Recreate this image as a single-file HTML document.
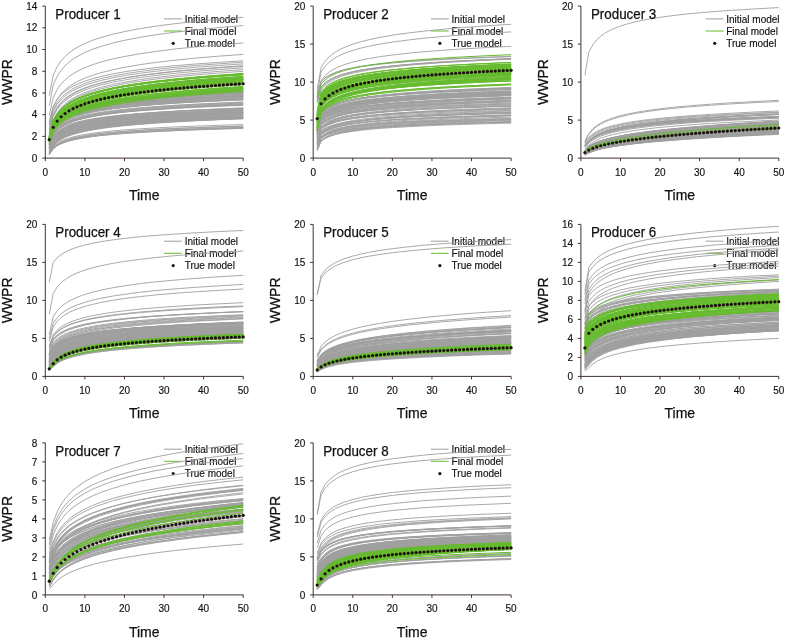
<!DOCTYPE html>
<html><head><meta charset="utf-8"><title>WWPR</title>
<style>html,body{margin:0;padding:0;background:#fff;overflow:hidden;}svg{display:block;}</style>
</head><body>
<svg width="785" height="641" viewBox="0 0 785 641">
<rect width="785" height="641" fill="#fff"/>
<g font-family="Liberation Sans, Arial, sans-serif" font-size="10" fill="#111" stroke="#111" stroke-width="0.15">
<text x="184.7" y="23.0">Initial model</text>
<text x="184.7" y="35.0">Final model</text>
<text x="184.7" y="47.0">True model</text>
</g>
<line x1="164.0" y1="18.9" x2="181.8" y2="18.9" stroke="#9f9f9f" stroke-width="1"/>
<line x1="164.0" y1="31.0" x2="181.8" y2="31.0" stroke="#66bb2e" stroke-width="1"/>
<circle cx="173.2" cy="43.3" r="1.6" fill="#1c1010"/>
<g fill="none" stroke="#9f9f9f" stroke-width="0.9">
<polyline points="49.3,154.2 53.2,148.3 57.2,145.3 61.1,143.3 65.1,141.7 69.0,140.5 73.0,139.5 77.0,138.6 84.9,137.2 92.8,136.0 100.7,135.1 112.6,133.9 124.5,133.0 140.3,131.9 156.1,131.0 175.9,130.1 195.7,129.3 219.5,128.6 243.2,127.9"/>
<polyline points="49.3,153.8 53.2,147.3 57.2,144.1 61.1,141.9 65.1,140.3 69.0,139.0 73.0,137.9 77.0,137.0 84.9,135.5 92.8,134.3 100.7,133.4 112.6,132.2 124.5,131.2 140.3,130.1 156.1,129.2 175.9,128.3 195.7,127.5 219.5,126.7 243.2,126.0"/>
<polyline points="49.3,154.7 53.2,148.7 57.2,145.7 61.1,143.6 65.1,142.1 69.0,140.8 73.0,139.8 77.0,138.9 84.9,137.5 92.8,136.3 100.7,135.4 112.6,134.2 124.5,133.2 140.3,132.2 156.1,131.3 175.9,130.3 195.7,129.6 219.5,128.8 243.2,128.1"/>
<polyline points="49.3,153.6 53.2,146.7 57.2,143.3 61.1,141.1 65.1,139.4 69.0,138.0 73.0,136.9 77.0,136.0 84.9,134.4 92.8,133.2 100.7,132.2 112.6,130.9 124.5,129.9 140.3,128.8 156.1,127.9 175.9,126.9 195.7,126.1 219.5,125.3 243.2,124.6"/>
<polyline points="49.3,154.0 53.2,147.8 57.2,144.9 61.1,142.8 65.1,141.3 69.0,140.1 73.0,139.0 77.0,138.2 84.9,136.7 92.8,135.6 100.7,134.6 112.6,133.5 124.5,132.5 140.3,131.4 156.1,130.6 175.9,129.6 195.7,128.9 219.5,128.1 243.2,127.4"/>
<polyline points="49.3,154.5 53.2,148.7 57.2,145.7 61.1,143.7 65.1,142.2 69.0,141.0 73.0,140.0 77.0,139.1 84.9,137.7 92.8,136.5 100.7,135.6 112.6,134.5 124.5,133.5 140.3,132.5 156.1,131.6 175.9,130.7 195.7,129.9 219.5,129.1 243.2,128.4"/>
<polyline points="49.3,154.3 53.2,148.7 57.2,145.6 61.1,143.4 65.1,141.8 69.0,140.6 73.0,139.5 77.0,138.6 84.9,137.1 92.8,135.9 100.7,134.9 112.6,133.7 124.5,132.7 140.3,131.6 156.1,130.7 175.9,129.8 195.7,129.0 219.5,128.1 243.2,127.4"/>
<polyline points="49.3,153.9 53.2,147.8 57.2,144.6 61.1,142.4 65.1,140.8 69.0,139.5 73.0,138.4 77.0,137.5 84.9,136.0 92.8,134.8 100.7,133.8 112.6,132.6 124.5,131.6 140.3,130.5 156.1,129.6 175.9,128.6 195.7,127.8 219.5,127.0 243.2,126.3"/>
<polyline points="49.3,148.1 53.2,140.4 57.2,136.5 61.1,133.8 65.1,131.8 69.0,130.1 73.0,128.8 77.0,127.6 84.9,125.7 92.8,124.2 100.7,122.9 112.6,121.3 124.5,120.0 140.3,118.6 156.1,117.4 175.9,116.1 195.7,115.0 219.5,113.9 243.2,113.0"/>
<polyline points="49.3,137.2 53.2,126.3 57.2,121.7 61.1,118.6 65.1,116.2 69.0,114.3 73.0,112.8 77.0,111.5 84.9,109.3 92.8,107.6 100.7,106.2 112.6,104.4 124.5,103.0 140.3,101.4 156.1,100.1 175.9,98.7 195.7,97.6 219.5,96.4 243.2,95.4"/>
<polyline points="49.3,132.9 53.2,122.4 57.2,117.6 61.1,114.4 65.1,112.0 69.0,110.1 73.0,108.5 77.0,107.1 84.9,105.0 92.8,103.2 100.7,101.8 112.6,100.0 124.5,98.6 140.3,97.0 156.1,95.7 175.9,94.3 195.7,93.2 219.5,92.0 243.2,91.0"/>
<polyline points="49.3,138.3 53.2,127.8 57.2,123.5 61.1,120.5 65.1,118.3 69.0,116.5 73.0,115.0 77.0,113.8 84.9,111.8 92.8,110.2 100.7,108.8 112.6,107.2 124.5,105.8 140.3,104.3 156.1,103.1 175.9,101.8 195.7,100.7 219.5,99.7 243.2,98.7"/>
<polyline points="49.3,136.7 53.2,126.5 57.2,121.8 61.1,118.6 65.1,116.2 69.0,114.4 73.0,112.8 77.0,111.5 84.9,109.3 92.8,107.6 100.7,106.2 112.6,104.5 124.5,103.0 140.3,101.5 156.1,100.2 175.9,98.9 195.7,97.7 219.5,96.6 243.2,95.6"/>
<polyline points="49.3,134.9 53.2,124.3 57.2,119.7 61.1,116.6 65.1,114.3 69.0,112.4 73.0,110.9 77.0,109.6 84.9,107.5 92.8,105.8 100.7,104.5 112.6,102.8 124.5,101.4 140.3,99.9 156.1,98.6 175.9,97.3 195.7,96.2 219.5,95.1 243.2,94.1"/>
<polyline points="49.3,152.4 53.2,144.6 57.2,140.8 61.1,138.2 65.1,136.3 69.0,134.7 73.0,133.4 77.0,132.3 84.9,130.4 92.8,129.0 100.7,127.7 112.6,126.2 124.5,125.0 140.3,123.6 156.1,122.4 175.9,121.2 195.7,120.2 219.5,119.2 243.2,118.2"/>
<polyline points="49.3,148.4 53.2,140.5 57.2,136.7 61.1,134.1 65.1,132.1 69.0,130.5 73.0,129.2 77.0,128.1 84.9,126.3 92.8,124.8 100.7,123.6 112.6,122.1 124.5,120.8 140.3,119.5 156.1,118.4 175.9,117.2 195.7,116.2 219.5,115.2 243.2,114.3"/>
<polyline points="49.3,145.6 53.2,136.9 57.2,132.7 61.1,129.8 65.1,127.7 69.0,126.0 73.0,124.5 77.0,123.3 84.9,121.4 92.8,119.8 100.7,118.5 112.6,116.9 124.5,115.5 140.3,114.1 156.1,112.9 175.9,111.6 195.7,110.6 219.5,109.5 243.2,108.6"/>
<polyline points="49.3,143.4 53.2,134.0 57.2,129.7 61.1,126.8 65.1,124.5 69.0,122.8 73.0,121.3 77.0,120.0 84.9,118.0 92.8,116.3 100.7,114.9 112.6,113.2 124.5,111.8 140.3,110.3 156.1,109.0 175.9,107.7 195.7,106.6 219.5,105.4 243.2,104.4"/>
<polyline points="49.3,149.7 53.2,142.3 57.2,138.8 61.1,136.4 65.1,134.5 69.0,133.1 73.0,131.9 77.0,130.8 84.9,129.1 92.8,127.8 100.7,126.7 112.6,125.3 124.5,124.1 140.3,122.9 156.1,121.8 175.9,120.7 195.7,119.8 219.5,118.8 243.2,118.0"/>
<polyline points="49.3,146.8 53.2,137.7 57.2,133.2 61.1,130.2 65.1,127.9 69.0,126.1 73.0,124.6 77.0,123.4 84.9,121.3 92.8,119.7 100.7,118.3 112.6,116.6 124.5,115.2 140.3,113.7 156.1,112.5 175.9,111.2 195.7,110.1 219.5,109.0 243.2,108.0"/>
<polyline points="49.3,138.4 53.2,127.6 57.2,123.0 61.1,120.0 65.1,117.7 69.0,115.8 73.0,114.3 77.0,113.0 84.9,110.9 92.8,109.2 100.7,107.9 112.6,106.1 124.5,104.7 140.3,103.2 156.1,101.9 175.9,100.6 195.7,99.4 219.5,98.3 243.2,97.3"/>
<polyline points="49.3,140.4 53.2,131.7 57.2,127.7 61.1,125.0 65.1,122.9 69.0,121.3 73.0,119.9 77.0,118.8 84.9,116.9 92.8,115.4 100.7,114.1 112.6,112.6 124.5,111.3 140.3,109.9 156.1,108.8 175.9,107.6 195.7,106.5 219.5,105.5 243.2,104.6"/>
<polyline points="49.3,146.8 53.2,138.2 57.2,134.4 61.1,131.8 65.1,129.8 69.0,128.2 73.0,126.9 77.0,125.7 84.9,123.9 92.8,122.4 100.7,121.2 112.6,119.6 124.5,118.4 140.3,117.0 156.1,115.8 175.9,114.6 195.7,113.5 219.5,112.5 243.2,111.6"/>
<polyline points="49.3,136.7 53.2,126.1 57.2,121.6 61.1,118.6 65.1,116.4 69.0,114.6 73.0,113.1 77.0,111.9 84.9,109.9 92.8,108.2 100.7,106.9 112.6,105.3 124.5,103.9 140.3,102.5 156.1,101.3 175.9,100.0 195.7,98.9 219.5,97.9 243.2,96.9"/>
<polyline points="49.3,137.9 53.2,127.2 57.2,122.5 61.1,119.4 65.1,117.0 69.0,115.1 73.0,113.6 77.0,112.2 84.9,110.1 92.8,108.3 100.7,106.9 112.6,105.2 124.5,103.7 140.3,102.2 156.1,100.9 175.9,99.5 195.7,98.4 219.5,97.2 243.2,96.2"/>
<polyline points="49.3,148.5 53.2,141.7 57.2,138.3 61.1,135.9 65.1,134.1 69.0,132.7 73.0,131.5 77.0,130.5 84.9,128.8 92.8,127.5 100.7,126.3 112.6,124.9 124.5,123.8 140.3,122.5 156.1,121.5 175.9,120.4 195.7,119.4 219.5,118.5 243.2,117.6"/>
<polyline points="49.3,143.2 53.2,134.2 57.2,129.8 61.1,126.9 65.1,124.7 69.0,122.9 73.0,121.5 77.0,120.2 84.9,118.2 92.8,116.5 100.7,115.2 112.6,113.5 124.5,112.1 140.3,110.6 156.1,109.4 175.9,108.1 195.7,107.0 219.5,105.8 243.2,104.9"/>
<polyline points="49.3,141.8 53.2,132.5 57.2,128.3 61.1,125.4 65.1,123.2 69.0,121.5 73.0,120.1 77.0,118.8 84.9,116.8 92.8,115.2 100.7,113.9 112.6,112.3 124.5,111.0 140.3,109.5 156.1,108.3 175.9,107.0 195.7,105.9 219.5,104.9 243.2,103.9"/>
<polyline points="49.3,152.6 53.2,145.5 57.2,141.6 61.1,138.9 65.1,136.9 69.0,135.3 73.0,133.9 77.0,132.8 84.9,130.9 92.8,129.4 100.7,128.1 112.6,126.6 124.5,125.3 140.3,123.9 156.1,122.7 175.9,121.5 195.7,120.4 219.5,119.4 243.2,118.4"/>
<polyline points="49.3,135.5 53.2,124.6 57.2,120.0 61.1,116.9 65.1,114.6 69.0,112.8 73.0,111.3 77.0,110.0 84.9,107.9 92.8,106.3 100.7,104.9 112.6,103.2 124.5,101.9 140.3,100.4 156.1,99.1 175.9,97.8 195.7,96.8 219.5,95.7 243.2,94.7"/>
<polyline points="49.3,145.4 53.2,137.5 57.2,133.9 61.1,131.4 65.1,129.5 69.0,127.9 73.0,126.7 77.0,125.6 84.9,123.8 92.8,122.4 100.7,121.2 112.6,119.7 124.5,118.5 140.3,117.1 156.1,116.0 175.9,114.8 195.7,113.9 219.5,112.8 243.2,112.0"/>
<polyline points="49.3,153.9 53.2,146.0 57.2,142.1 61.1,139.5 65.1,137.5 69.0,135.8 73.0,134.5 77.0,133.3 84.9,131.4 92.8,129.9 100.7,128.6 112.6,127.0 124.5,125.7 140.3,124.3 156.1,123.1 175.9,121.9 195.7,120.8 219.5,119.7 243.2,118.8"/>
<polyline points="49.3,149.0 53.2,141.9 57.2,138.2 61.1,135.7 65.1,133.8 69.0,132.3 73.0,131.0 77.0,129.9 84.9,128.1 92.8,126.7 100.7,125.4 112.6,124.0 124.5,122.7 140.3,121.4 156.1,120.2 175.9,119.0 195.7,118.0 219.5,117.0 243.2,116.1"/>
<polyline points="49.3,148.7 53.2,141.5 57.2,137.6 61.1,135.0 65.1,133.0 69.0,131.4 73.0,130.0 77.0,128.9 84.9,127.0 92.8,125.5 100.7,124.3 112.6,122.8 124.5,121.5 140.3,120.1 156.1,118.9 175.9,117.7 195.7,116.7 219.5,115.6 243.2,114.7"/>
<polyline points="49.3,139.9 53.2,129.9 57.2,125.3 61.1,122.1 65.1,119.8 69.0,117.9 73.0,116.3 77.0,115.0 84.9,112.8 92.8,111.1 100.7,109.7 112.6,108.0 124.5,106.5 140.3,104.9 156.1,103.7 175.9,102.3 195.7,101.2 219.5,100.0 243.2,99.0"/>
<polyline points="49.3,151.8 53.2,144.6 57.2,140.9 61.1,138.4 65.1,136.5 69.0,134.9 73.0,133.6 77.0,132.5 84.9,130.7 92.8,129.2 100.7,128.0 112.6,126.5 124.5,125.3 140.3,123.9 156.1,122.7 175.9,121.5 195.7,120.5 219.5,119.5 243.2,118.6"/>
<polyline points="49.3,147.5 53.2,140.5 57.2,137.0 61.1,134.7 65.1,132.8 69.0,131.4 73.0,130.2 77.0,129.1 84.9,127.4 92.8,126.1 100.7,124.9 112.6,123.5 124.5,122.4 140.3,121.1 156.1,120.0 175.9,118.9 195.7,117.9 219.5,117.0 243.2,116.1"/>
<polyline points="49.3,139.6 53.2,131.0 57.2,126.8 61.1,123.9 65.1,121.7 69.0,119.9 73.0,118.5 77.0,117.2 84.9,115.2 92.8,113.6 100.7,112.3 112.6,110.6 124.5,109.2 140.3,107.7 156.1,106.5 175.9,105.2 195.7,104.1 219.5,103.0 243.2,102.0"/>
<polyline points="49.3,147.9 53.2,140.9 57.2,137.1 61.1,134.5 65.1,132.6 69.0,131.0 73.0,129.8 77.0,128.6 84.9,126.8 92.8,125.4 100.7,124.2 112.6,122.7 124.5,121.5 140.3,120.2 156.1,119.1 175.9,117.9 195.7,116.9 219.5,115.9 243.2,115.1"/>
<polyline points="49.3,139.9 53.2,130.4 57.2,125.7 61.1,122.6 65.1,120.2 69.0,118.4 73.0,116.8 77.0,115.5 84.9,113.4 92.8,111.7 100.7,110.3 112.6,108.6 124.5,107.2 140.3,105.7 156.1,104.4 175.9,103.1 195.7,102.0 219.5,100.9 243.2,99.9"/>
<polyline points="49.3,138.1 53.2,127.9 57.2,123.1 61.1,119.9 65.1,117.5 69.0,115.6 73.0,114.0 77.0,112.7 84.9,110.5 92.8,108.7 100.7,107.3 112.6,105.5 124.5,104.1 140.3,102.5 156.1,101.2 175.9,99.8 195.7,98.7 219.5,97.5 243.2,96.5"/>
<polyline points="49.3,144.5 53.2,136.1 57.2,132.0 61.1,129.1 65.1,127.0 69.0,125.3 73.0,123.9 77.0,122.7 84.9,120.7 92.8,119.2 100.7,117.9 112.6,116.3 124.5,114.9 140.3,113.5 156.1,112.3 175.9,111.1 195.7,110.0 219.5,108.9 243.2,108.0"/>
<polyline points="49.3,151.7 53.2,143.7 57.2,139.9 61.1,137.2 65.1,135.3 69.0,133.7 73.0,132.4 77.0,131.3 84.9,129.5 92.8,128.0 100.7,126.8 112.6,125.3 124.5,124.1 140.3,122.7 156.1,121.6 175.9,120.4 195.7,119.4 219.5,118.4 243.2,117.6"/>
<polyline points="49.3,144.4 53.2,136.8 57.2,132.9 61.1,130.2 65.1,128.2 69.0,126.6 73.0,125.3 77.0,124.2 84.9,122.3 92.8,120.9 100.7,119.7 112.6,118.2 124.5,117.0 140.3,115.6 156.1,114.5 175.9,113.3 195.7,112.4 219.5,111.4 243.2,110.5"/>
<polyline points="49.3,139.6 53.2,129.5 57.2,124.8 61.1,121.7 65.1,119.3 69.0,117.4 73.0,115.8 77.0,114.5 84.9,112.3 92.8,110.6 100.7,109.1 112.6,107.3 124.5,105.8 140.3,104.2 156.1,102.9 175.9,101.5 195.7,100.3 219.5,99.1 243.2,98.1"/>
<polyline points="49.3,139.4 53.2,127.3 57.2,122.2 61.1,118.7 65.1,116.2 69.0,114.1 73.0,112.5 77.0,111.0 84.9,108.7 92.8,106.9 100.7,105.4 112.6,103.6 124.5,102.1 140.3,100.4 156.1,99.1 175.9,97.6 195.7,96.5 219.5,95.3 243.2,94.2"/>
<polyline points="49.3,143.8 53.2,133.4 57.2,128.8 61.1,125.7 65.1,123.3 69.0,121.5 73.0,119.9 77.0,118.6 84.9,116.5 92.8,114.8 100.7,113.4 112.6,111.7 124.5,110.3 140.3,108.8 156.1,107.5 175.9,106.2 195.7,105.1 219.5,104.0 243.2,103.0"/>
<polyline points="49.3,139.7 53.2,129.8 57.2,125.2 61.1,122.1 65.1,119.8 69.0,117.9 73.0,116.4 77.0,115.1 84.9,112.9 92.8,111.3 100.7,109.8 112.6,108.1 124.5,106.7 140.3,105.1 156.1,103.8 175.9,102.5 195.7,101.4 219.5,100.2 243.2,99.2"/>
<polyline points="49.3,147.1 53.2,139.6 57.2,135.8 61.1,133.2 65.1,131.3 69.0,129.7 73.0,128.4 77.0,127.3 84.9,125.5 92.8,124.0 100.7,122.8 112.6,121.3 124.5,120.0 140.3,118.7 156.1,117.5 175.9,116.3 195.7,115.3 219.5,114.3 243.2,113.4"/>
<polyline points="49.3,148.9 53.2,141.9 57.2,138.2 61.1,135.6 65.1,133.7 69.0,132.2 73.0,130.9 77.0,129.8 84.9,128.0 92.8,126.6 100.7,125.4 112.6,123.9 124.5,122.7 140.3,121.4 156.1,120.3 175.9,119.1 195.7,118.1 219.5,117.1 243.2,116.3"/>
<polyline points="49.3,144.0 53.2,135.7 57.2,132.0 61.1,129.5 65.1,127.5 69.0,126.0 73.0,124.7 77.0,123.6 84.9,121.8 92.8,120.4 100.7,119.2 112.6,117.7 124.5,116.5 140.3,115.2 156.1,114.0 175.9,112.9 195.7,111.9 219.5,110.9 243.2,110.0"/>
<polyline points="49.3,149.1 53.2,140.5 57.2,136.6 61.1,133.8 65.1,131.8 69.0,130.2 73.0,128.8 77.0,127.7 84.9,125.8 92.8,124.3 100.7,123.0 112.6,121.5 124.5,120.2 140.3,118.8 156.1,117.7 175.9,116.5 195.7,115.5 219.5,114.4 243.2,113.5"/>
<polyline points="49.3,147.5 53.2,138.4 57.2,134.2 61.1,131.2 65.1,129.0 69.0,127.3 73.0,125.8 77.0,124.6 84.9,122.6 92.8,121.0 100.7,119.7 112.6,118.0 124.5,116.7 140.3,115.2 156.1,114.0 175.9,112.7 195.7,111.6 219.5,110.5 243.2,109.6"/>
<polyline points="49.3,136.8 53.2,124.8 57.2,119.9 61.1,116.5 65.1,114.1 69.0,112.1 73.0,110.5 77.0,109.1 84.9,106.9 92.8,105.1 100.7,103.6 112.6,101.8 124.5,100.4 140.3,98.8 156.1,97.4 175.9,96.1 195.7,94.9 219.5,93.7 243.2,92.7"/>
<polyline points="49.3,140.7 53.2,132.6 57.2,128.5 61.1,125.8 65.1,123.7 69.0,122.1 73.0,120.7 77.0,119.5 84.9,117.6 92.8,116.1 100.7,114.9 112.6,113.3 124.5,112.1 140.3,110.7 156.1,109.6 175.9,108.4 195.7,107.4 219.5,106.3 243.2,105.4"/>
<polyline points="49.3,151.9 53.2,143.8 57.2,139.9 61.1,137.3 65.1,135.3 69.0,133.7 73.0,132.3 77.0,131.2 84.9,129.3 92.8,127.8 100.7,126.5 112.6,125.0 124.5,123.7 140.3,122.3 156.1,121.1 175.9,119.9 195.7,118.8 219.5,117.7 243.2,116.8"/>
<polyline points="49.3,138.3 53.2,127.6 57.2,123.1 61.1,120.1 65.1,117.8 69.0,115.9 73.0,114.4 77.0,113.2 84.9,111.1 92.8,109.4 100.7,108.0 112.6,106.3 124.5,104.9 140.3,103.4 156.1,102.2 175.9,100.8 195.7,99.7 219.5,98.6 243.2,97.6"/>
<polyline points="49.3,147.0 53.2,137.9 57.2,133.7 61.1,130.8 65.1,128.7 69.0,127.0 73.0,125.6 77.0,124.4 84.9,122.4 92.8,120.8 100.7,119.5 112.6,117.9 124.5,116.6 140.3,115.1 156.1,113.9 175.9,112.6 195.7,111.6 219.5,110.5 243.2,109.6"/>
<polyline points="49.3,133.4 53.2,123.1 57.2,118.4 61.1,115.2 65.1,112.8 69.0,110.9 73.0,109.3 77.0,108.0 84.9,105.8 92.8,104.1 100.7,102.7 112.6,100.9 124.5,99.5 140.3,98.0 156.1,96.7 175.9,95.3 195.7,94.2 219.5,93.1 243.2,92.1"/>
<polyline points="49.3,152.3 53.2,144.9 57.2,140.7 61.1,137.8 65.1,135.6 69.0,133.9 73.0,132.5 77.0,131.3 84.9,129.3 92.8,127.7 100.7,126.4 112.6,124.7 124.5,123.4 140.3,121.9 156.1,120.7 175.9,119.4 195.7,118.3 219.5,117.2 243.2,116.3"/>
<polyline points="49.3,136.5 53.2,126.7 57.2,122.1 61.1,119.1 65.1,116.8 69.0,115.0 73.0,113.5 77.0,112.2 84.9,110.1 92.8,108.4 100.7,107.1 112.6,105.4 124.5,104.0 140.3,102.5 156.1,101.3 175.9,100.0 195.7,98.9 219.5,97.8 243.2,96.8"/>
<polyline points="49.3,139.1 53.2,128.4 57.2,123.7 61.1,120.5 65.1,118.1 69.0,116.2 73.0,114.6 77.0,113.3 84.9,111.1 92.8,109.4 100.7,107.9 112.6,106.1 124.5,104.7 140.3,103.1 156.1,101.8 175.9,100.4 195.7,99.2 219.5,98.0 243.2,97.0"/>
<polyline points="49.3,151.5 53.2,143.4 57.2,139.6 61.1,137.0 65.1,135.0 69.0,133.4 73.0,132.1 77.0,130.9 84.9,129.1 92.8,127.6 100.7,126.4 112.6,124.8 124.5,123.6 140.3,122.2 156.1,121.1 175.9,119.9 195.7,118.8 219.5,117.8 243.2,116.9"/>
<polyline points="49.3,136.3 53.2,125.3 57.2,120.3 61.1,117.0 65.1,114.5 69.0,112.5 73.0,110.8 77.0,109.4 84.9,107.2 92.8,105.4 100.7,103.9 112.6,102.1 124.5,100.6 140.3,99.0 156.1,97.7 175.9,96.3 195.7,95.1 219.5,93.9 243.2,92.9"/>
<polyline points="49.3,140.4 53.2,128.7 57.2,123.8 61.1,120.5 65.1,118.0 69.0,116.0 73.0,114.3 77.0,112.9 84.9,110.6 92.8,108.7 100.7,107.2 112.6,105.3 124.5,103.8 140.3,102.1 156.1,100.7 175.9,99.3 195.7,98.0 219.5,96.8 243.2,95.7"/>
<polyline points="49.3,147.5 53.2,140.9 57.2,137.4 61.1,134.9 65.1,133.1 69.0,131.6 73.0,130.3 77.0,129.3 84.9,127.5 92.8,126.1 100.7,125.0 112.6,123.5 124.5,122.3 140.3,121.0 156.1,119.9 175.9,118.8 195.7,117.8 219.5,116.8 243.2,116.0"/>
<polyline points="49.3,135.5 53.2,124.3 57.2,119.3 61.1,115.9 65.1,113.4 69.0,111.4 73.0,109.7 77.0,108.3 84.9,106.0 92.8,104.1 100.7,102.6 112.6,100.7 124.5,99.2 140.3,97.5 156.1,96.1 175.9,94.7 195.7,93.4 219.5,92.2 243.2,91.1"/>
<polyline points="49.3,146.1 53.2,138.9 57.2,134.9 61.1,132.3 65.1,130.3 69.0,128.6 73.0,127.3 77.0,126.2 84.9,124.3 92.8,122.9 100.7,121.6 112.6,120.1 124.5,118.9 140.3,117.5 156.1,116.4 175.9,115.2 195.7,114.2 219.5,113.2 243.2,112.4"/>
<polyline points="49.3,142.6 53.2,134.2 57.2,130.4 61.1,127.8 65.1,125.9 69.0,124.4 73.0,123.1 77.0,122.0 84.9,120.2 92.8,118.8 100.7,117.6 112.6,116.1 124.5,114.9 140.3,113.6 156.1,112.5 175.9,111.3 195.7,110.3 219.5,109.3 243.2,108.5"/>
<polyline points="49.3,147.4 53.2,139.8 57.2,135.7 61.1,132.9 65.1,130.8 69.0,129.2 73.0,127.8 77.0,126.6 84.9,124.6 92.8,123.1 100.7,121.8 112.6,120.2 124.5,118.9 140.3,117.5 156.1,116.3 175.9,115.1 195.7,114.0 219.5,112.9 243.2,112.0"/>
<polyline points="49.3,153.6 53.2,145.3 57.2,141.4 61.1,138.8 65.1,136.7 69.0,135.1 73.0,133.8 77.0,132.6 84.9,130.7 92.8,129.2 100.7,127.9 112.6,126.3 124.5,125.1 140.3,123.6 156.1,122.4 175.9,121.2 195.7,120.1 219.5,119.0 243.2,118.1"/>
<polyline points="49.3,141.8 53.2,132.4 57.2,128.0 61.1,125.0 65.1,122.7 69.0,120.9 73.0,119.4 77.0,118.1 84.9,116.0 92.8,114.3 100.7,112.9 112.6,111.2 124.5,109.8 140.3,108.2 156.1,106.9 175.9,105.6 195.7,104.4 219.5,103.3 243.2,102.3"/>
<polyline points="49.3,133.7 53.2,122.5 57.2,118.2 61.1,115.2 65.1,113.0 69.0,111.2 73.0,109.7 77.0,108.4 84.9,106.4 92.8,104.8 100.7,103.4 112.6,101.8 124.5,100.4 140.3,98.9 156.1,97.7 175.9,96.4 195.7,95.3 219.5,94.2 243.2,93.2"/>
<polyline points="49.3,147.3 53.2,139.0 57.2,135.2 61.1,132.7 65.1,130.7 69.0,129.1 73.0,127.9 77.0,126.8 84.9,124.9 92.8,123.5 100.7,122.3 112.6,120.8 124.5,119.6 140.3,118.3 156.1,117.1 175.9,116.0 195.7,115.0 219.5,114.0 243.2,113.1"/>
<polyline points="49.3,139.1 53.2,129.6 57.2,125.1 61.1,122.1 65.1,119.8 69.0,117.9 73.0,116.4 77.0,115.2 84.9,113.1 92.8,111.4 100.7,110.0 112.6,108.3 124.5,106.9 140.3,105.4 156.1,104.2 175.9,102.9 195.7,101.7 219.5,100.6 243.2,99.7"/>
<polyline points="49.3,147.8 53.2,139.7 57.2,135.5 61.1,132.6 65.1,130.4 69.0,128.6 73.0,127.2 77.0,125.9 84.9,123.9 92.8,122.2 100.7,120.9 112.6,119.2 124.5,117.8 140.3,116.3 156.1,115.1 175.9,113.7 195.7,112.6 219.5,111.5 243.2,110.5"/>
<polyline points="49.3,135.4 53.2,123.6 57.2,118.6 61.1,115.3 65.1,112.8 69.0,110.8 73.0,109.1 77.0,107.8 84.9,105.5 92.8,103.7 100.7,102.2 112.6,100.4 124.5,98.9 140.3,97.3 156.1,96.0 175.9,94.6 195.7,93.5 219.5,92.3 243.2,91.3"/>
<polyline points="49.3,136.4 53.2,125.2 57.2,120.3 61.1,116.9 65.1,114.4 69.0,112.4 73.0,110.8 77.0,109.4 84.9,107.1 92.8,105.2 100.7,103.7 112.6,101.9 124.5,100.4 140.3,98.7 156.1,97.4 175.9,95.9 195.7,94.7 219.5,93.5 243.2,92.5"/>
<polyline points="49.3,144.3 53.2,136.0 57.2,132.2 61.1,129.7 65.1,127.8 69.0,126.2 73.0,124.9 77.0,123.8 84.9,122.0 92.8,120.6 100.7,119.4 112.6,117.9 124.5,116.7 140.3,115.4 156.1,114.2 175.9,113.1 195.7,112.1 219.5,111.1 243.2,110.2"/>
<polyline points="49.3,145.7 53.2,137.3 57.2,133.2 61.1,130.4 65.1,128.4 69.0,126.7 73.0,125.3 77.0,124.1 84.9,122.2 92.8,120.7 100.7,119.4 112.6,117.8 124.5,116.5 140.3,115.1 156.1,114.0 175.9,112.7 195.7,111.7 219.5,110.6 243.2,109.7"/>
<polyline points="49.3,150.1 53.2,141.8 57.2,137.6 61.1,134.7 65.1,132.5 69.0,130.7 73.0,129.2 77.0,128.0 84.9,125.9 92.8,124.3 100.7,122.9 112.6,121.2 124.5,119.8 140.3,118.2 156.1,116.9 175.9,115.6 195.7,114.4 219.5,113.3 243.2,112.3"/>
<polyline points="49.3,144.7 53.2,135.3 57.2,130.5 61.1,127.3 65.1,124.9 69.0,123.0 73.0,121.4 77.0,120.0 84.9,117.8 92.8,116.0 100.7,114.6 112.6,112.8 124.5,111.3 140.3,109.7 156.1,108.4 175.9,107.0 195.7,105.8 219.5,104.6 243.2,103.6"/>
<polyline points="49.3,145.0 53.2,137.2 57.2,133.3 61.1,130.7 65.1,128.7 69.0,127.1 73.0,125.8 77.0,124.6 84.9,122.8 92.8,121.3 100.7,120.1 112.6,118.6 124.5,117.4 140.3,116.1 156.1,115.0 175.9,113.8 195.7,112.8 219.5,111.8 243.2,111.0"/>
<polyline points="49.3,148.9 53.2,141.0 57.2,137.3 61.1,134.7 65.1,132.8 69.0,131.2 73.0,129.9 77.0,128.8 84.9,127.0 92.8,125.5 100.7,124.3 112.6,122.8 124.5,121.5 140.3,120.2 156.1,119.0 175.9,117.8 195.7,116.8 219.5,115.7 243.2,114.8"/>
<polyline points="49.3,137.5 53.2,125.3 57.2,120.1 61.1,116.7 65.1,114.1 69.0,112.1 73.0,110.4 77.0,109.0 84.9,106.7 92.8,104.8 100.7,103.3 112.6,101.5 124.5,100.0 140.3,98.4 156.1,97.0 175.9,95.6 195.7,94.4 219.5,93.2 243.2,92.2"/>
<polyline points="49.3,138.8 53.2,128.4 57.2,123.5 61.1,120.1 65.1,117.6 69.0,115.6 73.0,114.0 77.0,112.6 84.9,110.3 92.8,108.5 100.7,107.1 112.6,105.2 124.5,103.7 140.3,102.1 156.1,100.7 175.9,99.3 195.7,98.1 219.5,96.9 243.2,95.9"/>
<polyline points="49.3,137.3 53.2,125.3 57.2,120.4 61.1,117.2 65.1,114.7 69.0,112.7 73.0,111.1 77.0,109.8 84.9,107.5 92.8,105.7 100.7,104.2 112.6,102.4 124.5,100.9 140.3,99.3 156.1,97.9 175.9,96.5 195.7,95.3 219.5,94.1 243.2,93.1"/>
<polyline points="49.3,138.9 53.2,127.4 57.2,122.1 61.1,118.6 65.1,115.9 69.0,113.8 73.0,112.1 77.0,110.6 84.9,108.3 92.8,106.4 100.7,104.8 112.6,102.9 124.5,101.4 140.3,99.7 156.1,98.3 175.9,96.8 195.7,95.6 219.5,94.4 243.2,93.3"/>
<polyline points="49.3,135.8 53.2,125.4 57.2,120.9 61.1,117.9 65.1,115.7 69.0,113.9 73.0,112.5 77.0,111.2 84.9,109.2 92.8,107.6 100.7,106.3 112.6,104.6 124.5,103.3 140.3,101.9 156.1,100.7 175.9,99.4 195.7,98.4 219.5,97.3 243.2,96.4"/>
<polyline points="49.3,141.8 53.2,131.4 57.2,126.7 61.1,123.5 65.1,121.1 69.0,119.2 73.0,117.6 77.0,116.2 84.9,114.0 92.8,112.2 100.7,110.8 112.6,108.9 124.5,107.5 140.3,105.8 156.1,104.5 175.9,103.1 195.7,101.9 219.5,100.7 243.2,99.6"/>
<polyline points="49.3,125.6 53.2,111.3 57.2,104.3 61.1,99.5 65.1,95.9 69.0,93.0 73.0,90.6 77.0,88.6 84.9,85.3 92.8,82.7 100.7,80.5 112.6,77.8 124.5,75.6 140.3,73.2 156.1,71.2 175.9,69.1 195.7,67.3 219.5,65.5 243.2,63.9"/>
<polyline points="49.3,121.5 53.2,106.5 57.2,99.5 61.1,94.8 65.1,91.3 69.0,88.5 73.0,86.2 77.0,84.3 84.9,81.1 92.8,78.6 100.7,76.5 112.6,73.9 124.5,71.8 140.3,69.5 156.1,67.6 175.9,65.6 195.7,64.0 219.5,62.3 243.2,60.8"/>
<polyline points="49.3,124.7 53.2,109.7 57.2,102.5 61.1,97.7 65.1,94.1 69.0,91.2 73.0,88.8 77.0,86.8 84.9,83.4 92.8,80.8 100.7,78.6 112.6,76.0 124.5,73.8 140.3,71.4 156.1,69.4 175.9,67.3 195.7,65.5 219.5,63.8 243.2,62.2"/>
<polyline points="49.3,134.9 53.2,120.2 57.2,112.8 61.1,107.7 65.1,103.8 69.0,100.8 73.0,98.3 77.0,96.1 84.9,92.6 92.8,89.8 100.7,87.4 112.6,84.5 124.5,82.2 140.3,79.6 156.1,77.4 175.9,75.2 195.7,73.3 219.5,71.3 243.2,69.7"/>
<polyline points="49.3,130.4 53.2,115.6 57.2,108.2 61.1,103.2 65.1,99.4 69.0,96.4 73.0,93.9 77.0,91.7 84.9,88.3 92.8,85.5 100.7,83.2 112.6,80.4 124.5,78.0 140.3,75.5 156.1,73.4 175.9,71.2 195.7,69.3 219.5,67.4 243.2,65.7"/>
<polyline points="49.3,135.6 53.2,121.2 57.2,113.9 61.1,108.9 65.1,105.1 69.0,102.1 73.0,99.6 77.0,97.5 84.9,94.0 92.8,91.2 100.7,88.9 112.6,86.1 124.5,83.7 140.3,81.2 156.1,79.0 175.9,76.8 195.7,74.9 219.5,73.0 243.2,71.3"/>
<polyline points="49.3,130.2 53.2,116.5 57.2,109.3 61.1,104.5 65.1,100.8 69.0,97.9 73.0,95.4 77.0,93.4 84.9,90.0 92.8,87.3 100.7,85.0 112.6,82.2 124.5,80.0 140.3,77.5 156.1,75.4 175.9,73.2 195.7,71.4 219.5,69.5 243.2,67.9"/>
<polyline points="49.3,128.9 53.2,114.2 57.2,107.1 61.1,102.2 65.1,98.6 69.0,95.7 73.0,93.2 77.0,91.2 84.9,87.9 92.8,85.2 100.7,83.0 112.6,80.3 124.5,78.0 140.3,75.6 156.1,73.6 175.9,71.4 195.7,69.7 219.5,67.8 243.2,66.3"/>
<polyline points="49.3,95.6 53.2,75.2 57.2,66.6 61.1,60.8 65.1,56.4 69.0,52.9 73.0,50.0 77.0,47.5 84.9,43.5 92.8,40.2 100.7,37.6 112.6,34.3 124.5,31.6 140.3,28.6 156.1,26.1 175.9,23.6 195.7,21.4 219.5,19.2 243.2,17.3"/>
<polyline points="49.3,106.0 53.2,85.1 57.2,76.3 61.1,70.3 65.1,65.8 69.0,62.2 73.0,59.2 77.0,56.7 84.9,52.5 92.8,49.2 100.7,46.5 112.6,43.1 124.5,40.3 140.3,37.3 156.1,34.7 175.9,32.1 195.7,29.9 219.5,27.6 243.2,25.6"/>
<polyline points="49.3,115.8 53.2,97.6 57.2,89.5 61.1,84.0 65.1,79.8 69.0,76.5 73.0,73.8 77.0,71.5 84.9,67.7 92.8,64.6 100.7,62.1 112.6,59.0 124.5,56.5 140.3,53.7 156.1,51.4 175.9,48.9 195.7,46.9 219.5,44.8 243.2,43.0"/>
<polyline points="49.3,123.4 53.2,106.8 57.2,99.0 61.1,93.8 65.1,89.8 69.0,86.6 73.0,84.0 77.0,81.7 84.9,78.1 92.8,75.2 100.7,72.8 112.6,69.8 124.5,67.3 140.3,64.6 156.1,62.4 175.9,60.1 195.7,58.1 219.5,56.1 243.2,54.4"/>
</g>
<g fill="none" stroke="#66bb2e" stroke-width="1.0">
<polyline points="49.3,137.9 53.2,123.8 57.2,117.6 61.1,113.4 65.1,110.1 69.0,107.5 73.0,105.3 77.0,103.4 84.9,100.3 92.8,97.8 100.7,95.7 112.6,93.1 124.5,90.9 140.3,88.5 156.1,86.4 175.9,84.3 195.7,82.5 219.5,80.6 243.2,79.0"/>
<polyline points="49.3,140.4 53.2,126.7 57.2,120.7 61.1,116.6 65.1,113.4 69.0,110.9 73.0,108.7 77.0,106.9 84.9,103.8 92.8,101.4 100.7,99.3 112.6,96.7 124.5,94.6 140.3,92.2 156.1,90.2 175.9,88.1 195.7,86.3 219.5,84.4 243.2,82.8"/>
<polyline points="49.3,136.1 53.2,121.0 57.2,114.6 61.1,110.1 65.1,106.7 69.0,104.0 73.0,101.7 77.0,99.8 84.9,96.5 92.8,94.0 100.7,91.8 112.6,89.1 124.5,86.9 140.3,84.5 156.1,82.4 175.9,80.3 195.7,78.5 219.5,76.6 243.2,75.0"/>
<polyline points="49.3,143.5 53.2,131.4 57.2,126.0 61.1,122.2 65.1,119.3 69.0,116.9 73.0,114.9 77.0,113.2 84.9,110.4 92.8,108.1 100.7,106.2 112.6,103.8 124.5,101.8 140.3,99.5 156.1,97.6 175.9,95.6 195.7,93.9 219.5,92.2 243.2,90.7"/>
<polyline points="49.3,141.3 53.2,128.8 57.2,123.5 61.1,119.9 65.1,117.0 69.0,114.7 73.0,112.8 77.0,111.1 84.9,108.3 92.8,106.1 100.7,104.2 112.6,101.8 124.5,99.8 140.3,97.5 156.1,95.7 175.9,93.7 195.7,91.9 219.5,90.2 243.2,88.6"/>
<polyline points="49.3,137.6 53.2,123.4 57.2,117.2 61.1,113.0 65.1,109.7 69.0,107.1 73.0,104.9 77.0,103.0 84.9,99.9 92.8,97.4 100.7,95.3 112.6,92.7 124.5,90.6 140.3,88.2 156.1,86.2 175.9,84.1 195.7,82.3 219.5,80.5 243.2,78.9"/>
<polyline points="49.3,137.9 53.2,122.9 57.2,116.6 61.1,112.2 65.1,108.9 69.0,106.3 73.0,104.1 77.0,102.2 84.9,99.1 92.8,96.5 100.7,94.4 112.6,91.8 124.5,89.7 140.3,87.3 156.1,85.3 175.9,83.3 195.7,81.5 219.5,79.7 243.2,78.1"/>
<polyline points="49.3,136.5 53.2,121.1 57.2,114.6 61.1,110.1 65.1,106.7 69.0,103.9 73.0,101.6 77.0,99.6 84.9,96.3 92.8,93.7 100.7,91.4 112.6,88.7 124.5,86.4 140.3,83.9 156.1,81.8 175.9,79.6 195.7,77.7 219.5,75.7 243.2,74.0"/>
<polyline points="49.3,141.3 53.2,128.6 57.2,123.3 61.1,119.6 65.1,116.7 69.0,114.4 73.0,112.4 77.0,110.7 84.9,107.8 92.8,105.5 100.7,103.6 112.6,101.1 124.5,99.0 140.3,96.7 156.1,94.8 175.9,92.8 195.7,91.0 219.5,89.2 243.2,87.6"/>
<polyline points="49.3,138.0 53.2,123.7 57.2,117.6 61.1,113.4 65.1,110.1 69.0,107.5 73.0,105.3 77.0,103.4 84.9,100.3 92.8,97.8 100.7,95.7 112.6,93.1 124.5,90.9 140.3,88.5 156.1,86.5 175.9,84.4 195.7,82.6 219.5,80.7 243.2,79.1"/>
<polyline points="49.3,141.3 53.2,129.5 57.2,124.0 61.1,120.1 65.1,117.2 69.0,114.8 73.0,112.8 77.0,111.0 84.9,108.2 92.8,105.9 100.7,104.0 112.6,101.5 124.5,99.5 140.3,97.3 156.1,95.4 175.9,93.5 195.7,91.8 219.5,90.0 243.2,88.5"/>
<polyline points="49.3,137.4 53.2,122.6 57.2,116.1 61.1,111.7 65.1,108.3 69.0,105.5 73.0,103.3 77.0,101.3 84.9,98.1 92.8,95.6 100.7,93.4 112.6,90.8 124.5,88.6 140.3,86.2 156.1,84.2 175.9,82.0 195.7,80.2 219.5,78.4 243.2,76.8"/>
<polyline points="49.3,137.4 53.2,121.2 57.2,114.5 61.1,109.9 65.1,106.4 69.0,103.6 73.0,101.2 77.0,99.2 84.9,95.9 92.8,93.3 100.7,91.1 112.6,88.3 124.5,86.1 140.3,83.6 156.1,81.6 175.9,79.4 195.7,77.6 219.5,75.7 243.2,74.0"/>
<polyline points="49.3,138.2 53.2,123.9 57.2,117.7 61.1,113.4 65.1,110.1 69.0,107.5 73.0,105.3 77.0,103.4 84.9,100.3 92.8,97.9 100.7,95.8 112.6,93.2 124.5,91.1 140.3,88.7 156.1,86.7 175.9,84.6 195.7,82.9 219.5,81.1 243.2,79.5"/>
<polyline points="49.3,136.8 53.2,120.7 57.2,114.1 61.1,109.6 65.1,106.2 69.0,103.4 73.0,101.1 77.0,99.1 84.9,95.8 92.8,93.2 100.7,91.0 112.6,88.3 124.5,86.0 140.3,83.5 156.1,81.5 175.9,79.3 195.7,77.4 219.5,75.5 243.2,73.8"/>
<polyline points="49.3,142.2 53.2,130.1 57.2,124.5 61.1,120.6 65.1,117.6 69.0,115.2 73.0,113.2 77.0,111.4 84.9,108.5 92.8,106.2 100.7,104.2 112.6,101.8 124.5,99.7 140.3,97.5 156.1,95.6 175.9,93.6 195.7,91.8 219.5,90.1 243.2,88.5"/>
<polyline points="49.3,137.5 53.2,121.5 57.2,114.8 61.1,110.3 65.1,106.8 69.0,104.0 73.0,101.7 77.0,99.6 84.9,96.3 92.8,93.7 100.7,91.5 112.6,88.7 124.5,86.4 140.3,83.9 156.1,81.8 175.9,79.6 195.7,77.7 219.5,75.7 243.2,74.0"/>
<polyline points="49.3,142.6 53.2,130.5 57.2,125.1 61.1,121.2 65.1,118.3 69.0,115.9 73.0,113.9 77.0,112.2 84.9,109.3 92.8,107.0 100.7,105.1 112.6,102.6 124.5,100.6 140.3,98.3 156.1,96.4 175.9,94.4 195.7,92.7 219.5,90.9 243.2,89.4"/>
<polyline points="49.3,143.5 53.2,131.7 57.2,126.6 61.1,123.0 65.1,120.2 69.0,118.0 73.0,116.0 77.0,114.4 84.9,111.6 92.8,109.3 100.7,107.4 112.6,104.9 124.5,102.9 140.3,100.6 156.1,98.7 175.9,96.7 195.7,94.9 219.5,93.1 243.2,91.5"/>
<polyline points="49.3,138.6 53.2,124.1 57.2,118.2 61.1,114.0 65.1,110.9 69.0,108.3 73.0,106.2 77.0,104.3 84.9,101.3 92.8,98.8 100.7,96.7 112.6,94.1 124.5,92.0 140.3,89.6 156.1,87.5 175.9,85.4 195.7,83.6 219.5,81.7 243.2,80.1"/>
<polyline points="49.3,141.0 53.2,128.3 57.2,122.7 61.1,118.8 65.1,115.8 69.0,113.4 73.0,111.3 77.0,109.6 84.9,106.7 92.8,104.3 100.7,102.3 112.6,99.8 124.5,97.7 140.3,95.4 156.1,93.5 175.9,91.5 195.7,89.7 219.5,87.9 243.2,86.4"/>
<polyline points="49.3,140.9 53.2,128.0 57.2,122.5 61.1,118.6 65.1,115.7 69.0,113.3 73.0,111.3 77.0,109.6 84.9,106.7 92.8,104.4 100.7,102.5 112.6,100.0 124.5,98.0 140.3,95.8 156.1,93.9 175.9,91.9 195.7,90.2 219.5,88.5 243.2,87.0"/>
<polyline points="49.3,136.5 53.2,120.7 57.2,114.0 61.1,109.4 65.1,105.9 69.0,103.1 73.0,100.8 77.0,98.8 84.9,95.5 92.8,92.9 100.7,90.7 112.6,88.0 124.5,85.8 140.3,83.3 156.1,81.2 175.9,79.1 195.7,77.3 219.5,75.4 243.2,73.8"/>
<polyline points="49.3,137.7 53.2,123.0 57.2,116.8 61.1,112.5 65.1,109.2 69.0,106.5 73.0,104.3 77.0,102.4 84.9,99.2 92.8,96.7 100.7,94.5 112.6,91.8 124.5,89.6 140.3,87.2 156.1,85.1 175.9,82.9 195.7,81.1 219.5,79.2 243.2,77.5"/>
<polyline points="49.3,141.5 53.2,129.9 57.2,124.5 61.1,120.8 65.1,117.9 69.0,115.6 73.0,113.6 77.0,111.9 84.9,109.1 92.8,106.9 100.7,104.9 112.6,102.6 124.5,100.6 140.3,98.3 156.1,96.5 175.9,94.5 195.7,92.8 219.5,91.1 243.2,89.6"/>
<polyline points="49.3,138.3 53.2,124.4 57.2,118.5 61.1,114.3 65.1,111.2 69.0,108.7 73.0,106.6 77.0,104.8 84.9,101.8 92.8,99.4 100.7,97.4 112.6,94.9 124.5,92.8 140.3,90.5 156.1,88.6 175.9,86.6 195.7,84.9 219.5,83.1 243.2,81.6"/>
<polyline points="49.3,142.0 53.2,129.7 57.2,124.4 61.1,120.7 65.1,117.9 69.0,115.5 73.0,113.6 77.0,111.9 84.9,109.0 92.8,106.7 100.7,104.8 112.6,102.4 124.5,100.4 140.3,98.1 156.1,96.2 175.9,94.2 195.7,92.4 219.5,90.6 243.2,89.1"/>
<polyline points="49.3,139.9 53.2,126.1 57.2,120.3 61.1,116.3 65.1,113.2 69.0,110.7 73.0,108.6 77.0,106.7 84.9,103.7 92.8,101.2 100.7,99.2 112.6,96.6 124.5,94.4 140.3,92.0 156.1,89.9 175.9,87.8 195.7,85.9 219.5,84.0 243.2,82.4"/>
<polyline points="49.3,140.1 53.2,126.8 57.2,121.0 61.1,117.0 65.1,113.8 69.0,111.3 73.0,109.2 77.0,107.4 84.9,104.4 92.8,102.0 100.7,99.9 112.6,97.3 124.5,95.2 140.3,92.8 156.1,90.8 175.9,88.7 195.7,86.9 219.5,85.1 243.2,83.5"/>
<polyline points="49.3,137.4 53.2,122.6 57.2,116.3 61.1,111.9 65.1,108.6 69.0,105.9 73.0,103.7 77.0,101.7 84.9,98.6 92.8,96.0 100.7,93.9 112.6,91.3 124.5,89.1 140.3,86.7 156.1,84.7 175.9,82.5 195.7,80.7 219.5,78.9 243.2,77.3"/>
<polyline points="49.3,141.1 53.2,128.2 57.2,122.4 61.1,118.4 65.1,115.3 69.0,112.8 73.0,110.7 77.0,108.8 84.9,105.8 92.8,103.4 100.7,101.3 112.6,98.7 124.5,96.6 140.3,94.2 156.1,92.1 175.9,90.0 195.7,88.2 219.5,86.3 243.2,84.7"/>
<polyline points="49.3,138.2 53.2,123.9 57.2,118.0 61.1,113.9 65.1,110.8 69.0,108.3 73.0,106.1 77.0,104.3 84.9,101.3 92.8,98.9 100.7,96.8 112.6,94.3 124.5,92.2 140.3,89.8 156.1,87.9 175.9,85.8 195.7,84.0 219.5,82.2 243.2,80.6"/>
<polyline points="49.3,136.6 53.2,120.4 57.2,113.8 61.1,109.3 65.1,105.9 69.0,103.1 73.0,100.8 77.0,98.8 84.9,95.5 92.8,92.9 100.7,90.7 112.6,88.0 124.5,85.7 140.3,83.2 156.1,81.2 175.9,79.0 195.7,77.1 219.5,75.2 243.2,73.5"/>
<polyline points="49.3,137.0 53.2,122.7 57.2,116.6 61.1,112.4 65.1,109.2 69.0,106.6 73.0,104.4 77.0,102.5 84.9,99.4 92.8,96.9 100.7,94.8 112.6,92.1 124.5,89.9 140.3,87.5 156.1,85.5 175.9,83.3 195.7,81.5 219.5,79.6 243.2,78.0"/>
<polyline points="49.3,138.8 53.2,124.7 57.2,118.8 61.1,114.7 65.1,111.5 69.0,108.9 73.0,106.8 77.0,104.9 84.9,101.8 92.8,99.3 100.7,97.2 112.6,94.5 124.5,92.4 140.3,89.9 156.1,87.9 175.9,85.7 195.7,83.8 219.5,81.9 243.2,80.2"/>
<polyline points="49.3,140.5 53.2,127.3 57.2,121.5 61.1,117.4 65.1,114.3 69.0,111.8 73.0,109.7 77.0,107.9 84.9,104.9 92.8,102.5 100.7,100.4 112.6,97.9 124.5,95.8 140.3,93.5 156.1,91.6 175.9,89.5 195.7,87.8 219.5,86.0 243.2,84.4"/>
<polyline points="49.3,138.6 53.2,124.3 57.2,118.3 61.1,114.1 65.1,111.0 69.0,108.4 73.0,106.3 77.0,104.5 84.9,101.4 92.8,99.0 100.7,97.0 112.6,94.4 124.5,92.3 140.3,90.0 156.1,88.0 175.9,86.0 195.7,84.2 219.5,82.4 243.2,80.9"/>
<polyline points="49.3,139.2 53.2,125.5 57.2,119.6 61.1,115.6 65.1,112.5 69.0,109.9 73.0,107.8 77.0,106.0 84.9,103.0 92.8,100.6 100.7,98.6 112.6,96.1 124.5,94.0 140.3,91.7 156.1,89.7 175.9,87.7 195.7,85.9 219.5,84.1 243.2,82.6"/>
<polyline points="49.3,139.0 53.2,124.5 57.2,118.4 61.1,114.2 65.1,111.0 69.0,108.3 73.0,106.2 77.0,104.3 84.9,101.2 92.8,98.7 100.7,96.6 112.6,94.0 124.5,91.8 140.3,89.4 156.1,87.4 175.9,85.3 195.7,83.5 219.5,81.7 243.2,80.1"/>
<polyline points="49.3,136.2 53.2,120.4 57.2,113.9 61.1,109.4 65.1,106.0 69.0,103.2 73.0,101.0 77.0,99.0 84.9,95.8 92.8,93.2 100.7,91.1 112.6,88.4 124.5,86.2 140.3,83.8 156.1,81.8 175.9,79.7 195.7,77.9 219.5,76.0 243.2,74.5"/>
<polyline points="49.3,137.4 53.2,122.5 57.2,116.2 61.1,111.9 65.1,108.5 69.0,105.9 73.0,103.6 77.0,101.7 84.9,98.5 92.8,95.9 100.7,93.7 112.6,91.1 124.5,88.8 140.3,86.4 156.1,84.3 175.9,82.1 195.7,80.2 219.5,78.3 243.2,76.7"/>
<polyline points="49.3,137.5 53.2,123.0 57.2,117.0 61.1,112.9 65.1,109.7 69.0,107.1 73.0,104.9 77.0,103.0 84.9,100.0 92.8,97.5 100.7,95.4 112.6,92.7 124.5,90.6 140.3,88.2 156.1,86.1 175.9,84.0 195.7,82.2 219.5,80.3 243.2,78.6"/>
<polyline points="49.3,137.5 53.2,122.4 57.2,116.1 61.1,111.8 65.1,108.5 69.0,105.8 73.0,103.5 77.0,101.6 84.9,98.4 92.8,95.8 100.7,93.6 112.6,90.9 124.5,88.7 140.3,86.2 156.1,84.1 175.9,81.9 195.7,80.0 219.5,78.0 243.2,76.4"/>
<polyline points="49.3,139.0 53.2,125.5 57.2,119.7 61.1,115.6 65.1,112.5 69.0,110.0 73.0,107.9 77.0,106.1 84.9,103.1 92.8,100.6 100.7,98.6 112.6,96.0 124.5,93.9 140.3,91.6 156.1,89.6 175.9,87.5 195.7,85.7 219.5,83.8 243.2,82.2"/>
<polyline points="49.3,139.7 53.2,125.0 57.2,118.6 61.1,114.2 65.1,110.9 69.0,108.2 73.0,106.0 77.0,104.0 84.9,100.9 92.8,98.3 100.7,96.2 112.6,93.6 124.5,91.4 140.3,89.0 156.1,86.9 175.9,84.8 195.7,83.0 219.5,81.2 243.2,79.6"/>
<polyline points="49.3,138.6 53.2,123.8 57.2,117.7 61.1,113.4 65.1,110.1 69.0,107.4 73.0,105.2 77.0,103.3 84.9,100.2 92.8,97.7 100.7,95.6 112.6,93.0 124.5,90.8 140.3,88.4 156.1,86.4 175.9,84.2 195.7,82.4 219.5,80.6 243.2,79.0"/>
<polyline points="49.3,142.2 53.2,129.2 57.2,123.8 61.1,120.0 65.1,117.0 69.0,114.7 73.0,112.7 77.0,110.9 84.9,108.1 92.8,105.7 100.7,103.7 112.6,101.3 124.5,99.2 140.3,96.9 156.1,95.0 175.9,92.9 195.7,91.1 219.5,89.3 243.2,87.7"/>
<polyline points="49.3,141.7 53.2,129.8 57.2,124.7 61.1,121.1 65.1,118.3 69.0,116.0 73.0,114.1 77.0,112.5 84.9,109.7 92.8,107.5 100.7,105.6 112.6,103.2 124.5,101.2 140.3,99.0 156.1,97.1 175.9,95.2 195.7,93.5 219.5,91.7 243.2,90.2"/>
<polyline points="49.3,139.1 53.2,125.7 57.2,119.8 61.1,115.7 65.1,112.5 69.0,110.0 73.0,107.8 77.0,106.0 84.9,103.0 92.8,100.5 100.7,98.5 112.6,95.9 124.5,93.8 140.3,91.4 156.1,89.5 175.9,87.4 195.7,85.6 219.5,83.8 243.2,82.2"/>
<polyline points="49.3,137.6 53.2,123.3 57.2,117.1 61.1,112.8 65.1,109.6 69.0,106.9 73.0,104.7 77.0,102.8 84.9,99.7 92.8,97.2 100.7,95.1 112.6,92.5 124.5,90.3 140.3,87.9 156.1,85.9 175.9,83.8 195.7,82.0 219.5,80.1 243.2,78.5"/>
</g>
<g fill="#1c1010">
<circle cx="49.26" cy="139.53" r="1.6"/>
<circle cx="53.22" cy="127.37" r="1.6"/>
<circle cx="57.17" cy="121.07" r="1.6"/>
<circle cx="61.13" cy="116.75" r="1.6"/>
<circle cx="65.09" cy="113.49" r="1.6"/>
<circle cx="69.05" cy="110.87" r="1.6"/>
<circle cx="73.01" cy="108.70" r="1.6"/>
<circle cx="76.96" cy="106.84" r="1.6"/>
<circle cx="80.92" cy="105.23" r="1.6"/>
<circle cx="84.88" cy="103.80" r="1.6"/>
<circle cx="88.84" cy="102.52" r="1.6"/>
<circle cx="92.80" cy="101.36" r="1.6"/>
<circle cx="96.75" cy="100.30" r="1.6"/>
<circle cx="100.71" cy="99.33" r="1.6"/>
<circle cx="104.67" cy="98.43" r="1.6"/>
<circle cx="108.63" cy="97.60" r="1.6"/>
<circle cx="112.59" cy="96.82" r="1.6"/>
<circle cx="116.54" cy="96.09" r="1.6"/>
<circle cx="120.50" cy="95.40" r="1.6"/>
<circle cx="124.46" cy="94.76" r="1.6"/>
<circle cx="128.42" cy="94.14" r="1.6"/>
<circle cx="132.38" cy="93.56" r="1.6"/>
<circle cx="136.33" cy="93.01" r="1.6"/>
<circle cx="140.29" cy="92.48" r="1.6"/>
<circle cx="144.25" cy="91.98" r="1.6"/>
<circle cx="148.21" cy="91.49" r="1.6"/>
<circle cx="152.17" cy="91.03" r="1.6"/>
<circle cx="156.12" cy="90.59" r="1.6"/>
<circle cx="160.08" cy="90.16" r="1.6"/>
<circle cx="164.04" cy="89.75" r="1.6"/>
<circle cx="168.00" cy="89.36" r="1.6"/>
<circle cx="171.96" cy="88.97" r="1.6"/>
<circle cx="175.91" cy="88.60" r="1.6"/>
<circle cx="179.87" cy="88.25" r="1.6"/>
<circle cx="183.83" cy="87.90" r="1.6"/>
<circle cx="187.79" cy="87.57" r="1.6"/>
<circle cx="191.75" cy="87.24" r="1.6"/>
<circle cx="195.70" cy="86.93" r="1.6"/>
<circle cx="199.66" cy="86.62" r="1.6"/>
<circle cx="203.62" cy="86.32" r="1.6"/>
<circle cx="207.58" cy="86.03" r="1.6"/>
<circle cx="211.54" cy="85.75" r="1.6"/>
<circle cx="215.49" cy="85.48" r="1.6"/>
<circle cx="219.45" cy="85.21" r="1.6"/>
<circle cx="223.41" cy="84.95" r="1.6"/>
<circle cx="227.37" cy="84.69" r="1.6"/>
<circle cx="231.33" cy="84.44" r="1.6"/>
<circle cx="235.28" cy="84.20" r="1.6"/>
<circle cx="239.24" cy="83.96" r="1.6"/>
<circle cx="243.20" cy="83.73" r="1.6"/>
</g>
<g stroke="#403232" stroke-width="1" fill="none">
<line x1="45.3" y1="6.10" x2="45.3" y2="161.10"/>
<line x1="42.30" y1="158.1" x2="243.20" y2="158.1"/>
<line x1="42.30" y1="136.39" x2="45.3" y2="136.39"/>
<line x1="42.30" y1="114.67" x2="45.3" y2="114.67"/>
<line x1="42.30" y1="92.96" x2="45.3" y2="92.96"/>
<line x1="42.30" y1="71.24" x2="45.3" y2="71.24"/>
<line x1="42.30" y1="49.53" x2="45.3" y2="49.53"/>
<line x1="42.30" y1="27.81" x2="45.3" y2="27.81"/>
<line x1="42.30" y1="6.10" x2="45.3" y2="6.10"/>
<line x1="84.88" y1="158.1" x2="84.88" y2="161.10"/>
<line x1="124.46" y1="158.1" x2="124.46" y2="161.10"/>
<line x1="164.04" y1="158.1" x2="164.04" y2="161.10"/>
<line x1="203.62" y1="158.1" x2="203.62" y2="161.10"/>
<line x1="243.20" y1="158.1" x2="243.20" y2="161.10"/>
</g>
<g font-family="Liberation Sans, Arial, sans-serif" font-size="10" fill="#111" stroke="#111" stroke-width="0.15">
<text x="37.40" y="161.70" text-anchor="end">0</text>
<text x="37.40" y="139.99" text-anchor="end">2</text>
<text x="37.40" y="118.27" text-anchor="end">4</text>
<text x="37.40" y="96.56" text-anchor="end">6</text>
<text x="37.40" y="74.84" text-anchor="end">8</text>
<text x="37.40" y="53.13" text-anchor="end">10</text>
<text x="37.40" y="31.41" text-anchor="end">12</text>
<text x="37.40" y="9.70" text-anchor="end">14</text>
<text x="45.30" y="175.90" text-anchor="middle">0</text>
<text x="84.88" y="175.90" text-anchor="middle">10</text>
<text x="124.46" y="175.90" text-anchor="middle">20</text>
<text x="164.04" y="175.90" text-anchor="middle">30</text>
<text x="203.62" y="175.90" text-anchor="middle">40</text>
<text x="243.20" y="175.90" text-anchor="middle">50</text>
</g>
<g font-family="Liberation Sans, Arial, sans-serif" font-size="14" fill="#111" stroke="#111" stroke-width="0.25">
<text x="55.30" y="19.00" textLength="65.4" lengthAdjust="spacingAndGlyphs">Producer 1</text>
<text x="144.25" y="199.50" text-anchor="middle">Time</text>
<text transform="translate(12.00,82.10) rotate(-90)" text-anchor="middle">WWPR</text>
</g>
<g font-family="Liberation Sans, Arial, sans-serif" font-size="10" fill="#111" stroke="#111" stroke-width="0.15">
<text x="451.6" y="23.0">Initial model</text>
<text x="451.6" y="35.0">Final model</text>
<text x="451.6" y="47.0">True model</text>
</g>
<line x1="431.0" y1="18.9" x2="448.7" y2="18.9" stroke="#9f9f9f" stroke-width="1"/>
<line x1="431.0" y1="31.0" x2="448.7" y2="31.0" stroke="#66bb2e" stroke-width="1"/>
<circle cx="439.9" cy="43.3" r="1.6" fill="#1c1010"/>
<g fill="none" stroke="#9f9f9f" stroke-width="0.9">
<polyline points="317.2,143.3 321.1,134.4 325.1,131.7 329.0,129.8 333.0,128.4 336.9,127.3 340.9,126.3 344.9,125.5 352.8,124.2 360.7,123.1 368.6,122.2 380.5,121.1 392.4,120.2 408.2,119.3 424.0,118.4 443.8,117.6 463.6,116.8 487.4,116.1 511.1,115.4"/>
<polyline points="317.2,131.0 321.1,117.5 325.1,113.8 329.0,111.2 333.0,109.3 336.9,107.8 340.9,106.5 344.9,105.5 352.8,103.7 360.7,102.3 368.6,101.1 380.5,99.7 392.4,98.5 408.2,97.2 424.0,96.2 443.8,95.0 463.6,94.1 487.4,93.1 511.1,92.3"/>
<polyline points="317.2,130.7 321.1,119.8 325.1,116.6 329.0,114.5 333.0,112.8 336.9,111.5 340.9,110.4 344.9,109.5 352.8,108.0 360.7,106.8 368.6,105.8 380.5,104.5 392.4,103.5 408.2,102.4 424.0,101.5 443.8,100.5 463.6,99.7 487.4,98.8 511.1,98.1"/>
<polyline points="317.2,136.5 321.1,124.3 325.1,121.0 329.0,118.7 333.0,116.9 336.9,115.5 340.9,114.4 344.9,113.4 352.8,111.8 360.7,110.5 368.6,109.4 380.5,108.1 392.4,107.0 408.2,105.8 424.0,104.8 443.8,103.8 463.6,102.9 487.4,102.0 511.1,101.2"/>
<polyline points="317.2,133.8 321.1,120.0 325.1,116.4 329.0,114.0 333.0,112.1 336.9,110.6 340.9,109.4 344.9,108.3 352.8,106.6 360.7,105.2 368.6,104.1 380.5,102.7 392.4,101.5 408.2,100.2 424.0,99.1 443.8,98.0 463.6,97.1 487.4,96.1 511.1,95.2"/>
<polyline points="317.2,127.8 321.1,113.0 325.1,109.4 329.0,106.9 333.0,105.0 336.9,103.6 340.9,102.3 344.9,101.3 352.8,99.6 360.7,98.2 368.6,97.1 380.5,95.7 392.4,94.5 408.2,93.2 424.0,92.2 443.8,91.1 463.6,90.2 487.4,89.2 511.1,88.4"/>
<polyline points="317.2,137.2 321.1,125.0 325.1,121.6 329.0,119.3 333.0,117.6 336.9,116.2 340.9,115.1 344.9,114.1 352.8,112.5 360.7,111.2 368.6,110.1 380.5,108.8 392.4,107.7 408.2,106.5 424.0,105.4 443.8,104.4 463.6,103.5 487.4,102.6 511.1,101.8"/>
<polyline points="317.2,144.2 321.1,136.1 325.1,133.7 329.0,132.0 333.0,130.7 336.9,129.6 340.9,128.8 344.9,128.0 352.8,126.8 360.7,125.9 368.6,125.1 380.5,124.1 392.4,123.3 408.2,122.3 424.0,121.6 443.8,120.8 463.6,120.1 487.4,119.5 511.1,118.9"/>
<polyline points="317.2,141.9 321.1,133.0 325.1,130.4 329.0,128.7 333.0,127.3 336.9,126.3 340.9,125.4 344.9,124.6 352.8,123.4 360.7,122.4 368.6,121.6 380.5,120.5 392.4,119.7 408.2,118.7 424.0,118.0 443.8,117.1 463.6,116.5 487.4,115.7 511.1,115.1"/>
<polyline points="317.2,147.2 321.1,138.5 325.1,135.9 329.0,134.1 333.0,132.7 336.9,131.6 340.9,130.7 344.9,129.9 352.8,128.6 360.7,127.6 368.6,126.7 380.5,125.7 392.4,124.8 408.2,123.8 424.0,123.0 443.8,122.1 463.6,121.4 487.4,120.7 511.1,120.0"/>
<polyline points="317.2,148.0 321.1,137.8 325.1,134.8 329.0,132.8 333.0,131.2 336.9,130.0 340.9,129.0 344.9,128.1 352.8,126.6 360.7,125.5 368.6,124.5 380.5,123.3 392.4,122.3 408.2,121.3 424.0,120.4 443.8,119.4 463.6,118.6 487.4,117.8 511.1,117.1"/>
<polyline points="317.2,147.5 321.1,137.0 325.1,134.0 329.0,131.9 333.0,130.3 336.9,129.1 340.9,128.0 344.9,127.1 352.8,125.7 360.7,124.5 368.6,123.5 380.5,122.3 392.4,121.3 408.2,120.2 424.0,119.3 443.8,118.4 463.6,117.5 487.4,116.7 511.1,116.0"/>
<polyline points="317.2,126.8 321.1,113.2 325.1,109.6 329.0,107.1 333.0,105.3 336.9,103.8 340.9,102.6 344.9,101.5 352.8,99.8 360.7,98.4 368.6,97.3 380.5,95.9 392.4,94.8 408.2,93.5 424.0,92.5 443.8,91.4 463.6,90.5 487.4,89.5 511.1,88.7"/>
<polyline points="317.2,144.8 321.1,137.0 325.1,134.5 329.0,132.8 333.0,131.5 336.9,130.5 340.9,129.6 344.9,128.9 352.8,127.7 360.7,126.7 368.6,125.9 380.5,124.9 392.4,124.1 408.2,123.1 424.0,122.4 443.8,121.6 463.6,120.9 487.4,120.2 511.1,119.6"/>
<polyline points="317.2,138.8 321.1,128.0 325.1,124.8 329.0,122.6 333.0,121.0 336.9,119.6 340.9,118.5 344.9,117.6 352.8,116.1 360.7,114.8 368.6,113.8 380.5,112.5 392.4,111.5 408.2,110.3 424.0,109.3 443.8,108.3 463.6,107.5 487.4,106.6 511.1,105.8"/>
<polyline points="317.2,131.0 321.1,117.8 325.1,114.3 329.0,112.0 333.0,110.2 336.9,108.8 340.9,107.6 344.9,106.6 352.8,104.9 360.7,103.6 368.6,102.5 380.5,101.1 392.4,100.0 408.2,98.7 424.0,97.7 443.8,96.6 463.6,95.7 487.4,94.8 511.1,94.0"/>
<polyline points="317.2,134.3 321.1,121.4 325.1,118.0 329.0,115.6 333.0,113.8 336.9,112.4 340.9,111.2 344.9,110.2 352.8,108.6 360.7,107.2 368.6,106.2 380.5,104.8 392.4,103.7 408.2,102.5 424.0,101.5 443.8,100.4 463.6,99.5 487.4,98.6 511.1,97.8"/>
<polyline points="317.2,130.3 321.1,114.3 325.1,110.4 329.0,107.7 333.0,105.7 336.9,104.1 340.9,102.7 344.9,101.6 352.8,99.7 360.7,98.2 368.6,97.0 380.5,95.5 392.4,94.2 408.2,92.9 424.0,91.7 443.8,90.5 463.6,89.5 487.4,88.5 511.1,87.6"/>
<polyline points="317.2,142.6 321.1,132.5 325.1,129.6 329.0,127.5 333.0,126.0 336.9,124.8 340.9,123.8 344.9,122.9 352.8,121.5 360.7,120.4 368.6,119.5 380.5,118.3 392.4,117.3 408.2,116.3 424.0,115.4 443.8,114.5 463.6,113.7 487.4,112.9 511.1,112.2"/>
<polyline points="317.2,137.2 321.1,127.6 325.1,125.0 329.0,123.2 333.0,121.9 336.9,120.8 340.9,119.9 344.9,119.1 352.8,117.8 360.7,116.8 368.6,115.9 380.5,114.9 392.4,114.0 408.2,113.0 424.0,112.2 443.8,111.4 463.6,110.7 487.4,109.9 511.1,109.3"/>
<polyline points="317.2,132.3 321.1,117.7 325.1,113.7 329.0,111.0 333.0,109.0 336.9,107.3 340.9,106.0 344.9,104.8 352.8,102.9 360.7,101.4 368.6,100.2 380.5,98.6 392.4,97.3 408.2,95.9 424.0,94.8 443.8,93.5 463.6,92.5 487.4,91.5 511.1,90.6"/>
<polyline points="317.2,148.4 321.1,140.3 325.1,137.6 329.0,135.8 333.0,134.5 336.9,133.4 340.9,132.5 344.9,131.7 352.8,130.4 360.7,129.4 368.6,128.5 380.5,127.4 392.4,126.5 408.2,125.6 424.0,124.8 443.8,123.9 463.6,123.2 487.4,122.5 511.1,121.8"/>
<polyline points="317.2,127.3 321.1,115.7 325.1,112.5 329.0,110.2 333.0,108.6 336.9,107.2 340.9,106.1 344.9,105.1 352.8,103.6 360.7,102.3 368.6,101.3 380.5,100.0 392.4,98.9 408.2,97.8 424.0,96.8 443.8,95.8 463.6,94.9 487.4,94.0 511.1,93.3"/>
<polyline points="317.2,133.7 321.1,119.6 325.1,115.7 329.0,113.1 333.0,111.2 336.9,109.6 340.9,108.3 344.9,107.2 352.8,105.3 360.7,103.8 368.6,102.6 380.5,101.1 392.4,99.9 408.2,98.5 424.0,97.4 443.8,96.2 463.6,95.2 487.4,94.1 511.1,93.2"/>
<polyline points="317.2,150.3 321.1,140.6 325.1,137.8 329.0,135.8 333.0,134.3 336.9,133.1 340.9,132.1 344.9,131.2 352.8,129.8 360.7,128.7 368.6,127.8 380.5,126.6 392.4,125.7 408.2,124.6 424.0,123.8 443.8,122.8 463.6,122.1 487.4,121.3 511.1,120.6"/>
<polyline points="317.2,131.2 321.1,119.7 325.1,116.7 329.0,114.6 333.0,113.1 336.9,111.8 340.9,110.8 344.9,109.9 352.8,108.4 360.7,107.3 368.6,106.3 380.5,105.1 392.4,104.1 408.2,103.0 424.0,102.1 443.8,101.2 463.6,100.4 487.4,99.6 511.1,98.8"/>
<polyline points="317.2,131.5 321.1,120.7 325.1,117.9 329.0,115.9 333.0,114.4 336.9,113.2 340.9,112.3 344.9,111.4 352.8,110.0 360.7,108.9 368.6,108.0 380.5,106.8 392.4,105.9 408.2,104.9 424.0,104.0 443.8,103.1 463.6,102.3 487.4,101.6 511.1,100.9"/>
<polyline points="317.2,144.3 321.1,137.0 325.1,134.9 329.0,133.4 333.0,132.2 336.9,131.3 340.9,130.5 344.9,129.9 352.8,128.8 360.7,128.0 368.6,127.3 380.5,126.4 392.4,125.6 408.2,124.8 424.0,124.2 443.8,123.4 463.6,122.8 487.4,122.2 511.1,121.7"/>
<polyline points="317.2,135.0 321.1,123.6 325.1,120.4 329.0,118.3 333.0,116.7 336.9,115.4 340.9,114.3 344.9,113.4 352.8,111.9 360.7,110.6 368.6,109.6 380.5,108.4 392.4,107.3 408.2,106.2 424.0,105.3 443.8,104.3 463.6,103.4 487.4,102.6 511.1,101.8"/>
<polyline points="317.2,141.7 321.1,131.8 325.1,128.8 329.0,126.7 333.0,125.1 336.9,123.9 340.9,122.9 344.9,122.0 352.8,120.5 360.7,119.4 368.6,118.4 380.5,117.2 392.4,116.2 408.2,115.2 424.0,114.3 443.8,113.3 463.6,112.5 487.4,111.7 511.1,111.0"/>
<polyline points="317.2,138.3 321.1,128.0 325.1,125.2 329.0,123.3 333.0,121.8 336.9,120.6 340.9,119.6 344.9,118.8 352.8,117.4 360.7,116.3 368.6,115.4 380.5,114.3 392.4,113.4 408.2,112.4 424.0,111.5 443.8,110.6 463.6,109.9 487.4,109.1 511.1,108.4"/>
<polyline points="317.2,131.1 321.1,119.6 325.1,116.4 329.0,114.2 333.0,112.5 336.9,111.2 340.9,110.1 344.9,109.1 352.8,107.6 360.7,106.4 368.6,105.4 380.5,104.1 392.4,103.1 408.2,101.9 424.0,101.0 443.8,100.0 463.6,99.2 487.4,98.3 511.1,97.6"/>
<polyline points="317.2,142.4 321.1,134.4 325.1,132.1 329.0,130.5 333.0,129.3 336.9,128.4 340.9,127.6 344.9,126.9 352.8,125.8 360.7,124.9 368.6,124.1 380.5,123.2 392.4,122.4 408.2,121.6 424.0,120.9 443.8,120.2 463.6,119.6 487.4,118.9 511.1,118.4"/>
<polyline points="317.2,150.6 321.1,141.2 325.1,138.5 329.0,136.6 333.0,135.2 336.9,134.0 340.9,133.1 344.9,132.3 352.8,130.9 360.7,129.8 368.6,128.9 380.5,127.8 392.4,126.9 408.2,125.9 424.0,125.0 443.8,124.2 463.6,123.4 487.4,122.6 511.1,122.0"/>
<polyline points="317.2,137.1 321.1,128.6 325.1,126.0 329.0,124.2 333.0,122.8 336.9,121.7 340.9,120.8 344.9,120.0 352.8,118.8 360.7,117.8 368.6,116.9 380.5,115.9 392.4,115.0 408.2,114.1 424.0,113.3 443.8,112.4 463.6,111.7 487.4,111.0 511.1,110.4"/>
<polyline points="317.2,141.8 321.1,130.4 325.1,127.1 329.0,124.9 333.0,123.2 336.9,121.8 340.9,120.7 344.9,119.7 352.8,118.1 360.7,116.9 368.6,115.8 380.5,114.5 392.4,113.4 408.2,112.3 424.0,111.3 443.8,110.3 463.6,109.4 487.4,108.5 511.1,107.7"/>
<polyline points="317.2,132.9 321.1,118.1 325.1,114.3 329.0,111.7 333.0,109.7 336.9,108.1 340.9,106.8 344.9,105.7 352.8,103.8 360.7,102.3 368.6,101.1 380.5,99.6 392.4,98.4 408.2,97.0 424.0,95.8 443.8,94.6 463.6,93.6 487.4,92.6 511.1,91.7"/>
<polyline points="317.2,134.2 321.1,120.8 325.1,117.0 329.0,114.4 333.0,112.5 336.9,110.9 340.9,109.6 344.9,108.5 352.8,106.7 360.7,105.2 368.6,104.0 380.5,102.5 392.4,101.3 408.2,99.9 424.0,98.8 443.8,97.6 463.6,96.6 487.4,95.6 511.1,94.7"/>
<polyline points="317.2,134.1 321.1,121.5 325.1,118.0 329.0,115.5 333.0,113.7 336.9,112.2 340.9,111.0 344.9,110.0 352.8,108.3 360.7,106.9 368.6,105.8 380.5,104.4 392.4,103.3 408.2,102.0 424.0,101.0 443.8,99.9 463.6,98.9 487.4,98.0 511.1,97.2"/>
<polyline points="317.2,128.4 321.1,116.6 325.1,113.4 329.0,111.2 333.0,109.5 336.9,108.2 340.9,107.1 344.9,106.1 352.8,104.6 360.7,103.4 368.6,102.3 380.5,101.1 392.4,100.0 408.2,98.9 424.0,97.9 443.8,96.9 463.6,96.1 487.4,95.2 511.1,94.5"/>
<polyline points="317.2,143.0 321.1,134.0 325.1,131.2 329.0,129.4 333.0,128.0 336.9,126.8 340.9,125.9 344.9,125.1 352.8,123.8 360.7,122.7 368.6,121.8 380.5,120.7 392.4,119.8 408.2,118.8 424.0,118.0 443.8,117.1 463.6,116.4 487.4,115.6 511.1,114.9"/>
<polyline points="317.2,128.2 321.1,116.5 325.1,113.4 329.0,111.3 333.0,109.8 336.9,108.5 340.9,107.4 344.9,106.5 352.8,105.1 360.7,103.9 368.6,102.9 380.5,101.7 392.4,100.7 408.2,99.6 424.0,98.6 443.8,97.7 463.6,96.9 487.4,96.0 511.1,95.3"/>
<polyline points="317.2,134.8 321.1,122.2 325.1,119.0 329.0,116.8 333.0,115.1 336.9,113.8 340.9,112.7 344.9,111.8 352.8,110.2 360.7,109.0 368.6,107.9 380.5,106.7 392.4,105.6 408.2,104.5 424.0,103.5 443.8,102.5 463.6,101.7 487.4,100.8 511.1,100.1"/>
<polyline points="317.2,129.0 321.1,116.3 325.1,112.9 329.0,110.6 333.0,108.9 336.9,107.5 340.9,106.4 344.9,105.4 352.8,103.8 360.7,102.5 368.6,101.5 380.5,100.2 392.4,99.1 408.2,97.9 424.0,97.0 443.8,95.9 463.6,95.1 487.4,94.2 511.1,93.4"/>
<polyline points="317.2,132.0 321.1,118.8 325.1,115.1 329.0,112.6 333.0,110.7 336.9,109.2 340.9,107.9 344.9,106.9 352.8,105.1 360.7,103.7 368.6,102.5 380.5,101.1 392.4,99.9 408.2,98.6 424.0,97.5 443.8,96.4 463.6,95.4 487.4,94.4 511.1,93.6"/>
<polyline points="317.2,140.3 321.1,128.4 325.1,125.0 329.0,122.7 333.0,120.9 336.9,119.5 340.9,118.3 344.9,117.3 352.8,115.7 360.7,114.4 368.6,113.3 380.5,111.9 392.4,110.8 408.2,109.6 424.0,108.6 443.8,107.5 463.6,106.6 487.4,105.7 511.1,104.9"/>
<polyline points="317.2,145.5 321.1,138.0 325.1,135.8 329.0,134.3 333.0,133.1 336.9,132.2 340.9,131.4 344.9,130.7 352.8,129.6 360.7,128.7 368.6,128.0 380.5,127.1 392.4,126.4 408.2,125.5 424.0,124.8 443.8,124.1 463.6,123.5 487.4,122.9 511.1,122.3"/>
<polyline points="317.2,143.3 321.1,133.5 325.1,130.5 329.0,128.5 333.0,127.0 336.9,125.8 340.9,124.7 344.9,123.9 352.8,122.4 360.7,121.3 368.6,120.3 380.5,119.2 392.4,118.2 408.2,117.1 424.0,116.2 443.8,115.3 463.6,114.5 487.4,113.7 511.1,113.0"/>
<polyline points="317.2,137.6 321.1,127.1 325.1,124.0 329.0,121.8 333.0,120.2 336.9,118.9 340.9,117.8 344.9,116.9 352.8,115.4 360.7,114.2 368.6,113.2 380.5,112.0 392.4,111.0 408.2,109.9 424.0,109.0 443.8,108.0 463.6,107.2 487.4,106.3 511.1,105.6"/>
<polyline points="317.2,142.9 321.1,133.1 325.1,130.0 329.0,127.9 333.0,126.4 336.9,125.1 340.9,124.1 344.9,123.2 352.8,121.7 360.7,120.5 368.6,119.5 380.5,118.3 392.4,117.3 408.2,116.2 424.0,115.3 443.8,114.4 463.6,113.6 487.4,112.7 511.1,112.0"/>
<polyline points="317.2,135.2 321.1,125.1 325.1,122.3 329.0,120.5 333.0,119.1 336.9,118.0 340.9,117.0 344.9,116.2 352.8,114.9 360.7,113.9 368.6,113.0 380.5,112.0 392.4,111.1 408.2,110.1 424.0,109.3 443.8,108.5 463.6,107.8 487.4,107.0 511.1,106.4"/>
<polyline points="317.2,127.7 321.1,115.4 325.1,112.2 329.0,110.1 333.0,108.5 336.9,107.2 340.9,106.2 344.9,105.3 352.8,103.8 360.7,102.6 368.6,101.6 380.5,100.4 392.4,99.4 408.2,98.3 424.0,97.4 443.8,96.5 463.6,95.7 487.4,94.9 511.1,94.1"/>
<polyline points="317.2,145.7 321.1,137.0 325.1,134.4 329.0,132.6 333.0,131.3 336.9,130.2 340.9,129.3 344.9,128.5 352.8,127.3 360.7,126.3 368.6,125.4 380.5,124.4 392.4,123.5 408.2,122.6 424.0,121.8 443.8,121.0 463.6,120.3 487.4,119.6 511.1,119.0"/>
<polyline points="317.2,130.1 321.1,117.5 325.1,114.3 329.0,112.1 333.0,110.4 336.9,109.1 340.9,108.0 344.9,107.0 352.8,105.5 360.7,104.2 368.6,103.2 380.5,101.9 392.4,100.9 408.2,99.7 424.0,98.8 443.8,97.8 463.6,96.9 487.4,96.0 511.1,95.3"/>
<polyline points="317.2,127.0 321.1,113.6 325.1,110.1 329.0,107.7 333.0,105.9 336.9,104.4 340.9,103.2 344.9,102.2 352.8,100.5 360.7,99.2 368.6,98.0 380.5,96.7 392.4,95.5 408.2,94.3 424.0,93.3 443.8,92.2 463.6,91.3 487.4,90.3 511.1,89.5"/>
<polyline points="317.2,127.0 321.1,113.3 325.1,109.7 329.0,107.2 333.0,105.3 336.9,103.8 340.9,102.5 344.9,101.4 352.8,99.7 360.7,98.3 368.6,97.1 380.5,95.7 392.4,94.5 408.2,93.2 424.0,92.1 443.8,90.9 463.6,90.0 487.4,89.0 511.1,88.2"/>
<polyline points="317.2,133.2 321.1,120.8 325.1,117.6 329.0,115.4 333.0,113.8 336.9,112.5 340.9,111.4 344.9,110.5 352.8,108.9 360.7,107.7 368.6,106.7 380.5,105.4 392.4,104.4 408.2,103.2 424.0,102.3 443.8,101.3 463.6,100.4 487.4,99.6 511.1,98.8"/>
<polyline points="317.2,138.1 321.1,128.7 325.1,125.9 329.0,123.9 333.0,122.5 336.9,121.3 340.9,120.3 344.9,119.5 352.8,118.1 360.7,117.0 368.6,116.0 380.5,114.9 392.4,114.0 408.2,112.9 424.0,112.1 443.8,111.1 463.6,110.4 487.4,109.6 511.1,108.9"/>
<polyline points="317.2,138.5 321.1,127.1 325.1,123.8 329.0,121.5 333.0,119.8 336.9,118.4 340.9,117.3 344.9,116.3 352.8,114.7 360.7,113.4 368.6,112.3 380.5,111.0 392.4,109.9 408.2,108.7 424.0,107.6 443.8,106.6 463.6,105.7 487.4,104.8 511.1,104.0"/>
<polyline points="317.2,134.7 321.1,123.4 325.1,120.2 329.0,118.0 333.0,116.3 336.9,114.9 340.9,113.8 344.9,112.8 352.8,111.3 360.7,110.0 368.6,108.9 380.5,107.6 392.4,106.6 408.2,105.4 424.0,104.4 443.8,103.4 463.6,102.5 487.4,101.6 511.1,100.8"/>
<polyline points="317.2,129.0 321.1,116.5 325.1,113.0 329.0,110.7 333.0,108.9 336.9,107.4 340.9,106.3 344.9,105.3 352.8,103.6 360.7,102.3 368.6,101.2 380.5,99.8 392.4,98.7 408.2,97.5 424.0,96.5 443.8,95.5 463.6,94.6 487.4,93.7 511.1,92.9"/>
<polyline points="317.2,149.3 321.1,140.7 325.1,138.2 329.0,136.5 333.0,135.2 336.9,134.1 340.9,133.2 344.9,132.5 352.8,131.3 360.7,130.3 368.6,129.4 380.5,128.4 392.4,127.6 408.2,126.7 424.0,125.9 443.8,125.1 463.6,124.4 487.4,123.7 511.1,123.1"/>
<polyline points="317.2,139.7 321.1,131.0 325.1,128.5 329.0,126.7 333.0,125.4 336.9,124.4 340.9,123.5 344.9,122.8 352.8,121.6 360.7,120.6 368.6,119.8 380.5,118.8 392.4,118.0 408.2,117.0 424.0,116.3 443.8,115.5 463.6,114.8 487.4,114.1 511.1,113.5"/>
<polyline points="317.2,129.7 321.1,115.7 325.1,112.2 329.0,109.7 333.0,107.9 336.9,106.4 340.9,105.2 344.9,104.2 352.8,102.4 360.7,101.1 368.6,100.0 380.5,98.6 392.4,97.4 408.2,96.2 424.0,95.1 443.8,94.0 463.6,93.1 487.4,92.1 511.1,91.3"/>
<polyline points="317.2,125.8 321.1,112.4 325.1,109.0 329.0,106.7 333.0,105.0 336.9,103.6 340.9,102.4 344.9,101.5 352.8,99.9 360.7,98.6 368.6,97.5 380.5,96.2 392.4,95.1 408.2,94.0 424.0,93.0 443.8,91.9 463.6,91.1 487.4,90.2 511.1,89.4"/>
<polyline points="317.2,128.6 321.1,114.1 325.1,110.1 329.0,107.5 333.0,105.5 336.9,103.9 340.9,102.5 344.9,101.4 352.8,99.5 360.7,98.1 368.6,96.8 380.5,95.3 392.4,94.1 408.2,92.7 424.0,91.6 443.8,90.4 463.6,89.4 487.4,88.4 511.1,87.5"/>
<polyline points="317.2,131.8 321.1,119.1 325.1,115.7 329.0,113.4 333.0,111.6 336.9,110.2 340.9,109.1 344.9,108.1 352.8,106.5 360.7,105.2 368.6,104.1 380.5,102.7 392.4,101.6 408.2,100.4 424.0,99.4 443.8,98.4 463.6,97.5 487.4,96.6 511.1,95.8"/>
<polyline points="317.2,127.2 321.1,114.4 325.1,111.1 329.0,108.9 333.0,107.2 336.9,105.8 340.9,104.7 344.9,103.7 352.8,102.1 360.7,100.8 368.6,99.8 380.5,98.5 392.4,97.4 408.2,96.2 424.0,95.3 443.8,94.2 463.6,93.4 487.4,92.5 511.1,91.7"/>
<polyline points="317.2,130.4 321.1,117.4 325.1,113.8 329.0,111.4 333.0,109.5 336.9,108.0 340.9,106.8 344.9,105.8 352.8,104.1 360.7,102.7 368.6,101.6 380.5,100.2 392.4,99.0 408.2,97.7 424.0,96.7 443.8,95.6 463.6,94.6 487.4,93.7 511.1,92.9"/>
<polyline points="317.2,137.2 321.1,124.2 325.1,120.5 329.0,118.0 333.0,116.1 336.9,114.6 340.9,113.3 344.9,112.2 352.8,110.4 360.7,109.0 368.6,107.8 380.5,106.3 392.4,105.1 408.2,103.8 424.0,102.7 443.8,101.5 463.6,100.5 487.4,99.5 511.1,98.7"/>
<polyline points="317.2,127.5 321.1,114.0 325.1,110.8 329.0,108.5 333.0,106.8 336.9,105.5 340.9,104.3 344.9,103.4 352.8,101.8 360.7,100.5 368.6,99.5 380.5,98.2 392.4,97.2 408.2,96.0 424.0,95.0 443.8,94.0 463.6,93.2 487.4,92.3 511.1,91.5"/>
<polyline points="317.2,135.8 321.1,124.6 325.1,121.4 329.0,119.3 333.0,117.7 336.9,116.4 340.9,115.3 344.9,114.4 352.8,112.9 360.7,111.7 368.6,110.7 380.5,109.5 392.4,108.5 408.2,107.3 424.0,106.4 443.8,105.4 463.6,104.6 487.4,103.8 511.1,103.0"/>
<polyline points="317.2,127.5 321.1,115.7 325.1,112.5 329.0,110.4 333.0,108.7 336.9,107.4 340.9,106.3 344.9,105.4 352.8,103.9 360.7,102.7 368.6,101.7 380.5,100.5 392.4,99.4 408.2,98.3 424.0,97.4 443.8,96.4 463.6,95.6 487.4,94.8 511.1,94.0"/>
<polyline points="317.2,143.5 321.1,133.3 325.1,130.3 329.0,128.3 333.0,126.8 336.9,125.5 340.9,124.5 344.9,123.6 352.8,122.2 360.7,121.0 368.6,120.1 380.5,118.9 392.4,117.9 408.2,116.8 424.0,115.9 443.8,115.0 463.6,114.2 487.4,113.4 511.1,112.7"/>
<polyline points="317.2,133.2 321.1,123.5 325.1,120.6 329.0,118.7 333.0,117.2 336.9,116.0 340.9,115.0 344.9,114.2 352.8,112.8 360.7,111.7 368.6,110.8 380.5,109.7 392.4,108.8 408.2,107.8 424.0,106.9 443.8,106.0 463.6,105.3 487.4,104.5 511.1,103.8"/>
<polyline points="317.2,94.6 321.1,81.5 325.1,77.8 329.0,75.3 333.0,73.4 336.9,71.9 340.9,70.6 344.9,69.5 352.8,67.8 360.7,66.4 368.6,65.2 380.5,63.8 392.4,62.6 408.2,61.3 424.0,60.2 443.8,59.1 463.6,58.1 487.4,57.1 511.1,56.3"/>
<polyline points="317.2,100.6 321.1,86.8 325.1,82.8 329.0,80.1 333.0,78.0 336.9,76.3 340.9,74.9 344.9,73.7 352.8,71.8 360.7,70.2 368.6,68.9 380.5,67.3 392.4,66.0 408.2,64.6 424.0,63.4 443.8,62.1 463.6,61.0 487.4,59.9 511.1,59.0"/>
<polyline points="317.2,94.9 321.1,81.8 325.1,78.1 329.0,75.6 333.0,73.8 336.9,72.2 340.9,71.0 344.9,69.9 352.8,68.2 360.7,66.8 368.6,65.6 380.5,64.2 392.4,63.0 408.2,61.7 424.0,60.6 443.8,59.5 463.6,58.5 487.4,57.6 511.1,56.7"/>
<polyline points="317.2,100.4 321.1,87.0 325.1,82.9 329.0,80.1 333.0,78.0 336.9,76.3 340.9,74.9 344.9,73.6 352.8,71.7 360.7,70.1 368.6,68.8 380.5,67.2 392.4,65.8 408.2,64.4 424.0,63.1 443.8,61.8 463.6,60.8 487.4,59.7 511.1,58.7"/>
<polyline points="317.2,101.9 321.1,87.9 325.1,83.7 329.0,80.8 333.0,78.7 336.9,76.9 340.9,75.5 344.9,74.2 352.8,72.2 360.7,70.5 368.6,69.2 380.5,67.5 392.4,66.1 408.2,64.6 424.0,63.3 443.8,61.9 463.6,60.8 487.4,59.6 511.1,58.6"/>
<polyline points="317.2,103.1 321.1,89.4 325.1,85.1 329.0,82.2 333.0,79.9 336.9,78.1 340.9,76.6 344.9,75.3 352.8,73.2 360.7,71.5 368.6,70.1 380.5,68.4 392.4,66.9 408.2,65.3 424.0,64.0 443.8,62.6 463.6,61.4 487.4,60.2 511.1,59.2"/>
<polyline points="317.2,89.7 321.1,67.5 325.1,61.2 329.0,57.0 333.0,53.8 336.9,51.2 340.9,49.0 344.9,47.2 352.8,44.2 360.7,41.8 368.6,39.8 380.5,37.3 392.4,35.2 408.2,33.0 424.0,31.1 443.8,29.2 463.6,27.5 487.4,25.8 511.1,24.3"/>
<polyline points="317.2,92.7 321.1,72.1 325.1,66.3 329.0,62.3 333.0,59.3 336.9,56.9 340.9,54.9 344.9,53.2 352.8,50.4 360.7,48.2 368.6,46.3 380.5,44.0 392.4,42.1 408.2,40.0 424.0,38.2 443.8,36.4 463.6,34.9 487.4,33.3 511.1,31.9"/>
<polyline points="317.2,97.3 321.1,80.5 325.1,75.6 329.0,72.2 333.0,69.6 336.9,67.6 340.9,65.9 344.9,64.4 352.8,62.1 360.7,60.2 368.6,58.6 380.5,56.6 392.4,55.0 408.2,53.2 424.0,51.7 443.8,50.2 463.6,48.9 487.4,47.5 511.1,46.4"/>
</g>
<g fill="none" stroke="#66bb2e" stroke-width="1.0">
<polyline points="317.2,121.3 321.1,104.8 325.1,100.6 329.0,97.7 333.0,95.5 336.9,93.8 340.9,92.3 344.9,91.0 352.8,89.0 360.7,87.3 368.6,85.9 380.5,84.2 392.4,82.8 408.2,81.3 424.0,80.0 443.8,78.6 463.6,77.5 487.4,76.3 511.1,75.3"/>
<polyline points="317.2,112.7 321.1,93.3 325.1,88.7 329.0,85.6 333.0,83.3 336.9,81.4 340.9,79.9 344.9,78.5 352.8,76.4 360.7,74.7 368.6,73.2 380.5,71.5 392.4,70.0 408.2,68.4 424.0,67.1 443.8,65.7 463.6,64.6 487.4,63.4 511.1,62.4"/>
<polyline points="317.2,116.6 321.1,98.0 325.1,93.6 329.0,90.6 333.0,88.3 336.9,86.5 340.9,85.0 344.9,83.7 352.8,81.6 360.7,79.9 368.6,78.5 380.5,76.8 392.4,75.3 408.2,73.8 424.0,72.5 443.8,71.1 463.6,69.9 487.4,68.8 511.1,67.7"/>
<polyline points="317.2,115.9 321.1,97.1 325.1,92.8 329.0,89.8 333.0,87.5 336.9,85.8 340.9,84.3 344.9,83.0 352.8,80.9 360.7,79.3 368.6,77.9 380.5,76.2 392.4,74.8 408.2,73.2 424.0,71.9 443.8,70.6 463.6,69.5 487.4,68.3 511.1,67.3"/>
<polyline points="317.2,127.8 321.1,109.9 325.1,105.4 329.0,102.3 333.0,100.0 336.9,98.1 340.9,96.5 344.9,95.2 352.8,93.0 360.7,91.2 368.6,89.7 380.5,87.9 392.4,86.4 408.2,84.7 424.0,83.3 443.8,81.8 463.6,80.6 487.4,79.3 511.1,78.2"/>
<polyline points="317.2,128.2 321.1,111.4 325.1,106.8 329.0,103.6 333.0,101.2 336.9,99.3 340.9,97.7 344.9,96.4 352.8,94.1 360.7,92.4 368.6,90.9 380.5,89.0 392.4,87.5 408.2,85.8 424.0,84.4 443.8,83.0 463.6,81.7 487.4,80.5 511.1,79.4"/>
<polyline points="317.2,119.8 321.1,102.4 325.1,98.2 329.0,95.3 333.0,93.1 336.9,91.3 340.9,89.9 344.9,88.6 352.8,86.5 360.7,84.9 368.6,83.5 380.5,81.8 392.4,80.4 408.2,78.8 424.0,77.5 443.8,76.2 463.6,75.0 487.4,73.9 511.1,72.8"/>
<polyline points="317.2,114.9 321.1,97.9 325.1,93.7 329.0,90.9 333.0,88.7 336.9,87.0 340.9,85.6 344.9,84.3 352.8,82.3 360.7,80.7 368.6,79.4 380.5,77.7 392.4,76.4 408.2,74.9 424.0,73.6 443.8,72.3 463.6,71.2 487.4,70.1 511.1,69.1"/>
<polyline points="317.2,119.4 321.1,102.4 325.1,98.4 329.0,95.5 333.0,93.4 336.9,91.7 340.9,90.3 344.9,89.1 352.8,87.1 360.7,85.5 368.6,84.1 380.5,82.5 392.4,81.1 408.2,79.6 424.0,78.3 443.8,77.0 463.6,75.9 487.4,74.7 511.1,73.8"/>
<polyline points="317.2,118.9 321.1,100.8 325.1,96.4 329.0,93.4 333.0,91.1 336.9,89.3 340.9,87.7 344.9,86.4 352.8,84.3 360.7,82.6 368.6,81.2 380.5,79.4 392.4,77.9 408.2,76.3 424.0,75.0 443.8,73.6 463.6,72.4 487.4,71.2 511.1,70.2"/>
<polyline points="317.2,124.3 321.1,106.9 325.1,102.3 329.0,99.2 333.0,96.8 336.9,94.9 340.9,93.3 344.9,92.0 352.8,89.8 360.7,88.0 368.6,86.5 380.5,84.7 392.4,83.2 408.2,81.5 424.0,80.2 443.8,78.7 463.6,77.5 487.4,76.3 511.1,75.2"/>
<polyline points="317.2,112.1 321.1,93.9 325.1,89.7 329.0,86.8 333.0,84.6 336.9,82.9 340.9,81.4 344.9,80.2 352.8,78.2 360.7,76.5 368.6,75.2 380.5,73.5 392.4,72.2 408.2,70.6 424.0,69.4 443.8,68.1 463.6,66.9 487.4,65.8 511.1,64.8"/>
<polyline points="317.2,120.2 321.1,103.5 325.1,99.1 329.0,96.1 333.0,93.8 336.9,92.0 340.9,90.5 344.9,89.2 352.8,87.0 360.7,85.3 368.6,83.9 380.5,82.2 392.4,80.7 408.2,79.1 424.0,77.8 443.8,76.4 463.6,75.2 487.4,74.0 511.1,73.0"/>
<polyline points="317.2,114.9 321.1,95.0 325.1,90.5 329.0,87.4 333.0,85.1 336.9,83.2 340.9,81.7 344.9,80.4 352.8,78.2 360.7,76.5 368.6,75.0 380.5,73.3 392.4,71.8 408.2,70.2 424.0,68.8 443.8,67.4 463.6,66.3 487.4,65.0 511.1,64.0"/>
<polyline points="317.2,119.0 321.1,102.8 325.1,98.6 329.0,95.6 333.0,93.4 336.9,91.6 340.9,90.1 344.9,88.9 352.8,86.8 360.7,85.1 368.6,83.7 380.5,82.0 392.4,80.6 408.2,79.1 424.0,77.8 443.8,76.4 463.6,75.3 487.4,74.1 511.1,73.1"/>
<polyline points="317.2,118.6 321.1,101.3 325.1,97.2 329.0,94.4 333.0,92.2 336.9,90.5 340.9,89.1 344.9,87.8 352.8,85.8 360.7,84.2 368.6,82.9 380.5,81.2 392.4,79.9 408.2,78.4 424.0,77.1 443.8,75.8 463.6,74.7 487.4,73.5 511.1,72.5"/>
<polyline points="317.2,117.4 321.1,100.5 325.1,96.3 329.0,93.4 333.0,91.2 336.9,89.5 340.9,88.0 344.9,86.8 352.8,84.7 360.7,83.1 368.6,81.7 380.5,80.0 392.4,78.6 408.2,77.1 424.0,75.8 443.8,74.5 463.6,73.4 487.4,72.2 511.1,71.2"/>
<polyline points="317.2,116.1 321.1,97.5 325.1,93.0 329.0,90.0 333.0,87.6 336.9,85.8 340.9,84.3 344.9,82.9 352.8,80.8 360.7,79.1 368.6,77.6 380.5,75.8 392.4,74.4 408.2,72.8 424.0,71.4 443.8,70.0 463.6,68.8 487.4,67.6 511.1,66.5"/>
<polyline points="317.2,110.7 321.1,91.6 325.1,87.3 329.0,84.3 333.0,82.1 336.9,80.4 340.9,78.9 344.9,77.7 352.8,75.7 360.7,74.0 368.6,72.7 380.5,71.0 392.4,69.7 408.2,68.2 424.0,67.0 443.8,65.7 463.6,64.6 487.4,63.5 511.1,62.5"/>
<polyline points="317.2,122.8 321.1,106.0 325.1,101.5 329.0,98.5 333.0,96.2 336.9,94.3 340.9,92.8 344.9,91.5 352.8,89.3 360.7,87.6 368.6,86.2 380.5,84.4 392.4,82.9 408.2,81.3 424.0,80.0 443.8,78.6 463.6,77.4 487.4,76.2 511.1,75.1"/>
<polyline points="317.2,115.3 321.1,96.6 325.1,92.0 329.0,88.8 333.0,86.4 336.9,84.5 340.9,83.0 344.9,81.6 352.8,79.4 360.7,77.7 368.6,76.2 380.5,74.4 392.4,72.9 408.2,71.3 424.0,70.0 443.8,68.6 463.6,67.4 487.4,66.1 511.1,65.1"/>
<polyline points="317.2,122.7 321.1,105.0 325.1,100.4 329.0,97.2 333.0,94.7 336.9,92.8 340.9,91.2 344.9,89.8 352.8,87.5 360.7,85.7 368.6,84.2 380.5,82.4 392.4,80.8 408.2,79.1 424.0,77.7 443.8,76.3 463.6,75.0 487.4,73.7 511.1,72.6"/>
<polyline points="317.2,115.3 321.1,98.3 325.1,94.1 329.0,91.2 333.0,89.1 336.9,87.3 340.9,85.9 344.9,84.6 352.8,82.6 360.7,81.0 368.6,79.7 380.5,78.0 392.4,76.6 408.2,75.1 424.0,73.9 443.8,72.6 463.6,71.5 487.4,70.3 511.1,69.4"/>
<polyline points="317.2,125.4 321.1,108.8 325.1,104.3 329.0,101.2 333.0,98.8 336.9,96.9 340.9,95.4 344.9,94.0 352.8,91.8 360.7,90.1 368.6,88.6 380.5,86.8 392.4,85.3 408.2,83.6 424.0,82.2 443.8,80.8 463.6,79.6 487.4,78.3 511.1,77.2"/>
<polyline points="317.2,124.6 321.1,107.2 325.1,102.6 329.0,99.5 333.0,97.1 336.9,95.2 340.9,93.6 344.9,92.2 352.8,90.0 360.7,88.2 368.6,86.7 380.5,84.8 392.4,83.3 408.2,81.6 424.0,80.2 443.8,78.8 463.6,77.5 487.4,76.2 511.1,75.2"/>
<polyline points="317.2,121.4 321.1,104.8 325.1,100.3 329.0,97.2 333.0,94.9 336.9,93.1 340.9,91.5 344.9,90.2 352.8,88.1 360.7,86.4 368.6,84.9 380.5,83.1 392.4,81.7 408.2,80.1 424.0,78.7 443.8,77.3 463.6,76.2 487.4,74.9 511.1,73.9"/>
<polyline points="317.2,116.1 321.1,98.6 325.1,94.1 329.0,91.1 333.0,88.7 336.9,86.9 340.9,85.4 344.9,84.0 352.8,81.9 360.7,80.2 368.6,78.7 380.5,76.9 392.4,75.5 408.2,73.9 424.0,72.5 443.8,71.1 463.6,69.9 487.4,68.7 511.1,67.7"/>
<polyline points="317.2,115.5 321.1,97.3 325.1,93.0 329.0,90.0 333.0,87.8 336.9,86.0 340.9,84.5 344.9,83.3 352.8,81.2 360.7,79.6 368.6,78.2 380.5,76.5 392.4,75.1 408.2,73.6 424.0,72.3 443.8,71.0 463.6,69.9 487.4,68.7 511.1,67.8"/>
<polyline points="317.2,122.3 321.1,105.4 325.1,101.0 329.0,97.9 333.0,95.6 336.9,93.8 340.9,92.2 344.9,90.9 352.8,88.7 360.7,87.0 368.6,85.5 380.5,83.7 392.4,82.3 408.2,80.6 424.0,79.3 443.8,77.8 463.6,76.6 487.4,75.4 511.1,74.3"/>
<polyline points="317.2,126.4 321.1,109.8 325.1,105.2 329.0,102.0 333.0,99.6 336.9,97.6 340.9,96.0 344.9,94.6 352.8,92.4 360.7,90.6 368.6,89.1 380.5,87.2 392.4,85.6 408.2,83.9 424.0,82.5 443.8,81.0 463.6,79.8 487.4,78.5 511.1,77.4"/>
<polyline points="317.2,115.8 321.1,97.5 325.1,93.2 329.0,90.2 333.0,88.0 336.9,86.2 340.9,84.7 344.9,83.4 352.8,81.3 360.7,79.6 368.6,78.2 380.5,76.5 392.4,75.1 408.2,73.5 424.0,72.2 443.8,70.9 463.6,69.7 487.4,68.5 511.1,67.5"/>
<polyline points="317.2,123.8 321.1,106.5 325.1,102.2 329.0,99.3 333.0,97.0 336.9,95.2 340.9,93.7 344.9,92.4 352.8,90.3 360.7,88.6 368.6,87.2 380.5,85.5 392.4,84.0 408.2,82.5 424.0,81.1 443.8,79.8 463.6,78.6 487.4,77.4 511.1,76.3"/>
<polyline points="317.2,129.8 321.1,112.8 325.1,108.1 329.0,104.9 333.0,102.4 336.9,100.5 340.9,98.8 344.9,97.4 352.8,95.1 360.7,93.2 368.6,91.7 380.5,89.8 392.4,88.2 408.2,86.5 424.0,85.0 443.8,83.5 463.6,82.2 487.4,80.9 511.1,79.7"/>
<polyline points="317.2,127.4 321.1,110.1 325.1,105.5 329.0,102.4 333.0,100.0 336.9,98.1 340.9,96.6 344.9,95.2 352.8,93.0 360.7,91.2 368.6,89.7 380.5,87.9 392.4,86.4 408.2,84.7 424.0,83.4 443.8,81.9 463.6,80.7 487.4,79.4 511.1,78.3"/>
<polyline points="317.2,121.3 321.1,104.3 325.1,100.0 329.0,97.0 333.0,94.7 336.9,92.9 340.9,91.4 344.9,90.1 352.8,88.0 360.7,86.3 368.6,84.9 380.5,83.1 392.4,81.7 408.2,80.1 424.0,78.7 443.8,77.3 463.6,76.1 487.4,74.9 511.1,73.9"/>
<polyline points="317.2,124.0 321.1,106.5 325.1,101.8 329.0,98.6 333.0,96.1 336.9,94.2 340.9,92.6 344.9,91.2 352.8,89.0 360.7,87.1 368.6,85.6 380.5,83.8 392.4,82.2 408.2,80.6 424.0,79.1 443.8,77.7 463.6,76.4 487.4,75.2 511.1,74.1"/>
<polyline points="317.2,118.9 321.1,100.5 325.1,95.7 329.0,92.5 333.0,90.0 336.9,88.1 340.9,86.5 344.9,85.1 352.8,82.8 360.7,81.0 368.6,79.5 380.5,77.6 392.4,76.1 408.2,74.4 424.0,73.0 443.8,71.5 463.6,70.3 487.4,69.0 511.1,67.9"/>
<polyline points="317.2,126.6 321.1,110.0 325.1,105.5 329.0,102.4 333.0,100.0 336.9,98.1 340.9,96.5 344.9,95.2 352.8,92.9 360.7,91.2 368.6,89.7 380.5,87.8 392.4,86.3 408.2,84.6 424.0,83.2 443.8,81.7 463.6,80.4 487.4,79.1 511.1,78.0"/>
<polyline points="317.2,128.7 321.1,111.8 325.1,107.1 329.0,103.9 333.0,101.5 336.9,99.6 340.9,97.9 344.9,96.6 352.8,94.3 360.7,92.5 368.6,91.0 380.5,89.1 392.4,87.5 408.2,85.8 424.0,84.4 443.8,82.9 463.6,81.7 487.4,80.4 511.1,79.3"/>
<polyline points="317.2,118.5 321.1,99.8 325.1,95.3 329.0,92.2 333.0,89.9 336.9,88.0 340.9,86.5 344.9,85.1 352.8,83.0 360.7,81.2 368.6,79.8 380.5,78.0 392.4,76.5 408.2,74.9 424.0,73.6 443.8,72.1 463.6,70.9 487.4,69.7 511.1,68.7"/>
<polyline points="317.2,120.0 321.1,101.4 325.1,97.0 329.0,94.0 333.0,91.7 336.9,89.9 340.9,88.4 344.9,87.1 352.8,84.9 360.7,83.2 368.6,81.8 380.5,80.0 392.4,78.6 408.2,77.0 424.0,75.6 443.8,74.2 463.6,73.1 487.4,71.9 511.1,70.8"/>
<polyline points="317.2,113.7 321.1,95.2 325.1,90.9 329.0,87.9 333.0,85.7 336.9,84.0 340.9,82.5 344.9,81.2 352.8,79.2 360.7,77.5 368.6,76.2 380.5,74.5 392.4,73.1 408.2,71.6 424.0,70.3 443.8,69.0 463.6,67.9 487.4,66.8 511.1,65.8"/>
<polyline points="317.2,113.9 321.1,94.9 325.1,90.5 329.0,87.4 333.0,85.2 336.9,83.3 340.9,81.8 344.9,80.5 352.8,78.4 360.7,76.7 368.6,75.3 380.5,73.6 392.4,72.2 408.2,70.6 424.0,69.3 443.8,67.9 463.6,66.8 487.4,65.6 511.1,64.6"/>
<polyline points="317.2,118.6 321.1,100.9 325.1,96.6 329.0,93.6 333.0,91.3 336.9,89.5 340.9,88.0 344.9,86.7 352.8,84.6 360.7,82.9 368.6,81.5 380.5,79.7 392.4,78.3 408.2,76.7 424.0,75.4 443.8,74.0 463.6,72.8 487.4,71.6 511.1,70.6"/>
<polyline points="317.2,112.3 321.1,93.8 325.1,89.5 329.0,86.6 333.0,84.4 336.9,82.6 340.9,81.1 344.9,79.8 352.8,77.8 360.7,76.1 368.6,74.7 380.5,73.0 392.4,71.6 408.2,70.1 424.0,68.8 443.8,67.4 463.6,66.3 487.4,65.1 511.1,64.1"/>
<polyline points="317.2,120.9 321.1,103.1 325.1,98.4 329.0,95.3 333.0,92.8 336.9,90.9 340.9,89.3 344.9,88.0 352.8,85.7 360.7,83.9 368.6,82.4 380.5,80.6 392.4,79.1 408.2,77.4 424.0,76.0 443.8,74.5 463.6,73.3 487.4,72.0 511.1,70.9"/>
<polyline points="317.2,119.9 321.1,102.0 325.1,97.4 329.0,94.3 333.0,91.9 336.9,90.0 340.9,88.4 344.9,87.1 352.8,84.9 360.7,83.1 368.6,81.6 380.5,79.8 392.4,78.3 408.2,76.6 424.0,75.3 443.8,73.8 463.6,72.6 487.4,71.3 511.1,70.3"/>
<polyline points="317.2,120.3 321.1,103.1 325.1,98.6 329.0,95.4 333.0,93.1 336.9,91.2 340.9,89.6 344.9,88.3 352.8,86.1 360.7,84.3 368.6,82.9 380.5,81.0 392.4,79.5 408.2,77.9 424.0,76.5 443.8,75.1 463.6,73.9 487.4,72.6 511.1,71.5"/>
<polyline points="317.2,116.6 321.1,98.7 325.1,94.2 329.0,91.2 333.0,88.9 336.9,87.1 340.9,85.6 344.9,84.3 352.8,82.2 360.7,80.5 368.6,79.1 380.5,77.4 392.4,75.9 408.2,74.4 424.0,73.1 443.8,71.7 463.6,70.6 487.4,69.4 511.1,68.4"/>
<polyline points="317.2,114.8 321.1,97.6 325.1,93.2 329.0,90.2 333.0,87.9 336.9,86.1 340.9,84.6 344.9,83.3 352.8,81.1 360.7,79.4 368.6,78.0 380.5,76.3 392.4,74.8 408.2,73.3 424.0,71.9 443.8,70.6 463.6,69.4 487.4,68.2 511.1,67.2"/>
<polyline points="317.2,118.3 321.1,98.9 325.1,94.4 329.0,91.4 333.0,89.1 336.9,87.2 340.9,85.7 344.9,84.3 352.8,82.2 360.7,80.4 368.6,79.0 380.5,77.2 392.4,75.7 408.2,74.1 424.0,72.8 443.8,71.4 463.6,70.2 487.4,68.9 511.1,67.9"/>
<polyline points="317.2,114.8 321.1,95.1 325.1,90.6 329.0,87.5 333.0,85.2 336.9,83.4 340.9,81.8 344.9,80.5 352.8,78.4 360.7,76.7 368.6,75.3 380.5,73.5 392.4,72.1 408.2,70.5 424.0,69.2 443.8,67.8 463.6,66.7 487.4,65.5 511.1,64.5"/>
<polyline points="317.2,119.9 321.1,103.9 325.1,99.6 329.0,96.6 333.0,94.3 336.9,92.6 340.9,91.1 344.9,89.8 352.8,87.7 360.7,86.0 368.6,84.6 380.5,82.9 392.4,81.5 408.2,79.9 424.0,78.7 443.8,77.3 463.6,76.1 487.4,75.0 511.1,74.0"/>
<polyline points="317.2,121.5 321.1,104.6 325.1,100.1 329.0,97.0 333.0,94.6 336.9,92.7 340.9,91.2 344.9,89.8 352.8,87.6 360.7,85.9 368.6,84.4 380.5,82.6 392.4,81.1 408.2,79.5 424.0,78.1 443.8,76.7 463.6,75.5 487.4,74.2 511.1,73.1"/>
<polyline points="317.2,122.1 321.1,105.0 325.1,100.7 329.0,97.8 333.0,95.5 336.9,93.8 340.9,92.3 344.9,91.0 352.8,88.9 360.7,87.2 368.6,85.8 380.5,84.1 392.4,82.7 408.2,81.1 424.0,79.8 443.8,78.5 463.6,77.3 487.4,76.1 511.1,75.1"/>
<polyline points="317.2,124.8 321.1,108.7 325.1,104.6 329.0,101.7 333.0,99.6 336.9,97.8 340.9,96.4 344.9,95.2 352.8,93.1 360.7,91.5 368.6,90.2 380.5,88.5 392.4,87.1 408.2,85.6 424.0,84.3 443.8,83.0 463.6,81.8 487.4,80.7 511.1,79.7"/>
<polyline points="317.2,120.9 321.1,103.2 325.1,98.9 329.0,96.0 333.0,93.7 336.9,91.9 340.9,90.4 344.9,89.1 352.8,87.0 360.7,85.4 368.6,84.0 380.5,82.2 392.4,80.8 408.2,79.2 424.0,77.9 443.8,76.6 463.6,75.4 487.4,74.2 511.1,73.2"/>
<polyline points="317.2,114.4 321.1,96.3 325.1,91.9 329.0,88.9 333.0,86.6 336.9,84.8 340.9,83.3 344.9,82.0 352.8,79.9 360.7,78.2 368.6,76.8 380.5,75.1 392.4,73.7 408.2,72.1 424.0,70.8 443.8,69.5 463.6,68.4 487.4,67.2 511.1,66.2"/>
<polyline points="317.2,120.2 321.1,103.7 325.1,99.2 329.0,96.1 333.0,93.8 336.9,92.0 340.9,90.4 344.9,89.1 352.8,87.0 360.7,85.2 368.6,83.8 380.5,82.0 392.4,80.5 408.2,78.9 424.0,77.6 443.8,76.2 463.6,75.0 487.4,73.7 511.1,72.7"/>
<polyline points="317.2,125.6 321.1,110.2 325.1,105.9 329.0,102.8 333.0,100.5 336.9,98.7 340.9,97.2 344.9,95.8 352.8,93.7 360.7,91.9 368.6,90.5 380.5,88.7 392.4,87.2 408.2,85.5 424.0,84.2 443.8,82.7 463.6,81.5 487.4,80.3 511.1,79.2"/>
<polyline points="317.2,131.1 321.1,113.0 325.1,109.0 329.0,106.3 333.0,104.2 336.9,102.5 340.9,101.1 344.9,99.9 352.8,97.9 360.7,96.4 368.6,95.1 380.5,93.4 392.4,92.1 408.2,90.6 424.0,89.4 443.8,88.1 463.6,87.0 487.4,85.9 511.1,84.9"/>
<polyline points="317.2,129.8 321.1,111.4 325.1,107.5 329.0,104.8 333.0,102.7 336.9,101.1 340.9,99.7 344.9,98.5 352.8,96.6 360.7,95.1 368.6,93.8 380.5,92.2 392.4,90.9 408.2,89.5 424.0,88.3 443.8,87.1 463.6,86.0 487.4,84.9 511.1,84.0"/>
<polyline points="317.2,128.4 321.1,109.3 325.1,105.1 329.0,102.3 333.0,100.2 336.9,98.4 340.9,97.0 344.9,95.8 352.8,93.8 360.7,92.3 368.6,91.0 380.5,89.3 392.4,88.0 408.2,86.5 424.0,85.3 443.8,84.1 463.6,83.0 487.4,81.9 511.1,80.9"/>
<polyline points="317.2,130.3 321.1,112.2 325.1,108.2 329.0,105.5 333.0,103.4 336.9,101.7 340.9,100.3 344.9,99.2 352.8,97.2 360.7,95.6 368.6,94.3 380.5,92.7 392.4,91.3 408.2,89.9 424.0,88.6 443.8,87.3 463.6,86.2 487.4,85.1 511.1,84.2"/>
<polyline points="317.2,128.4 321.1,109.3 325.1,105.2 329.0,102.3 333.0,100.2 336.9,98.5 340.9,97.1 344.9,95.9 352.8,93.9 360.7,92.4 368.6,91.0 380.5,89.4 392.4,88.1 408.2,86.7 424.0,85.4 443.8,84.2 463.6,83.1 487.4,82.0 511.1,81.1"/>
<polyline points="317.2,98.1 321.1,84.2 325.1,79.9 329.0,77.0 333.0,74.8 336.9,73.1 340.9,71.6 344.9,70.3 352.8,68.3 360.7,66.6 368.6,65.3 380.5,63.6 392.4,62.2 408.2,60.6 424.0,59.4 443.8,58.0 463.6,56.9 487.4,55.7 511.1,54.7"/>
</g>
<g fill="#1c1010">
<circle cx="317.16" cy="118.58" r="1.6"/>
<circle cx="321.12" cy="103.76" r="1.6"/>
<circle cx="325.07" cy="98.94" r="1.6"/>
<circle cx="329.03" cy="95.63" r="1.6"/>
<circle cx="332.99" cy="93.12" r="1.6"/>
<circle cx="336.95" cy="91.12" r="1.6"/>
<circle cx="340.91" cy="89.46" r="1.6"/>
<circle cx="344.86" cy="88.03" r="1.6"/>
<circle cx="348.82" cy="86.80" r="1.6"/>
<circle cx="352.78" cy="85.70" r="1.6"/>
<circle cx="356.74" cy="84.72" r="1.6"/>
<circle cx="360.70" cy="83.83" r="1.6"/>
<circle cx="364.65" cy="83.02" r="1.6"/>
<circle cx="368.61" cy="82.28" r="1.6"/>
<circle cx="372.57" cy="81.59" r="1.6"/>
<circle cx="376.53" cy="80.95" r="1.6"/>
<circle cx="380.49" cy="80.35" r="1.6"/>
<circle cx="384.44" cy="79.79" r="1.6"/>
<circle cx="388.40" cy="79.27" r="1.6"/>
<circle cx="392.36" cy="78.77" r="1.6"/>
<circle cx="396.32" cy="78.30" r="1.6"/>
<circle cx="400.28" cy="77.86" r="1.6"/>
<circle cx="404.23" cy="77.43" r="1.6"/>
<circle cx="408.19" cy="77.03" r="1.6"/>
<circle cx="412.15" cy="76.64" r="1.6"/>
<circle cx="416.11" cy="76.27" r="1.6"/>
<circle cx="420.07" cy="75.92" r="1.6"/>
<circle cx="424.02" cy="75.58" r="1.6"/>
<circle cx="427.98" cy="75.25" r="1.6"/>
<circle cx="431.94" cy="74.94" r="1.6"/>
<circle cx="435.90" cy="74.63" r="1.6"/>
<circle cx="439.86" cy="74.34" r="1.6"/>
<circle cx="443.81" cy="74.06" r="1.6"/>
<circle cx="447.77" cy="73.78" r="1.6"/>
<circle cx="451.73" cy="73.52" r="1.6"/>
<circle cx="455.69" cy="73.26" r="1.6"/>
<circle cx="459.65" cy="73.01" r="1.6"/>
<circle cx="463.60" cy="72.77" r="1.6"/>
<circle cx="467.56" cy="72.54" r="1.6"/>
<circle cx="471.52" cy="72.31" r="1.6"/>
<circle cx="475.48" cy="72.09" r="1.6"/>
<circle cx="479.44" cy="71.87" r="1.6"/>
<circle cx="483.39" cy="71.66" r="1.6"/>
<circle cx="487.35" cy="71.45" r="1.6"/>
<circle cx="491.31" cy="71.25" r="1.6"/>
<circle cx="495.27" cy="71.06" r="1.6"/>
<circle cx="499.23" cy="70.87" r="1.6"/>
<circle cx="503.18" cy="70.68" r="1.6"/>
<circle cx="507.14" cy="70.50" r="1.6"/>
<circle cx="511.10" cy="70.32" r="1.6"/>
</g>
<g stroke="#403232" stroke-width="1" fill="none">
<line x1="313.2" y1="6.10" x2="313.2" y2="161.10"/>
<line x1="310.20" y1="158.1" x2="511.10" y2="158.1"/>
<line x1="310.20" y1="120.10" x2="313.2" y2="120.10"/>
<line x1="310.20" y1="82.10" x2="313.2" y2="82.10"/>
<line x1="310.20" y1="44.10" x2="313.2" y2="44.10"/>
<line x1="310.20" y1="6.10" x2="313.2" y2="6.10"/>
<line x1="352.78" y1="158.1" x2="352.78" y2="161.10"/>
<line x1="392.36" y1="158.1" x2="392.36" y2="161.10"/>
<line x1="431.94" y1="158.1" x2="431.94" y2="161.10"/>
<line x1="471.52" y1="158.1" x2="471.52" y2="161.10"/>
<line x1="511.10" y1="158.1" x2="511.10" y2="161.10"/>
</g>
<g font-family="Liberation Sans, Arial, sans-serif" font-size="10" fill="#111" stroke="#111" stroke-width="0.15">
<text x="305.30" y="161.70" text-anchor="end">0</text>
<text x="305.30" y="123.70" text-anchor="end">5</text>
<text x="305.30" y="85.70" text-anchor="end">10</text>
<text x="305.30" y="47.70" text-anchor="end">15</text>
<text x="305.30" y="9.70" text-anchor="end">20</text>
<text x="313.20" y="175.90" text-anchor="middle">0</text>
<text x="352.78" y="175.90" text-anchor="middle">10</text>
<text x="392.36" y="175.90" text-anchor="middle">20</text>
<text x="431.94" y="175.90" text-anchor="middle">30</text>
<text x="471.52" y="175.90" text-anchor="middle">40</text>
<text x="511.10" y="175.90" text-anchor="middle">50</text>
</g>
<g font-family="Liberation Sans, Arial, sans-serif" font-size="14" fill="#111" stroke="#111" stroke-width="0.25">
<text x="323.20" y="19.00" textLength="65.4" lengthAdjust="spacingAndGlyphs">Producer 2</text>
<text x="412.15" y="199.50" text-anchor="middle">Time</text>
<text transform="translate(279.90,82.10) rotate(-90)" text-anchor="middle">WWPR</text>
</g>
<g font-family="Liberation Sans, Arial, sans-serif" font-size="10" fill="#111" stroke="#111" stroke-width="0.15">
<text x="726.2" y="23.0">Initial model</text>
<text x="726.2" y="35.0">Final model</text>
<text x="726.2" y="47.0">True model</text>
</g>
<line x1="705.6" y1="18.9" x2="723.4" y2="18.9" stroke="#9f9f9f" stroke-width="1"/>
<line x1="705.6" y1="31.0" x2="723.4" y2="31.0" stroke="#66bb2e" stroke-width="1"/>
<circle cx="714.7" cy="43.3" r="1.6" fill="#1c1010"/>
<g fill="none" stroke="#9f9f9f" stroke-width="0.9">
<polyline points="584.9,152.9 588.8,150.2 592.8,148.4 596.7,147.1 600.7,145.9 604.6,145.0 608.6,144.1 612.6,143.3 620.5,142.0 628.4,140.8 636.3,139.8 648.2,138.4 660.1,137.3 675.9,135.9 691.7,134.7 711.5,133.3 731.3,132.1 755.1,130.8 778.8,129.7"/>
<polyline points="584.9,154.8 588.8,152.9 592.8,151.3 596.7,150.1 600.7,149.1 604.6,148.2 608.6,147.4 612.6,146.7 620.5,145.5 628.4,144.4 636.3,143.4 648.2,142.2 660.1,141.1 675.9,139.8 691.7,138.6 711.5,137.3 731.3,136.2 755.1,134.9 778.8,133.8"/>
<polyline points="584.9,150.9 588.8,147.4 592.8,145.2 596.7,143.5 600.7,142.1 604.6,141.0 608.6,139.9 612.6,139.0 620.5,137.4 628.4,136.0 636.3,134.8 648.2,133.2 660.1,131.9 675.9,130.2 691.7,128.8 711.5,127.3 731.3,125.9 755.1,124.4 778.8,123.1"/>
<polyline points="584.9,153.1 588.8,150.1 592.8,148.1 596.7,146.5 600.7,145.2 604.6,144.1 608.6,143.2 612.6,142.3 620.5,140.8 628.4,139.5 636.3,138.4 648.2,136.9 660.1,135.6 675.9,134.1 691.7,132.7 711.5,131.2 731.3,129.9 755.1,128.5 778.8,127.2"/>
<polyline points="584.9,153.8 588.8,151.7 592.8,150.1 596.7,148.8 600.7,147.8 604.6,146.9 608.6,146.1 612.6,145.3 620.5,144.1 628.4,143.0 636.3,142.0 648.2,140.7 660.1,139.6 675.9,138.2 691.7,137.0 711.5,135.7 731.3,134.5 755.1,133.3 778.8,132.1"/>
<polyline points="584.9,150.5 588.8,147.8 592.8,145.7 596.7,144.1 600.7,142.7 604.6,141.6 608.6,140.6 612.6,139.7 620.5,138.2 628.4,136.9 636.3,135.7 648.2,134.2 660.1,132.9 675.9,131.4 691.7,130.0 711.5,128.6 731.3,127.2 755.1,125.8 778.8,124.6"/>
<polyline points="584.9,152.4 588.8,150.1 592.8,148.3 596.7,146.9 600.7,145.8 604.6,144.8 608.6,143.9 612.6,143.1 620.5,141.7 628.4,140.5 636.3,139.5 648.2,138.1 660.1,136.9 675.9,135.5 691.7,134.3 711.5,132.9 731.3,131.7 755.1,130.3 778.8,129.2"/>
<polyline points="584.9,154.7 588.8,152.4 592.8,150.8 596.7,149.6 600.7,148.5 604.6,147.6 608.6,146.8 612.6,146.1 620.5,144.8 628.4,143.7 636.3,142.8 648.2,141.5 660.1,140.4 675.9,139.1 691.7,137.9 711.5,136.7 731.3,135.5 755.1,134.3 778.8,133.1"/>
<polyline points="584.9,151.0 588.8,147.7 592.8,145.6 596.7,143.9 600.7,142.6 604.6,141.4 608.6,140.4 612.6,139.5 620.5,137.9 628.4,136.5 636.3,135.3 648.2,133.7 660.1,132.3 675.9,130.7 691.7,129.3 711.5,127.7 731.3,126.4 755.1,124.9 778.8,123.5"/>
<polyline points="584.9,150.6 588.8,147.6 592.8,145.5 596.7,143.8 600.7,142.5 604.6,141.4 608.6,140.4 612.6,139.4 620.5,137.9 628.4,136.5 636.3,135.3 648.2,133.8 660.1,132.4 675.9,130.8 691.7,129.4 711.5,127.9 731.3,126.5 755.1,125.0 778.8,123.7"/>
<polyline points="584.9,152.1 588.8,149.0 592.8,147.0 596.7,145.5 600.7,144.3 604.6,143.2 608.6,142.3 612.6,141.5 620.5,140.0 628.4,138.8 636.3,137.7 648.2,136.2 660.1,135.0 675.9,133.5 691.7,132.2 711.5,130.8 731.3,129.5 755.1,128.1 778.8,126.9"/>
<polyline points="584.9,154.4 588.8,152.5 592.8,150.9 596.7,149.6 600.7,148.5 604.6,147.6 608.6,146.8 612.6,146.0 620.5,144.7 628.4,143.6 636.3,142.6 648.2,141.3 660.1,140.1 675.9,138.8 691.7,137.5 711.5,136.2 731.3,135.0 755.1,133.6 778.8,132.4"/>
<polyline points="584.9,155.1 588.8,152.9 592.8,151.3 596.7,150.0 600.7,149.0 604.6,148.1 608.6,147.3 612.6,146.6 620.5,145.3 628.4,144.2 636.3,143.2 648.2,141.9 660.1,140.8 675.9,139.5 691.7,138.3 711.5,137.0 731.3,135.9 755.1,134.6 778.8,133.5"/>
<polyline points="584.9,151.2 588.8,148.1 592.8,145.8 596.7,144.1 600.7,142.7 604.6,141.5 608.6,140.4 612.6,139.5 620.5,137.8 628.4,136.4 636.3,135.2 648.2,133.6 660.1,132.2 675.9,130.5 691.7,129.1 711.5,127.6 731.3,126.2 755.1,124.7 778.8,123.3"/>
<polyline points="584.9,150.0 588.8,147.0 592.8,144.9 596.7,143.2 600.7,141.9 604.6,140.7 608.6,139.7 612.6,138.8 620.5,137.2 628.4,135.8 636.3,134.6 648.2,133.1 660.1,131.7 675.9,130.1 691.7,128.7 711.5,127.1 731.3,125.8 755.1,124.3 778.8,122.9"/>
<polyline points="584.9,151.3 588.8,148.1 592.8,146.1 596.7,144.6 600.7,143.4 604.6,142.3 608.6,141.3 612.6,140.5 620.5,139.0 628.4,137.7 636.3,136.6 648.2,135.2 660.1,133.9 675.9,132.4 691.7,131.1 711.5,129.6 731.3,128.3 755.1,126.9 778.8,125.6"/>
<polyline points="584.9,153.8 588.8,151.0 592.8,149.1 596.7,147.6 600.7,146.3 604.6,145.3 608.6,144.4 612.6,143.5 620.5,142.1 628.4,140.9 636.3,139.8 648.2,138.3 660.1,137.1 675.9,135.6 691.7,134.3 711.5,132.9 731.3,131.6 755.1,130.3 778.8,129.0"/>
<polyline points="584.9,150.0 588.8,146.6 592.8,144.4 596.7,142.7 600.7,141.3 604.6,140.2 608.6,139.1 612.6,138.2 620.5,136.5 628.4,135.1 636.3,133.9 648.2,132.3 660.1,130.9 675.9,129.2 691.7,127.8 711.5,126.1 731.3,124.7 755.1,123.2 778.8,121.8"/>
<polyline points="584.9,150.2 588.8,146.8 592.8,144.8 596.7,143.2 600.7,141.9 604.6,140.8 608.6,139.9 612.6,139.0 620.5,137.5 628.4,136.2 636.3,135.0 648.2,133.5 660.1,132.2 675.9,130.6 691.7,129.3 711.5,127.8 731.3,126.4 755.1,125.0 778.8,123.6"/>
<polyline points="584.9,151.9 588.8,149.1 592.8,147.1 596.7,145.5 600.7,144.2 604.6,143.1 608.6,142.2 612.6,141.3 620.5,139.8 628.4,138.5 636.3,137.4 648.2,135.9 660.1,134.6 675.9,133.1 691.7,131.8 711.5,130.3 731.3,129.0 755.1,127.6 778.8,126.3"/>
<polyline points="584.9,149.8 588.8,146.1 592.8,143.8 596.7,142.1 600.7,140.7 604.6,139.5 608.6,138.4 612.6,137.5 620.5,135.9 628.4,134.5 636.3,133.2 648.2,131.6 660.1,130.2 675.9,128.6 691.7,127.2 711.5,125.6 731.3,124.2 755.1,122.7 778.8,121.4"/>
<polyline points="584.9,151.5 588.8,148.7 592.8,146.6 596.7,145.0 600.7,143.7 604.6,142.6 608.6,141.6 612.6,140.7 620.5,139.1 628.4,137.8 636.3,136.7 648.2,135.1 660.1,133.8 675.9,132.3 691.7,130.9 711.5,129.4 731.3,128.1 755.1,126.6 778.8,125.4"/>
<polyline points="584.9,154.1 588.8,152.1 592.8,150.5 596.7,149.3 600.7,148.2 604.6,147.3 608.6,146.5 612.6,145.8 620.5,144.6 628.4,143.5 636.3,142.5 648.2,141.2 660.1,140.1 675.9,138.8 691.7,137.7 711.5,136.4 731.3,135.2 755.1,134.0 778.8,132.9"/>
<polyline points="584.9,151.7 588.8,148.4 592.8,146.4 596.7,144.9 600.7,143.6 604.6,142.6 608.6,141.6 612.6,140.7 620.5,139.2 628.4,138.0 636.3,136.8 648.2,135.3 660.1,134.0 675.9,132.5 691.7,131.1 711.5,129.6 731.3,128.3 755.1,126.8 778.8,125.5"/>
<polyline points="584.9,154.1 588.8,152.4 592.8,150.9 596.7,149.8 600.7,148.8 604.6,148.0 608.6,147.3 612.6,146.6 620.5,145.4 628.4,144.4 636.3,143.5 648.2,142.3 660.1,141.3 675.9,140.1 691.7,139.0 711.5,137.7 731.3,136.6 755.1,135.4 778.8,134.4"/>
<polyline points="584.9,152.7 588.8,149.8 592.8,148.0 596.7,146.6 600.7,145.4 604.6,144.4 608.6,143.5 612.6,142.7 620.5,141.3 628.4,140.1 636.3,139.1 648.2,137.7 660.1,136.5 675.9,135.1 691.7,133.8 711.5,132.5 731.3,131.2 755.1,129.9 778.8,128.7"/>
<polyline points="584.9,153.3 588.8,150.9 592.8,149.1 596.7,147.8 600.7,146.6 604.6,145.6 608.6,144.8 612.6,144.0 620.5,142.6 628.4,141.5 636.3,140.4 648.2,139.1 660.1,137.9 675.9,136.5 691.7,135.2 711.5,133.8 731.3,132.6 755.1,131.3 778.8,130.1"/>
<polyline points="584.9,153.4 588.8,150.8 592.8,148.9 596.7,147.5 600.7,146.3 604.6,145.2 608.6,144.3 612.6,143.5 620.5,142.0 628.4,140.8 636.3,139.7 648.2,138.2 660.1,136.9 675.9,135.4 691.7,134.1 711.5,132.7 731.3,131.4 755.1,129.9 778.8,128.7"/>
<polyline points="584.9,153.4 588.8,151.3 592.8,149.7 596.7,148.5 600.7,147.4 604.6,146.5 608.6,145.7 612.6,145.0 620.5,143.7 628.4,142.6 636.3,141.6 648.2,140.3 660.1,139.2 675.9,137.9 691.7,136.7 711.5,135.3 731.3,134.2 755.1,132.9 778.8,131.7"/>
<polyline points="584.9,151.5 588.8,148.5 592.8,146.6 596.7,145.1 600.7,143.9 604.6,142.8 608.6,141.9 612.6,141.1 620.5,139.6 628.4,138.4 636.3,137.3 648.2,135.9 660.1,134.6 675.9,133.2 691.7,131.9 711.5,130.4 731.3,129.2 755.1,127.8 778.8,126.6"/>
<polyline points="584.9,151.5 588.8,148.5 592.8,146.4 596.7,144.8 600.7,143.4 604.6,142.3 608.6,141.3 612.6,140.3 620.5,138.8 628.4,137.4 636.3,136.2 648.2,134.6 660.1,133.2 675.9,131.6 691.7,130.2 711.5,128.6 731.3,127.2 755.1,125.6 778.8,124.3"/>
<polyline points="584.9,153.6 588.8,151.1 592.8,149.3 596.7,147.9 600.7,146.7 604.6,145.7 608.6,144.9 612.6,144.1 620.5,142.7 628.4,141.5 636.3,140.4 648.2,139.0 660.1,137.7 675.9,136.3 691.7,135.0 711.5,133.6 731.3,132.3 755.1,130.9 778.8,129.6"/>
<polyline points="584.9,154.7 588.8,152.8 592.8,151.0 596.7,149.7 600.7,148.6 604.6,147.7 608.6,146.9 612.6,146.1 620.5,144.8 628.4,143.7 636.3,142.7 648.2,141.4 660.1,140.2 675.9,138.9 691.7,137.7 711.5,136.3 731.3,135.1 755.1,133.9 778.8,132.7"/>
<polyline points="584.9,152.7 588.8,149.9 592.8,147.9 596.7,146.3 600.7,145.0 604.6,143.9 608.6,142.9 612.6,142.1 620.5,140.6 628.4,139.3 636.3,138.1 648.2,136.6 660.1,135.3 675.9,133.8 691.7,132.5 711.5,131.0 731.3,129.7 755.1,128.3 778.8,127.0"/>
<polyline points="584.9,151.9 588.8,149.1 592.8,147.2 596.7,145.7 600.7,144.4 604.6,143.4 608.6,142.4 612.6,141.6 620.5,140.1 628.4,138.8 636.3,137.7 648.2,136.2 660.1,134.9 675.9,133.4 691.7,132.0 711.5,130.5 731.3,129.2 755.1,127.7 778.8,126.4"/>
<polyline points="584.9,152.5 588.8,149.2 592.8,147.2 596.7,145.7 600.7,144.4 604.6,143.3 608.6,142.3 612.6,141.5 620.5,139.9 628.4,138.6 636.3,137.4 648.2,135.9 660.1,134.5 675.9,132.9 691.7,131.5 711.5,130.0 731.3,128.6 755.1,127.1 778.8,125.7"/>
<polyline points="584.9,151.3 588.8,148.0 592.8,145.8 596.7,144.2 600.7,142.9 604.6,141.7 608.6,140.7 612.6,139.8 620.5,138.2 628.4,136.9 636.3,135.7 648.2,134.1 660.1,132.8 675.9,131.2 691.7,129.8 711.5,128.2 731.3,126.9 755.1,125.4 778.8,124.0"/>
<polyline points="584.9,154.2 588.8,152.4 592.8,150.8 596.7,149.5 600.7,148.5 604.6,147.6 608.6,146.7 612.6,146.0 620.5,144.7 628.4,143.6 636.3,142.7 648.2,141.4 660.1,140.2 675.9,138.9 691.7,137.7 711.5,136.4 731.3,135.2 755.1,133.9 778.8,132.7"/>
<polyline points="584.9,153.4 588.8,150.7 592.8,148.8 596.7,147.4 600.7,146.2 604.6,145.1 608.6,144.2 612.6,143.4 620.5,142.0 628.4,140.8 636.3,139.7 648.2,138.3 660.1,137.1 675.9,135.6 691.7,134.4 711.5,133.0 731.3,131.7 755.1,130.4 778.8,129.2"/>
<polyline points="584.9,152.6 588.8,150.3 592.8,148.5 596.7,147.1 600.7,146.0 604.6,145.0 608.6,144.1 612.6,143.3 620.5,142.0 628.4,140.8 636.3,139.8 648.2,138.4 660.1,137.2 675.9,135.8 691.7,134.6 711.5,133.2 731.3,132.0 755.1,130.7 778.8,129.5"/>
<polyline points="584.9,153.1 588.8,150.9 592.8,149.1 596.7,147.6 600.7,146.5 604.6,145.4 608.6,144.5 612.6,143.7 620.5,142.4 628.4,141.2 636.3,140.1 648.2,138.7 660.1,137.5 675.9,136.1 691.7,134.8 711.5,133.4 731.3,132.2 755.1,130.9 778.8,129.7"/>
<polyline points="584.9,154.0 588.8,151.8 592.8,150.1 596.7,148.8 600.7,147.7 604.6,146.7 608.6,145.9 612.6,145.1 620.5,143.8 628.4,142.6 636.3,141.6 648.2,140.3 660.1,139.1 675.9,137.8 691.7,136.6 711.5,135.2 731.3,134.0 755.1,132.8 778.8,131.6"/>
<polyline points="584.9,151.7 588.8,148.7 592.8,146.8 596.7,145.3 600.7,144.0 604.6,143.0 608.6,142.0 612.6,141.2 620.5,139.7 628.4,138.4 636.3,137.3 648.2,135.9 660.1,134.6 675.9,133.1 691.7,131.7 711.5,130.2 731.3,128.9 755.1,127.5 778.8,126.2"/>
<polyline points="584.9,154.1 588.8,152.3 592.8,150.7 596.7,149.5 600.7,148.5 604.6,147.6 608.6,146.8 612.6,146.2 620.5,144.9 628.4,143.9 636.3,143.0 648.2,141.8 660.1,140.7 675.9,139.4 691.7,138.3 711.5,137.1 731.3,136.0 755.1,134.8 778.8,133.7"/>
<polyline points="584.9,149.8 588.8,146.5 592.8,144.1 596.7,142.3 600.7,140.9 604.6,139.6 608.6,138.6 612.6,137.6 620.5,135.9 628.4,134.5 636.3,133.2 648.2,131.5 660.1,130.1 675.9,128.5 691.7,127.0 711.5,125.4 731.3,124.0 755.1,122.5 778.8,121.1"/>
<polyline points="584.9,152.2 588.8,149.3 592.8,147.2 596.7,145.6 600.7,144.3 604.6,143.2 608.6,142.2 612.6,141.3 620.5,139.7 628.4,138.4 636.3,137.2 648.2,135.7 660.1,134.3 675.9,132.7 691.7,131.4 711.5,129.8 731.3,128.4 755.1,127.0 778.8,125.6"/>
<polyline points="584.9,153.6 588.8,151.5 592.8,149.9 596.7,148.7 600.7,147.7 604.6,146.8 608.6,146.0 612.6,145.3 620.5,144.1 628.4,143.1 636.3,142.1 648.2,140.9 660.1,139.8 675.9,138.6 691.7,137.4 711.5,136.2 731.3,135.1 755.1,133.9 778.8,132.8"/>
<polyline points="584.9,152.3 588.8,150.0 592.8,148.2 596.7,146.8 600.7,145.7 604.6,144.7 608.6,143.8 612.6,143.0 620.5,141.6 628.4,140.5 636.3,139.4 648.2,138.1 660.1,136.9 675.9,135.5 691.7,134.2 711.5,132.9 731.3,131.6 755.1,130.3 778.8,129.1"/>
<polyline points="584.9,154.5 588.8,152.3 592.8,150.6 596.7,149.2 600.7,148.0 604.6,147.1 608.6,146.2 612.6,145.4 620.5,144.0 628.4,142.8 636.3,141.7 648.2,140.3 660.1,139.1 675.9,137.6 691.7,136.3 711.5,134.9 731.3,133.6 755.1,132.2 778.8,131.0"/>
<polyline points="584.9,151.3 588.8,148.0 592.8,145.8 596.7,144.2 600.7,142.8 604.6,141.6 608.6,140.6 612.6,139.7 620.5,138.1 628.4,136.7 636.3,135.5 648.2,134.0 660.1,132.6 675.9,131.0 691.7,129.6 711.5,128.0 731.3,126.6 755.1,125.1 778.8,123.8"/>
<polyline points="584.9,153.4 588.8,151.0 592.8,149.2 596.7,147.9 600.7,146.7 604.6,145.8 608.6,144.9 612.6,144.2 620.5,142.9 628.4,141.7 636.3,140.7 648.2,139.4 660.1,138.2 675.9,136.9 691.7,135.7 711.5,134.4 731.3,133.2 755.1,131.9 778.8,130.8"/>
<polyline points="584.9,151.8 588.8,148.8 592.8,147.0 596.7,145.5 600.7,144.3 604.6,143.3 608.6,142.4 612.6,141.6 620.5,140.2 628.4,139.0 636.3,137.9 648.2,136.5 660.1,135.3 675.9,133.9 691.7,132.6 711.5,131.2 731.3,130.0 755.1,128.7 778.8,127.5"/>
<polyline points="584.9,153.2 588.8,150.8 592.8,148.9 596.7,147.4 600.7,146.1 604.6,145.1 608.6,144.1 612.6,143.3 620.5,141.8 628.4,140.6 636.3,139.5 648.2,138.0 660.1,136.8 675.9,135.3 691.7,134.0 711.5,132.5 731.3,131.3 755.1,129.9 778.8,128.6"/>
<polyline points="584.9,154.2 588.8,152.1 592.8,150.6 596.7,149.3 600.7,148.3 604.6,147.4 608.6,146.6 612.6,145.9 620.5,144.7 628.4,143.6 636.3,142.6 648.2,141.3 660.1,140.2 675.9,138.9 691.7,137.7 711.5,136.4 731.3,135.2 755.1,133.9 778.8,132.7"/>
<polyline points="584.9,153.3 588.8,151.1 592.8,149.4 596.7,148.1 600.7,147.0 604.6,146.1 608.6,145.3 612.6,144.6 620.5,143.3 628.4,142.2 636.3,141.2 648.2,139.9 660.1,138.8 675.9,137.5 691.7,136.3 711.5,135.0 731.3,133.9 755.1,132.6 778.8,131.5"/>
<polyline points="584.9,151.0 588.8,147.2 592.8,145.0 596.7,143.3 600.7,141.9 604.6,140.7 608.6,139.6 612.6,138.6 620.5,137.0 628.4,135.5 636.3,134.3 648.2,132.6 660.1,131.1 675.9,129.4 691.7,127.9 711.5,126.3 731.3,124.8 755.1,123.2 778.8,121.8"/>
<polyline points="584.9,152.9 588.8,150.0 592.8,148.2 596.7,146.7 600.7,145.6 604.6,144.6 608.6,143.7 612.6,142.9 620.5,141.4 628.4,140.2 636.3,139.2 648.2,137.8 660.1,136.5 675.9,135.1 691.7,133.8 711.5,132.4 731.3,131.2 755.1,129.8 778.8,128.6"/>
<polyline points="584.9,154.0 588.8,151.8 592.8,150.1 596.7,148.9 600.7,147.8 604.6,146.9 608.6,146.1 612.6,145.3 620.5,144.0 628.4,142.9 636.3,141.9 648.2,140.6 660.1,139.5 675.9,138.1 691.7,136.9 711.5,135.6 731.3,134.3 755.1,133.0 778.8,131.9"/>
<polyline points="584.9,152.5 588.8,149.8 592.8,148.0 596.7,146.7 600.7,145.5 604.6,144.6 608.6,143.7 612.6,143.0 620.5,141.6 628.4,140.5 636.3,139.5 648.2,138.1 660.1,137.0 675.9,135.6 691.7,134.4 711.5,133.1 731.3,131.9 755.1,130.6 778.8,129.5"/>
<polyline points="584.9,153.9 588.8,152.0 592.8,150.5 596.7,149.3 600.7,148.3 604.6,147.4 608.6,146.6 612.6,146.0 620.5,144.8 628.4,143.7 636.3,142.8 648.2,141.6 660.1,140.5 675.9,139.3 691.7,138.2 711.5,137.0 731.3,135.9 755.1,134.7 778.8,133.6"/>
<polyline points="584.9,154.7 588.8,152.2 592.8,150.6 596.7,149.3 600.7,148.2 604.6,147.2 608.6,146.4 612.6,145.7 620.5,144.4 628.4,143.2 636.3,142.2 648.2,140.9 660.1,139.7 675.9,138.3 691.7,137.1 711.5,135.8 731.3,134.6 755.1,133.2 778.8,132.1"/>
<polyline points="584.9,154.7 588.8,152.6 592.8,151.0 596.7,149.8 600.7,148.7 604.6,147.9 608.6,147.1 612.6,146.4 620.5,145.2 628.4,144.1 636.3,143.2 648.2,142.0 660.1,140.9 675.9,139.7 691.7,138.5 711.5,137.3 731.3,136.2 755.1,135.0 778.8,133.9"/>
<polyline points="584.9,152.1 588.8,149.5 592.8,147.7 596.7,146.3 600.7,145.2 604.6,144.2 608.6,143.3 612.6,142.5 620.5,141.2 628.4,140.0 636.3,139.0 648.2,137.7 660.1,136.5 675.9,135.1 691.7,133.9 711.5,132.6 731.3,131.4 755.1,130.1 778.8,129.0"/>
<polyline points="584.9,151.8 588.8,148.5 592.8,146.5 596.7,145.0 600.7,143.7 604.6,142.6 608.6,141.6 612.6,140.7 620.5,139.2 628.4,137.9 636.3,136.8 648.2,135.3 660.1,133.9 675.9,132.4 691.7,131.0 711.5,129.5 731.3,128.2 755.1,126.8 778.8,125.5"/>
<polyline points="584.9,150.1 588.8,146.2 592.8,144.0 596.7,142.3 600.7,140.9 604.6,139.7 608.6,138.6 612.6,137.7 620.5,136.0 628.4,134.6 636.3,133.4 648.2,131.8 660.1,130.4 675.9,128.7 691.7,127.3 711.5,125.7 731.3,124.3 755.1,122.8 778.8,121.4"/>
<polyline points="584.9,147.3 588.8,143.2 592.8,140.1 596.7,137.9 600.7,136.2 604.6,134.8 608.6,133.6 612.6,132.5 620.5,130.8 628.4,129.4 636.3,128.2 648.2,126.6 660.1,125.4 675.9,123.9 691.7,122.7 711.5,121.4 731.3,120.3 755.1,119.2 778.8,118.2"/>
<polyline points="584.9,146.0 588.8,141.9 592.8,138.7 596.7,136.4 600.7,134.6 604.6,133.2 608.6,132.0 612.6,131.0 620.5,129.3 628.4,127.9 636.3,126.7 648.2,125.3 660.1,124.1 675.9,122.7 691.7,121.6 711.5,120.4 731.3,119.4 755.1,118.3 778.8,117.4"/>
<polyline points="584.9,145.1 588.8,140.8 592.8,137.4 596.7,135.1 600.7,133.4 604.6,131.9 608.6,130.7 612.6,129.7 620.5,128.0 628.4,126.7 636.3,125.5 648.2,124.1 660.1,122.9 675.9,121.6 691.7,120.5 711.5,119.4 731.3,118.4 755.1,117.4 778.8,116.5"/>
<polyline points="584.9,145.5 588.8,141.2 592.8,137.9 596.7,135.6 600.7,133.8 604.6,132.4 608.6,131.2 612.6,130.2 620.5,128.4 628.4,127.1 636.3,125.9 648.2,124.4 660.1,123.2 675.9,121.8 691.7,120.7 711.5,119.5 731.3,118.5 755.1,117.4 778.8,116.5"/>
<polyline points="584.9,148.9 588.8,145.2 592.8,142.2 596.7,140.0 600.7,138.3 604.6,136.9 608.6,135.7 612.6,134.7 620.5,132.9 628.4,131.5 636.3,130.3 648.2,128.7 660.1,127.4 675.9,126.0 691.7,124.7 711.5,123.4 731.3,122.3 755.1,121.1 778.8,120.0"/>
<polyline points="584.9,146.6 588.8,142.3 592.8,139.1 596.7,136.8 600.7,135.1 604.6,133.7 608.6,132.5 612.6,131.5 620.5,129.8 628.4,128.4 636.3,127.2 648.2,125.7 660.1,124.5 675.9,123.1 691.7,121.9 711.5,120.7 731.3,119.6 755.1,118.5 778.8,117.6"/>
<polyline points="584.9,145.8 588.8,141.6 592.8,138.4 596.7,136.2 600.7,134.4 604.6,133.0 608.6,131.8 612.6,130.8 620.5,129.1 628.4,127.8 636.3,126.6 648.2,125.1 660.1,123.9 675.9,122.6 691.7,121.4 711.5,120.2 731.3,119.2 755.1,118.1 778.8,117.2"/>
<polyline points="584.9,146.3 588.8,141.9 592.8,138.6 596.7,136.2 600.7,134.4 604.6,132.9 608.6,131.7 612.6,130.6 620.5,128.9 628.4,127.4 636.3,126.2 648.2,124.7 660.1,123.4 675.9,122.0 691.7,120.8 711.5,119.6 731.3,118.5 755.1,117.4 778.8,116.4"/>
<polyline points="584.9,145.8 588.8,141.1 592.8,137.9 596.7,135.6 600.7,133.8 604.6,132.3 608.6,131.0 612.6,129.9 620.5,128.1 628.4,126.6 636.3,125.3 648.2,123.6 660.1,122.3 675.9,120.7 691.7,119.4 711.5,118.0 731.3,116.8 755.1,115.5 778.8,114.4"/>
<polyline points="584.9,145.9 588.8,140.8 592.8,137.3 596.7,134.8 600.7,132.9 604.6,131.3 608.6,130.0 612.6,128.9 620.5,127.0 628.4,125.5 636.3,124.2 648.2,122.6 660.1,121.3 675.9,119.8 691.7,118.5 711.5,117.2 731.3,116.1 755.1,114.9 778.8,113.9"/>
<polyline points="584.9,142.4 588.8,137.3 592.8,133.9 596.7,131.5 600.7,129.7 604.6,128.1 608.6,126.9 612.6,125.8 620.5,124.0 628.4,122.5 636.3,121.2 648.2,119.6 660.1,118.3 675.9,116.9 691.7,115.6 711.5,114.3 731.3,113.2 755.1,112.0 778.8,111.0"/>
<polyline points="584.9,143.3 588.8,138.4 592.8,134.8 596.7,132.4 600.7,130.5 604.6,128.9 608.6,127.7 612.6,126.6 620.5,124.7 628.4,123.3 636.3,122.0 648.2,120.5 660.1,119.2 675.9,117.8 691.7,116.6 711.5,115.3 731.3,114.3 755.1,113.1 778.8,112.2"/>
<polyline points="584.9,144.3 588.8,139.2 592.8,135.8 596.7,133.5 600.7,131.6 604.6,130.1 608.6,128.9 612.6,127.8 620.5,125.9 628.4,124.4 636.3,123.1 648.2,121.5 660.1,120.2 675.9,118.7 691.7,117.4 711.5,116.1 731.3,114.9 755.1,113.7 778.8,112.6"/>
<polyline points="584.9,146.0 588.8,141.3 592.8,138.1 596.7,135.8 600.7,134.0 604.6,132.5 608.6,131.3 612.6,130.2 620.5,128.3 628.4,126.8 636.3,125.5 648.2,123.9 660.1,122.5 675.9,121.0 691.7,119.6 711.5,118.2 731.3,117.0 755.1,115.7 778.8,114.6"/>
<polyline points="584.9,145.7 588.8,140.9 592.8,137.6 596.7,135.2 600.7,133.4 604.6,131.9 608.6,130.6 612.6,129.5 620.5,127.7 628.4,126.1 636.3,124.8 648.2,123.2 660.1,121.8 675.9,120.3 691.7,119.0 711.5,117.6 731.3,116.4 755.1,115.1 778.8,114.0"/>
<polyline points="584.9,146.2 588.8,141.1 592.8,137.8 596.7,135.4 600.7,133.5 604.6,132.0 608.6,130.7 612.6,129.6 620.5,127.7 628.4,126.2 636.3,124.9 648.2,123.3 660.1,121.9 675.9,120.3 691.7,119.0 711.5,117.6 731.3,116.4 755.1,115.2 778.8,114.1"/>
<polyline points="584.9,75.3 588.8,52.3 592.8,44.8 596.7,39.8 600.7,36.2 604.6,33.4 608.6,31.1 612.6,29.1 620.5,26.0 628.4,23.6 636.3,21.6 648.2,19.2 660.1,17.3 675.9,15.2 691.7,13.5 711.5,11.8 731.3,10.3 755.1,8.9 778.8,7.6"/>
<polyline points="584.9,140.6 588.8,133.8 592.8,128.9 596.7,125.6 600.7,123.1 604.6,121.1 608.6,119.5 612.6,118.0 620.5,115.7 628.4,113.8 636.3,112.3 648.2,110.4 660.1,108.8 675.9,107.0 691.7,105.6 711.5,104.1 731.3,102.8 755.1,101.5 778.8,100.3"/>
<polyline points="584.9,141.4 588.8,134.6 592.8,129.8 596.7,126.5 600.7,124.1 604.6,122.1 608.6,120.4 612.6,119.0 620.5,116.7 628.4,114.9 636.3,113.3 648.2,111.4 660.1,109.8 675.9,108.1 691.7,106.7 711.5,105.2 731.3,103.9 755.1,102.6 778.8,101.5"/>
</g>
<g fill="none" stroke="#66bb2e" stroke-width="1.0">
<polyline points="584.9,151.5 588.8,148.4 592.8,146.4 596.7,144.8 600.7,143.6 604.6,142.5 608.6,141.5 612.6,140.6 620.5,139.1 628.4,137.7 636.3,136.6 648.2,135.0 660.1,133.6 675.9,132.0 691.7,130.6 711.5,129.0 731.3,127.6 755.1,126.1 778.8,124.7"/>
<polyline points="584.9,152.5 588.8,149.8 592.8,148.0 596.7,146.6 600.7,145.5 604.6,144.5 608.6,143.6 612.6,142.8 620.5,141.4 628.4,140.2 636.3,139.1 648.2,137.7 660.1,136.4 675.9,134.9 691.7,133.6 711.5,132.1 731.3,130.8 755.1,129.4 778.8,128.1"/>
<polyline points="584.9,152.6 588.8,149.8 592.8,147.9 596.7,146.5 600.7,145.3 604.6,144.3 608.6,143.4 612.6,142.5 620.5,141.1 628.4,139.8 636.3,138.7 648.2,137.2 660.1,135.9 675.9,134.4 691.7,133.0 711.5,131.5 731.3,130.1 755.1,128.6 778.8,127.3"/>
<polyline points="584.9,152.6 588.8,149.9 592.8,148.1 596.7,146.7 600.7,145.6 604.6,144.6 608.6,143.7 612.6,142.9 620.5,141.5 628.4,140.2 636.3,139.1 648.2,137.7 660.1,136.4 675.9,134.9 691.7,133.6 711.5,132.1 731.3,130.8 755.1,129.4 778.8,128.1"/>
</g>
<g fill="#1c1010">
<circle cx="584.86" cy="152.48" r="1.6"/>
<circle cx="588.82" cy="150.03" r="1.6"/>
<circle cx="592.77" cy="148.28" r="1.6"/>
<circle cx="596.73" cy="146.90" r="1.6"/>
<circle cx="600.69" cy="145.74" r="1.6"/>
<circle cx="604.65" cy="144.74" r="1.6"/>
<circle cx="608.61" cy="143.85" r="1.6"/>
<circle cx="612.56" cy="143.05" r="1.6"/>
<circle cx="616.52" cy="142.31" r="1.6"/>
<circle cx="620.48" cy="141.62" r="1.6"/>
<circle cx="624.44" cy="140.99" r="1.6"/>
<circle cx="628.40" cy="140.39" r="1.6"/>
<circle cx="632.35" cy="139.83" r="1.6"/>
<circle cx="636.31" cy="139.29" r="1.6"/>
<circle cx="640.27" cy="138.79" r="1.6"/>
<circle cx="644.23" cy="138.30" r="1.6"/>
<circle cx="648.19" cy="137.84" r="1.6"/>
<circle cx="652.14" cy="137.39" r="1.6"/>
<circle cx="656.10" cy="136.96" r="1.6"/>
<circle cx="660.06" cy="136.55" r="1.6"/>
<circle cx="664.02" cy="136.15" r="1.6"/>
<circle cx="667.98" cy="135.77" r="1.6"/>
<circle cx="671.93" cy="135.40" r="1.6"/>
<circle cx="675.89" cy="135.03" r="1.6"/>
<circle cx="679.85" cy="134.68" r="1.6"/>
<circle cx="683.81" cy="134.34" r="1.6"/>
<circle cx="687.77" cy="134.01" r="1.6"/>
<circle cx="691.72" cy="133.68" r="1.6"/>
<circle cx="695.68" cy="133.37" r="1.6"/>
<circle cx="699.64" cy="133.06" r="1.6"/>
<circle cx="703.60" cy="132.76" r="1.6"/>
<circle cx="707.56" cy="132.46" r="1.6"/>
<circle cx="711.51" cy="132.17" r="1.6"/>
<circle cx="715.47" cy="131.89" r="1.6"/>
<circle cx="719.43" cy="131.61" r="1.6"/>
<circle cx="723.39" cy="131.34" r="1.6"/>
<circle cx="727.35" cy="131.08" r="1.6"/>
<circle cx="731.30" cy="130.81" r="1.6"/>
<circle cx="735.26" cy="130.56" r="1.6"/>
<circle cx="739.22" cy="130.31" r="1.6"/>
<circle cx="743.18" cy="130.06" r="1.6"/>
<circle cx="747.14" cy="129.82" r="1.6"/>
<circle cx="751.09" cy="129.58" r="1.6"/>
<circle cx="755.05" cy="129.34" r="1.6"/>
<circle cx="759.01" cy="129.11" r="1.6"/>
<circle cx="762.97" cy="128.88" r="1.6"/>
<circle cx="766.93" cy="128.66" r="1.6"/>
<circle cx="770.88" cy="128.44" r="1.6"/>
<circle cx="774.84" cy="128.22" r="1.6"/>
<circle cx="778.80" cy="128.00" r="1.6"/>
</g>
<g stroke="#403232" stroke-width="1" fill="none">
<line x1="580.9" y1="6.10" x2="580.9" y2="161.10"/>
<line x1="577.90" y1="158.1" x2="778.80" y2="158.1"/>
<line x1="577.90" y1="120.10" x2="580.9" y2="120.10"/>
<line x1="577.90" y1="82.10" x2="580.9" y2="82.10"/>
<line x1="577.90" y1="44.10" x2="580.9" y2="44.10"/>
<line x1="577.90" y1="6.10" x2="580.9" y2="6.10"/>
<line x1="620.48" y1="158.1" x2="620.48" y2="161.10"/>
<line x1="660.06" y1="158.1" x2="660.06" y2="161.10"/>
<line x1="699.64" y1="158.1" x2="699.64" y2="161.10"/>
<line x1="739.22" y1="158.1" x2="739.22" y2="161.10"/>
<line x1="778.80" y1="158.1" x2="778.80" y2="161.10"/>
</g>
<g font-family="Liberation Sans, Arial, sans-serif" font-size="10" fill="#111" stroke="#111" stroke-width="0.15">
<text x="573.00" y="161.70" text-anchor="end">0</text>
<text x="573.00" y="123.70" text-anchor="end">5</text>
<text x="573.00" y="85.70" text-anchor="end">10</text>
<text x="573.00" y="47.70" text-anchor="end">15</text>
<text x="573.00" y="9.70" text-anchor="end">20</text>
<text x="580.90" y="175.90" text-anchor="middle">0</text>
<text x="620.48" y="175.90" text-anchor="middle">10</text>
<text x="660.06" y="175.90" text-anchor="middle">20</text>
<text x="699.64" y="175.90" text-anchor="middle">30</text>
<text x="739.22" y="175.90" text-anchor="middle">40</text>
<text x="778.80" y="175.90" text-anchor="middle">50</text>
</g>
<g font-family="Liberation Sans, Arial, sans-serif" font-size="14" fill="#111" stroke="#111" stroke-width="0.25">
<text x="590.90" y="19.00" textLength="65.4" lengthAdjust="spacingAndGlyphs">Producer 3</text>
<text x="679.85" y="199.50" text-anchor="middle">Time</text>
<text transform="translate(547.60,82.10) rotate(-90)" text-anchor="middle">WWPR</text>
</g>
<g font-family="Liberation Sans, Arial, sans-serif" font-size="10" fill="#111" stroke="#111" stroke-width="0.15">
<text x="184.7" y="245.3">Initial model</text>
<text x="184.7" y="257.3">Final model</text>
<text x="184.7" y="269.3">True model</text>
</g>
<line x1="164.0" y1="241.2" x2="181.8" y2="241.2" stroke="#9f9f9f" stroke-width="1"/>
<line x1="164.0" y1="253.3" x2="181.8" y2="253.3" stroke="#66bb2e" stroke-width="1"/>
<circle cx="173.2" cy="265.6" r="1.6" fill="#1c1010"/>
<g fill="none" stroke="#9f9f9f" stroke-width="0.9">
<polyline points="49.3,358.6 53.2,353.1 57.2,349.6 61.1,347.2 65.1,345.4 69.0,343.9 73.0,342.7 77.0,341.7 84.9,340.0 92.8,338.6 100.7,337.4 112.6,336.0 124.5,334.9 140.3,333.6 156.1,332.5 175.9,331.4 195.7,330.4 219.5,329.4 243.2,328.6"/>
<polyline points="49.3,355.4 53.2,349.4 57.2,345.5 61.1,342.8 65.1,340.8 69.0,339.1 73.0,337.8 77.0,336.6 84.9,334.7 92.8,333.2 100.7,331.9 112.6,330.4 124.5,329.1 140.3,327.6 156.1,326.4 175.9,325.2 195.7,324.1 219.5,323.1 243.2,322.1"/>
<polyline points="49.3,361.2 53.2,355.5 57.2,351.8 61.1,349.1 65.1,347.1 69.0,345.6 73.0,344.2 77.0,343.1 84.9,341.2 92.8,339.7 100.7,338.4 112.6,336.9 124.5,335.6 140.3,334.1 156.1,332.9 175.9,331.7 195.7,330.6 219.5,329.5 243.2,328.6"/>
<polyline points="49.3,364.7 53.2,360.4 57.2,357.2 61.1,354.9 65.1,353.3 69.0,351.9 73.0,350.8 77.0,349.8 84.9,348.2 92.8,346.9 100.7,345.8 112.6,344.5 124.5,343.4 140.3,342.2 156.1,341.2 175.9,340.1 195.7,339.2 219.5,338.3 243.2,337.5"/>
<polyline points="49.3,358.8 53.2,352.6 57.2,348.9 61.1,346.4 65.1,344.4 69.0,342.9 73.0,341.6 77.0,340.5 84.9,338.6 92.8,337.1 100.7,335.9 112.6,334.4 124.5,333.1 140.3,331.7 156.1,330.6 175.9,329.3 195.7,328.3 219.5,327.2 243.2,326.3"/>
<polyline points="49.3,356.1 53.2,349.8 57.2,345.7 61.1,343.0 65.1,340.9 69.0,339.2 73.0,337.8 77.0,336.6 84.9,334.7 92.8,333.1 100.7,331.9 112.6,330.3 124.5,329.0 140.3,327.5 156.1,326.3 175.9,325.1 195.7,324.0 219.5,322.9 243.2,322.0"/>
<polyline points="49.3,366.3 53.2,362.0 57.2,358.7 61.1,356.4 65.1,354.7 69.0,353.3 73.0,352.1 77.0,351.1 84.9,349.4 92.8,348.1 100.7,347.0 112.6,345.6 124.5,344.4 140.3,343.2 156.1,342.1 175.9,341.0 195.7,340.1 219.5,339.1 243.2,338.2"/>
<polyline points="49.3,367.0 53.2,362.5 57.2,359.1 61.1,356.7 65.1,355.0 69.0,353.5 73.0,352.3 77.0,351.3 84.9,349.5 92.8,348.2 100.7,347.0 112.6,345.6 124.5,344.4 140.3,343.0 156.1,341.9 175.9,340.7 195.7,339.7 219.5,338.7 243.2,337.8"/>
<polyline points="49.3,361.4 53.2,356.0 57.2,352.3 61.1,349.8 65.1,347.9 69.0,346.3 73.0,345.1 77.0,344.0 84.9,342.2 92.8,340.7 100.7,339.5 112.6,338.0 124.5,336.8 140.3,335.4 156.1,334.3 175.9,333.1 195.7,332.1 219.5,331.1 243.2,330.2"/>
<polyline points="49.3,366.4 53.2,361.1 57.2,357.5 61.1,355.0 65.1,353.1 69.0,351.6 73.0,350.3 77.0,349.2 84.9,347.4 92.8,346.0 100.7,344.7 112.6,343.2 124.5,342.0 140.3,340.6 156.1,339.4 175.9,338.2 195.7,337.1 219.5,336.1 243.2,335.1"/>
<polyline points="49.3,354.9 53.2,348.9 57.2,345.2 61.1,342.6 65.1,340.7 69.0,339.1 73.0,337.8 77.0,336.7 84.9,334.9 92.8,333.4 100.7,332.2 112.6,330.7 124.5,329.5 140.3,328.1 156.1,327.0 175.9,325.8 195.7,324.7 219.5,323.7 243.2,322.8"/>
<polyline points="49.3,369.2 53.2,364.1 57.2,360.5 61.1,358.0 65.1,356.1 69.0,354.5 73.0,353.3 77.0,352.2 84.9,350.3 92.8,348.9 100.7,347.7 112.6,346.1 124.5,344.9 140.3,343.5 156.1,342.3 175.9,341.1 195.7,340.1 219.5,339.0 243.2,338.1"/>
<polyline points="49.3,354.6 53.2,348.4 57.2,344.7 61.1,342.1 65.1,340.2 69.0,338.6 73.0,337.3 77.0,336.2 84.9,334.4 92.8,333.0 100.7,331.8 112.6,330.3 124.5,329.0 140.3,327.7 156.1,326.6 175.9,325.4 195.7,324.4 219.5,323.4 243.2,322.5"/>
<polyline points="49.3,366.9 53.2,362.0 57.2,358.5 61.1,356.1 65.1,354.3 69.0,352.8 73.0,351.6 77.0,350.6 84.9,348.8 92.8,347.4 100.7,346.3 112.6,344.8 124.5,343.6 140.3,342.3 156.1,341.2 175.9,340.0 195.7,339.1 219.5,338.0 243.2,337.2"/>
<polyline points="49.3,352.8 53.2,347.0 57.2,343.5 61.1,341.0 65.1,339.2 69.0,337.7 73.0,336.5 77.0,335.4 84.9,333.7 92.8,332.3 100.7,331.2 112.6,329.8 124.5,328.6 140.3,327.4 156.1,326.3 175.9,325.2 195.7,324.3 219.5,323.3 243.2,322.5"/>
<polyline points="49.3,360.7 53.2,355.2 57.2,351.7 61.1,349.2 65.1,347.3 69.0,345.8 73.0,344.6 77.0,343.5 84.9,341.7 92.8,340.3 100.7,339.2 112.6,337.7 124.5,336.5 140.3,335.2 156.1,334.1 175.9,332.9 195.7,331.9 219.5,330.9 243.2,330.0"/>
<polyline points="49.3,355.9 53.2,350.0 57.2,346.2 61.1,343.6 65.1,341.7 69.0,340.1 73.0,338.8 77.0,337.7 84.9,335.9 92.8,334.4 100.7,333.2 112.6,331.8 124.5,330.5 140.3,329.2 156.1,328.1 175.9,326.9 195.7,325.9 219.5,324.9 243.2,324.1"/>
<polyline points="49.3,358.1 53.2,352.4 57.2,348.8 61.1,346.3 65.1,344.4 69.0,342.9 73.0,341.6 77.0,340.5 84.9,338.7 92.8,337.3 100.7,336.2 112.6,334.7 124.5,333.5 140.3,332.2 156.1,331.1 175.9,329.9 195.7,329.0 219.5,328.0 243.2,327.1"/>
<polyline points="49.3,360.3 53.2,354.7 57.2,350.9 61.1,348.3 65.1,346.3 69.0,344.8 73.0,343.4 77.0,342.3 84.9,340.5 92.8,339.0 100.7,337.8 112.6,336.2 124.5,335.0 140.3,333.6 156.1,332.4 175.9,331.2 195.7,330.2 219.5,329.2 243.2,328.2"/>
<polyline points="49.3,367.2 53.2,362.2 57.2,358.8 61.1,356.5 65.1,354.7 69.0,353.3 73.0,352.1 77.0,351.0 84.9,349.3 92.8,347.9 100.7,346.8 112.6,345.3 124.5,344.2 140.3,342.8 156.1,341.7 175.9,340.5 195.7,339.6 219.5,338.5 243.2,337.6"/>
<polyline points="49.3,360.5 53.2,355.1 57.2,351.7 61.1,349.3 65.1,347.5 69.0,346.1 73.0,344.9 77.0,343.9 84.9,342.2 92.8,340.8 100.7,339.7 112.6,338.3 124.5,337.2 140.3,335.9 156.1,334.8 175.9,333.7 195.7,332.8 219.5,331.8 243.2,331.0"/>
<polyline points="49.3,359.4 53.2,353.8 57.2,350.1 61.1,347.6 65.1,345.6 69.0,344.1 73.0,342.8 77.0,341.7 84.9,339.9 92.8,338.5 100.7,337.2 112.6,335.8 124.5,334.5 140.3,333.2 156.1,332.0 175.9,330.9 195.7,329.9 219.5,328.8 243.2,327.9"/>
<polyline points="49.3,361.3 53.2,356.7 57.2,353.2 61.1,350.9 65.1,349.1 69.0,347.6 73.0,346.4 77.0,345.4 84.9,343.7 92.8,342.4 100.7,341.2 112.6,339.8 124.5,338.7 140.3,337.4 156.1,336.3 175.9,335.2 195.7,334.3 219.5,333.3 243.2,332.4"/>
<polyline points="49.3,358.2 53.2,352.6 57.2,348.8 61.1,346.2 65.1,344.2 69.0,342.6 73.0,341.3 77.0,340.2 84.9,338.3 92.8,336.8 100.7,335.6 112.6,334.1 124.5,332.8 140.3,331.4 156.1,330.2 175.9,329.0 195.7,328.0 219.5,326.9 243.2,326.0"/>
<polyline points="49.3,358.0 53.2,352.6 57.2,349.2 61.1,346.9 65.1,345.1 69.0,343.7 73.0,342.5 77.0,341.5 84.9,339.8 92.8,338.4 100.7,337.3 112.6,335.9 124.5,334.8 140.3,333.5 156.1,332.4 175.9,331.3 195.7,330.4 219.5,329.4 243.2,328.5"/>
<polyline points="49.3,368.2 53.2,362.9 57.2,359.3 61.1,356.8 65.1,354.9 69.0,353.4 73.0,352.1 77.0,351.0 84.9,349.2 92.8,347.8 100.7,346.5 112.6,345.0 124.5,343.8 140.3,342.4 156.1,341.3 175.9,340.0 195.7,339.0 219.5,337.9 243.2,337.0"/>
<polyline points="49.3,364.9 53.2,360.0 57.2,356.7 61.1,354.4 65.1,352.6 69.0,351.2 73.0,350.1 77.0,349.1 84.9,347.4 92.8,346.1 100.7,345.0 112.6,343.6 124.5,342.5 140.3,341.2 156.1,340.1 175.9,339.0 195.7,338.1 219.5,337.1 243.2,336.3"/>
<polyline points="49.3,362.2 53.2,357.5 57.2,354.3 61.1,352.1 65.1,350.4 69.0,349.1 73.0,348.0 77.0,347.0 84.9,345.4 92.8,344.1 100.7,343.0 112.6,341.7 124.5,340.6 140.3,339.3 156.1,338.3 175.9,337.2 195.7,336.3 219.5,335.3 243.2,334.5"/>
<polyline points="49.3,356.9 53.2,351.1 57.2,347.5 61.1,345.0 65.1,343.1 69.0,341.5 73.0,340.3 77.0,339.2 84.9,337.4 92.8,336.0 100.7,334.8 112.6,333.3 124.5,332.1 140.3,330.8 156.1,329.6 175.9,328.5 195.7,327.5 219.5,326.5 243.2,325.6"/>
<polyline points="49.3,363.9 53.2,358.7 57.2,355.2 61.1,352.8 65.1,350.9 69.0,349.4 73.0,348.2 77.0,347.1 84.9,345.3 92.8,343.9 100.7,342.7 112.6,341.3 124.5,340.1 140.3,338.7 156.1,337.6 175.9,336.4 195.7,335.4 219.5,334.4 243.2,333.5"/>
<polyline points="49.3,357.5 53.2,351.5 57.2,347.4 61.1,344.7 65.1,342.6 69.0,340.9 73.0,339.5 77.0,338.4 84.9,336.4 92.8,334.9 100.7,333.6 112.6,332.1 124.5,330.8 140.3,329.3 156.1,328.2 175.9,326.9 195.7,325.9 219.5,324.8 243.2,323.9"/>
<polyline points="49.3,358.6 53.2,353.1 57.2,349.6 61.1,347.2 65.1,345.3 69.0,343.9 73.0,342.6 77.0,341.6 84.9,339.8 92.8,338.4 100.7,337.3 112.6,335.8 124.5,334.7 140.3,333.3 156.1,332.2 175.9,331.1 195.7,330.1 219.5,329.1 243.2,328.2"/>
<polyline points="49.3,363.5 53.2,358.2 57.2,354.4 61.1,351.8 65.1,349.9 69.0,348.3 73.0,347.0 77.0,345.9 84.9,344.0 92.8,342.5 100.7,341.3 112.6,339.8 124.5,338.5 140.3,337.1 156.1,336.0 175.9,334.8 195.7,333.8 219.5,332.7 243.2,331.8"/>
<polyline points="49.3,355.5 53.2,350.4 57.2,346.8 61.1,344.4 65.1,342.6 69.0,341.1 73.0,339.9 77.0,338.9 84.9,337.2 92.8,335.8 100.7,334.7 112.6,333.3 124.5,332.1 140.3,330.9 156.1,329.8 175.9,328.7 195.7,327.7 219.5,326.8 243.2,326.0"/>
<polyline points="49.3,363.3 53.2,358.1 57.2,354.7 61.1,352.3 65.1,350.5 69.0,349.1 73.0,347.8 77.0,346.8 84.9,345.1 92.8,343.7 100.7,342.5 112.6,341.0 124.5,339.8 140.3,338.5 156.1,337.4 175.9,336.2 195.7,335.2 219.5,334.2 243.2,333.3"/>
<polyline points="49.3,362.2 53.2,356.8 57.2,353.4 61.1,351.0 65.1,349.2 69.0,347.7 73.0,346.5 77.0,345.4 84.9,343.7 92.8,342.3 100.7,341.2 112.6,339.8 124.5,338.6 140.3,337.3 156.1,336.2 175.9,335.0 195.7,334.1 219.5,333.1 243.2,332.2"/>
<polyline points="49.3,362.7 53.2,357.6 57.2,354.2 61.1,351.9 65.1,350.1 69.0,348.6 73.0,347.4 77.0,346.4 84.9,344.7 92.8,343.3 100.7,342.1 112.6,340.7 124.5,339.5 140.3,338.2 156.1,337.1 175.9,335.9 195.7,335.0 219.5,334.0 243.2,333.1"/>
<polyline points="49.3,361.0 53.2,355.7 57.2,352.0 61.1,349.4 65.1,347.5 69.0,345.9 73.0,344.6 77.0,343.4 84.9,341.6 92.8,340.1 100.7,338.9 112.6,337.3 124.5,336.1 140.3,334.7 156.1,333.5 175.9,332.3 195.7,331.2 219.5,330.2 243.2,329.2"/>
<polyline points="49.3,366.4 53.2,361.6 57.2,358.2 61.1,355.8 65.1,354.0 69.0,352.5 73.0,351.3 77.0,350.2 84.9,348.5 92.8,347.1 100.7,346.0 112.6,344.6 124.5,343.4 140.3,342.1 156.1,341.0 175.9,339.8 195.7,338.8 219.5,337.8 243.2,337.0"/>
<polyline points="49.3,356.0 53.2,350.2 57.2,346.8 61.1,344.4 65.1,342.6 69.0,341.1 73.0,339.9 77.0,338.9 84.9,337.2 92.8,335.8 100.7,334.7 112.6,333.3 124.5,332.1 140.3,330.8 156.1,329.8 175.9,328.7 195.7,327.7 219.5,326.7 243.2,325.9"/>
<polyline points="49.3,363.7 53.2,358.5 57.2,354.8 61.1,352.3 65.1,350.3 69.0,348.8 73.0,347.5 77.0,346.3 84.9,344.5 92.8,343.0 100.7,341.8 112.6,340.3 124.5,339.0 140.3,337.6 156.1,336.4 175.9,335.2 195.7,334.2 219.5,333.1 243.2,332.2"/>
<polyline points="49.3,362.2 53.2,356.3 57.2,352.4 61.1,349.8 65.1,347.9 69.0,346.3 73.0,345.0 77.0,343.8 84.9,342.0 92.8,340.5 100.7,339.3 112.6,337.8 124.5,336.5 140.3,335.2 156.1,334.0 175.9,332.8 195.7,331.8 219.5,330.7 243.2,329.9"/>
<polyline points="49.3,369.0 53.2,364.1 57.2,360.4 61.1,357.8 65.1,355.8 69.0,354.2 73.0,352.9 77.0,351.8 84.9,349.9 92.8,348.4 100.7,347.1 112.6,345.6 124.5,344.3 140.3,342.8 156.1,341.6 175.9,340.4 195.7,339.3 219.5,338.2 243.2,337.3"/>
<polyline points="49.3,357.7 53.2,351.8 57.2,347.8 61.1,345.1 65.1,343.0 69.0,341.4 73.0,340.0 77.0,338.8 84.9,336.9 92.8,335.3 100.7,334.0 112.6,332.4 124.5,331.1 140.3,329.7 156.1,328.5 175.9,327.2 195.7,326.2 219.5,325.1 243.2,324.1"/>
<polyline points="49.3,365.2 53.2,360.0 57.2,356.3 61.1,353.6 65.1,351.7 69.0,350.0 73.0,348.7 77.0,347.6 84.9,345.7 92.8,344.1 100.7,342.9 112.6,341.3 124.5,340.0 140.3,338.5 156.1,337.3 175.9,336.0 195.7,334.9 219.5,333.8 243.2,332.8"/>
<polyline points="49.3,365.8 53.2,360.6 57.2,357.1 61.1,354.7 65.1,352.8 69.0,351.3 73.0,350.0 77.0,349.0 84.9,347.2 92.8,345.7 100.7,344.5 112.6,343.0 124.5,341.8 140.3,340.4 156.1,339.3 175.9,338.1 195.7,337.0 219.5,336.0 243.2,335.1"/>
<polyline points="49.3,365.7 53.2,360.2 57.2,356.7 61.1,354.2 65.1,352.3 69.0,350.8 73.0,349.6 77.0,348.5 84.9,346.7 92.8,345.2 100.7,344.0 112.6,342.5 124.5,341.3 140.3,339.9 156.1,338.7 175.9,337.5 195.7,336.5 219.5,335.4 243.2,334.5"/>
<polyline points="49.3,360.1 53.2,354.7 57.2,351.1 61.1,348.6 65.1,346.7 69.0,345.2 73.0,343.9 77.0,342.8 84.9,341.0 92.8,339.6 100.7,338.4 112.6,336.9 124.5,335.7 140.3,334.4 156.1,333.2 175.9,332.0 195.7,331.0 219.5,330.0 243.2,329.1"/>
<polyline points="49.3,368.9 53.2,363.8 57.2,360.3 61.1,357.8 65.1,355.9 69.0,354.4 73.0,353.1 77.0,352.0 84.9,350.2 92.8,348.8 100.7,347.6 112.6,346.1 124.5,344.9 140.3,343.5 156.1,342.3 175.9,341.1 195.7,340.1 219.5,339.0 243.2,338.1"/>
<polyline points="49.3,366.1 53.2,360.6 57.2,357.1 61.1,354.6 65.1,352.7 69.0,351.2 73.0,349.9 77.0,348.8 84.9,347.0 92.8,345.6 100.7,344.4 112.6,342.8 124.5,341.6 140.3,340.2 156.1,339.0 175.9,337.8 195.7,336.8 219.5,335.7 243.2,334.7"/>
<polyline points="49.3,354.8 53.2,349.5 57.2,346.0 61.1,343.5 65.1,341.7 69.0,340.2 73.0,339.0 77.0,338.0 84.9,336.3 92.8,334.9 100.7,333.8 112.6,332.4 124.5,331.2 140.3,330.0 156.1,328.9 175.9,327.8 195.7,326.9 219.5,325.9 243.2,325.1"/>
<polyline points="49.3,367.6 53.2,362.6 57.2,358.9 61.1,356.3 65.1,354.4 69.0,352.8 73.0,351.5 77.0,350.4 84.9,348.5 92.8,347.0 100.7,345.8 112.6,344.2 124.5,342.9 140.3,341.5 156.1,340.3 175.9,339.0 195.7,338.0 219.5,336.8 243.2,335.9"/>
<polyline points="49.3,359.6 53.2,353.9 57.2,350.3 61.1,347.8 65.1,345.9 69.0,344.4 73.0,343.1 77.0,342.1 84.9,340.3 92.8,338.9 100.7,337.7 112.6,336.2 124.5,335.0 140.3,333.7 156.1,332.6 175.9,331.4 195.7,330.4 219.5,329.4 243.2,328.5"/>
<polyline points="49.3,367.3 53.2,362.1 57.2,358.6 61.1,356.2 65.1,354.3 69.0,352.8 73.0,351.5 77.0,350.5 84.9,348.7 92.8,347.2 100.7,346.0 112.6,344.5 124.5,343.2 140.3,341.9 156.1,340.7 175.9,339.5 195.7,338.4 219.5,337.3 243.2,336.4"/>
<polyline points="49.3,352.9 53.2,347.3 57.2,343.7 61.1,341.3 65.1,339.4 69.0,337.9 73.0,336.7 77.0,335.6 84.9,333.9 92.8,332.5 100.7,331.4 112.6,329.9 124.5,328.8 140.3,327.5 156.1,326.4 175.9,325.3 195.7,324.3 219.5,323.3 243.2,322.5"/>
<polyline points="49.3,364.5 53.2,359.5 57.2,356.1 61.1,353.6 65.1,351.8 69.0,350.3 73.0,349.1 77.0,348.0 84.9,346.2 92.8,344.8 100.7,343.6 112.6,342.1 124.5,340.9 140.3,339.5 156.1,338.4 175.9,337.2 195.7,336.2 219.5,335.1 243.2,334.2"/>
<polyline points="49.3,365.5 53.2,360.4 57.2,356.7 61.1,354.2 65.1,352.3 69.0,350.7 73.0,349.4 77.0,348.3 84.9,346.5 92.8,345.0 100.7,343.8 112.6,342.3 124.5,341.0 140.3,339.6 156.1,338.5 175.9,337.2 195.7,336.2 219.5,335.1 243.2,334.2"/>
<polyline points="49.3,354.7 53.2,348.8 57.2,345.2 61.1,342.7 65.1,340.8 69.0,339.3 73.0,338.0 77.0,336.9 84.9,335.2 92.8,333.8 100.7,332.6 112.6,331.2 124.5,330.0 140.3,328.7 156.1,327.7 175.9,326.5 195.7,325.6 219.5,324.6 243.2,323.8"/>
<polyline points="49.3,362.6 53.2,357.5 57.2,353.8 61.1,351.3 65.1,349.4 69.0,347.9 73.0,346.6 77.0,345.6 84.9,343.8 92.8,342.4 100.7,341.2 112.6,339.7 124.5,338.5 140.3,337.1 156.1,336.0 175.9,334.8 195.7,333.8 219.5,332.8 243.2,331.9"/>
<polyline points="49.3,353.4 53.2,347.8 57.2,344.4 61.1,342.0 65.1,340.3 69.0,338.8 73.0,337.6 77.0,336.6 84.9,334.9 92.8,333.6 100.7,332.4 112.6,331.0 124.5,329.9 140.3,328.6 156.1,327.6 175.9,326.5 195.7,325.5 219.5,324.6 243.2,323.7"/>
<polyline points="49.3,365.2 53.2,360.5 57.2,357.2 61.1,355.0 65.1,353.3 69.0,351.9 73.0,350.8 77.0,349.8 84.9,348.2 92.8,346.9 100.7,345.8 112.6,344.4 124.5,343.3 140.3,342.1 156.1,341.0 175.9,339.9 195.7,339.0 219.5,338.0 243.2,337.2"/>
<polyline points="49.3,352.7 53.2,347.0 57.2,343.6 61.1,341.2 65.1,339.4 69.0,337.9 73.0,336.8 77.0,335.7 84.9,334.1 92.8,332.7 100.7,331.6 112.6,330.2 124.5,329.1 140.3,327.8 156.1,326.8 175.9,325.7 195.7,324.8 219.5,323.8 243.2,323.0"/>
<polyline points="49.3,361.9 53.2,356.6 57.2,352.9 61.1,350.4 65.1,348.5 69.0,347.0 73.0,345.7 77.0,344.6 84.9,342.8 92.8,341.4 100.7,340.2 112.6,338.7 124.5,337.4 140.3,336.1 156.1,334.9 175.9,333.7 195.7,332.7 219.5,331.7 243.2,330.8"/>
<polyline points="49.3,369.1 53.2,364.3 57.2,360.7 61.1,358.2 65.1,356.3 69.0,354.7 73.0,353.5 77.0,352.4 84.9,350.5 92.8,349.1 100.7,347.8 112.6,346.3 124.5,345.0 140.3,343.6 156.1,342.4 175.9,341.2 195.7,340.1 219.5,339.1 243.2,338.1"/>
<polyline points="49.3,354.5 53.2,349.0 57.2,345.3 61.1,342.9 65.1,341.0 69.0,339.5 73.0,338.2 77.0,337.1 84.9,335.4 92.8,334.0 100.7,332.8 112.6,331.4 124.5,330.2 140.3,328.9 156.1,327.8 175.9,326.6 195.7,325.7 219.5,324.7 243.2,323.8"/>
<polyline points="49.3,360.6 53.2,355.0 57.2,351.1 61.1,348.5 65.1,346.4 69.0,344.8 73.0,343.5 77.0,342.3 84.9,340.4 92.8,338.9 100.7,337.7 112.6,336.1 124.5,334.8 140.3,333.4 156.1,332.2 175.9,331.0 195.7,329.9 219.5,328.8 243.2,327.9"/>
<polyline points="49.3,363.6 53.2,359.0 57.2,355.5 61.1,353.1 65.1,351.3 69.0,349.8 73.0,348.6 77.0,347.6 84.9,345.9 92.8,344.5 100.7,343.4 112.6,342.0 124.5,340.8 140.3,339.5 156.1,338.4 175.9,337.3 195.7,336.3 219.5,335.3 243.2,334.5"/>
<polyline points="49.3,363.6 53.2,358.4 57.2,354.9 61.1,352.4 65.1,350.5 69.0,349.0 73.0,347.8 77.0,346.7 84.9,344.9 92.8,343.5 100.7,342.4 112.6,340.9 124.5,339.7 140.3,338.4 156.1,337.3 175.9,336.1 195.7,335.1 219.5,334.1 243.2,333.2"/>
<polyline points="49.3,353.2 53.2,347.4 57.2,344.0 61.1,341.6 65.1,339.8 69.0,338.3 73.0,337.1 77.0,336.1 84.9,334.4 92.8,333.0 100.7,331.9 112.6,330.5 124.5,329.3 140.3,328.0 156.1,327.0 175.9,325.8 195.7,324.9 219.5,323.9 243.2,323.1"/>
<polyline points="49.3,364.8 53.2,359.7 57.2,356.2 61.1,353.9 65.1,352.1 69.0,350.6 73.0,349.4 77.0,348.4 84.9,346.7 92.8,345.3 100.7,344.2 112.6,342.8 124.5,341.6 140.3,340.3 156.1,339.2 175.9,338.1 195.7,337.1 219.5,336.1 243.2,335.3"/>
<polyline points="49.3,365.6 53.2,360.3 57.2,356.8 61.1,354.4 65.1,352.5 69.0,351.1 73.0,349.8 77.0,348.8 84.9,347.0 92.8,345.6 100.7,344.4 112.6,343.0 124.5,341.8 140.3,340.4 156.1,339.3 175.9,338.1 195.7,337.1 219.5,336.1 243.2,335.2"/>
<polyline points="49.3,353.8 53.2,348.1 57.2,344.5 61.1,342.1 65.1,340.3 69.0,338.9 73.0,337.7 77.0,336.6 84.9,334.9 92.8,333.6 100.7,332.5 112.6,331.1 124.5,329.9 140.3,328.7 156.1,327.6 175.9,326.5 195.7,325.6 219.5,324.7 243.2,323.8"/>
<polyline points="49.3,359.0 53.2,353.6 57.2,349.8 61.1,347.1 65.1,345.2 69.0,343.6 73.0,342.3 77.0,341.2 84.9,339.3 92.8,337.8 100.7,336.6 112.6,335.1 124.5,333.9 140.3,332.5 156.1,331.4 175.9,330.2 195.7,329.2 219.5,328.2 243.2,327.3"/>
<polyline points="49.3,368.2 53.2,363.3 57.2,359.7 61.1,357.2 65.1,355.4 69.0,353.9 73.0,352.6 77.0,351.5 84.9,349.8 92.8,348.3 100.7,347.1 112.6,345.7 124.5,344.4 140.3,343.1 156.1,342.0 175.9,340.8 195.7,339.8 219.5,338.7 243.2,337.9"/>
<polyline points="49.3,365.9 53.2,360.5 57.2,356.9 61.1,354.5 65.1,352.6 69.0,351.1 73.0,349.9 77.0,348.8 84.9,347.0 92.8,345.5 100.7,344.3 112.6,342.9 124.5,341.6 140.3,340.2 156.1,339.1 175.9,337.9 195.7,336.9 219.5,335.8 243.2,334.9"/>
<polyline points="49.3,362.6 53.2,357.6 57.2,353.9 61.1,351.3 65.1,349.4 69.0,347.9 73.0,346.6 77.0,345.5 84.9,343.7 92.8,342.2 100.7,341.0 112.6,339.5 124.5,338.3 140.3,336.9 156.1,335.8 175.9,334.6 195.7,333.6 219.5,332.6 243.2,331.7"/>
<polyline points="49.3,360.2 53.2,354.4 57.2,350.5 61.1,347.8 65.1,345.7 69.0,344.1 73.0,342.7 77.0,341.6 84.9,339.6 92.8,338.1 100.7,336.8 112.6,335.2 124.5,333.9 140.3,332.4 156.1,331.2 175.9,329.9 195.7,328.8 219.5,327.7 243.2,326.7"/>
<polyline points="49.3,360.6 53.2,356.0 57.2,352.7 61.1,350.4 65.1,348.7 69.0,347.3 73.0,346.1 77.0,345.1 84.9,343.4 92.8,342.1 100.7,341.0 112.6,339.6 124.5,338.4 140.3,337.2 156.1,336.1 175.9,335.0 195.7,334.1 219.5,333.1 243.2,332.2"/>
<polyline points="49.3,363.2 53.2,357.9 57.2,354.4 61.1,352.0 65.1,350.2 69.0,348.8 73.0,347.5 77.0,346.5 84.9,344.8 92.8,343.4 100.7,342.2 112.6,340.8 124.5,339.6 140.3,338.3 156.1,337.2 175.9,336.0 195.7,335.1 219.5,334.1 243.2,333.2"/>
<polyline points="49.3,354.8 53.2,348.9 57.2,345.2 61.1,342.6 65.1,340.7 69.0,339.1 73.0,337.8 77.0,336.8 84.9,335.0 92.8,333.5 100.7,332.3 112.6,330.9 124.5,329.7 140.3,328.4 156.1,327.3 175.9,326.1 195.7,325.1 219.5,324.1 243.2,323.3"/>
<polyline points="49.3,359.6 53.2,354.1 57.2,350.5 61.1,348.0 65.1,346.2 69.0,344.7 73.0,343.4 77.0,342.3 84.9,340.5 92.8,339.1 100.7,337.9 112.6,336.5 124.5,335.2 140.3,333.9 156.1,332.8 175.9,331.6 195.7,330.6 219.5,329.6 243.2,328.7"/>
<polyline points="49.3,363.5 53.2,358.1 57.2,354.3 61.1,351.7 65.1,349.6 69.0,348.0 73.0,346.7 77.0,345.6 84.9,343.7 92.8,342.2 100.7,340.9 112.6,339.3 124.5,338.1 140.3,336.6 156.1,335.5 175.9,334.2 195.7,333.2 219.5,332.1 243.2,331.2"/>
<polyline points="49.3,367.1 53.2,362.2 57.2,358.6 61.1,356.1 65.1,354.2 69.0,352.7 73.0,351.4 77.0,350.3 84.9,348.5 92.8,347.0 100.7,345.8 112.6,344.3 124.5,343.0 140.3,341.6 156.1,340.5 175.9,339.2 195.7,338.2 219.5,337.1 243.2,336.2"/>
<polyline points="49.3,367.6 53.2,362.7 57.2,359.2 61.1,356.8 65.1,354.9 69.0,353.4 73.0,352.2 77.0,351.2 84.9,349.4 92.8,348.0 100.7,346.8 112.6,345.4 124.5,344.1 140.3,342.8 156.1,341.7 175.9,340.5 195.7,339.5 219.5,338.5 243.2,337.6"/>
<polyline points="49.3,357.4 53.2,351.1 57.2,347.2 61.1,344.5 65.1,342.5 69.0,340.9 73.0,339.5 77.0,338.4 84.9,336.5 92.8,335.0 100.7,333.7 112.6,332.1 124.5,330.8 140.3,329.4 156.1,328.2 175.9,327.0 195.7,325.9 219.5,324.8 243.2,323.9"/>
<polyline points="49.3,351.3 53.2,342.8 57.2,338.8 61.1,336.1 65.1,334.0 69.0,332.4 73.0,331.0 77.0,329.8 84.9,327.8 92.8,326.2 100.7,324.9 112.6,323.3 124.5,322.0 140.3,320.5 156.1,319.2 175.9,317.9 195.7,316.8 219.5,315.7 243.2,314.7"/>
<polyline points="49.3,346.1 53.2,336.3 57.2,331.9 61.1,328.9 65.1,326.6 69.0,324.8 73.0,323.3 77.0,322.0 84.9,319.8 92.8,318.1 100.7,316.7 112.6,315.0 124.5,313.6 140.3,312.0 156.1,310.7 175.9,309.3 195.7,308.1 219.5,306.9 243.2,305.9"/>
<polyline points="49.3,356.8 53.2,348.8 57.2,344.7 61.1,341.8 65.1,339.6 69.0,337.9 73.0,336.4 77.0,335.1 84.9,333.1 92.8,331.4 100.7,330.0 112.6,328.2 124.5,326.8 140.3,325.2 156.1,323.8 175.9,322.4 195.7,321.2 219.5,320.0 243.2,318.9"/>
<polyline points="49.3,355.6 53.2,347.5 57.2,343.3 61.1,340.4 65.1,338.2 69.0,336.4 73.0,335.0 77.0,333.7 84.9,331.6 92.8,329.9 100.7,328.5 112.6,326.8 124.5,325.3 140.3,323.7 156.1,322.4 175.9,321.0 195.7,319.8 219.5,318.6 243.2,317.5"/>
<polyline points="49.3,347.1 53.2,338.8 57.2,334.9 61.1,332.2 65.1,330.2 69.0,328.5 73.0,327.2 77.0,326.0 84.9,324.1 92.8,322.6 100.7,321.4 112.6,319.8 124.5,318.5 140.3,317.1 156.1,315.9 175.9,314.7 195.7,313.6 219.5,312.6 243.2,311.6"/>
<polyline points="49.3,349.0 53.2,340.4 57.2,336.4 61.1,333.6 65.1,331.5 69.0,329.8 73.0,328.3 77.0,327.1 84.9,325.1 92.8,323.5 100.7,322.1 112.6,320.5 124.5,319.1 140.3,317.5 156.1,316.2 175.9,314.9 195.7,313.8 219.5,312.6 243.2,311.6"/>
<polyline points="49.3,354.2 53.2,346.2 57.2,342.5 61.1,339.9 65.1,337.9 69.0,336.2 73.0,334.9 77.0,333.7 84.9,331.8 92.8,330.2 100.7,328.9 112.6,327.3 124.5,325.9 140.3,324.4 156.1,323.2 175.9,321.9 195.7,320.7 219.5,319.6 243.2,318.5"/>
<polyline points="49.3,354.1 53.2,346.1 57.2,342.0 61.1,339.2 65.1,337.0 69.0,335.3 73.0,333.9 77.0,332.6 84.9,330.6 92.8,329.0 100.7,327.6 112.6,325.9 124.5,324.5 140.3,322.9 156.1,321.7 175.9,320.3 195.7,319.1 219.5,318.0 243.2,316.9"/>
<polyline points="49.3,353.4 53.2,345.1 57.2,341.0 61.1,338.1 65.1,336.0 69.0,334.2 73.0,332.8 77.0,331.5 84.9,329.5 92.8,327.9 100.7,326.5 112.6,324.8 124.5,323.4 140.3,321.9 156.1,320.6 175.9,319.3 195.7,318.1 219.5,317.0 243.2,315.9"/>
<polyline points="49.3,351.6 53.2,344.0 57.2,340.0 61.1,337.2 65.1,335.1 69.0,333.4 73.0,332.0 77.0,330.8 84.9,328.8 92.8,327.2 100.7,325.9 112.6,324.2 124.5,322.8 140.3,321.3 156.1,320.0 175.9,318.7 195.7,317.5 219.5,316.4 243.2,315.4"/>
<polyline points="49.3,346.0 53.2,336.5 57.2,332.2 61.1,329.2 65.1,326.9 69.0,325.2 73.0,323.7 77.0,322.4 84.9,320.3 92.8,318.7 100.7,317.3 112.6,315.6 124.5,314.2 140.3,312.6 156.1,311.4 175.9,310.0 195.7,308.9 219.5,307.7 243.2,306.7"/>
<polyline points="49.3,348.8 53.2,340.0 57.2,336.0 61.1,333.2 65.1,331.1 69.0,329.4 73.0,328.0 77.0,326.8 84.9,324.8 92.8,323.2 100.7,321.9 112.6,320.2 124.5,318.9 140.3,317.4 156.1,316.2 175.9,314.9 195.7,313.8 219.5,312.6 243.2,311.7"/>
<polyline points="49.3,370.6 53.2,366.5 57.2,363.2 61.1,360.9 65.1,359.2 69.0,357.8 73.0,356.6 77.0,355.6 84.9,353.9 92.8,352.6 100.7,351.5 112.6,350.1 124.5,349.0 140.3,347.7 156.1,346.6 175.9,345.5 195.7,344.6 219.5,343.6 243.2,342.7"/>
<polyline points="49.3,370.1 53.2,365.9 57.2,362.5 61.1,360.2 65.1,358.5 69.0,357.1 73.0,355.9 77.0,354.9 84.9,353.2 92.8,351.9 100.7,350.8 112.6,349.4 124.5,348.2 140.3,346.9 156.1,345.9 175.9,344.8 195.7,343.8 219.5,342.8 243.2,342.0"/>
<polyline points="49.3,369.8 53.2,365.4 57.2,362.0 61.1,359.6 65.1,357.8 69.0,356.4 73.0,355.2 77.0,354.1 84.9,352.4 92.8,351.1 100.7,349.9 112.6,348.5 124.5,347.4 140.3,346.1 156.1,345.1 175.9,343.9 195.7,343.0 219.5,342.0 243.2,341.2"/>
<polyline points="49.3,370.5 53.2,366.6 57.2,363.3 61.1,361.0 65.1,359.3 69.0,357.9 73.0,356.8 77.0,355.8 84.9,354.1 92.8,352.8 100.7,351.7 112.6,350.3 124.5,349.2 140.3,347.9 156.1,346.8 175.9,345.7 195.7,344.8 219.5,343.8 243.2,343.0"/>
<polyline points="49.3,370.2 53.2,365.8 57.2,362.5 61.1,360.1 65.1,358.4 69.0,357.0 73.0,355.8 77.0,354.8 84.9,353.1 92.8,351.8 100.7,350.7 112.6,349.3 124.5,348.1 140.3,346.9 156.1,345.8 175.9,344.7 195.7,343.8 219.5,342.8 243.2,342.0"/>
<polyline points="49.3,370.2 53.2,366.1 57.2,362.7 61.1,360.4 65.1,358.6 69.0,357.2 73.0,356.0 77.0,355.0 84.9,353.3 92.8,351.9 100.7,350.8 112.6,349.4 124.5,348.3 140.3,347.0 156.1,345.9 175.9,344.8 195.7,343.8 219.5,342.9 243.2,342.0"/>
<polyline points="49.3,282.2 53.2,262.5 57.2,257.8 61.1,254.5 65.1,252.1 69.0,250.2 73.0,248.6 77.0,247.2 84.9,245.0 92.8,243.2 100.7,241.7 112.6,239.9 124.5,238.4 140.3,236.7 156.1,235.4 175.9,234.0 195.7,232.8 219.5,231.5 243.2,230.5"/>
<polyline points="49.3,314.1 53.2,293.3 57.2,287.0 61.1,282.7 65.1,279.5 69.0,277.0 73.0,274.9 77.0,273.0 84.9,270.1 92.8,267.7 100.7,265.8 112.6,263.4 124.5,261.4 140.3,259.3 156.1,257.5 175.9,255.6 195.7,254.0 219.5,252.4 243.2,251.0"/>
<polyline points="49.3,334.6 53.2,316.8 57.2,310.8 61.1,306.7 65.1,303.6 69.0,301.1 73.0,299.1 77.0,297.3 84.9,294.4 92.8,292.1 100.7,290.2 112.6,287.8 124.5,285.8 140.3,283.6 156.1,281.8 175.9,280.0 195.7,278.4 219.5,276.7 243.2,275.3"/>
<polyline points="49.3,338.4 53.2,323.3 57.2,317.7 61.1,313.8 65.1,310.9 69.0,308.6 73.0,306.7 77.0,305.0 84.9,302.3 92.8,300.1 100.7,298.3 112.6,296.1 124.5,294.3 140.3,292.2 156.1,290.5 175.9,288.8 195.7,287.3 219.5,285.8 243.2,284.4"/>
<polyline points="49.3,341.4 53.2,326.8 57.2,321.3 61.1,317.6 65.1,314.7 69.0,312.5 73.0,310.6 77.0,309.0 84.9,306.4 92.8,304.3 100.7,302.5 112.6,300.3 124.5,298.5 140.3,296.6 156.1,294.9 175.9,293.2 195.7,291.8 219.5,290.3 243.2,289.0"/>
<polyline points="49.3,346.0 53.2,334.7 57.2,330.1 61.1,326.9 65.1,324.5 69.0,322.6 73.0,321.0 77.0,319.7 84.9,317.4 92.8,315.6 100.7,314.1 112.6,312.3 124.5,310.8 140.3,309.1 156.1,307.7 175.9,306.3 195.7,305.0 219.5,303.8 243.2,302.7"/>
</g>
<g fill="none" stroke="#66bb2e" stroke-width="1.0">
<polyline points="49.3,368.5 53.2,363.6 57.2,359.9 61.1,357.3 65.1,355.4 69.0,353.9 73.0,352.6 77.0,351.5 84.9,349.6 92.8,348.2 100.7,346.9 112.6,345.4 124.5,344.2 140.3,342.8 156.1,341.6 175.9,340.4 195.7,339.4 219.5,338.3 243.2,337.4"/>
<polyline points="49.3,369.7 53.2,365.2 57.2,361.9 61.1,359.6 65.1,357.8 69.0,356.4 73.0,355.2 77.0,354.2 84.9,352.5 92.8,351.2 100.7,350.0 112.6,348.6 124.5,347.5 140.3,346.2 156.1,345.1 175.9,343.9 195.7,342.9 219.5,341.9 243.2,341.1"/>
<polyline points="49.3,368.2 53.2,363.1 57.2,359.4 61.1,356.9 65.1,354.9 69.0,353.3 73.0,352.0 77.0,350.9 84.9,349.0 92.8,347.5 100.7,346.3 112.6,344.7 124.5,343.4 140.3,342.0 156.1,340.8 175.9,339.6 195.7,338.5 219.5,337.4 243.2,336.5"/>
<polyline points="49.3,368.3 53.2,363.1 57.2,359.3 61.1,356.7 65.1,354.7 69.0,353.0 73.0,351.7 77.0,350.6 84.9,348.7 92.8,347.1 100.7,345.9 112.6,344.3 124.5,343.0 140.3,341.5 156.1,340.3 175.9,339.1 195.7,338.0 219.5,336.9 243.2,336.0"/>
<polyline points="49.3,367.7 53.2,362.4 57.2,358.5 61.1,355.9 65.1,353.9 69.0,352.3 73.0,350.9 77.0,349.8 84.9,347.9 92.8,346.4 100.7,345.1 112.6,343.6 124.5,342.3 140.3,340.9 156.1,339.7 175.9,338.5 195.7,337.4 219.5,336.3 243.2,335.4"/>
<polyline points="49.3,369.6 53.2,365.1 57.2,361.7 61.1,359.3 65.1,357.5 69.0,356.0 73.0,354.8 77.0,353.8 84.9,352.0 92.8,350.6 100.7,349.5 112.6,348.0 124.5,346.8 140.3,345.4 156.1,344.3 175.9,343.1 195.7,342.1 219.5,341.1 243.2,340.2"/>
<polyline points="49.3,368.3 53.2,362.8 57.2,358.9 61.1,356.2 65.1,354.1 69.0,352.5 73.0,351.1 77.0,349.9 84.9,348.0 92.8,346.4 100.7,345.1 112.6,343.5 124.5,342.2 140.3,340.8 156.1,339.5 175.9,338.3 195.7,337.2 219.5,336.1 243.2,335.1"/>
<polyline points="49.3,367.3 53.2,361.9 57.2,358.0 61.1,355.3 65.1,353.3 69.0,351.6 73.0,350.3 77.0,349.1 84.9,347.2 92.8,345.6 100.7,344.3 112.6,342.7 124.5,341.4 140.3,340.0 156.1,338.7 175.9,337.5 195.7,336.4 219.5,335.3 243.2,334.3"/>
<polyline points="49.3,367.8 53.2,362.3 57.2,358.3 61.1,355.5 65.1,353.4 69.0,351.7 73.0,350.4 77.0,349.2 84.9,347.2 92.8,345.6 100.7,344.3 112.6,342.7 124.5,341.4 140.3,339.9 156.1,338.7 175.9,337.4 195.7,336.3 219.5,335.2 243.2,334.3"/>
<polyline points="49.3,368.7 53.2,363.5 57.2,359.8 61.1,357.3 65.1,355.3 69.0,353.7 73.0,352.4 77.0,351.3 84.9,349.4 92.8,348.0 100.7,346.7 112.6,345.2 124.5,343.9 140.3,342.5 156.1,341.3 175.9,340.1 195.7,339.0 219.5,337.9 243.2,337.0"/>
<polyline points="49.3,368.9 53.2,364.0 57.2,360.4 61.1,357.9 65.1,356.0 69.0,354.5 73.0,353.2 77.0,352.1 84.9,350.3 92.8,348.8 100.7,347.6 112.6,346.1 124.5,344.9 140.3,343.5 156.1,342.3 175.9,341.1 195.7,340.1 219.5,339.0 243.2,338.1"/>
<polyline points="49.3,367.7 53.2,362.1 57.2,358.2 61.1,355.5 65.1,353.5 69.0,351.9 73.0,350.5 77.0,349.3 84.9,347.4 92.8,345.9 100.7,344.6 112.6,343.0 124.5,341.7 140.3,340.2 156.1,339.0 175.9,337.7 195.7,336.6 219.5,335.5 243.2,334.5"/>
</g>
<g fill="#1c1010">
<circle cx="49.26" cy="368.80" r="1.6"/>
<circle cx="53.22" cy="363.69" r="1.6"/>
<circle cx="57.17" cy="359.82" r="1.6"/>
<circle cx="61.13" cy="357.17" r="1.6"/>
<circle cx="65.09" cy="355.16" r="1.6"/>
<circle cx="69.05" cy="353.56" r="1.6"/>
<circle cx="73.01" cy="352.22" r="1.6"/>
<circle cx="76.96" cy="351.08" r="1.6"/>
<circle cx="80.92" cy="350.09" r="1.6"/>
<circle cx="84.88" cy="349.21" r="1.6"/>
<circle cx="88.84" cy="348.42" r="1.6"/>
<circle cx="92.80" cy="347.71" r="1.6"/>
<circle cx="96.75" cy="347.06" r="1.6"/>
<circle cx="100.71" cy="346.47" r="1.6"/>
<circle cx="104.67" cy="345.91" r="1.6"/>
<circle cx="108.63" cy="345.40" r="1.6"/>
<circle cx="112.59" cy="344.92" r="1.6"/>
<circle cx="116.54" cy="344.48" r="1.6"/>
<circle cx="120.50" cy="344.05" r="1.6"/>
<circle cx="124.46" cy="343.66" r="1.6"/>
<circle cx="128.42" cy="343.28" r="1.6"/>
<circle cx="132.38" cy="342.92" r="1.6"/>
<circle cx="136.33" cy="342.58" r="1.6"/>
<circle cx="140.29" cy="342.26" r="1.6"/>
<circle cx="144.25" cy="341.95" r="1.6"/>
<circle cx="148.21" cy="341.65" r="1.6"/>
<circle cx="152.17" cy="341.37" r="1.6"/>
<circle cx="156.12" cy="341.10" r="1.6"/>
<circle cx="160.08" cy="340.83" r="1.6"/>
<circle cx="164.04" cy="340.58" r="1.6"/>
<circle cx="168.00" cy="340.34" r="1.6"/>
<circle cx="171.96" cy="340.10" r="1.6"/>
<circle cx="175.91" cy="339.88" r="1.6"/>
<circle cx="179.87" cy="339.66" r="1.6"/>
<circle cx="183.83" cy="339.44" r="1.6"/>
<circle cx="187.79" cy="339.24" r="1.6"/>
<circle cx="191.75" cy="339.04" r="1.6"/>
<circle cx="195.70" cy="338.84" r="1.6"/>
<circle cx="199.66" cy="338.66" r="1.6"/>
<circle cx="203.62" cy="338.47" r="1.6"/>
<circle cx="207.58" cy="338.30" r="1.6"/>
<circle cx="211.54" cy="338.12" r="1.6"/>
<circle cx="215.49" cy="337.95" r="1.6"/>
<circle cx="219.45" cy="337.79" r="1.6"/>
<circle cx="223.41" cy="337.63" r="1.6"/>
<circle cx="227.37" cy="337.47" r="1.6"/>
<circle cx="231.33" cy="337.32" r="1.6"/>
<circle cx="235.28" cy="337.17" r="1.6"/>
<circle cx="239.24" cy="337.02" r="1.6"/>
<circle cx="243.20" cy="336.88" r="1.6"/>
</g>
<g stroke="#403232" stroke-width="1" fill="none">
<line x1="45.3" y1="224.40" x2="45.3" y2="379.40"/>
<line x1="42.30" y1="376.4" x2="243.20" y2="376.4"/>
<line x1="42.30" y1="338.40" x2="45.3" y2="338.40"/>
<line x1="42.30" y1="300.40" x2="45.3" y2="300.40"/>
<line x1="42.30" y1="262.40" x2="45.3" y2="262.40"/>
<line x1="42.30" y1="224.40" x2="45.3" y2="224.40"/>
<line x1="84.88" y1="376.4" x2="84.88" y2="379.40"/>
<line x1="124.46" y1="376.4" x2="124.46" y2="379.40"/>
<line x1="164.04" y1="376.4" x2="164.04" y2="379.40"/>
<line x1="203.62" y1="376.4" x2="203.62" y2="379.40"/>
<line x1="243.20" y1="376.4" x2="243.20" y2="379.40"/>
</g>
<g font-family="Liberation Sans, Arial, sans-serif" font-size="10" fill="#111" stroke="#111" stroke-width="0.15">
<text x="37.40" y="380.00" text-anchor="end">0</text>
<text x="37.40" y="342.00" text-anchor="end">5</text>
<text x="37.40" y="304.00" text-anchor="end">10</text>
<text x="37.40" y="266.00" text-anchor="end">15</text>
<text x="37.40" y="228.00" text-anchor="end">20</text>
<text x="45.30" y="393.80" text-anchor="middle">0</text>
<text x="84.88" y="393.80" text-anchor="middle">10</text>
<text x="124.46" y="393.80" text-anchor="middle">20</text>
<text x="164.04" y="393.80" text-anchor="middle">30</text>
<text x="203.62" y="393.80" text-anchor="middle">40</text>
<text x="243.20" y="393.80" text-anchor="middle">50</text>
</g>
<g font-family="Liberation Sans, Arial, sans-serif" font-size="14" fill="#111" stroke="#111" stroke-width="0.25">
<text x="55.30" y="237.30" textLength="65.4" lengthAdjust="spacingAndGlyphs">Producer 4</text>
<text x="144.25" y="417.80" text-anchor="middle">Time</text>
<text transform="translate(12.00,300.40) rotate(-90)" text-anchor="middle">WWPR</text>
</g>
<g font-family="Liberation Sans, Arial, sans-serif" font-size="10" fill="#111" stroke="#111" stroke-width="0.15">
<text x="451.6" y="245.3">Initial model</text>
<text x="451.6" y="257.3">Final model</text>
<text x="451.6" y="269.3">True model</text>
</g>
<line x1="431.0" y1="241.2" x2="448.7" y2="241.2" stroke="#9f9f9f" stroke-width="1"/>
<line x1="431.0" y1="253.3" x2="448.7" y2="253.3" stroke="#66bb2e" stroke-width="1"/>
<circle cx="439.9" cy="265.6" r="1.6" fill="#1c1010"/>
<g fill="none" stroke="#9f9f9f" stroke-width="0.9">
<polyline points="317.2,371.6 321.1,368.4 325.1,366.5 329.0,365.0 333.0,363.9 336.9,363.0 340.9,362.1 344.9,361.4 352.8,360.2 360.7,359.2 368.6,358.3 380.5,357.1 392.4,356.2 408.2,355.1 424.0,354.1 443.8,353.1 463.6,352.2 487.4,351.2 511.1,350.4"/>
<polyline points="317.2,366.5 321.1,363.0 325.1,360.9 329.0,359.3 333.0,358.0 336.9,357.0 340.9,356.0 344.9,355.3 352.8,353.9 360.7,352.8 368.6,351.8 380.5,350.6 392.4,349.6 408.2,348.4 424.0,347.4 443.8,346.3 463.6,345.3 487.4,344.3 511.1,343.4"/>
<polyline points="317.2,365.3 321.1,361.8 325.1,359.5 329.0,357.9 333.0,356.5 336.9,355.5 340.9,354.5 344.9,353.7 352.8,352.3 360.7,351.2 368.6,350.2 380.5,348.9 392.4,347.9 408.2,346.7 424.0,345.6 443.8,344.5 463.6,343.5 487.4,342.5 511.1,341.6"/>
<polyline points="317.2,370.0 321.1,367.9 325.1,366.4 329.0,365.2 333.0,364.3 336.9,363.5 340.9,362.9 344.9,362.3 352.8,361.3 360.7,360.5 368.6,359.8 380.5,358.9 392.4,358.1 408.2,357.2 424.0,356.4 443.8,355.6 463.6,354.9 487.4,354.1 511.1,353.5"/>
<polyline points="317.2,367.6 321.1,363.8 325.1,361.3 329.0,359.4 333.0,358.0 336.9,356.8 340.9,355.8 344.9,354.8 352.8,353.3 360.7,352.1 368.6,351.0 380.5,349.6 392.4,348.4 408.2,347.1 424.0,345.9 443.8,344.7 463.6,343.6 487.4,342.5 511.1,341.5"/>
<polyline points="317.2,372.2 321.1,369.6 325.1,367.9 329.0,366.7 333.0,365.7 336.9,364.8 340.9,364.1 344.9,363.5 352.8,362.4 360.7,361.6 368.6,360.8 380.5,359.8 392.4,359.0 408.2,358.0 424.0,357.2 443.8,356.3 463.6,355.5 487.4,354.7 511.1,354.0"/>
<polyline points="317.2,365.4 321.1,362.0 325.1,360.0 329.0,358.5 333.0,357.3 336.9,356.2 340.9,355.4 344.9,354.6 352.8,353.3 360.7,352.3 368.6,351.3 380.5,350.1 392.4,349.1 408.2,348.0 424.0,347.0 443.8,345.9 463.6,345.0 487.4,344.0 511.1,343.1"/>
<polyline points="317.2,365.9 321.1,361.2 325.1,358.4 329.0,356.4 333.0,354.8 336.9,353.5 340.9,352.4 344.9,351.4 352.8,349.7 360.7,348.3 368.6,347.1 380.5,345.6 392.4,344.3 408.2,342.9 424.0,341.6 443.8,340.2 463.6,339.1 487.4,337.8 511.1,336.7"/>
<polyline points="317.2,364.0 321.1,358.3 325.1,355.2 329.0,352.9 333.0,351.1 336.9,349.6 340.9,348.3 344.9,347.2 352.8,345.3 360.7,343.7 368.6,342.4 380.5,340.6 392.4,339.2 408.2,337.5 424.0,336.1 443.8,334.5 463.6,333.2 487.4,331.8 511.1,330.5"/>
<polyline points="317.2,362.0 321.1,356.3 325.1,353.3 329.0,351.0 333.0,349.2 336.9,347.8 340.9,346.5 344.9,345.4 352.8,343.5 360.7,342.0 368.6,340.6 380.5,338.9 392.4,337.5 408.2,335.8 424.0,334.4 443.8,332.9 463.6,331.6 487.4,330.2 511.1,329.0"/>
<polyline points="317.2,371.0 321.1,368.4 325.1,366.8 329.0,365.6 333.0,364.7 336.9,363.9 340.9,363.2 344.9,362.6 352.8,361.6 360.7,360.7 368.6,360.0 380.5,359.1 392.4,358.3 408.2,357.3 424.0,356.5 443.8,355.7 463.6,354.9 487.4,354.2 511.1,353.5"/>
<polyline points="317.2,367.0 321.1,362.8 325.1,360.2 329.0,358.3 333.0,356.8 336.9,355.6 340.9,354.5 344.9,353.6 352.8,352.0 360.7,350.6 368.6,349.5 380.5,348.0 392.4,346.8 408.2,345.4 424.0,344.2 443.8,342.9 463.6,341.7 487.4,340.6 511.1,339.5"/>
<polyline points="317.2,360.4 321.1,355.1 325.1,352.0 329.0,349.8 333.0,348.0 336.9,346.5 340.9,345.3 344.9,344.2 352.8,342.3 360.7,340.7 368.6,339.4 380.5,337.7 392.4,336.3 408.2,334.6 424.0,333.2 443.8,331.7 463.6,330.4 487.4,329.0 511.1,327.8"/>
<polyline points="317.2,368.0 321.1,365.6 325.1,364.0 329.0,362.8 333.0,361.8 336.9,361.0 340.9,360.4 344.9,359.8 352.8,358.7 360.7,357.9 368.6,357.2 380.5,356.2 392.4,355.4 408.2,354.5 424.0,353.7 443.8,352.9 463.6,352.1 487.4,351.3 511.1,350.6"/>
<polyline points="317.2,363.3 321.1,358.0 325.1,354.8 329.0,352.5 333.0,350.6 336.9,349.1 340.9,347.8 344.9,346.7 352.8,344.8 360.7,343.2 368.6,341.8 380.5,340.1 392.4,338.6 408.2,337.0 424.0,335.6 443.8,334.1 463.6,332.8 487.4,331.4 511.1,330.2"/>
<polyline points="317.2,371.8 321.1,369.3 325.1,367.4 329.0,366.1 333.0,365.0 336.9,364.1 340.9,363.3 344.9,362.6 352.8,361.4 360.7,360.4 368.6,359.6 380.5,358.5 392.4,357.5 408.2,356.5 424.0,355.5 443.8,354.5 463.6,353.7 487.4,352.8 511.1,351.9"/>
<polyline points="317.2,367.9 321.1,364.5 325.1,362.2 329.0,360.5 333.0,359.2 336.9,358.1 340.9,357.2 344.9,356.3 352.8,354.9 360.7,353.7 368.6,352.7 380.5,351.4 392.4,350.3 408.2,349.0 424.0,347.9 443.8,346.7 463.6,345.7 487.4,344.6 511.1,343.6"/>
<polyline points="317.2,366.1 321.1,362.1 325.1,359.7 329.0,357.9 333.0,356.5 336.9,355.3 340.9,354.3 344.9,353.4 352.8,351.9 360.7,350.7 368.6,349.6 380.5,348.2 392.4,347.0 408.2,345.7 424.0,344.6 443.8,343.3 463.6,342.3 487.4,341.1 511.1,340.1"/>
<polyline points="317.2,365.5 321.1,361.0 325.1,358.4 329.0,356.5 333.0,355.0 336.9,353.7 340.9,352.6 344.9,351.6 352.8,350.0 360.7,348.6 368.6,347.5 380.5,346.0 392.4,344.7 408.2,343.3 424.0,342.0 443.8,340.7 463.6,339.5 487.4,338.3 511.1,337.2"/>
<polyline points="317.2,366.1 321.1,362.2 325.1,359.7 329.0,357.9 333.0,356.5 336.9,355.3 340.9,354.3 344.9,353.4 352.8,351.9 360.7,350.6 368.6,349.5 380.5,348.2 392.4,347.0 408.2,345.7 424.0,344.5 443.8,343.3 463.6,342.2 487.4,341.1 511.1,340.1"/>
<polyline points="317.2,366.0 321.1,361.7 325.1,359.1 329.0,357.2 333.0,355.6 336.9,354.4 340.9,353.3 344.9,352.4 352.8,350.8 360.7,349.5 368.6,348.4 380.5,346.9 392.4,345.7 408.2,344.3 424.0,343.2 443.8,341.9 463.6,340.8 487.4,339.6 511.1,338.6"/>
<polyline points="317.2,364.6 321.1,360.4 325.1,357.9 329.0,356.1 333.0,354.6 336.9,353.4 340.9,352.4 344.9,351.5 352.8,349.9 360.7,348.7 368.6,347.6 380.5,346.2 392.4,345.0 408.2,343.6 424.0,342.4 443.8,341.2 463.6,340.1 487.4,338.9 511.1,337.9"/>
<polyline points="317.2,364.9 321.1,360.6 325.1,357.9 329.0,356.0 333.0,354.5 336.9,353.2 340.9,352.1 344.9,351.2 352.8,349.5 360.7,348.2 368.6,347.0 380.5,345.6 392.4,344.3 408.2,342.9 424.0,341.6 443.8,340.3 463.6,339.2 487.4,338.0 511.1,336.9"/>
<polyline points="317.2,366.4 321.1,362.4 325.1,359.8 329.0,357.8 333.0,356.3 336.9,355.0 340.9,354.0 344.9,353.0 352.8,351.4 360.7,350.0 368.6,348.9 380.5,347.4 392.4,346.1 408.2,344.7 424.0,343.4 443.8,342.1 463.6,340.9 487.4,339.7 511.1,338.6"/>
<polyline points="317.2,365.7 321.1,361.0 325.1,358.3 329.0,356.3 333.0,354.7 336.9,353.4 340.9,352.3 344.9,351.3 352.8,349.6 360.7,348.2 368.6,347.1 380.5,345.5 392.4,344.3 408.2,342.8 424.0,341.6 443.8,340.3 463.6,339.1 487.4,337.9 511.1,336.8"/>
<polyline points="317.2,363.5 321.1,358.1 325.1,355.1 329.0,352.9 333.0,351.2 336.9,349.8 340.9,348.6 344.9,347.5 352.8,345.7 360.7,344.2 368.6,342.9 380.5,341.3 392.4,339.9 408.2,338.3 424.0,337.0 443.8,335.5 463.6,334.2 487.4,332.9 511.1,331.7"/>
<polyline points="317.2,367.0 321.1,363.6 325.1,361.4 329.0,359.8 333.0,358.6 336.9,357.5 340.9,356.6 344.9,355.8 352.8,354.5 360.7,353.4 368.6,352.4 380.5,351.2 392.4,350.2 408.2,349.0 424.0,348.0 443.8,346.9 463.6,345.9 487.4,344.9 511.1,344.0"/>
<polyline points="317.2,361.1 321.1,356.5 325.1,353.6 329.0,351.5 333.0,349.8 336.9,348.5 340.9,347.3 344.9,346.3 352.8,344.5 360.7,343.1 368.6,341.8 380.5,340.2 392.4,338.9 408.2,337.3 424.0,336.0 443.8,334.6 463.6,333.4 487.4,332.1 511.1,330.9"/>
<polyline points="317.2,366.2 321.1,362.7 325.1,360.5 329.0,358.9 333.0,357.7 336.9,356.6 340.9,355.7 344.9,354.9 352.8,353.6 360.7,352.4 368.6,351.5 380.5,350.2 392.4,349.2 408.2,348.0 424.0,346.9 443.8,345.8 463.6,344.8 487.4,343.8 511.1,342.9"/>
<polyline points="317.2,365.5 321.1,362.0 325.1,359.9 329.0,358.4 333.0,357.2 336.9,356.1 340.9,355.3 344.9,354.5 352.8,353.2 360.7,352.2 368.6,351.2 380.5,350.1 392.4,349.1 408.2,347.9 424.0,346.9 443.8,345.9 463.6,345.0 487.4,344.0 511.1,343.2"/>
<polyline points="317.2,361.3 321.1,356.6 325.1,353.8 329.0,351.7 333.0,350.1 336.9,348.7 340.9,347.5 344.9,346.5 352.8,344.8 360.7,343.3 368.6,342.1 380.5,340.5 392.4,339.1 408.2,337.6 424.0,336.2 443.8,334.8 463.6,333.6 487.4,332.3 511.1,331.1"/>
<polyline points="317.2,364.9 321.1,360.4 325.1,357.7 329.0,355.7 333.0,354.2 336.9,352.9 340.9,351.8 344.9,350.8 352.8,349.2 360.7,347.8 368.6,346.6 380.5,345.1 392.4,343.8 408.2,342.4 424.0,341.1 443.8,339.8 463.6,338.6 487.4,337.4 511.1,336.3"/>
<polyline points="317.2,365.3 321.1,362.1 325.1,359.8 329.0,358.2 333.0,356.9 336.9,355.8 340.9,354.9 344.9,354.1 352.8,352.7 360.7,351.5 368.6,350.5 380.5,349.2 392.4,348.2 408.2,346.9 424.0,345.9 443.8,344.7 463.6,343.7 487.4,342.7 511.1,341.8"/>
<polyline points="317.2,369.6 321.1,366.8 325.1,365.0 329.0,363.7 333.0,362.6 336.9,361.7 340.9,361.0 344.9,360.3 352.8,359.2 360.7,358.3 368.6,357.5 380.5,356.4 392.4,355.6 408.2,354.6 424.0,353.7 443.8,352.8 463.6,352.0 487.4,351.1 511.1,350.4"/>
<polyline points="317.2,364.2 321.1,359.1 325.1,356.0 329.0,353.8 333.0,352.0 336.9,350.6 340.9,349.3 344.9,348.2 352.8,346.3 360.7,344.8 368.6,343.5 380.5,341.8 392.4,340.3 408.2,338.7 424.0,337.3 443.8,335.8 463.6,334.5 487.4,333.1 511.1,331.9"/>
<polyline points="317.2,363.4 321.1,358.8 325.1,356.1 329.0,354.2 333.0,352.7 336.9,351.4 340.9,350.3 344.9,349.4 352.8,347.8 360.7,346.4 368.6,345.3 380.5,343.9 392.4,342.6 408.2,341.2 424.0,340.1 443.8,338.8 463.6,337.7 487.4,336.5 511.1,335.5"/>
<polyline points="317.2,370.4 321.1,367.1 325.1,365.1 329.0,363.7 333.0,362.5 336.9,361.5 340.9,360.7 344.9,359.9 352.8,358.7 360.7,357.6 368.6,356.7 380.5,355.6 392.4,354.6 408.2,353.5 424.0,352.5 443.8,351.4 463.6,350.5 487.4,349.6 511.1,348.7"/>
<polyline points="317.2,361.9 321.1,355.7 325.1,352.3 329.0,349.8 333.0,347.8 336.9,346.1 340.9,344.7 344.9,343.5 352.8,341.4 360.7,339.7 368.6,338.2 380.5,336.3 392.4,334.7 408.2,332.9 424.0,331.3 443.8,329.7 463.6,328.2 487.4,326.7 511.1,325.3"/>
<polyline points="317.2,370.6 321.1,367.8 325.1,365.9 329.0,364.6 333.0,363.5 336.9,362.6 340.9,361.8 344.9,361.2 352.8,360.0 360.7,359.1 368.6,358.2 380.5,357.2 392.4,356.3 408.2,355.3 424.0,354.4 443.8,353.5 463.6,352.6 487.4,351.8 511.1,351.0"/>
<polyline points="317.2,369.2 321.1,365.9 325.1,363.6 329.0,362.0 333.0,360.7 336.9,359.6 340.9,358.7 344.9,357.9 352.8,356.5 360.7,355.3 368.6,354.3 380.5,353.0 392.4,351.9 408.2,350.6 424.0,349.6 443.8,348.4 463.6,347.4 487.4,346.3 511.1,345.4"/>
<polyline points="317.2,368.8 321.1,365.9 325.1,363.9 329.0,362.4 333.0,361.2 336.9,360.3 340.9,359.4 344.9,358.7 352.8,357.5 360.7,356.5 368.6,355.6 380.5,354.5 392.4,353.5 408.2,352.4 424.0,351.5 443.8,350.5 463.6,349.6 487.4,348.7 511.1,347.9"/>
<polyline points="317.2,370.3 321.1,367.9 325.1,366.2 329.0,365.0 333.0,364.0 336.9,363.2 340.9,362.5 344.9,361.9 352.8,360.8 360.7,359.9 368.6,359.2 380.5,358.2 392.4,357.4 408.2,356.4 424.0,355.6 443.8,354.7 463.6,353.9 487.4,353.1 511.1,352.4"/>
<polyline points="317.2,368.7 321.1,364.9 325.1,362.6 329.0,360.9 333.0,359.6 336.9,358.5 340.9,357.5 344.9,356.7 352.8,355.3 360.7,354.1 368.6,353.1 380.5,351.7 392.4,350.6 408.2,349.4 424.0,348.3 443.8,347.1 463.6,346.1 487.4,345.0 511.1,344.0"/>
<polyline points="317.2,370.8 321.1,368.4 325.1,366.7 329.0,365.5 333.0,364.5 336.9,363.7 340.9,363.0 344.9,362.4 352.8,361.3 360.7,360.5 368.6,359.7 380.5,358.8 392.4,358.0 408.2,357.0 424.0,356.2 443.8,355.4 463.6,354.6 487.4,353.8 511.1,353.1"/>
<polyline points="317.2,364.4 321.1,359.1 325.1,356.2 329.0,354.1 333.0,352.4 336.9,351.0 340.9,349.8 344.9,348.8 352.8,347.0 360.7,345.5 368.6,344.2 380.5,342.6 392.4,341.2 408.2,339.6 424.0,338.3 443.8,336.8 463.6,335.5 487.4,334.2 511.1,333.0"/>
<polyline points="317.2,365.3 321.1,360.0 325.1,357.1 329.0,355.0 333.0,353.3 336.9,351.8 340.9,350.6 344.9,349.6 352.8,347.8 360.7,346.3 368.6,345.0 380.5,343.3 392.4,341.9 408.2,340.3 424.0,339.0 443.8,337.5 463.6,336.2 487.4,334.9 511.1,333.7"/>
<polyline points="317.2,361.2 321.1,356.1 325.1,353.2 329.0,351.1 333.0,349.5 336.9,348.1 340.9,346.9 344.9,345.9 352.8,344.2 360.7,342.7 368.6,341.5 380.5,339.9 392.4,338.5 408.2,337.0 424.0,335.7 443.8,334.3 463.6,333.0 487.4,331.7 511.1,330.6"/>
<polyline points="317.2,368.4 321.1,364.5 325.1,362.1 329.0,360.3 333.0,358.9 336.9,357.7 340.9,356.7 344.9,355.8 352.8,354.3 360.7,353.1 368.6,352.0 380.5,350.7 392.4,349.5 408.2,348.2 424.0,347.1 443.8,345.9 463.6,344.9 487.4,343.8 511.1,342.8"/>
<polyline points="317.2,364.9 321.1,360.9 325.1,358.5 329.0,356.7 333.0,355.3 336.9,354.2 340.9,353.2 344.9,352.3 352.8,350.8 360.7,349.6 368.6,348.5 380.5,347.1 392.4,345.9 408.2,344.6 424.0,343.5 443.8,342.2 463.6,341.2 487.4,340.0 511.1,339.0"/>
<polyline points="317.2,367.8 321.1,364.1 325.1,361.9 329.0,360.2 333.0,358.9 336.9,357.8 340.9,356.9 344.9,356.1 352.8,354.7 360.7,353.5 368.6,352.5 380.5,351.2 392.4,350.1 408.2,348.9 424.0,347.8 443.8,346.7 463.6,345.7 487.4,344.6 511.1,343.7"/>
<polyline points="317.2,367.1 321.1,363.9 325.1,361.7 329.0,360.1 333.0,358.8 336.9,357.7 340.9,356.8 344.9,356.0 352.8,354.7 360.7,353.5 368.6,352.5 380.5,351.3 392.4,350.2 408.2,349.0 424.0,347.9 443.8,346.8 463.6,345.8 487.4,344.7 511.1,343.8"/>
<polyline points="317.2,370.6 321.1,367.3 325.1,365.1 329.0,363.6 333.0,362.3 336.9,361.3 340.9,360.4 344.9,359.6 352.8,358.3 360.7,357.2 368.6,356.2 380.5,355.0 392.4,354.0 408.2,352.8 424.0,351.8 443.8,350.7 463.6,349.7 487.4,348.7 511.1,347.8"/>
<polyline points="317.2,364.2 321.1,360.1 325.1,357.4 329.0,355.4 333.0,353.9 336.9,352.6 340.9,351.5 344.9,350.5 352.8,348.8 360.7,347.5 368.6,346.3 380.5,344.8 392.4,343.5 408.2,342.1 424.0,340.9 443.8,339.6 463.6,338.4 487.4,337.2 511.1,336.1"/>
<polyline points="317.2,364.0 321.1,358.5 325.1,355.3 329.0,352.9 333.0,351.0 336.9,349.4 340.9,348.1 344.9,346.9 352.8,345.0 360.7,343.3 368.6,341.9 380.5,340.2 392.4,338.7 408.2,337.0 424.0,335.5 443.8,333.9 463.6,332.6 487.4,331.2 511.1,329.9"/>
<polyline points="317.2,365.4 321.1,361.9 325.1,359.7 329.0,358.1 333.0,356.8 336.9,355.8 340.9,354.9 344.9,354.1 352.8,352.8 360.7,351.6 368.6,350.7 380.5,349.5 392.4,348.4 408.2,347.3 424.0,346.3 443.8,345.2 463.6,344.2 487.4,343.2 511.1,342.3"/>
<polyline points="317.2,360.1 321.1,354.6 325.1,351.5 329.0,349.3 333.0,347.5 336.9,346.1 340.9,344.8 344.9,343.7 352.8,341.8 360.7,340.3 368.6,338.9 380.5,337.2 392.4,335.8 408.2,334.1 424.0,332.7 443.8,331.2 463.6,329.9 487.4,328.5 511.1,327.2"/>
<polyline points="317.2,365.6 321.1,361.9 325.1,359.6 329.0,357.9 333.0,356.6 336.9,355.5 340.9,354.5 344.9,353.7 352.8,352.2 360.7,351.1 368.6,350.0 380.5,348.7 392.4,347.6 408.2,346.4 424.0,345.3 443.8,344.1 463.6,343.1 487.4,342.1 511.1,341.1"/>
<polyline points="317.2,366.2 321.1,363.2 325.1,361.1 329.0,359.5 333.0,358.3 336.9,357.3 340.9,356.5 344.9,355.7 352.8,354.4 360.7,353.4 368.6,352.4 380.5,351.3 392.4,350.3 408.2,349.1 424.0,348.2 443.8,347.1 463.6,346.2 487.4,345.2 511.1,344.4"/>
<polyline points="317.2,367.8 321.1,364.3 325.1,361.8 329.0,360.0 333.0,358.5 336.9,357.3 340.9,356.3 344.9,355.4 352.8,353.9 360.7,352.6 368.6,351.5 380.5,350.1 392.4,348.8 408.2,347.5 424.0,346.3 443.8,345.0 463.6,343.9 487.4,342.7 511.1,341.7"/>
<polyline points="317.2,368.3 321.1,365.4 325.1,363.3 329.0,361.8 333.0,360.6 336.9,359.6 340.9,358.7 344.9,357.9 352.8,356.6 360.7,355.5 368.6,354.6 380.5,353.4 392.4,352.4 408.2,351.2 424.0,350.2 443.8,349.1 463.6,348.1 487.4,347.1 511.1,346.2"/>
<polyline points="317.2,360.6 321.1,355.8 325.1,352.9 329.0,350.9 333.0,349.2 336.9,347.9 340.9,346.7 344.9,345.7 352.8,343.9 360.7,342.5 368.6,341.3 380.5,339.7 392.4,338.4 408.2,336.9 424.0,335.6 443.8,334.2 463.6,333.0 487.4,331.7 511.1,330.6"/>
<polyline points="317.2,366.1 321.1,361.6 325.1,358.7 329.0,356.7 333.0,355.0 336.9,353.7 340.9,352.5 344.9,351.5 352.8,349.8 360.7,348.4 368.6,347.2 380.5,345.6 392.4,344.3 408.2,342.8 424.0,341.5 443.8,340.1 463.6,338.9 487.4,337.7 511.1,336.6"/>
<polyline points="317.2,360.2 321.1,354.5 325.1,351.2 329.0,348.9 333.0,347.0 336.9,345.5 340.9,344.1 344.9,343.0 352.8,341.0 360.7,339.4 368.6,338.0 380.5,336.3 392.4,334.8 408.2,333.1 424.0,331.6 443.8,330.1 463.6,328.7 487.4,327.3 511.1,326.1"/>
<polyline points="317.2,361.0 321.1,355.4 325.1,352.1 329.0,349.8 333.0,347.9 336.9,346.3 340.9,345.0 344.9,343.9 352.8,341.9 360.7,340.3 368.6,338.9 380.5,337.2 392.4,335.7 408.2,334.0 424.0,332.6 443.8,331.0 463.6,329.7 487.4,328.3 511.1,327.1"/>
<polyline points="317.2,368.1 321.1,364.1 325.1,361.6 329.0,359.8 333.0,358.3 336.9,357.1 340.9,356.0 344.9,355.1 352.8,353.6 360.7,352.3 368.6,351.2 380.5,349.8 392.4,348.6 408.2,347.3 424.0,346.1 443.8,344.9 463.6,343.8 487.4,342.6 511.1,341.6"/>
<polyline points="317.2,368.8 321.1,365.4 325.1,363.0 329.0,361.2 333.0,359.8 336.9,358.6 340.9,357.6 344.9,356.7 352.8,355.3 360.7,354.0 368.6,353.0 380.5,351.6 392.4,350.5 408.2,349.2 424.0,348.1 443.8,346.9 463.6,345.8 487.4,344.7 511.1,343.8"/>
<polyline points="317.2,369.6 321.1,367.3 325.1,365.6 329.0,364.4 333.0,363.4 336.9,362.6 340.9,361.9 344.9,361.2 352.8,360.2 360.7,359.3 368.6,358.5 380.5,357.5 392.4,356.7 408.2,355.7 424.0,354.9 443.8,354.0 463.6,353.2 487.4,352.4 511.1,351.7"/>
<polyline points="317.2,362.1 321.1,356.5 325.1,353.1 329.0,350.6 333.0,348.7 336.9,347.1 340.9,345.8 344.9,344.6 352.8,342.5 360.7,340.9 368.6,339.4 380.5,337.6 392.4,336.1 408.2,334.3 424.0,332.8 443.8,331.2 463.6,329.8 487.4,328.4 511.1,327.1"/>
<polyline points="317.2,364.7 321.1,360.6 325.1,358.1 329.0,356.2 333.0,354.7 336.9,353.5 340.9,352.4 344.9,351.5 352.8,349.9 360.7,348.6 368.6,347.5 380.5,346.0 392.4,344.8 408.2,343.4 424.0,342.2 443.8,340.9 463.6,339.7 487.4,338.5 511.1,337.5"/>
<polyline points="317.2,365.5 321.1,361.0 325.1,358.3 329.0,356.3 333.0,354.8 336.9,353.5 340.9,352.4 344.9,351.4 352.8,349.7 360.7,348.3 368.6,347.2 380.5,345.6 392.4,344.4 408.2,342.9 424.0,341.7 443.8,340.3 463.6,339.1 487.4,337.9 511.1,336.8"/>
<polyline points="317.2,366.5 321.1,363.8 325.1,361.9 329.0,360.5 333.0,359.4 336.9,358.5 340.9,357.7 344.9,357.0 352.8,355.9 360.7,354.9 368.6,354.1 380.5,353.0 392.4,352.1 408.2,351.1 424.0,350.2 443.8,349.3 463.6,348.5 487.4,347.6 511.1,346.9"/>
<polyline points="317.2,365.9 321.1,362.2 325.1,359.8 329.0,358.1 333.0,356.7 336.9,355.5 340.9,354.5 344.9,353.6 352.8,352.2 360.7,350.9 368.6,349.8 380.5,348.5 392.4,347.3 408.2,346.0 424.0,344.9 443.8,343.6 463.6,342.5 487.4,341.4 511.1,340.4"/>
<polyline points="317.2,363.6 321.1,358.8 325.1,355.9 329.0,353.9 333.0,352.2 336.9,350.9 340.9,349.7 344.9,348.7 352.8,346.9 360.7,345.5 368.6,344.3 380.5,342.7 392.4,341.3 408.2,339.8 424.0,338.5 443.8,337.1 463.6,335.8 487.4,334.5 511.1,333.4"/>
<polyline points="317.2,365.0 321.1,361.0 325.1,358.6 329.0,356.8 333.0,355.4 336.9,354.3 340.9,353.3 344.9,352.4 352.8,350.9 360.7,349.7 368.6,348.6 380.5,347.3 392.4,346.2 408.2,344.9 424.0,343.7 443.8,342.5 463.6,341.5 487.4,340.4 511.1,339.4"/>
<polyline points="317.2,366.0 321.1,362.5 325.1,360.3 329.0,358.6 333.0,357.4 336.9,356.3 340.9,355.4 344.9,354.5 352.8,353.2 360.7,352.0 368.6,351.0 380.5,349.8 392.4,348.7 408.2,347.5 424.0,346.4 443.8,345.3 463.6,344.3 487.4,343.3 511.1,342.4"/>
<polyline points="317.2,294.7 321.1,275.4 325.1,270.2 329.0,266.7 333.0,264.0 336.9,261.9 340.9,260.1 344.9,258.6 352.8,256.1 360.7,254.1 368.6,252.4 380.5,250.3 392.4,248.7 408.2,246.8 424.0,245.2 443.8,243.6 463.6,242.2 487.4,240.8 511.1,239.6"/>
<polyline points="317.2,294.7 321.1,278.0 325.1,273.1 329.0,269.8 333.0,267.2 336.9,265.2 340.9,263.5 344.9,262.1 352.8,259.7 360.7,257.8 368.6,256.3 380.5,254.3 392.4,252.7 408.2,251.0 424.0,249.5 443.8,247.9 463.6,246.6 487.4,245.3 511.1,244.2"/>
<polyline points="317.2,355.1 321.1,346.2 325.1,342.1 329.0,339.0 333.0,336.7 336.9,334.7 340.9,333.1 344.9,331.6 352.8,329.2 360.7,327.1 368.6,325.4 380.5,323.2 392.4,321.4 408.2,319.3 424.0,317.5 443.8,315.6 463.6,313.9 487.4,312.2 511.1,310.7"/>
<polyline points="317.2,356.6 321.1,349.3 325.1,345.3 329.0,342.5 333.0,340.2 336.9,338.4 340.9,336.8 344.9,335.4 352.8,333.1 360.7,331.2 368.6,329.6 380.5,327.5 392.4,325.7 408.2,323.8 424.0,322.1 443.8,320.3 463.6,318.7 487.4,317.0 511.1,315.6"/>
<polyline points="317.2,357.4 321.1,350.1 325.1,346.3 329.0,343.5 333.0,341.3 336.9,339.5 340.9,337.9 344.9,336.6 352.8,334.3 360.7,332.4 368.6,330.8 380.5,328.8 392.4,327.1 408.2,325.1 424.0,323.5 443.8,321.7 463.6,320.1 487.4,318.5 511.1,317.1"/>
</g>
<g fill="none" stroke="#66bb2e" stroke-width="1.0">
<polyline points="317.2,369.8 321.1,366.6 325.1,364.4 329.0,362.8 333.0,361.5 336.9,360.4 340.9,359.5 344.9,358.7 352.8,357.3 360.7,356.1 368.6,355.1 380.5,353.9 392.4,352.8 408.2,351.5 424.0,350.5 443.8,349.3 463.6,348.3 487.4,347.2 511.1,346.3"/>
<polyline points="317.2,368.9 321.1,365.2 325.1,362.9 329.0,361.2 333.0,359.9 336.9,358.8 340.9,357.8 344.9,356.9 352.8,355.5 360.7,354.3 368.6,353.3 380.5,352.0 392.4,350.8 408.2,349.6 424.0,348.5 443.8,347.3 463.6,346.2 487.4,345.2 511.1,344.2"/>
<polyline points="317.2,369.2 321.1,365.7 325.1,363.4 329.0,361.8 333.0,360.4 336.9,359.3 340.9,358.4 344.9,357.6 352.8,356.1 360.7,355.0 368.6,354.0 380.5,352.7 392.4,351.6 408.2,350.3 424.0,349.2 443.8,348.1 463.6,347.0 487.4,346.0 511.1,345.0"/>
<polyline points="317.2,370.3 321.1,367.4 325.1,365.5 329.0,364.1 333.0,362.9 336.9,362.0 340.9,361.2 344.9,360.4 352.8,359.2 360.7,358.2 368.6,357.3 380.5,356.2 392.4,355.2 408.2,354.1 424.0,353.2 443.8,352.2 463.6,351.3 487.4,350.4 511.1,349.5"/>
<polyline points="317.2,369.9 321.1,366.7 325.1,364.6 329.0,363.1 333.0,361.8 336.9,360.8 340.9,359.9 344.9,359.2 352.8,357.8 360.7,356.7 368.6,355.8 380.5,354.6 392.4,353.6 408.2,352.4 424.0,351.4 443.8,350.3 463.6,349.3 487.4,348.3 511.1,347.4"/>
<polyline points="317.2,370.3 321.1,367.5 325.1,365.5 329.0,364.1 333.0,362.9 336.9,362.0 340.9,361.2 344.9,360.4 352.8,359.2 360.7,358.2 368.6,357.3 380.5,356.2 392.4,355.2 408.2,354.1 424.0,353.1 443.8,352.1 463.6,351.2 487.4,350.2 511.1,349.4"/>
<polyline points="317.2,370.0 321.1,366.6 325.1,364.4 329.0,362.8 333.0,361.5 336.9,360.5 340.9,359.5 344.9,358.7 352.8,357.3 360.7,356.2 368.6,355.2 380.5,353.9 392.4,352.8 408.2,351.6 424.0,350.5 443.8,349.4 463.6,348.4 487.4,347.3 511.1,346.3"/>
<polyline points="317.2,370.1 321.1,367.1 325.1,365.1 329.0,363.6 333.0,362.4 336.9,361.4 340.9,360.6 344.9,359.9 352.8,358.6 360.7,357.5 368.6,356.6 380.5,355.5 392.4,354.5 408.2,353.3 424.0,352.4 443.8,351.3 463.6,350.4 487.4,349.4 511.1,348.5"/>
<polyline points="317.2,370.5 321.1,367.6 325.1,365.7 329.0,364.2 333.0,363.1 336.9,362.1 340.9,361.3 344.9,360.6 352.8,359.3 360.7,358.3 368.6,357.4 380.5,356.3 392.4,355.3 408.2,354.2 424.0,353.2 443.8,352.2 463.6,351.3 487.4,350.3 511.1,349.5"/>
<polyline points="317.2,369.4 321.1,366.1 325.1,363.8 329.0,362.2 333.0,360.9 336.9,359.9 340.9,358.9 344.9,358.1 352.8,356.8 360.7,355.6 368.6,354.6 380.5,353.4 392.4,352.3 408.2,351.1 424.0,350.0 443.8,348.9 463.6,347.9 487.4,346.9 511.1,345.9"/>
</g>
<g fill="#1c1010">
<circle cx="317.16" cy="369.94" r="1.6"/>
<circle cx="321.12" cy="366.89" r="1.6"/>
<circle cx="325.07" cy="364.80" r="1.6"/>
<circle cx="329.03" cy="363.26" r="1.6"/>
<circle cx="332.99" cy="362.03" r="1.6"/>
<circle cx="336.95" cy="361.01" r="1.6"/>
<circle cx="340.91" cy="360.14" r="1.6"/>
<circle cx="344.86" cy="359.36" r="1.6"/>
<circle cx="348.82" cy="358.68" r="1.6"/>
<circle cx="352.78" cy="358.05" r="1.6"/>
<circle cx="356.74" cy="357.48" r="1.6"/>
<circle cx="360.70" cy="356.96" r="1.6"/>
<circle cx="364.65" cy="356.47" r="1.6"/>
<circle cx="368.61" cy="356.02" r="1.6"/>
<circle cx="372.57" cy="355.59" r="1.6"/>
<circle cx="376.53" cy="355.19" r="1.6"/>
<circle cx="380.49" cy="354.81" r="1.6"/>
<circle cx="384.44" cy="354.45" r="1.6"/>
<circle cx="388.40" cy="354.11" r="1.6"/>
<circle cx="392.36" cy="353.79" r="1.6"/>
<circle cx="396.32" cy="353.47" r="1.6"/>
<circle cx="400.28" cy="353.18" r="1.6"/>
<circle cx="404.23" cy="352.89" r="1.6"/>
<circle cx="408.19" cy="352.61" r="1.6"/>
<circle cx="412.15" cy="352.35" r="1.6"/>
<circle cx="416.11" cy="352.09" r="1.6"/>
<circle cx="420.07" cy="351.84" r="1.6"/>
<circle cx="424.02" cy="351.61" r="1.6"/>
<circle cx="427.98" cy="351.37" r="1.6"/>
<circle cx="431.94" cy="351.15" r="1.6"/>
<circle cx="435.90" cy="350.93" r="1.6"/>
<circle cx="439.86" cy="350.72" r="1.6"/>
<circle cx="443.81" cy="350.51" r="1.6"/>
<circle cx="447.77" cy="350.31" r="1.6"/>
<circle cx="451.73" cy="350.12" r="1.6"/>
<circle cx="455.69" cy="349.93" r="1.6"/>
<circle cx="459.65" cy="349.74" r="1.6"/>
<circle cx="463.60" cy="349.56" r="1.6"/>
<circle cx="467.56" cy="349.39" r="1.6"/>
<circle cx="471.52" cy="349.21" r="1.6"/>
<circle cx="475.48" cy="349.04" r="1.6"/>
<circle cx="479.44" cy="348.88" r="1.6"/>
<circle cx="483.39" cy="348.72" r="1.6"/>
<circle cx="487.35" cy="348.56" r="1.6"/>
<circle cx="491.31" cy="348.40" r="1.6"/>
<circle cx="495.27" cy="348.25" r="1.6"/>
<circle cx="499.23" cy="348.10" r="1.6"/>
<circle cx="503.18" cy="347.96" r="1.6"/>
<circle cx="507.14" cy="347.81" r="1.6"/>
<circle cx="511.10" cy="347.67" r="1.6"/>
</g>
<g stroke="#403232" stroke-width="1" fill="none">
<line x1="313.2" y1="224.40" x2="313.2" y2="379.40"/>
<line x1="310.20" y1="376.4" x2="511.10" y2="376.4"/>
<line x1="310.20" y1="338.40" x2="313.2" y2="338.40"/>
<line x1="310.20" y1="300.40" x2="313.2" y2="300.40"/>
<line x1="310.20" y1="262.40" x2="313.2" y2="262.40"/>
<line x1="310.20" y1="224.40" x2="313.2" y2="224.40"/>
<line x1="352.78" y1="376.4" x2="352.78" y2="379.40"/>
<line x1="392.36" y1="376.4" x2="392.36" y2="379.40"/>
<line x1="431.94" y1="376.4" x2="431.94" y2="379.40"/>
<line x1="471.52" y1="376.4" x2="471.52" y2="379.40"/>
<line x1="511.10" y1="376.4" x2="511.10" y2="379.40"/>
</g>
<g font-family="Liberation Sans, Arial, sans-serif" font-size="10" fill="#111" stroke="#111" stroke-width="0.15">
<text x="305.30" y="380.00" text-anchor="end">0</text>
<text x="305.30" y="342.00" text-anchor="end">5</text>
<text x="305.30" y="304.00" text-anchor="end">10</text>
<text x="305.30" y="266.00" text-anchor="end">15</text>
<text x="305.30" y="228.00" text-anchor="end">20</text>
<text x="313.20" y="393.80" text-anchor="middle">0</text>
<text x="352.78" y="393.80" text-anchor="middle">10</text>
<text x="392.36" y="393.80" text-anchor="middle">20</text>
<text x="431.94" y="393.80" text-anchor="middle">30</text>
<text x="471.52" y="393.80" text-anchor="middle">40</text>
<text x="511.10" y="393.80" text-anchor="middle">50</text>
</g>
<g font-family="Liberation Sans, Arial, sans-serif" font-size="14" fill="#111" stroke="#111" stroke-width="0.25">
<text x="323.20" y="237.30" textLength="65.4" lengthAdjust="spacingAndGlyphs">Producer 5</text>
<text x="412.15" y="417.80" text-anchor="middle">Time</text>
<text transform="translate(279.90,300.40) rotate(-90)" text-anchor="middle">WWPR</text>
</g>
<g font-family="Liberation Sans, Arial, sans-serif" font-size="10" fill="#111" stroke="#111" stroke-width="0.15">
<text x="726.2" y="245.3">Initial model</text>
<text x="726.2" y="257.3">Final model</text>
<text x="726.2" y="269.3">True model</text>
</g>
<line x1="705.6" y1="241.2" x2="723.4" y2="241.2" stroke="#9f9f9f" stroke-width="1"/>
<line x1="705.6" y1="253.3" x2="723.4" y2="253.3" stroke="#66bb2e" stroke-width="1"/>
<circle cx="714.7" cy="265.6" r="1.6" fill="#1c1010"/>
<g fill="none" stroke="#9f9f9f" stroke-width="0.9">
<polyline points="584.9,357.2 588.8,351.1 592.8,347.1 596.7,344.4 600.7,342.2 604.6,340.5 608.6,339.0 612.6,337.7 620.5,335.6 628.4,333.8 636.3,332.3 648.2,330.5 660.1,328.9 675.9,327.2 691.7,325.7 711.5,324.2 731.3,322.8 755.1,321.4 778.8,320.2"/>
<polyline points="584.9,369.0 588.8,364.1 592.8,359.8 596.7,356.7 600.7,354.3 604.6,352.4 608.6,350.7 612.6,349.3 620.5,346.9 628.4,345.0 636.3,343.3 648.2,341.2 660.1,339.5 675.9,337.6 691.7,335.9 711.5,334.1 731.3,332.6 755.1,331.1 778.8,329.7"/>
<polyline points="584.9,360.2 588.8,355.2 592.8,351.4 596.7,348.7 600.7,346.6 604.6,344.9 608.6,343.4 612.6,342.1 620.5,340.0 628.4,338.3 636.3,336.8 648.2,335.0 660.1,333.4 675.9,331.7 691.7,330.2 711.5,328.7 731.3,327.3 755.1,325.9 778.8,324.7"/>
<polyline points="584.9,354.1 588.8,347.1 592.8,342.7 596.7,339.5 600.7,337.1 604.6,335.2 608.6,333.6 612.6,332.2 620.5,329.8 628.4,327.9 636.3,326.3 648.2,324.4 660.1,322.7 675.9,320.8 691.7,319.3 711.5,317.7 731.3,316.2 755.1,314.8 778.8,313.5"/>
<polyline points="584.9,358.6 588.8,352.7 592.8,348.4 596.7,345.4 600.7,343.1 604.6,341.2 608.6,339.6 612.6,338.2 620.5,335.9 628.4,334.0 636.3,332.4 648.2,330.4 660.1,328.8 675.9,326.9 691.7,325.4 711.5,323.7 731.3,322.3 755.1,320.9 778.8,319.6"/>
<polyline points="584.9,360.8 588.8,355.9 592.8,352.0 596.7,349.3 600.7,347.2 604.6,345.5 608.6,344.0 612.6,342.8 620.5,340.7 628.4,339.0 636.3,337.5 648.2,335.7 660.1,334.2 675.9,332.6 691.7,331.1 711.5,329.6 731.3,328.4 755.1,327.0 778.8,325.9"/>
<polyline points="584.9,366.5 588.8,361.8 592.8,357.9 596.7,355.1 600.7,352.9 604.6,351.2 608.6,349.6 612.6,348.3 620.5,346.2 628.4,344.4 636.3,342.9 648.2,341.0 660.1,339.4 675.9,337.6 691.7,336.1 711.5,334.5 731.3,333.1 755.1,331.6 778.8,330.4"/>
<polyline points="584.9,357.6 588.8,352.4 592.8,348.5 596.7,345.7 600.7,343.6 604.6,341.8 608.6,340.4 612.6,339.1 620.5,337.0 628.4,335.3 636.3,333.8 648.2,332.0 660.1,330.5 675.9,328.8 691.7,327.4 711.5,325.9 731.3,324.6 755.1,323.3 778.8,322.1"/>
<polyline points="584.9,366.1 588.8,360.8 592.8,357.0 596.7,354.3 600.7,352.1 604.6,350.4 608.6,348.9 612.6,347.7 620.5,345.5 628.4,343.8 636.3,342.3 648.2,340.5 660.1,338.9 675.9,337.2 691.7,335.7 711.5,334.1 731.3,332.8 755.1,331.4 778.8,330.1"/>
<polyline points="584.9,352.8 588.8,346.1 592.8,341.8 596.7,338.8 600.7,336.5 604.6,334.6 608.6,333.0 612.6,331.7 620.5,329.4 628.4,327.6 636.3,326.1 648.2,324.2 660.1,322.6 675.9,320.8 691.7,319.4 711.5,317.8 731.3,316.4 755.1,315.1 778.8,313.9"/>
<polyline points="584.9,347.5 588.8,341.1 592.8,337.1 596.7,334.2 600.7,332.1 604.6,330.3 608.6,328.9 612.6,327.6 620.5,325.5 628.4,323.8 636.3,322.4 648.2,320.6 660.1,319.1 675.9,317.5 691.7,316.1 711.5,314.7 731.3,313.4 755.1,312.1 778.8,311.0"/>
<polyline points="584.9,358.6 588.8,353.4 592.8,349.6 596.7,346.9 600.7,344.9 604.6,343.2 608.6,341.7 612.6,340.5 620.5,338.4 628.4,336.7 636.3,335.3 648.2,333.5 660.1,332.0 675.9,330.3 691.7,328.9 711.5,327.4 731.3,326.0 755.1,324.7 778.8,323.5"/>
<polyline points="584.9,361.7 588.8,355.8 592.8,351.9 596.7,349.2 600.7,347.1 604.6,345.4 608.6,344.0 612.6,342.7 620.5,340.6 628.4,338.9 636.3,337.5 648.2,335.7 660.1,334.2 675.9,332.5 691.7,331.0 711.5,329.5 731.3,328.2 755.1,326.8 778.8,325.7"/>
<polyline points="584.9,364.5 588.8,359.0 592.8,355.1 596.7,352.4 600.7,350.3 604.6,348.6 608.6,347.1 612.6,345.8 620.5,343.7 628.4,342.0 636.3,340.6 648.2,338.8 660.1,337.2 675.9,335.5 691.7,334.1 711.5,332.5 731.3,331.2 755.1,329.9 778.8,328.7"/>
<polyline points="584.9,368.7 588.8,363.2 592.8,359.1 596.7,356.2 600.7,354.0 604.6,352.2 608.6,350.6 612.6,349.3 620.5,347.0 628.4,345.2 636.3,343.6 648.2,341.6 660.1,340.0 675.9,338.2 691.7,336.6 711.5,335.0 731.3,333.5 755.1,332.1 778.8,330.8"/>
<polyline points="584.9,346.7 588.8,339.8 592.8,335.9 596.7,333.2 600.7,331.2 604.6,329.5 608.6,328.1 612.6,326.9 620.5,324.9 628.4,323.3 636.3,321.9 648.2,320.2 660.1,318.8 675.9,317.2 691.7,315.8 711.5,314.4 731.3,313.2 755.1,312.0 778.8,310.9"/>
<polyline points="584.9,363.4 588.8,356.9 592.8,352.6 596.7,349.6 600.7,347.2 604.6,345.3 608.6,343.7 612.6,342.3 620.5,339.9 628.4,338.0 636.3,336.4 648.2,334.4 660.1,332.7 675.9,330.8 691.7,329.2 711.5,327.5 731.3,326.0 755.1,324.5 778.8,323.2"/>
<polyline points="584.9,353.9 588.8,346.2 592.8,341.9 596.7,338.9 600.7,336.6 604.6,334.7 608.6,333.1 612.6,331.7 620.5,329.4 628.4,327.6 636.3,326.0 648.2,324.1 660.1,322.5 675.9,320.7 691.7,319.2 711.5,317.6 731.3,316.2 755.1,314.8 778.8,313.5"/>
<polyline points="584.9,350.0 588.8,343.5 592.8,339.5 596.7,336.7 600.7,334.5 604.6,332.8 608.6,331.3 612.6,330.0 620.5,327.9 628.4,326.2 636.3,324.7 648.2,322.9 660.1,321.4 675.9,319.8 691.7,318.4 711.5,316.9 731.3,315.6 755.1,314.3 778.8,313.1"/>
<polyline points="584.9,367.4 588.8,361.9 592.8,357.8 596.7,354.8 600.7,352.6 604.6,350.7 608.6,349.1 612.6,347.8 620.5,345.5 628.4,343.6 636.3,342.0 648.2,340.0 660.1,338.4 675.9,336.5 691.7,334.9 711.5,333.2 731.3,331.7 755.1,330.2 778.8,328.8"/>
<polyline points="584.9,360.1 588.8,354.4 592.8,350.4 596.7,347.6 600.7,345.4 604.6,343.7 608.6,342.2 612.6,340.9 620.5,338.8 628.4,337.0 636.3,335.6 648.2,333.7 660.1,332.2 675.9,330.5 691.7,329.0 711.5,327.5 731.3,326.2 755.1,324.8 778.8,323.6"/>
<polyline points="584.9,359.3 588.8,353.5 592.8,349.5 596.7,346.6 600.7,344.4 604.6,342.6 608.6,341.1 612.6,339.8 620.5,337.6 628.4,335.8 636.3,334.3 648.2,332.5 660.1,330.9 675.9,329.1 691.7,327.7 711.5,326.1 731.3,324.8 755.1,323.4 778.8,322.2"/>
<polyline points="584.9,353.3 588.8,347.9 592.8,344.1 596.7,341.4 600.7,339.4 604.6,337.7 608.6,336.3 612.6,335.0 620.5,333.0 628.4,331.3 636.3,329.9 648.2,328.1 660.1,326.6 675.9,325.0 691.7,323.6 711.5,322.1 731.3,320.8 755.1,319.5 778.8,318.3"/>
<polyline points="584.9,361.5 588.8,355.8 592.8,352.0 596.7,349.2 600.7,347.1 604.6,345.3 608.6,343.8 612.6,342.6 620.5,340.4 628.4,338.7 636.3,337.2 648.2,335.3 660.1,333.8 675.9,332.0 691.7,330.5 711.5,329.0 731.3,327.6 755.1,326.2 778.8,325.0"/>
<polyline points="584.9,362.0 588.8,356.8 592.8,352.8 596.7,349.9 600.7,347.7 604.6,345.9 608.6,344.4 612.6,343.1 620.5,340.9 628.4,339.1 636.3,337.6 648.2,335.8 660.1,334.2 675.9,332.4 691.7,330.9 711.5,329.4 731.3,328.0 755.1,326.6 778.8,325.4"/>
<polyline points="584.9,363.9 588.8,359.3 592.8,355.4 596.7,352.7 600.7,350.5 604.6,348.8 608.6,347.3 612.6,346.1 620.5,343.9 628.4,342.2 636.3,340.7 648.2,338.9 660.1,337.4 675.9,335.6 691.7,334.2 711.5,332.6 731.3,331.3 755.1,329.9 778.8,328.7"/>
<polyline points="584.9,350.4 588.8,343.8 592.8,340.2 596.7,337.6 600.7,335.5 604.6,333.9 608.6,332.5 612.6,331.3 620.5,329.4 628.4,327.7 636.3,326.4 648.2,324.7 660.1,323.2 675.9,321.6 691.7,320.3 711.5,318.8 731.3,317.6 755.1,316.3 778.8,315.2"/>
<polyline points="584.9,352.8 588.8,346.6 592.8,342.9 596.7,340.2 600.7,338.2 604.6,336.5 608.6,335.1 612.6,333.9 620.5,331.9 628.4,330.2 636.3,328.9 648.2,327.1 660.1,325.7 675.9,324.1 691.7,322.7 711.5,321.3 731.3,320.0 755.1,318.7 778.8,317.6"/>
<polyline points="584.9,355.0 588.8,347.9 592.8,343.7 596.7,340.8 600.7,338.5 604.6,336.7 608.6,335.2 612.6,333.8 620.5,331.6 628.4,329.8 636.3,328.2 648.2,326.3 660.1,324.7 675.9,322.9 691.7,321.4 711.5,319.8 731.3,318.5 755.1,317.1 778.8,315.8"/>
<polyline points="584.9,352.5 588.8,344.9 592.8,340.6 596.7,337.5 600.7,335.1 604.6,333.2 608.6,331.6 612.6,330.2 620.5,327.8 628.4,326.0 636.3,324.4 648.2,322.4 660.1,320.7 675.9,318.8 691.7,317.3 711.5,315.6 731.3,314.2 755.1,312.7 778.8,311.4"/>
<polyline points="584.9,350.5 588.8,344.5 592.8,340.6 596.7,338.0 600.7,335.9 604.6,334.2 608.6,332.8 612.6,331.6 620.5,329.6 628.4,327.9 636.3,326.6 648.2,324.9 660.1,323.4 675.9,321.8 691.7,320.5 711.5,319.1 731.3,317.9 755.1,316.6 778.8,315.5"/>
<polyline points="584.9,366.2 588.8,359.9 592.8,355.7 596.7,352.6 600.7,350.3 604.6,348.4 608.6,346.8 612.6,345.4 620.5,343.0 628.4,341.1 636.3,339.5 648.2,337.5 660.1,335.8 675.9,333.8 691.7,332.2 711.5,330.5 731.3,329.0 755.1,327.5 778.8,326.2"/>
<polyline points="584.9,365.0 588.8,359.5 592.8,355.8 596.7,353.1 600.7,351.0 604.6,349.3 608.6,347.8 612.6,346.6 620.5,344.5 628.4,342.8 636.3,341.3 648.2,339.5 660.1,337.9 675.9,336.2 691.7,334.7 711.5,333.1 731.3,331.8 755.1,330.4 778.8,329.1"/>
<polyline points="584.9,357.2 588.8,351.4 592.8,347.2 596.7,344.3 600.7,342.0 604.6,340.1 608.6,338.6 612.6,337.2 620.5,334.9 628.4,333.1 636.3,331.5 648.2,329.5 660.1,327.9 675.9,326.0 691.7,324.5 711.5,322.8 731.3,321.4 755.1,319.9 778.8,318.6"/>
<polyline points="584.9,368.0 588.8,362.9 592.8,358.8 596.7,355.9 600.7,353.6 604.6,351.7 608.6,350.1 612.6,348.7 620.5,346.5 628.4,344.6 636.3,343.0 648.2,341.0 660.1,339.3 675.9,337.5 691.7,335.9 711.5,334.2 731.3,332.7 755.1,331.2 778.8,329.9"/>
<polyline points="584.9,353.9 588.8,347.7 592.8,343.9 596.7,341.3 600.7,339.2 604.6,337.6 608.6,336.2 612.6,334.9 620.5,332.9 628.4,331.3 636.3,329.9 648.2,328.1 660.1,326.6 675.9,325.0 691.7,323.6 711.5,322.1 731.3,320.9 755.1,319.6 778.8,318.4"/>
<polyline points="584.9,353.7 588.8,348.1 592.8,344.2 596.7,341.5 600.7,339.4 604.6,337.6 608.6,336.2 612.6,335.0 620.5,332.9 628.4,331.2 636.3,329.8 648.2,328.0 660.1,326.5 675.9,324.9 691.7,323.5 711.5,322.0 731.3,320.7 755.1,319.4 778.8,318.3"/>
<polyline points="584.9,348.5 588.8,341.4 592.8,337.4 596.7,334.6 600.7,332.5 604.6,330.7 608.6,329.2 612.6,328.0 620.5,325.9 628.4,324.2 636.3,322.7 648.2,320.9 660.1,319.4 675.9,317.7 691.7,316.3 711.5,314.8 731.3,313.6 755.1,312.2 778.8,311.1"/>
<polyline points="584.9,347.2 588.8,340.7 592.8,336.8 596.7,334.1 600.7,332.0 604.6,330.3 608.6,328.8 612.6,327.6 620.5,325.5 628.4,323.8 636.3,322.4 648.2,320.6 660.1,319.2 675.9,317.5 691.7,316.1 711.5,314.7 731.3,313.4 755.1,312.1 778.8,311.0"/>
<polyline points="584.9,367.6 588.8,362.2 592.8,358.2 596.7,355.4 600.7,353.2 604.6,351.4 608.6,349.9 612.6,348.6 620.5,346.4 628.4,344.6 636.3,343.1 648.2,341.2 660.1,339.6 675.9,337.9 691.7,336.4 711.5,334.8 731.3,333.4 755.1,331.9 778.8,330.7"/>
<polyline points="584.9,366.5 588.8,361.4 592.8,357.2 596.7,354.2 600.7,351.9 604.6,350.0 608.6,348.4 612.6,347.0 620.5,344.7 628.4,342.8 636.3,341.2 648.2,339.2 660.1,337.5 675.9,335.6 691.7,333.9 711.5,332.2 731.3,330.7 755.1,329.2 778.8,327.9"/>
<polyline points="584.9,365.9 588.8,360.2 592.8,355.9 596.7,352.8 600.7,350.5 604.6,348.6 608.6,347.0 612.6,345.6 620.5,343.3 628.4,341.4 636.3,339.8 648.2,337.8 660.1,336.1 675.9,334.2 691.7,332.7 711.5,331.0 731.3,329.5 755.1,328.1 778.8,326.8"/>
<polyline points="584.9,351.0 588.8,344.7 592.8,340.5 596.7,337.6 600.7,335.4 604.6,333.6 608.6,332.1 612.6,330.8 620.5,328.7 628.4,326.9 636.3,325.5 648.2,323.7 660.1,322.1 675.9,320.4 691.7,319.0 711.5,317.5 731.3,316.2 755.1,314.9 778.8,313.8"/>
<polyline points="584.9,366.6 588.8,361.1 592.8,356.7 596.7,353.5 600.7,351.1 604.6,349.2 608.6,347.5 612.6,346.1 620.5,343.7 628.4,341.7 636.3,340.1 648.2,338.0 660.1,336.3 675.9,334.3 691.7,332.7 711.5,331.0 731.3,329.5 755.1,327.9 778.8,326.6"/>
<polyline points="584.9,355.8 588.8,349.5 592.8,345.3 596.7,342.2 600.7,339.9 604.6,338.0 608.6,336.5 612.6,335.1 620.5,332.8 628.4,331.0 636.3,329.4 648.2,327.5 660.1,325.8 675.9,324.0 691.7,322.5 711.5,320.9 731.3,319.5 755.1,318.1 778.8,316.8"/>
<polyline points="584.9,356.3 588.8,350.6 592.8,346.8 596.7,344.1 600.7,342.1 604.6,340.3 608.6,338.9 612.6,337.7 620.5,335.6 628.4,333.9 636.3,332.4 648.2,330.6 660.1,329.1 675.9,327.4 691.7,326.0 711.5,324.5 731.3,323.1 755.1,321.8 778.8,320.6"/>
<polyline points="584.9,368.0 588.8,362.6 592.8,358.4 596.7,355.4 600.7,353.1 604.6,351.2 608.6,349.6 612.6,348.2 620.5,345.9 628.4,344.1 636.3,342.5 648.2,340.5 660.1,338.8 675.9,336.9 691.7,335.3 711.5,333.7 731.3,332.2 755.1,330.7 778.8,329.4"/>
<polyline points="584.9,360.3 588.8,353.1 592.8,348.8 596.7,345.8 600.7,343.4 604.6,341.5 608.6,339.9 612.6,338.5 620.5,336.2 628.4,334.3 636.3,332.7 648.2,330.7 660.1,329.0 675.9,327.2 691.7,325.6 711.5,323.9 731.3,322.5 755.1,321.0 778.8,319.7"/>
<polyline points="584.9,359.5 588.8,353.4 592.8,349.2 596.7,346.2 600.7,343.8 604.6,341.9 608.6,340.3 612.6,338.9 620.5,336.6 628.4,334.7 636.3,333.1 648.2,331.1 660.1,329.4 675.9,327.6 691.7,326.0 711.5,324.3 731.3,322.8 755.1,321.3 778.8,320.0"/>
<polyline points="584.9,353.9 588.8,348.3 592.8,344.5 596.7,341.8 600.7,339.7 604.6,338.0 608.6,336.6 612.6,335.4 620.5,333.3 628.4,331.7 636.3,330.2 648.2,328.5 660.1,327.0 675.9,325.3 691.7,323.9 711.5,322.4 731.3,321.2 755.1,319.8 778.8,318.7"/>
<polyline points="584.9,365.2 588.8,359.8 592.8,355.3 596.7,352.2 600.7,349.8 604.6,347.8 608.6,346.1 612.6,344.7 620.5,342.2 628.4,340.3 636.3,338.6 648.2,336.5 660.1,334.8 675.9,332.9 691.7,331.2 711.5,329.5 731.3,328.0 755.1,326.4 778.8,325.1"/>
<polyline points="584.9,352.3 588.8,345.4 592.8,340.9 596.7,337.7 600.7,335.3 604.6,333.3 608.6,331.7 612.6,330.2 620.5,327.9 628.4,326.0 636.3,324.3 648.2,322.3 660.1,320.6 675.9,318.7 691.7,317.2 711.5,315.5 731.3,314.1 755.1,312.6 778.8,311.3"/>
<polyline points="584.9,363.5 588.8,357.2 592.8,353.2 596.7,350.3 600.7,348.0 604.6,346.2 608.6,344.6 612.6,343.3 620.5,341.0 628.4,339.2 636.3,337.6 648.2,335.6 660.1,334.0 675.9,332.2 691.7,330.6 711.5,328.9 731.3,327.5 755.1,326.0 778.8,324.7"/>
<polyline points="584.9,361.5 588.8,356.3 592.8,352.6 596.7,349.9 600.7,347.9 604.6,346.2 608.6,344.8 612.6,343.6 620.5,341.5 628.4,339.9 636.3,338.5 648.2,336.7 660.1,335.2 675.9,333.6 691.7,332.2 711.5,330.7 731.3,329.4 755.1,328.1 778.8,326.9"/>
<polyline points="584.9,358.2 588.8,350.7 592.8,346.5 596.7,343.5 600.7,341.1 604.6,339.2 608.6,337.7 612.6,336.3 620.5,334.0 628.4,332.1 636.3,330.5 648.2,328.5 660.1,326.8 675.9,325.0 691.7,323.4 711.5,321.7 731.3,320.3 755.1,318.8 778.8,317.5"/>
<polyline points="584.9,363.6 588.8,357.7 592.8,353.6 596.7,350.8 600.7,348.6 604.6,346.8 608.6,345.3 612.6,343.9 620.5,341.8 628.4,340.0 636.3,338.5 648.2,336.6 660.1,335.0 675.9,333.3 691.7,331.8 711.5,330.2 731.3,328.9 755.1,327.5 778.8,326.3"/>
<polyline points="584.9,369.7 588.8,365.0 592.8,360.7 596.7,357.7 600.7,355.4 604.6,353.4 608.6,351.8 612.6,350.4 620.5,348.0 628.4,346.1 636.3,344.4 648.2,342.3 660.1,340.6 675.9,338.6 691.7,336.9 711.5,335.2 731.3,333.6 755.1,332.0 778.8,330.6"/>
<polyline points="584.9,353.2 588.8,345.9 592.8,341.5 596.7,338.5 600.7,336.1 604.6,334.2 608.6,332.6 612.6,331.2 620.5,328.9 628.4,327.0 636.3,325.4 648.2,323.5 660.1,321.8 675.9,319.9 691.7,318.4 711.5,316.7 731.3,315.3 755.1,313.8 778.8,312.6"/>
<polyline points="584.9,368.8 588.8,363.9 592.8,359.7 596.7,356.8 600.7,354.5 604.6,352.6 608.6,351.0 612.6,349.6 620.5,347.3 628.4,345.5 636.3,343.9 648.2,341.8 660.1,340.2 675.9,338.3 691.7,336.7 711.5,335.0 731.3,333.5 755.1,332.0 778.8,330.6"/>
<polyline points="584.9,351.2 588.8,344.5 592.8,340.4 596.7,337.6 600.7,335.4 604.6,333.6 608.6,332.1 612.6,330.8 620.5,328.6 628.4,326.9 636.3,325.4 648.2,323.5 660.1,322.0 675.9,320.2 691.7,318.8 711.5,317.2 731.3,315.9 755.1,314.6 778.8,313.4"/>
<polyline points="584.9,364.4 588.8,359.2 592.8,355.1 596.7,352.2 600.7,349.9 604.6,348.1 608.6,346.6 612.6,345.2 620.5,343.0 628.4,341.2 636.3,339.7 648.2,337.8 660.1,336.2 675.9,334.4 691.7,332.9 711.5,331.3 731.3,329.9 755.1,328.5 778.8,327.2"/>
<polyline points="584.9,366.7 588.8,361.4 592.8,357.0 596.7,353.9 600.7,351.5 604.6,349.6 608.6,347.9 612.6,346.5 620.5,344.1 628.4,342.1 636.3,340.4 648.2,338.3 660.1,336.6 675.9,334.6 691.7,332.9 711.5,331.1 731.3,329.6 755.1,328.0 778.8,326.6"/>
<polyline points="584.9,364.2 588.8,358.2 592.8,354.1 596.7,351.3 600.7,349.1 604.6,347.2 608.6,345.7 612.6,344.4 620.5,342.2 628.4,340.4 636.3,338.9 648.2,337.0 660.1,335.4 675.9,333.6 691.7,332.1 711.5,330.5 731.3,329.1 755.1,327.7 778.8,326.4"/>
<polyline points="584.9,354.6 588.8,348.3 592.8,344.6 596.7,341.9 600.7,339.9 604.6,338.2 608.6,336.8 612.6,335.6 620.5,333.5 628.4,331.9 636.3,330.5 648.2,328.7 660.1,327.2 675.9,325.6 691.7,324.2 711.5,322.7 731.3,321.4 755.1,320.1 778.8,319.0"/>
<polyline points="584.9,357.1 588.8,350.5 592.8,346.1 596.7,343.1 600.7,340.7 604.6,338.8 608.6,337.2 612.6,335.8 620.5,333.5 628.4,331.6 636.3,330.0 648.2,328.0 660.1,326.3 675.9,324.5 691.7,322.9 711.5,321.2 731.3,319.8 755.1,318.3 778.8,317.1"/>
<polyline points="584.9,365.4 588.8,359.8 592.8,355.4 596.7,352.3 600.7,349.9 604.6,347.9 608.6,346.3 612.6,344.8 620.5,342.4 628.4,340.5 636.3,338.9 648.2,336.8 660.1,335.1 675.9,333.1 691.7,331.5 711.5,329.8 731.3,328.3 755.1,326.7 778.8,325.4"/>
<polyline points="584.9,347.3 588.8,341.4 592.8,337.5 596.7,334.7 600.7,332.6 604.6,330.9 608.6,329.4 612.6,328.2 620.5,326.1 628.4,324.4 636.3,323.0 648.2,321.3 660.1,319.8 675.9,318.2 691.7,316.8 711.5,315.3 731.3,314.1 755.1,312.8 778.8,311.7"/>
<polyline points="584.9,364.0 588.8,358.5 592.8,354.6 596.7,351.8 600.7,349.6 604.6,347.9 608.6,346.4 612.6,345.1 620.5,342.9 628.4,341.1 636.3,339.6 648.2,337.7 660.1,336.1 675.9,334.3 691.7,332.7 711.5,331.1 731.3,329.7 755.1,328.3 778.8,327.0"/>
<polyline points="584.9,366.1 588.8,361.4 592.8,357.3 596.7,354.4 600.7,352.1 604.6,350.3 608.6,348.7 612.6,347.4 620.5,345.1 628.4,343.3 636.3,341.8 648.2,339.8 660.1,338.2 675.9,336.4 691.7,334.8 711.5,333.2 731.3,331.8 755.1,330.3 778.8,329.0"/>
<polyline points="584.9,354.1 588.8,346.4 592.8,342.0 596.7,338.9 600.7,336.5 604.6,334.5 608.6,332.9 612.6,331.5 620.5,329.2 628.4,327.3 636.3,325.7 648.2,323.8 660.1,322.1 675.9,320.3 691.7,318.8 711.5,317.1 731.3,315.7 755.1,314.3 778.8,313.1"/>
<polyline points="584.9,339.0 588.8,329.3 592.8,324.9 596.7,321.8 600.7,319.3 604.6,317.4 608.6,315.7 612.6,314.2 620.5,311.8 628.4,309.8 636.3,308.2 648.2,306.1 660.1,304.3 675.9,302.4 691.7,300.7 711.5,298.9 731.3,297.4 755.1,295.8 778.8,294.5"/>
<polyline points="584.9,325.2 588.8,315.9 592.8,312.4 596.7,310.0 600.7,308.1 604.6,306.6 608.6,305.4 612.6,304.3 620.5,302.5 628.4,301.0 636.3,299.8 648.2,298.3 660.1,297.0 675.9,295.6 691.7,294.4 711.5,293.2 731.3,292.1 755.1,291.0 778.8,290.0"/>
<polyline points="584.9,321.9 588.8,312.9 592.8,309.8 596.7,307.6 600.7,305.9 604.6,304.6 608.6,303.4 612.6,302.4 620.5,300.8 628.4,299.4 636.3,298.3 648.2,296.9 660.1,295.7 675.9,294.4 691.7,293.3 711.5,292.1 731.3,291.1 755.1,290.1 778.8,289.2"/>
<polyline points="584.9,334.3 588.8,324.6 592.8,320.5 596.7,317.6 600.7,315.4 604.6,313.6 608.6,312.0 612.6,310.7 620.5,308.5 628.4,306.7 636.3,305.2 648.2,303.3 660.1,301.7 675.9,299.9 691.7,298.4 711.5,296.8 731.3,295.4 755.1,294.0 778.8,292.8"/>
<polyline points="584.9,325.1 588.8,315.8 592.8,312.4 596.7,310.0 600.7,308.2 604.6,306.7 608.6,305.4 612.6,304.4 620.5,302.6 628.4,301.1 636.3,299.9 648.2,298.4 660.1,297.1 675.9,295.7 691.7,294.5 711.5,293.2 731.3,292.1 755.1,291.0 778.8,290.0"/>
<polyline points="584.9,324.3 588.8,314.6 592.8,311.2 596.7,308.9 600.7,307.1 604.6,305.6 608.6,304.4 612.6,303.3 620.5,301.6 628.4,300.1 636.3,298.9 648.2,297.4 660.1,296.2 675.9,294.8 691.7,293.6 711.5,292.4 731.3,291.4 755.1,290.3 778.8,289.3"/>
<polyline points="584.9,332.7 588.8,323.8 592.8,319.8 596.7,316.9 600.7,314.7 604.6,312.9 608.6,311.4 612.6,310.1 620.5,307.9 628.4,306.1 636.3,304.6 648.2,302.8 660.1,301.2 675.9,299.5 691.7,298.0 711.5,296.4 731.3,295.1 755.1,293.7 778.8,292.5"/>
<polyline points="584.9,327.7 588.8,319.3 592.8,315.6 596.7,313.0 600.7,311.1 604.6,309.4 608.6,308.1 612.6,306.9 620.5,305.0 628.4,303.4 636.3,302.1 648.2,300.4 660.1,299.0 675.9,297.5 691.7,296.1 711.5,294.8 731.3,293.6 755.1,292.3 778.8,291.3"/>
<polyline points="584.9,332.3 588.8,322.0 592.8,317.9 596.7,315.1 600.7,312.9 604.6,311.1 608.6,309.7 612.6,308.4 620.5,306.2 628.4,304.5 636.3,303.1 648.2,301.2 660.1,299.7 675.9,298.0 691.7,296.6 711.5,295.1 731.3,293.8 755.1,292.5 778.8,291.4"/>
<polyline points="584.9,327.5 588.8,318.0 592.8,314.5 596.7,312.0 600.7,310.1 604.6,308.6 608.6,307.3 612.6,306.1 620.5,304.3 628.4,302.8 636.3,301.5 648.2,299.9 660.1,298.5 675.9,297.1 691.7,295.8 711.5,294.5 731.3,293.3 755.1,292.2 778.8,291.1"/>
<polyline points="584.9,328.8 588.8,319.7 592.8,316.0 596.7,313.5 600.7,311.5 604.6,309.9 608.6,308.6 612.6,307.4 620.5,305.5 628.4,303.9 636.3,302.6 648.2,300.9 660.1,299.5 675.9,298.0 691.7,296.7 711.5,295.3 731.3,294.1 755.1,292.9 778.8,291.8"/>
<polyline points="584.9,328.1 588.8,318.7 592.8,315.2 596.7,312.7 600.7,310.7 604.6,309.2 608.6,307.8 612.6,306.7 620.5,304.8 628.4,303.3 636.3,302.0 648.2,300.3 660.1,299.0 675.9,297.4 691.7,296.1 711.5,294.8 731.3,293.6 755.1,292.4 778.8,291.3"/>
<polyline points="584.9,290.9 588.8,267.6 592.8,262.1 596.7,258.2 600.7,255.2 604.6,252.8 608.6,250.8 612.6,249.0 620.5,246.1 628.4,243.8 636.3,241.9 648.2,239.4 660.1,237.4 675.9,235.2 691.7,233.3 711.5,231.3 731.3,229.6 755.1,227.8 778.8,226.3"/>
<polyline points="584.9,294.7 588.8,272.1 592.8,266.7 596.7,262.9 600.7,260.0 604.6,257.7 608.6,255.7 612.6,254.1 620.5,251.3 628.4,249.0 636.3,247.1 648.2,244.7 660.1,242.8 675.9,240.6 691.7,238.8 711.5,236.8 731.3,235.2 755.1,233.5 778.8,232.0"/>
<polyline points="584.9,300.4 588.8,280.1 592.8,274.7 596.7,271.0 600.7,268.2 604.6,265.8 608.6,263.9 612.6,262.3 620.5,259.5 628.4,257.3 636.3,255.4 648.2,253.1 660.1,251.2 675.9,249.0 691.7,247.2 711.5,245.3 731.3,243.7 755.1,242.0 778.8,240.5"/>
<polyline points="584.9,371.0 588.8,367.7 592.8,364.0 596.7,361.4 600.7,359.4 604.6,357.7 608.6,356.3 612.6,355.1 620.5,353.1 628.4,351.4 636.3,350.0 648.2,348.2 660.1,346.7 675.9,345.1 691.7,343.7 711.5,342.2 731.3,340.9 755.1,339.6 778.8,338.4"/>
<polyline points="584.9,304.2 588.8,284.2 592.8,278.9 596.7,275.3 600.7,272.5 604.6,270.2 608.6,268.3 612.6,266.7 620.5,264.0 628.4,261.8 636.3,259.9 648.2,257.6 660.1,255.7 675.9,253.6 691.7,251.8 711.5,250.0 731.3,248.4 755.1,246.7 778.8,245.3"/>
<polyline points="584.9,309.9 588.8,289.5 592.8,283.9 596.7,280.0 600.7,277.1 604.6,274.6 608.6,272.6 612.6,270.9 620.5,268.0 628.4,265.7 636.3,263.7 648.2,261.3 660.1,259.3 675.9,257.0 691.7,255.1 711.5,253.1 731.3,251.4 755.1,249.7 778.8,248.1"/>
<polyline points="584.9,313.7 588.8,293.3 592.8,287.5 596.7,283.4 600.7,280.3 604.6,277.8 608.6,275.7 612.6,273.8 620.5,270.8 628.4,268.4 636.3,266.3 648.2,263.8 660.1,261.7 675.9,259.3 691.7,257.3 711.5,255.3 731.3,253.5 755.1,251.6 778.8,250.0"/>
<polyline points="584.9,311.8 588.8,295.7 592.8,291.2 596.7,288.0 600.7,285.6 604.6,283.6 608.6,282.0 612.6,280.5 620.5,278.2 628.4,276.2 636.3,274.6 648.2,272.6 660.1,270.9 675.9,269.0 691.7,267.4 711.5,265.7 731.3,264.2 755.1,262.7 778.8,261.4"/>
<polyline points="584.9,317.5 588.8,301.4 592.8,296.5 596.7,293.0 600.7,290.3 604.6,288.2 608.6,286.3 612.6,284.8 620.5,282.2 628.4,280.0 636.3,278.3 648.2,276.0 660.1,274.2 675.9,272.1 691.7,270.3 711.5,268.5 731.3,266.9 755.1,265.2 778.8,263.8"/>
<polyline points="584.9,323.2 588.8,306.1 592.8,300.9 596.7,297.2 600.7,294.3 604.6,292.0 608.6,290.1 612.6,288.4 620.5,285.7 628.4,283.4 636.3,281.5 648.2,279.1 660.1,277.2 675.9,275.0 691.7,273.1 711.5,271.1 731.3,269.5 755.1,267.7 778.8,266.2"/>
<polyline points="584.9,319.4 588.8,306.0 592.8,301.9 596.7,299.0 600.7,296.8 604.6,295.0 608.6,293.5 612.6,292.2 620.5,290.0 628.4,288.2 636.3,286.8 648.2,284.9 660.1,283.3 675.9,281.6 691.7,280.2 711.5,278.6 731.3,277.3 755.1,275.9 778.8,274.8"/>
<polyline points="584.9,324.1 588.8,310.2 592.8,305.8 596.7,302.6 600.7,300.2 604.6,298.2 608.6,296.6 612.6,295.2 620.5,292.8 628.4,290.9 636.3,289.3 648.2,287.2 660.1,285.5 675.9,283.7 691.7,282.1 711.5,280.4 731.3,279.0 755.1,277.5 778.8,276.2"/>
<polyline points="584.9,328.9 588.8,314.5 592.8,309.7 596.7,306.3 600.7,303.7 604.6,301.5 608.6,299.7 612.6,298.2 620.5,295.6 628.4,293.5 636.3,291.8 648.2,289.6 660.1,287.8 675.9,285.7 691.7,284.0 711.5,282.2 731.3,280.6 755.1,279.0 778.8,277.6"/>
<polyline points="584.9,332.7 588.8,318.5 592.8,313.4 596.7,309.9 600.7,307.1 604.6,304.9 608.6,303.0 612.6,301.4 620.5,298.8 628.4,296.6 636.3,294.8 648.2,292.5 660.1,290.6 675.9,288.4 691.7,286.6 711.5,284.7 731.3,283.1 755.1,281.4 778.8,280.0"/>
<polyline points="584.9,335.5 588.8,321.5 592.8,316.2 596.7,312.5 600.7,309.7 604.6,307.4 608.6,305.4 612.6,303.7 620.5,301.0 628.4,298.7 636.3,296.8 648.2,294.4 660.1,292.4 675.9,290.2 691.7,288.3 711.5,286.4 731.3,284.7 755.1,282.9 778.8,281.4"/>
</g>
<g fill="none" stroke="#66bb2e" stroke-width="1.0">
<polyline points="584.9,348.3 588.8,339.4 592.8,335.5 596.7,332.6 600.7,330.4 604.6,328.7 608.6,327.2 612.6,325.8 620.5,323.7 628.4,321.9 636.3,320.4 648.2,318.5 660.1,316.9 675.9,315.1 691.7,313.6 711.5,312.0 731.3,310.7 755.1,309.2 778.8,308.0"/>
<polyline points="584.9,343.7 588.8,334.1 592.8,330.1 596.7,327.2 600.7,325.0 604.6,323.2 608.6,321.7 612.6,320.4 620.5,318.2 628.4,316.4 636.3,314.9 648.2,313.0 660.1,311.4 675.9,309.6 691.7,308.1 711.5,306.5 731.3,305.2 755.1,303.7 778.8,302.5"/>
<polyline points="584.9,350.4 588.8,341.0 592.8,336.6 596.7,333.4 600.7,331.0 604.6,329.0 608.6,327.3 612.6,325.8 620.5,323.4 628.4,321.4 636.3,319.7 648.2,317.6 660.1,315.9 675.9,313.9 691.7,312.2 711.5,310.4 731.3,308.9 755.1,307.3 778.8,305.9"/>
<polyline points="584.9,341.2 588.8,331.5 592.8,327.4 596.7,324.5 600.7,322.3 604.6,320.5 608.6,318.9 612.6,317.6 620.5,315.4 628.4,313.6 636.3,312.1 648.2,310.1 660.1,308.5 675.9,306.7 691.7,305.2 711.5,303.6 731.3,302.2 755.1,300.8 778.8,299.5"/>
<polyline points="584.9,344.4 588.8,335.3 592.8,331.4 596.7,328.7 600.7,326.5 604.6,324.8 608.6,323.3 612.6,322.0 620.5,319.9 628.4,318.1 636.3,316.6 648.2,314.8 660.1,313.2 675.9,311.5 691.7,310.0 711.5,308.4 731.3,307.1 755.1,305.7 778.8,304.5"/>
<polyline points="584.9,336.5 588.8,327.1 592.8,323.2 596.7,320.4 600.7,318.3 604.6,316.5 608.6,315.1 612.6,313.8 620.5,311.7 628.4,310.0 636.3,308.6 648.2,306.8 660.1,305.3 675.9,303.6 691.7,302.2 711.5,300.8 731.3,299.5 755.1,298.2 778.8,297.0"/>
<polyline points="584.9,340.9 588.8,331.6 592.8,327.8 596.7,325.0 600.7,322.9 604.6,321.2 608.6,319.8 612.6,318.5 620.5,316.4 628.4,314.7 636.3,313.2 648.2,311.4 660.1,309.9 675.9,308.1 691.7,306.7 711.5,305.1 731.3,303.8 755.1,302.4 778.8,301.2"/>
<polyline points="584.9,355.8 588.8,346.4 592.8,342.0 596.7,338.8 600.7,336.3 604.6,334.3 608.6,332.6 612.6,331.1 620.5,328.6 628.4,326.5 636.3,324.8 648.2,322.7 660.1,320.8 675.9,318.8 691.7,317.1 711.5,315.2 731.3,313.6 755.1,312.0 778.8,310.5"/>
<polyline points="584.9,339.0 588.8,330.5 592.8,326.6 596.7,323.8 600.7,321.7 604.6,319.9 608.6,318.5 612.6,317.2 620.5,315.1 628.4,313.4 636.3,312.0 648.2,310.2 660.1,308.7 675.9,307.0 691.7,305.6 711.5,304.1 731.3,302.8 755.1,301.4 778.8,300.3"/>
<polyline points="584.9,344.9 588.8,336.7 592.8,332.9 596.7,330.2 600.7,328.1 604.6,326.4 608.6,325.0 612.6,323.7 620.5,321.7 628.4,320.0 636.3,318.5 648.2,316.7 660.1,315.2 675.9,313.5 691.7,312.1 711.5,310.6 731.3,309.3 755.1,308.0 778.8,306.8"/>
<polyline points="584.9,341.6 588.8,331.6 592.8,327.4 596.7,324.4 600.7,322.1 604.6,320.2 608.6,318.6 612.6,317.2 620.5,314.9 628.4,313.1 636.3,311.5 648.2,309.5 660.1,307.9 675.9,306.0 691.7,304.5 711.5,302.8 731.3,301.4 755.1,299.9 778.8,298.7"/>
<polyline points="584.9,334.3 588.8,324.7 592.8,320.7 596.7,317.9 600.7,315.7 604.6,314.0 608.6,312.5 612.6,311.2 620.5,309.0 628.4,307.3 636.3,305.8 648.2,304.0 660.1,302.4 675.9,300.7 691.7,299.3 711.5,297.7 731.3,296.4 755.1,295.1 778.8,293.9"/>
<polyline points="584.9,352.6 588.8,343.7 592.8,339.7 596.7,336.8 600.7,334.5 604.6,332.7 608.6,331.1 612.6,329.8 620.5,327.5 628.4,325.6 636.3,324.0 648.2,322.0 660.1,320.3 675.9,318.4 691.7,316.8 711.5,315.1 731.3,313.6 755.1,312.1 778.8,310.8"/>
<polyline points="584.9,337.6 588.8,327.6 592.8,323.5 596.7,320.7 600.7,318.5 604.6,316.7 608.6,315.2 612.6,313.9 620.5,311.7 628.4,310.0 636.3,308.5 648.2,306.6 660.1,305.1 675.9,303.4 691.7,301.9 711.5,300.4 731.3,299.1 755.1,297.7 778.8,296.5"/>
<polyline points="584.9,333.4 588.8,323.7 592.8,319.9 596.7,317.2 600.7,315.1 604.6,313.4 608.6,311.9 612.6,310.7 620.5,308.6 628.4,307.0 636.3,305.6 648.2,303.8 660.1,302.4 675.9,300.7 691.7,299.4 711.5,297.9 731.3,296.6 755.1,295.4 778.8,294.2"/>
<polyline points="584.9,338.8 588.8,329.5 592.8,325.6 596.7,322.8 600.7,320.6 604.6,318.8 608.6,317.4 612.6,316.1 620.5,313.9 628.4,312.2 636.3,310.7 648.2,308.8 660.1,307.3 675.9,305.6 691.7,304.1 711.5,302.5 731.3,301.2 755.1,299.8 778.8,298.6"/>
<polyline points="584.9,343.1 588.8,335.1 592.8,331.2 596.7,328.5 600.7,326.4 604.6,324.7 608.6,323.3 612.6,322.0 620.5,319.9 628.4,318.2 636.3,316.8 648.2,315.0 660.1,313.5 675.9,311.8 691.7,310.4 711.5,308.9 731.3,307.6 755.1,306.3 778.8,305.1"/>
<polyline points="584.9,339.8 588.8,330.2 592.8,326.0 596.7,323.0 600.7,320.7 604.6,318.9 608.6,317.3 612.6,316.0 620.5,313.8 628.4,311.9 636.3,310.4 648.2,308.5 660.1,306.9 675.9,305.1 691.7,303.6 711.5,302.0 731.3,300.7 755.1,299.2 778.8,298.0"/>
<polyline points="584.9,342.4 588.8,333.4 592.8,329.4 596.7,326.6 600.7,324.5 604.6,322.7 608.6,321.2 612.6,319.9 620.5,317.7 628.4,316.0 636.3,314.5 648.2,312.6 660.1,311.0 675.9,309.2 691.7,307.8 711.5,306.2 731.3,304.8 755.1,303.4 778.8,302.1"/>
<polyline points="584.9,330.8 588.8,322.1 592.8,318.5 596.7,315.9 600.7,313.9 604.6,312.3 608.6,310.9 612.6,309.7 620.5,307.7 628.4,306.2 636.3,304.8 648.2,303.1 660.1,301.7 675.9,300.2 691.7,298.8 711.5,297.4 731.3,296.2 755.1,295.0 778.8,293.9"/>
<polyline points="584.9,335.8 588.8,327.2 592.8,323.6 596.7,321.0 600.7,319.0 604.6,317.4 608.6,316.0 612.6,314.8 620.5,312.8 628.4,311.2 636.3,309.9 648.2,308.2 660.1,306.7 675.9,305.1 691.7,303.8 711.5,302.4 731.3,301.1 755.1,299.9 778.8,298.7"/>
<polyline points="584.9,345.3 588.8,336.0 592.8,332.0 596.7,329.2 600.7,327.0 604.6,325.2 608.6,323.7 612.6,322.4 620.5,320.2 628.4,318.5 636.3,317.0 648.2,315.1 660.1,313.5 675.9,311.8 691.7,310.3 711.5,308.7 731.3,307.3 755.1,305.9 778.8,304.7"/>
<polyline points="584.9,351.7 588.8,341.8 592.8,337.5 596.7,334.4 600.7,332.0 604.6,330.0 608.6,328.3 612.6,326.9 620.5,324.5 628.4,322.5 636.3,320.8 648.2,318.7 660.1,317.0 675.9,315.0 691.7,313.3 711.5,311.5 731.3,310.0 755.1,308.4 778.8,307.0"/>
<polyline points="584.9,337.2 588.8,327.0 592.8,322.9 596.7,320.1 600.7,317.9 604.6,316.1 608.6,314.5 612.6,313.2 620.5,311.1 628.4,309.3 636.3,307.8 648.2,306.0 660.1,304.4 675.9,302.7 691.7,301.3 711.5,299.7 731.3,298.4 755.1,297.0 778.8,295.9"/>
<polyline points="584.9,351.1 588.8,341.1 592.8,336.8 596.7,333.8 600.7,331.4 604.6,329.4 608.6,327.8 612.6,326.3 620.5,324.0 628.4,322.0 636.3,320.3 648.2,318.2 660.1,316.5 675.9,314.5 691.7,312.8 711.5,311.1 731.3,309.5 755.1,307.9 778.8,306.5"/>
<polyline points="584.9,350.7 588.8,341.8 592.8,337.7 596.7,334.7 600.7,332.4 604.6,330.5 608.6,328.9 612.6,327.5 620.5,325.2 628.4,323.3 636.3,321.7 648.2,319.7 660.1,317.9 675.9,316.0 691.7,314.4 711.5,312.7 731.3,311.2 755.1,309.6 778.8,308.2"/>
<polyline points="584.9,340.6 588.8,331.5 592.8,327.7 596.7,325.0 600.7,322.9 604.6,321.2 608.6,319.8 612.6,318.6 620.5,316.5 628.4,314.8 636.3,313.3 648.2,311.5 660.1,310.0 675.9,308.3 691.7,306.9 711.5,305.3 731.3,304.0 755.1,302.6 778.8,301.5"/>
<polyline points="584.9,352.1 588.8,343.0 592.8,338.9 596.7,336.0 600.7,333.8 604.6,331.9 608.6,330.3 612.6,329.0 620.5,326.7 628.4,324.8 636.3,323.2 648.2,321.2 660.1,319.5 675.9,317.6 691.7,316.0 711.5,314.3 731.3,312.8 755.1,311.3 778.8,310.0"/>
<polyline points="584.9,343.4 588.8,333.3 592.8,329.1 596.7,326.1 600.7,323.8 604.6,321.9 608.6,320.3 612.6,319.0 620.5,316.7 628.4,314.8 636.3,313.3 648.2,311.3 660.1,309.7 675.9,307.9 691.7,306.4 711.5,304.7 731.3,303.4 755.1,301.9 778.8,300.7"/>
<polyline points="584.9,334.4 588.8,325.3 592.8,321.3 596.7,318.5 600.7,316.3 604.6,314.6 608.6,313.1 612.6,311.8 620.5,309.7 628.4,308.0 636.3,306.5 648.2,304.7 660.1,303.2 675.9,301.5 691.7,300.1 711.5,298.6 731.3,297.3 755.1,296.0 778.8,294.8"/>
<polyline points="584.9,344.9 588.8,335.7 592.8,331.5 596.7,328.6 600.7,326.3 604.6,324.5 608.6,322.9 612.6,321.6 620.5,319.3 628.4,317.5 636.3,316.0 648.2,314.0 660.1,312.4 675.9,310.6 691.7,309.0 711.5,307.4 731.3,306.0 755.1,304.6 778.8,303.3"/>
<polyline points="584.9,338.4 588.8,329.3 592.8,325.4 596.7,322.6 600.7,320.4 604.6,318.7 608.6,317.2 612.6,315.9 620.5,313.7 628.4,312.0 636.3,310.5 648.2,308.7 660.1,307.1 675.9,305.4 691.7,303.9 711.5,302.3 731.3,301.0 755.1,299.6 778.8,298.4"/>
<polyline points="584.9,348.7 588.8,340.2 592.8,336.4 596.7,333.8 600.7,331.7 604.6,330.0 608.6,328.6 612.6,327.3 620.5,325.3 628.4,323.5 636.3,322.1 648.2,320.3 660.1,318.7 675.9,317.0 691.7,315.5 711.5,313.9 731.3,312.6 755.1,311.2 778.8,309.9"/>
<polyline points="584.9,337.5 588.8,329.1 592.8,325.4 596.7,322.8 600.7,320.8 604.6,319.1 608.6,317.8 612.6,316.6 620.5,314.6 628.4,313.0 636.3,311.7 648.2,310.0 660.1,308.6 675.9,307.0 691.7,305.7 711.5,304.2 731.3,303.0 755.1,301.8 778.8,300.7"/>
<polyline points="584.9,348.5 588.8,339.6 592.8,335.7 596.7,333.0 600.7,330.8 604.6,329.1 608.6,327.6 612.6,326.3 620.5,324.1 628.4,322.4 636.3,320.9 648.2,319.0 660.1,317.4 675.9,315.6 691.7,314.1 711.5,312.5 731.3,311.1 755.1,309.6 778.8,308.4"/>
<polyline points="584.9,345.7 588.8,337.6 592.8,333.8 596.7,331.1 600.7,329.0 604.6,327.3 608.6,325.8 612.6,324.6 620.5,322.5 628.4,320.7 636.3,319.3 648.2,317.5 660.1,316.0 675.9,314.2 691.7,312.8 711.5,311.3 731.3,309.9 755.1,308.6 778.8,307.4"/>
<polyline points="584.9,332.7 588.8,323.6 592.8,319.9 596.7,317.4 600.7,315.4 604.6,313.7 608.6,312.4 612.6,311.2 620.5,309.2 628.4,307.6 636.3,306.3 648.2,304.6 660.1,303.1 675.9,301.6 691.7,300.2 711.5,298.8 731.3,297.6 755.1,296.4 778.8,295.3"/>
<polyline points="584.9,337.9 588.8,328.2 592.8,324.1 596.7,321.2 600.7,318.9 604.6,317.1 608.6,315.5 612.6,314.2 620.5,312.0 628.4,310.2 636.3,308.7 648.2,306.8 660.1,305.2 675.9,303.4 691.7,301.9 711.5,300.3 731.3,299.0 755.1,297.5 778.8,296.3"/>
<polyline points="584.9,341.7 588.8,332.1 592.8,327.8 596.7,324.8 600.7,322.5 604.6,320.6 608.6,319.0 612.6,317.6 620.5,315.3 628.4,313.4 636.3,311.8 648.2,309.8 660.1,308.1 675.9,306.3 691.7,304.7 711.5,303.0 731.3,301.6 755.1,300.1 778.8,298.8"/>
<polyline points="584.9,347.0 588.8,338.7 592.8,334.8 596.7,332.1 600.7,330.0 604.6,328.3 608.6,326.8 612.6,325.6 620.5,323.4 628.4,321.7 636.3,320.3 648.2,318.4 660.1,316.9 675.9,315.1 691.7,313.7 711.5,312.1 731.3,310.8 755.1,309.4 778.8,308.2"/>
<polyline points="584.9,341.7 588.8,332.9 592.8,329.1 596.7,326.4 600.7,324.4 604.6,322.7 608.6,321.3 612.6,320.1 620.5,318.0 628.4,316.4 636.3,315.0 648.2,313.2 660.1,311.8 675.9,310.1 691.7,308.7 711.5,307.3 731.3,306.0 755.1,304.7 778.8,303.6"/>
<polyline points="584.9,350.6 588.8,341.6 592.8,337.5 596.7,334.6 600.7,332.4 604.6,330.6 608.6,329.0 612.6,327.7 620.5,325.5 628.4,323.7 636.3,322.1 648.2,320.2 660.1,318.6 675.9,316.7 691.7,315.2 711.5,313.6 731.3,312.2 755.1,310.7 778.8,309.5"/>
<polyline points="584.9,341.7 588.8,332.8 592.8,328.9 596.7,326.0 600.7,323.9 604.6,322.1 608.6,320.6 612.6,319.3 620.5,317.1 628.4,315.3 636.3,313.8 648.2,311.9 660.1,310.3 675.9,308.5 691.7,307.0 711.5,305.4 731.3,304.0 755.1,302.6 778.8,301.3"/>
<polyline points="584.9,354.0 588.8,344.7 592.8,340.4 596.7,337.4 600.7,335.0 604.6,333.1 608.6,331.5 612.6,330.0 620.5,327.7 628.4,325.7 636.3,324.1 648.2,322.0 660.1,320.3 675.9,318.3 691.7,316.7 711.5,314.9 731.3,313.4 755.1,311.8 778.8,310.4"/>
<polyline points="584.9,343.4 588.8,333.5 592.8,329.4 596.7,326.5 600.7,324.2 604.6,322.4 608.6,320.8 612.6,319.5 620.5,317.3 628.4,315.5 636.3,314.0 648.2,312.0 660.1,310.5 675.9,308.7 691.7,307.2 711.5,305.6 731.3,304.2 755.1,302.8 778.8,301.6"/>
<polyline points="584.9,348.3 588.8,339.5 592.8,335.3 596.7,332.4 600.7,330.1 604.6,328.2 608.6,326.6 612.6,325.2 620.5,322.9 628.4,321.1 636.3,319.5 648.2,317.5 660.1,315.8 675.9,313.9 691.7,312.3 711.5,310.6 731.3,309.2 755.1,307.7 778.8,306.3"/>
<polyline points="584.9,346.5 588.8,338.0 592.8,334.0 596.7,331.2 600.7,329.0 604.6,327.2 608.6,325.7 612.6,324.5 620.5,322.3 628.4,320.5 636.3,319.0 648.2,317.1 660.1,315.6 675.9,313.8 691.7,312.3 711.5,310.7 731.3,309.4 755.1,308.0 778.8,306.7"/>
<polyline points="584.9,351.0 588.8,342.4 592.8,338.4 596.7,335.6 600.7,333.4 604.6,331.6 608.6,330.1 612.6,328.7 620.5,326.5 628.4,324.7 636.3,323.2 648.2,321.2 660.1,319.6 675.9,317.8 691.7,316.2 711.5,314.6 731.3,313.2 755.1,311.7 778.8,310.4"/>
<polyline points="584.9,334.6 588.8,325.7 592.8,322.0 596.7,319.4 600.7,317.5 604.6,315.9 608.6,314.5 612.6,313.3 620.5,311.4 628.4,309.8 636.3,308.5 648.2,306.8 660.1,305.4 675.9,303.9 691.7,302.5 711.5,301.2 731.3,300.0 755.1,298.7 778.8,297.7"/>
<polyline points="584.9,343.3 588.8,334.2 592.8,330.3 596.7,327.5 600.7,325.4 604.6,323.6 608.6,322.2 612.6,320.9 620.5,318.7 628.4,317.0 636.3,315.5 648.2,313.6 660.1,312.1 675.9,310.4 691.7,308.9 711.5,307.3 731.3,306.0 755.1,304.6 778.8,303.3"/>
<polyline points="584.9,332.8 588.8,323.9 592.8,320.2 596.7,317.6 600.7,315.6 604.6,314.0 608.6,312.6 612.6,311.4 620.5,309.5 628.4,307.9 636.3,306.5 648.2,304.9 660.1,303.5 675.9,301.9 691.7,300.6 711.5,299.2 731.3,298.0 755.1,296.8 778.8,295.7"/>
<polyline points="584.9,349.8 588.8,341.4 592.8,337.5 596.7,334.7 600.7,332.5 604.6,330.7 608.6,329.2 612.6,327.9 620.5,325.7 628.4,323.9 636.3,322.4 648.2,320.5 660.1,318.9 675.9,317.2 691.7,315.7 711.5,314.0 731.3,312.7 755.1,311.2 778.8,310.0"/>
<polyline points="584.9,340.1 588.8,330.6 592.8,326.6 596.7,323.8 600.7,321.6 604.6,319.8 608.6,318.3 612.6,317.0 620.5,314.9 628.4,313.1 636.3,311.7 648.2,309.8 660.1,308.3 675.9,306.6 691.7,305.1 711.5,303.6 731.3,302.3 755.1,300.9 778.8,299.7"/>
<polyline points="584.9,335.8 588.8,325.4 592.8,321.2 596.7,318.3 600.7,316.0 604.6,314.2 608.6,312.7 612.6,311.4 620.5,309.2 628.4,307.4 636.3,305.9 648.2,304.0 660.1,302.5 675.9,300.7 691.7,299.3 711.5,297.7 731.3,296.4 755.1,295.0 778.8,293.8"/>
<polyline points="584.9,338.9 588.8,330.3 592.8,326.5 596.7,323.8 600.7,321.8 604.6,320.1 608.6,318.6 612.6,317.4 620.5,315.3 628.4,313.7 636.3,312.3 648.2,310.5 660.1,309.0 675.9,307.3 691.7,305.9 711.5,304.4 731.3,303.1 755.1,301.8 778.8,300.7"/>
<polyline points="584.9,349.2 588.8,340.7 592.8,336.9 596.7,334.2 600.7,332.1 604.6,330.4 608.6,328.9 612.6,327.6 620.5,325.5 628.4,323.8 636.3,322.3 648.2,320.5 660.1,318.9 675.9,317.2 691.7,315.7 711.5,314.1 731.3,312.8 755.1,311.4 778.8,310.2"/>
<polyline points="584.9,338.1 588.8,329.7 592.8,326.0 596.7,323.3 600.7,321.2 604.6,319.6 608.6,318.1 612.6,316.9 620.5,314.9 628.4,313.2 636.3,311.8 648.2,310.1 660.1,308.6 675.9,306.9 691.7,305.6 711.5,304.1 731.3,302.8 755.1,301.5 778.8,300.4"/>
<polyline points="584.9,337.5 588.8,328.1 592.8,324.3 596.7,321.6 600.7,319.5 604.6,317.9 608.6,316.4 612.6,315.2 620.5,313.1 628.4,311.5 636.3,310.1 648.2,308.3 660.1,306.8 675.9,305.1 691.7,303.7 711.5,302.2 731.3,301.0 755.1,299.6 778.8,298.5"/>
<polyline points="584.9,337.0 588.8,328.4 592.8,324.6 596.7,321.9 600.7,319.9 604.6,318.2 608.6,316.8 612.6,315.5 620.5,313.5 628.4,311.9 636.3,310.5 648.2,308.7 660.1,307.3 675.9,305.7 691.7,304.3 711.5,302.9 731.3,301.6 755.1,300.3 778.8,299.2"/>
<polyline points="584.9,346.9 588.8,337.6 592.8,333.3 596.7,330.3 600.7,327.9 604.6,326.0 608.6,324.4 612.6,323.0 620.5,320.7 628.4,318.7 636.3,317.1 648.2,315.1 660.1,313.4 675.9,311.5 691.7,309.9 711.5,308.1 731.3,306.7 755.1,305.1 778.8,303.8"/>
<polyline points="584.9,328.9 588.8,314.1 592.8,309.6 596.7,306.4 600.7,304.0 604.6,302.0 608.6,300.4 612.6,298.9 620.5,296.5 628.4,294.6 636.3,292.9 648.2,290.8 660.1,289.1 675.9,287.2 691.7,285.6 711.5,283.8 731.3,282.4 755.1,280.8 778.8,279.5"/>
</g>
<g fill="#1c1010">
<circle cx="584.86" cy="347.90" r="1.6"/>
<circle cx="588.82" cy="333.37" r="1.6"/>
<circle cx="592.77" cy="329.37" r="1.6"/>
<circle cx="596.73" cy="326.54" r="1.6"/>
<circle cx="600.69" cy="324.34" r="1.6"/>
<circle cx="604.65" cy="322.54" r="1.6"/>
<circle cx="608.61" cy="321.02" r="1.6"/>
<circle cx="612.56" cy="319.70" r="1.6"/>
<circle cx="616.52" cy="318.54" r="1.6"/>
<circle cx="620.48" cy="317.50" r="1.6"/>
<circle cx="624.44" cy="316.56" r="1.6"/>
<circle cx="628.40" cy="315.71" r="1.6"/>
<circle cx="632.35" cy="314.92" r="1.6"/>
<circle cx="636.31" cy="314.19" r="1.6"/>
<circle cx="640.27" cy="313.51" r="1.6"/>
<circle cx="644.23" cy="312.87" r="1.6"/>
<circle cx="648.19" cy="312.27" r="1.6"/>
<circle cx="652.14" cy="311.71" r="1.6"/>
<circle cx="656.10" cy="311.18" r="1.6"/>
<circle cx="660.06" cy="310.67" r="1.6"/>
<circle cx="664.02" cy="310.19" r="1.6"/>
<circle cx="667.98" cy="309.73" r="1.6"/>
<circle cx="671.93" cy="309.29" r="1.6"/>
<circle cx="675.89" cy="308.87" r="1.6"/>
<circle cx="679.85" cy="308.47" r="1.6"/>
<circle cx="683.81" cy="308.08" r="1.6"/>
<circle cx="687.77" cy="307.71" r="1.6"/>
<circle cx="691.72" cy="307.35" r="1.6"/>
<circle cx="695.68" cy="307.01" r="1.6"/>
<circle cx="699.64" cy="306.67" r="1.6"/>
<circle cx="703.60" cy="306.35" r="1.6"/>
<circle cx="707.56" cy="306.04" r="1.6"/>
<circle cx="711.51" cy="305.73" r="1.6"/>
<circle cx="715.47" cy="305.44" r="1.6"/>
<circle cx="719.43" cy="305.15" r="1.6"/>
<circle cx="723.39" cy="304.87" r="1.6"/>
<circle cx="727.35" cy="304.60" r="1.6"/>
<circle cx="731.30" cy="304.34" r="1.6"/>
<circle cx="735.26" cy="304.08" r="1.6"/>
<circle cx="739.22" cy="303.84" r="1.6"/>
<circle cx="743.18" cy="303.59" r="1.6"/>
<circle cx="747.14" cy="303.35" r="1.6"/>
<circle cx="751.09" cy="303.12" r="1.6"/>
<circle cx="755.05" cy="302.90" r="1.6"/>
<circle cx="759.01" cy="302.67" r="1.6"/>
<circle cx="762.97" cy="302.46" r="1.6"/>
<circle cx="766.93" cy="302.25" r="1.6"/>
<circle cx="770.88" cy="302.04" r="1.6"/>
<circle cx="774.84" cy="301.83" r="1.6"/>
<circle cx="778.80" cy="301.63" r="1.6"/>
</g>
<g stroke="#403232" stroke-width="1" fill="none">
<line x1="580.9" y1="224.40" x2="580.9" y2="379.40"/>
<line x1="577.90" y1="376.4" x2="778.80" y2="376.4"/>
<line x1="577.90" y1="357.40" x2="580.9" y2="357.40"/>
<line x1="577.90" y1="338.40" x2="580.9" y2="338.40"/>
<line x1="577.90" y1="319.40" x2="580.9" y2="319.40"/>
<line x1="577.90" y1="300.40" x2="580.9" y2="300.40"/>
<line x1="577.90" y1="281.40" x2="580.9" y2="281.40"/>
<line x1="577.90" y1="262.40" x2="580.9" y2="262.40"/>
<line x1="577.90" y1="243.40" x2="580.9" y2="243.40"/>
<line x1="577.90" y1="224.40" x2="580.9" y2="224.40"/>
<line x1="620.48" y1="376.4" x2="620.48" y2="379.40"/>
<line x1="660.06" y1="376.4" x2="660.06" y2="379.40"/>
<line x1="699.64" y1="376.4" x2="699.64" y2="379.40"/>
<line x1="739.22" y1="376.4" x2="739.22" y2="379.40"/>
<line x1="778.80" y1="376.4" x2="778.80" y2="379.40"/>
</g>
<g font-family="Liberation Sans, Arial, sans-serif" font-size="10" fill="#111" stroke="#111" stroke-width="0.15">
<text x="573.00" y="380.00" text-anchor="end">0</text>
<text x="573.00" y="361.00" text-anchor="end">2</text>
<text x="573.00" y="342.00" text-anchor="end">4</text>
<text x="573.00" y="323.00" text-anchor="end">6</text>
<text x="573.00" y="304.00" text-anchor="end">8</text>
<text x="573.00" y="285.00" text-anchor="end">10</text>
<text x="573.00" y="266.00" text-anchor="end">12</text>
<text x="573.00" y="247.00" text-anchor="end">14</text>
<text x="573.00" y="228.00" text-anchor="end">16</text>
<text x="580.90" y="393.80" text-anchor="middle">0</text>
<text x="620.48" y="393.80" text-anchor="middle">10</text>
<text x="660.06" y="393.80" text-anchor="middle">20</text>
<text x="699.64" y="393.80" text-anchor="middle">30</text>
<text x="739.22" y="393.80" text-anchor="middle">40</text>
<text x="778.80" y="393.80" text-anchor="middle">50</text>
</g>
<g font-family="Liberation Sans, Arial, sans-serif" font-size="14" fill="#111" stroke="#111" stroke-width="0.25">
<text x="590.90" y="237.30" textLength="65.4" lengthAdjust="spacingAndGlyphs">Producer 6</text>
<text x="679.85" y="417.80" text-anchor="middle">Time</text>
<text transform="translate(547.60,300.40) rotate(-90)" text-anchor="middle">WWPR</text>
</g>
<g font-family="Liberation Sans, Arial, sans-serif" font-size="10" fill="#111" stroke="#111" stroke-width="0.15">
<text x="184.7" y="453.3">Initial model</text>
<text x="184.7" y="465.3">Final model</text>
<text x="184.7" y="477.3">True model</text>
</g>
<line x1="164.0" y1="449.2" x2="181.8" y2="449.2" stroke="#9f9f9f" stroke-width="1"/>
<line x1="164.0" y1="461.3" x2="181.8" y2="461.3" stroke="#66bb2e" stroke-width="1"/>
<circle cx="173.2" cy="473.6" r="1.6" fill="#1c1010"/>
<g fill="none" stroke="#9f9f9f" stroke-width="0.9">
<polyline points="49.3,559.8 53.2,550.1 57.2,544.2 61.1,539.9 65.1,536.5 69.0,533.7 73.0,531.3 77.0,529.2 84.9,525.6 92.8,522.7 100.7,520.2 112.6,517.0 124.5,514.3 140.3,511.2 156.1,508.6 175.9,505.8 195.7,503.3 219.5,500.7 243.2,498.5"/>
<polyline points="49.3,573.3 53.2,565.3 57.2,559.8 61.1,555.7 65.1,552.5 69.0,549.8 73.0,547.5 77.0,545.5 84.9,542.1 92.8,539.2 100.7,536.8 112.6,533.7 124.5,531.0 140.3,528.0 156.1,525.4 175.9,522.6 195.7,520.2 219.5,517.6 243.2,515.4"/>
<polyline points="49.3,577.8 53.2,569.8 57.2,564.3 61.1,560.3 65.1,557.0 69.0,554.3 73.0,552.0 77.0,550.0 84.9,546.5 92.8,543.7 100.7,541.2 112.6,538.0 124.5,535.3 140.3,532.2 156.1,529.6 175.9,526.7 195.7,524.2 219.5,521.6 243.2,519.2"/>
<polyline points="49.3,571.5 53.2,562.2 57.2,556.2 61.1,551.8 65.1,548.3 69.0,545.3 73.0,542.8 77.0,540.6 84.9,536.8 92.8,533.7 100.7,531.0 112.6,527.6 124.5,524.6 140.3,521.3 156.1,518.4 175.9,515.3 195.7,512.5 219.5,509.7 243.2,507.1"/>
<polyline points="49.3,581.7 53.2,574.8 57.2,569.5 61.1,565.5 65.1,562.4 69.0,559.7 73.0,557.4 77.0,555.4 84.9,551.9 92.8,549.0 100.7,546.4 112.6,543.2 124.5,540.4 140.3,537.2 156.1,534.4 175.9,531.4 195.7,528.7 219.5,525.9 243.2,523.4"/>
<polyline points="49.3,568.1 53.2,560.4 57.2,554.6 61.1,550.4 65.1,547.1 69.0,544.3 73.0,542.0 77.0,539.9 84.9,536.4 92.8,533.5 100.7,531.1 112.6,527.9 124.5,525.2 140.3,522.2 156.1,519.6 175.9,516.7 195.7,514.3 219.5,511.7 243.2,509.5"/>
<polyline points="49.3,573.1 53.2,566.0 57.2,560.9 61.1,557.0 65.1,553.9 69.0,551.4 73.0,549.2 77.0,547.2 84.9,543.8 92.8,541.0 100.7,538.6 112.6,535.5 124.5,532.8 140.3,529.7 156.1,527.1 175.9,524.2 195.7,521.7 219.5,519.0 243.2,516.7"/>
<polyline points="49.3,570.2 53.2,561.4 57.2,554.9 61.1,550.3 65.1,546.6 69.0,543.5 73.0,540.9 77.0,538.6 84.9,534.7 92.8,531.4 100.7,528.7 112.6,525.1 124.5,522.1 140.3,518.7 156.1,515.8 175.9,512.6 195.7,509.9 219.5,507.0 243.2,504.5"/>
<polyline points="49.3,585.9 53.2,578.9 57.2,574.1 61.1,570.6 65.1,567.7 69.0,565.2 73.0,563.1 77.0,561.3 84.9,558.1 92.8,555.4 100.7,553.0 112.6,550.0 124.5,547.4 140.3,544.4 156.1,541.8 175.9,538.9 195.7,536.4 219.5,533.8 243.2,531.4"/>
<polyline points="49.3,563.2 53.2,554.0 57.2,548.3 61.1,544.1 65.1,540.9 69.0,538.1 73.0,535.8 77.0,533.8 84.9,530.3 92.8,527.4 100.7,525.0 112.6,521.8 124.5,519.2 140.3,516.1 156.1,513.5 175.9,510.7 195.7,508.3 219.5,505.8 243.2,503.5"/>
<polyline points="49.3,569.6 53.2,560.0 57.2,553.7 61.1,549.0 65.1,545.4 69.0,542.3 73.0,539.7 77.0,537.5 84.9,533.7 92.8,530.5 100.7,527.8 112.6,524.3 124.5,521.4 140.3,518.1 156.1,515.2 175.9,512.1 195.7,509.5 219.5,506.7 243.2,504.2"/>
<polyline points="49.3,568.5 53.2,558.4 57.2,552.2 61.1,547.7 65.1,544.1 69.0,541.1 73.0,538.5 77.0,536.3 84.9,532.5 92.8,529.3 100.7,526.6 112.6,523.1 124.5,520.2 140.3,516.8 156.1,513.9 175.9,510.8 195.7,508.1 219.5,505.2 243.2,502.7"/>
<polyline points="49.3,571.9 53.2,564.0 57.2,558.7 61.1,554.9 65.1,551.8 69.0,549.2 73.0,547.0 77.0,545.0 84.9,541.7 92.8,538.9 100.7,536.5 112.6,533.4 124.5,530.8 140.3,527.8 156.1,525.2 175.9,522.4 195.7,519.9 219.5,517.3 243.2,515.0"/>
<polyline points="49.3,562.7 53.2,553.7 57.2,548.2 61.1,544.1 65.1,540.9 69.0,538.2 73.0,535.9 77.0,533.9 84.9,530.4 92.8,527.5 100.7,525.0 112.6,521.9 124.5,519.2 140.3,516.1 156.1,513.4 175.9,510.5 195.7,508.0 219.5,505.4 243.2,503.0"/>
<polyline points="49.3,585.3 53.2,579.3 57.2,574.6 61.1,571.1 65.1,568.3 69.0,565.9 73.0,563.8 77.0,562.0 84.9,558.8 92.8,556.1 100.7,553.8 112.6,550.8 124.5,548.2 140.3,545.3 156.1,542.7 175.9,539.9 195.7,537.4 219.5,534.8 243.2,532.4"/>
<polyline points="49.3,569.3 53.2,559.8 57.2,553.5 61.1,548.8 65.1,545.1 69.0,542.1 73.0,539.4 77.0,537.1 84.9,533.2 92.8,530.0 100.7,527.2 112.6,523.6 124.5,520.5 140.3,517.1 156.1,514.1 175.9,510.9 195.7,508.1 219.5,505.1 243.2,502.5"/>
<polyline points="49.3,560.8 53.2,551.5 57.2,545.8 61.1,541.6 65.1,538.2 69.0,535.5 73.0,533.1 77.0,531.1 84.9,527.5 92.8,524.6 100.7,522.1 112.6,519.0 124.5,516.3 140.3,513.2 156.1,510.5 175.9,507.7 195.7,505.2 219.5,502.6 243.2,500.4"/>
<polyline points="49.3,579.8 53.2,573.8 57.2,569.1 61.1,565.6 65.1,562.8 69.0,560.4 73.0,558.4 77.0,556.6 84.9,553.6 92.8,551.0 100.7,548.8 112.6,546.0 124.5,543.5 140.3,540.7 156.1,538.3 175.9,535.7 195.7,533.4 219.5,531.0 243.2,528.9"/>
<polyline points="49.3,567.9 53.2,558.5 57.2,552.4 61.1,548.1 65.1,544.6 69.0,541.7 73.0,539.3 77.0,537.2 84.9,533.5 92.8,530.5 100.7,528.0 112.6,524.7 124.5,521.9 140.3,518.8 156.1,516.1 175.9,513.2 195.7,510.7 219.5,508.1 243.2,505.7"/>
<polyline points="49.3,576.0 53.2,569.1 57.2,563.9 61.1,560.1 65.1,557.0 69.0,554.4 73.0,552.2 77.0,550.3 84.9,546.9 92.8,544.2 100.7,541.8 112.6,538.7 124.5,536.0 140.3,533.0 156.1,530.4 175.9,527.6 195.7,525.1 219.5,522.5 243.2,520.2"/>
<polyline points="49.3,572.2 53.2,563.6 57.2,557.5 61.1,553.1 65.1,549.6 69.0,546.7 73.0,544.2 77.0,542.0 84.9,538.3 92.8,535.2 100.7,532.6 112.6,529.2 124.5,526.3 140.3,523.1 156.1,520.3 175.9,517.3 195.7,514.7 219.5,511.9 243.2,509.5"/>
<polyline points="49.3,578.0 53.2,571.7 57.2,567.0 61.1,563.4 65.1,560.6 69.0,558.2 73.0,556.1 77.0,554.3 84.9,551.2 92.8,548.5 100.7,546.3 112.6,543.3 124.5,540.8 140.3,537.9 156.1,535.5 175.9,532.7 195.7,530.4 219.5,527.8 243.2,525.6"/>
<polyline points="49.3,573.9 53.2,564.8 57.2,559.1 61.1,554.8 65.1,551.4 69.0,548.6 73.0,546.2 77.0,544.0 84.9,540.4 92.8,537.3 100.7,534.7 112.6,531.4 124.5,528.5 140.3,525.3 156.1,522.5 175.9,519.4 195.7,516.8 219.5,514.0 243.2,511.5"/>
<polyline points="49.3,581.9 53.2,575.4 57.2,570.5 61.1,566.8 65.1,563.9 69.0,561.4 73.0,559.3 77.0,557.5 84.9,554.3 92.8,551.6 100.7,549.3 112.6,546.3 124.5,543.8 140.3,540.9 156.1,538.4 175.9,535.7 195.7,533.3 219.5,530.8 243.2,528.5"/>
<polyline points="49.3,587.1 53.2,580.2 57.2,574.9 61.1,570.9 65.1,567.7 69.0,565.1 73.0,562.8 77.0,560.7 84.9,557.3 92.8,554.4 100.7,551.9 112.6,548.6 124.5,545.8 140.3,542.7 156.1,539.9 175.9,536.9 195.7,534.3 219.5,531.5 243.2,529.0"/>
<polyline points="49.3,583.8 53.2,576.2 57.2,571.0 61.1,567.1 65.1,564.0 69.0,561.4 73.0,559.2 77.0,557.2 84.9,553.8 92.8,551.0 100.7,548.5 112.6,545.3 124.5,542.6 140.3,539.4 156.1,536.7 175.9,533.8 195.7,531.2 219.5,528.4 243.2,526.0"/>
<polyline points="49.3,575.2 53.2,567.5 57.2,562.5 61.1,558.7 65.1,555.8 69.0,553.3 73.0,551.2 77.0,549.3 84.9,546.1 92.8,543.5 100.7,541.2 112.6,538.2 124.5,535.7 140.3,532.9 156.1,530.4 175.9,527.8 195.7,525.4 219.5,523.0 243.2,520.8"/>
<polyline points="49.3,580.9 53.2,574.7 57.2,569.8 61.1,566.1 65.1,563.2 69.0,560.7 73.0,558.6 77.0,556.7 84.9,553.6 92.8,550.9 100.7,548.6 112.6,545.7 124.5,543.1 140.3,540.3 156.1,537.8 175.9,535.1 195.7,532.7 219.5,530.3 243.2,528.0"/>
<polyline points="49.3,581.9 53.2,574.5 57.2,569.2 61.1,565.3 65.1,562.1 69.0,559.5 73.0,557.2 77.0,555.2 84.9,551.7 92.8,548.8 100.7,546.3 112.6,543.0 124.5,540.2 140.3,537.0 156.1,534.3 175.9,531.2 195.7,528.6 219.5,525.8 243.2,523.3"/>
<polyline points="49.3,568.0 53.2,559.7 57.2,554.0 61.1,550.0 65.1,546.7 69.0,544.0 73.0,541.7 77.0,539.7 84.9,536.3 92.8,533.4 100.7,531.0 112.6,527.9 124.5,525.2 140.3,522.2 156.1,519.6 175.9,516.9 195.7,514.4 219.5,511.9 243.2,509.6"/>
<polyline points="49.3,584.2 53.2,576.7 57.2,571.6 61.1,567.8 65.1,564.8 69.0,562.2 73.0,560.0 77.0,558.0 84.9,554.7 92.8,551.9 100.7,549.5 112.6,546.3 124.5,543.6 140.3,540.5 156.1,537.9 175.9,535.0 195.7,532.4 219.5,529.7 243.2,527.3"/>
<polyline points="49.3,568.1 53.2,559.8 57.2,554.1 61.1,549.8 65.1,546.5 69.0,543.7 73.0,541.2 77.0,539.1 84.9,535.5 92.8,532.5 100.7,529.9 112.6,526.6 124.5,523.7 140.3,520.5 156.1,517.7 175.9,514.7 195.7,512.1 219.5,509.3 243.2,506.8"/>
<polyline points="49.3,561.4 53.2,552.3 57.2,546.7 61.1,542.5 65.1,539.2 69.0,536.5 73.0,534.1 77.0,532.0 84.9,528.5 92.8,525.6 100.7,523.1 112.6,519.8 124.5,517.1 140.3,513.9 156.1,511.2 175.9,508.3 195.7,505.7 219.5,503.1 243.2,500.7"/>
<polyline points="49.3,582.4 53.2,576.1 57.2,571.5 61.1,568.1 65.1,565.4 69.0,563.1 73.0,561.2 77.0,559.4 84.9,556.5 92.8,554.0 100.7,551.8 112.6,549.1 124.5,546.7 140.3,544.0 156.1,541.6 175.9,539.1 195.7,536.8 219.5,534.5 243.2,532.4"/>
<polyline points="49.3,576.9 53.2,570.6 57.2,565.6 61.1,561.9 65.1,559.0 69.0,556.5 73.0,554.4 77.0,552.5 84.9,549.4 92.8,546.7 100.7,544.4 112.6,541.5 124.5,538.9 140.3,536.1 156.1,533.6 175.9,530.9 195.7,528.6 219.5,526.1 243.2,523.9"/>
<polyline points="49.3,571.1 53.2,561.9 57.2,556.2 61.1,552.0 65.1,548.6 69.0,545.8 73.0,543.4 77.0,541.3 84.9,537.7 92.8,534.7 100.7,532.1 112.6,528.7 124.5,525.9 140.3,522.6 156.1,519.8 175.9,516.8 195.7,514.2 219.5,511.4 243.2,508.9"/>
<polyline points="49.3,560.2 53.2,551.3 57.2,545.5 61.1,541.3 65.1,537.9 69.0,535.1 73.0,532.7 77.0,530.6 84.9,527.0 92.8,524.1 100.7,521.5 112.6,518.3 124.5,515.6 140.3,512.4 156.1,509.7 175.9,506.8 195.7,504.3 219.5,501.7 243.2,499.3"/>
<polyline points="49.3,568.8 53.2,559.5 57.2,553.4 61.1,548.9 65.1,545.4 69.0,542.5 73.0,539.9 77.0,537.7 84.9,534.0 92.8,530.9 100.7,528.3 112.6,524.9 124.5,522.0 140.3,518.8 156.1,516.0 175.9,513.0 195.7,510.3 219.5,507.6 243.2,505.2"/>
<polyline points="49.3,562.0 53.2,553.1 57.2,547.1 61.1,542.8 65.1,539.3 69.0,536.5 73.0,534.0 77.0,531.9 84.9,528.3 92.8,525.2 100.7,522.6 112.6,519.3 124.5,516.5 140.3,513.3 156.1,510.6 175.9,507.6 195.7,505.0 219.5,502.3 243.2,499.9"/>
<polyline points="49.3,582.1 53.2,575.4 57.2,570.8 61.1,567.4 65.1,564.6 69.0,562.3 73.0,560.3 77.0,558.5 84.9,555.5 92.8,552.9 100.7,550.7 112.6,547.8 124.5,545.4 140.3,542.5 156.1,540.1 175.9,537.4 195.7,535.1 219.5,532.6 243.2,530.3"/>
<polyline points="49.3,576.3 53.2,568.6 57.2,563.1 61.1,559.1 65.1,555.8 69.0,553.1 73.0,550.8 77.0,548.7 84.9,545.2 92.8,542.2 100.7,539.7 112.6,536.4 124.5,533.5 140.3,530.3 156.1,527.5 175.9,524.4 195.7,521.8 219.5,519.0 243.2,516.5"/>
<polyline points="49.3,568.7 53.2,561.3 57.2,555.8 61.1,551.9 65.1,548.7 69.0,546.1 73.0,543.8 77.0,541.8 84.9,538.5 92.8,535.7 100.7,533.3 112.6,530.2 124.5,527.6 140.3,524.6 156.1,522.1 175.9,519.3 195.7,516.9 219.5,514.4 243.2,512.2"/>
<polyline points="49.3,567.8 53.2,558.5 57.2,552.7 61.1,548.4 65.1,545.1 69.0,542.2 73.0,539.8 77.0,537.7 84.9,534.1 92.8,531.1 100.7,528.6 112.6,525.3 124.5,522.5 140.3,519.3 156.1,516.6 175.9,513.6 195.7,511.0 219.5,508.3 243.2,505.9"/>
<polyline points="49.3,575.0 53.2,566.6 57.2,560.5 61.1,556.1 65.1,552.5 69.0,549.5 73.0,547.0 77.0,544.8 84.9,541.0 92.8,537.8 100.7,535.1 112.6,531.7 124.5,528.7 140.3,525.4 156.1,522.5 175.9,519.4 195.7,516.6 219.5,513.8 243.2,511.2"/>
<polyline points="49.3,566.6 53.2,556.9 57.2,550.9 61.1,546.6 65.1,543.1 69.0,540.3 73.0,537.8 77.0,535.6 84.9,532.0 92.8,529.0 100.7,526.3 112.6,523.0 124.5,520.2 140.3,517.0 156.1,514.2 175.9,511.2 195.7,508.6 219.5,505.9 243.2,503.5"/>
<polyline points="49.3,574.4 53.2,566.5 57.2,561.2 61.1,557.4 65.1,554.3 69.0,551.8 73.0,549.6 77.0,547.6 84.9,544.4 92.8,541.6 100.7,539.3 112.6,536.3 124.5,533.8 140.3,530.8 156.1,528.3 175.9,525.6 195.7,523.3 219.5,520.8 243.2,518.6"/>
<polyline points="49.3,573.0 53.2,564.4 57.2,558.4 61.1,554.0 65.1,550.5 69.0,547.6 73.0,545.1 77.0,542.9 84.9,539.2 92.8,536.1 100.7,533.4 112.6,530.0 124.5,527.1 140.3,523.8 156.1,520.9 175.9,517.9 195.7,515.2 219.5,512.4 243.2,509.9"/>
<polyline points="49.3,587.0 53.2,579.9 57.2,575.0 61.1,571.4 65.1,568.4 69.0,566.0 73.0,563.8 77.0,561.9 84.9,558.7 92.8,555.9 100.7,553.5 112.6,550.5 124.5,547.8 140.3,544.8 156.1,542.1 175.9,539.3 195.7,536.8 219.5,534.1 243.2,531.7"/>
<polyline points="49.3,572.5 53.2,564.3 57.2,558.4 61.1,554.1 65.1,550.7 69.0,547.8 73.0,545.4 77.0,543.2 84.9,539.5 92.8,536.5 100.7,533.8 112.6,530.4 124.5,527.5 140.3,524.2 156.1,521.4 175.9,518.3 195.7,515.6 219.5,512.8 243.2,510.3"/>
<polyline points="49.3,580.4 53.2,573.0 57.2,567.4 61.1,563.3 65.1,560.0 69.0,557.3 73.0,555.0 77.0,552.9 84.9,549.4 92.8,546.5 100.7,544.0 112.6,540.8 124.5,538.0 140.3,534.9 156.1,532.2 175.9,529.3 195.7,526.8 219.5,524.1 243.2,521.7"/>
<polyline points="49.3,572.7 53.2,564.8 57.2,559.2 61.1,555.1 65.1,551.8 69.0,549.1 73.0,546.7 77.0,544.7 84.9,541.1 92.8,538.2 100.7,535.6 112.6,532.3 124.5,529.6 140.3,526.4 156.1,523.6 175.9,520.6 195.7,518.0 219.5,515.3 243.2,512.9"/>
<polyline points="49.3,568.7 53.2,560.0 57.2,553.9 61.1,549.5 65.1,545.9 69.0,543.0 73.0,540.5 77.0,538.3 84.9,534.5 92.8,531.4 100.7,528.7 112.6,525.3 124.5,522.3 140.3,519.0 156.1,516.1 175.9,513.0 195.7,510.4 219.5,507.5 243.2,505.0"/>
<polyline points="49.3,566.9 53.2,558.5 57.2,553.1 61.1,549.1 65.1,546.0 69.0,543.4 73.0,541.1 77.0,539.2 84.9,535.8 92.8,533.0 100.7,530.6 112.6,527.5 124.5,524.9 140.3,521.9 156.1,519.4 175.9,516.6 195.7,514.2 219.5,511.7 243.2,509.4"/>
<polyline points="49.3,579.2 53.2,573.2 57.2,568.3 61.1,564.8 65.1,561.9 69.0,559.5 73.0,557.4 77.0,555.5 84.9,552.4 92.8,549.8 100.7,547.5 112.6,544.6 124.5,542.1 140.3,539.3 156.1,536.8 175.9,534.1 195.7,531.8 219.5,529.3 243.2,527.1"/>
<polyline points="49.3,564.8 53.2,555.0 57.2,548.7 61.1,544.1 65.1,540.5 69.0,537.5 73.0,534.9 77.0,532.7 84.9,528.8 92.8,525.7 100.7,522.9 112.6,519.4 124.5,516.5 140.3,513.1 156.1,510.2 175.9,507.1 195.7,504.4 219.5,501.5 243.2,499.0"/>
<polyline points="49.3,563.1 53.2,551.7 57.2,544.2 61.1,538.8 65.1,534.6 69.0,531.1 73.0,528.1 77.0,525.6 84.9,521.3 92.8,517.7 100.7,514.7 112.6,510.9 124.5,507.7 140.3,504.1 156.1,501.1 175.9,497.8 195.7,495.0 219.5,492.0 243.2,489.5"/>
<polyline points="49.3,566.8 53.2,556.0 57.2,548.7 61.1,543.4 65.1,539.2 69.0,535.7 73.0,532.8 77.0,530.2 84.9,525.9 92.8,522.3 100.7,519.2 112.6,515.3 124.5,512.0 140.3,508.2 156.1,505.0 175.9,501.6 195.7,498.6 219.5,495.5 243.2,492.7"/>
<polyline points="49.3,560.6 53.2,549.6 57.2,542.6 61.1,537.5 65.1,533.5 69.0,530.2 73.0,527.3 77.0,524.9 84.9,520.7 92.8,517.3 100.7,514.4 112.6,510.6 124.5,507.5 140.3,503.9 156.1,500.9 175.9,497.6 195.7,494.8 219.5,491.8 243.2,489.2"/>
<polyline points="49.3,566.4 53.2,556.1 57.2,548.8 61.1,543.5 65.1,539.3 69.0,535.9 73.0,533.0 77.0,530.5 84.9,526.2 92.8,522.7 100.7,519.7 112.6,515.8 124.5,512.6 140.3,509.0 156.1,505.9 175.9,502.5 195.7,499.6 219.5,496.6 243.2,494.0"/>
<polyline points="49.3,556.7 53.2,545.3 57.2,538.1 61.1,532.9 65.1,528.9 69.0,525.5 73.0,522.7 77.0,520.3 84.9,516.1 92.8,512.8 100.7,509.9 112.6,506.3 124.5,503.2 140.3,499.7 156.1,496.8 175.9,493.7 195.7,491.0 219.5,488.2 243.2,485.7"/>
<polyline points="49.3,558.2 53.2,546.8 57.2,539.3 61.1,534.0 65.1,529.9 69.0,526.4 73.0,523.5 77.0,521.0 84.9,516.7 92.8,513.2 100.7,510.3 112.6,506.5 124.5,503.3 140.3,499.8 156.1,496.7 175.9,493.5 195.7,490.7 219.5,487.7 243.2,485.2"/>
<polyline points="49.3,560.2 53.2,549.3 57.2,542.1 61.1,536.9 65.1,532.9 69.0,529.6 73.0,526.8 77.0,524.3 84.9,520.2 92.8,516.9 100.7,514.0 112.6,510.3 124.5,507.3 140.3,503.8 156.1,500.9 175.9,497.8 195.7,495.1 219.5,492.2 243.2,489.7"/>
<polyline points="49.3,562.3 53.2,550.9 57.2,543.4 61.1,538.0 65.1,533.9 69.0,530.4 73.0,527.5 77.0,525.0 84.9,520.8 92.8,517.3 100.7,514.4 112.6,510.7 124.5,507.6 140.3,504.1 156.1,501.1 175.9,497.9 195.7,495.2 219.5,492.4 243.2,489.9"/>
<polyline points="49.3,562.3 53.2,551.4 57.2,544.2 61.1,539.1 65.1,535.0 69.0,531.7 73.0,528.8 77.0,526.3 84.9,522.1 92.8,518.7 100.7,515.7 112.6,512.0 124.5,508.8 140.3,505.2 156.1,502.1 175.9,498.8 195.7,496.0 219.5,493.0 243.2,490.4"/>
<polyline points="49.3,562.1 53.2,550.4 57.2,543.0 61.1,537.6 65.1,533.4 69.0,530.0 73.0,527.1 77.0,524.5 84.9,520.2 92.8,516.7 100.7,513.7 112.6,509.9 124.5,506.7 140.3,503.1 156.1,500.0 175.9,496.8 195.7,493.9 219.5,491.0 243.2,488.4"/>
<polyline points="49.3,539.8 53.2,522.5 57.2,511.9 61.1,504.4 65.1,498.7 69.0,494.2 73.0,490.3 77.0,487.0 84.9,481.5 92.8,477.1 100.7,473.3 112.6,468.7 124.5,464.8 140.3,460.5 156.1,456.9 175.9,453.1 195.7,449.9 219.5,446.6 243.2,443.7"/>
<polyline points="49.3,543.6 53.2,527.4 57.2,517.4 61.1,510.5 65.1,505.1 69.0,500.8 73.0,497.2 77.0,494.1 84.9,489.0 92.8,484.8 100.7,481.3 112.6,477.0 124.5,473.4 140.3,469.3 156.1,466.0 175.9,462.4 195.7,459.4 219.5,456.3 243.2,453.5"/>
<polyline points="49.3,545.5 53.2,530.7 57.2,521.0 61.1,514.2 65.1,508.9 69.0,504.7 73.0,501.2 77.0,498.2 84.9,493.1 92.8,489.1 100.7,485.7 112.6,481.4 124.5,477.9 140.3,473.9 156.1,470.6 175.9,467.2 195.7,464.2 219.5,461.1 243.2,458.5"/>
<polyline points="49.3,549.3 53.2,535.1 57.2,526.0 61.1,519.6 65.1,514.7 69.0,510.7 73.0,507.4 77.0,504.5 84.9,499.7 92.8,495.8 100.7,492.5 112.6,488.4 124.5,484.9 140.3,481.1 156.1,477.9 175.9,474.5 195.7,471.5 219.5,468.5 243.2,465.9"/>
<polyline points="49.3,553.1 53.2,540.9 57.2,532.9 61.1,527.2 65.1,522.8 69.0,519.2 73.0,516.1 77.0,513.4 84.9,509.0 92.8,505.4 100.7,502.3 112.6,498.5 124.5,495.3 140.3,491.7 156.1,488.6 175.9,485.3 195.7,482.5 219.5,479.6 243.2,477.1"/>
<polyline points="49.3,555.0 53.2,543.0 57.2,535.0 61.1,529.4 65.1,525.0 69.0,521.4 73.0,518.4 77.0,515.7 84.9,511.4 92.8,507.8 100.7,504.8 112.6,500.9 124.5,497.8 140.3,494.2 156.1,491.1 175.9,487.9 195.7,485.1 219.5,482.3 243.2,479.8"/>
<polyline points="49.3,589.2 53.2,584.7 57.2,580.6 61.1,577.5 65.1,575.0 69.0,572.9 73.0,571.1 77.0,569.5 84.9,566.8 92.8,564.5 100.7,562.5 112.6,559.9 124.5,557.6 140.3,555.1 156.1,552.8 175.9,550.4 195.7,548.3 219.5,546.0 243.2,544.0"/>
</g>
<g fill="none" stroke="#66bb2e" stroke-width="1.0">
<polyline points="49.3,579.5 53.2,570.6 57.2,563.8 61.1,558.7 65.1,554.7 69.0,551.3 73.0,548.3 77.0,545.7 84.9,541.3 92.8,537.6 100.7,534.4 112.6,530.2 124.5,526.7 140.3,522.6 156.1,519.1 175.9,515.3 195.7,511.9 219.5,508.4 243.2,505.2"/>
<polyline points="49.3,579.7 53.2,570.9 57.2,564.1 61.1,559.1 65.1,555.1 69.0,551.7 73.0,548.8 77.0,546.2 84.9,541.8 92.8,538.1 100.7,534.9 112.6,530.8 124.5,527.3 140.3,523.2 156.1,519.8 175.9,516.0 195.7,512.6 219.5,509.1 243.2,506.0"/>
<polyline points="49.3,579.9 53.2,571.2 57.2,564.5 61.1,559.5 65.1,555.6 69.0,552.2 73.0,549.4 77.0,546.8 84.9,542.5 92.8,538.8 100.7,535.7 112.6,531.6 124.5,528.2 140.3,524.2 156.1,520.7 175.9,517.0 195.7,513.7 219.5,510.2 243.2,507.1"/>
<polyline points="49.3,580.3 53.2,571.8 57.2,565.3 61.1,560.4 65.1,556.6 69.0,553.3 73.0,550.5 77.0,548.1 84.9,543.8 92.8,540.3 100.7,537.2 112.6,533.3 124.5,529.9 140.3,526.0 156.1,522.6 175.9,519.0 195.7,515.8 219.5,512.4 243.2,509.4"/>
<polyline points="49.3,580.5 53.2,572.0 57.2,565.6 61.1,560.9 65.1,557.0 69.0,553.8 73.0,551.0 77.0,548.6 84.9,544.4 92.8,540.9 100.7,537.9 112.6,534.0 124.5,530.6 140.3,526.8 156.1,523.5 175.9,519.8 195.7,516.7 219.5,513.3 243.2,510.3"/>
<polyline points="49.3,580.8 53.2,572.7 57.2,566.5 61.1,561.9 65.1,558.2 69.0,555.1 73.0,552.5 77.0,550.1 84.9,546.1 92.8,542.7 100.7,539.7 112.6,536.0 124.5,532.7 140.3,529.0 156.1,525.8 175.9,522.4 195.7,519.3 219.5,516.1 243.2,513.2"/>
<polyline points="49.3,582.2 53.2,574.8 57.2,569.2 61.1,565.0 65.1,561.7 69.0,558.8 73.0,556.4 77.0,554.3 84.9,550.6 92.8,547.5 100.7,544.9 112.6,541.5 124.5,538.5 140.3,535.2 156.1,532.3 175.9,529.1 195.7,526.3 219.5,523.4 243.2,520.8"/>
<polyline points="49.3,582.4 53.2,575.1 57.2,569.5 61.1,565.4 65.1,562.1 69.0,559.3 73.0,556.9 77.0,554.8 84.9,551.2 92.8,548.2 100.7,545.5 112.6,542.2 124.5,539.3 140.3,535.9 156.1,533.1 175.9,530.0 195.7,527.2 219.5,524.3 243.2,521.8"/>
<polyline points="49.3,582.5 53.2,575.4 57.2,569.9 61.1,565.8 65.1,562.5 69.0,559.8 73.0,557.4 77.0,555.4 84.9,551.8 92.8,548.8 100.7,546.2 112.6,542.9 124.5,540.0 140.3,536.7 156.1,533.9 175.9,530.8 195.7,528.1 219.5,525.2 243.2,522.7"/>
<polyline points="49.3,582.5 53.2,575.5 57.2,570.0 61.1,566.0 65.1,562.8 69.0,560.1 73.0,557.8 77.0,555.7 84.9,552.2 92.8,549.2 100.7,546.7 112.6,543.4 124.5,540.5 140.3,537.3 156.1,534.5 175.9,531.5 195.7,528.8 219.5,526.0 243.2,523.5"/>
</g>
<g fill="#1c1010">
<circle cx="49.26" cy="581.22" r="1.6"/>
<circle cx="53.22" cy="573.24" r="1.6"/>
<circle cx="57.17" cy="567.39" r="1.6"/>
<circle cx="61.13" cy="563.01" r="1.6"/>
<circle cx="65.09" cy="559.49" r="1.6"/>
<circle cx="69.05" cy="556.51" r="1.6"/>
<circle cx="73.01" cy="553.94" r="1.6"/>
<circle cx="76.96" cy="551.66" r="1.6"/>
<circle cx="80.92" cy="549.61" r="1.6"/>
<circle cx="84.88" cy="547.75" r="1.6"/>
<circle cx="88.84" cy="546.04" r="1.6"/>
<circle cx="92.80" cy="544.45" r="1.6"/>
<circle cx="96.75" cy="542.98" r="1.6"/>
<circle cx="100.71" cy="541.59" r="1.6"/>
<circle cx="104.67" cy="540.29" r="1.6"/>
<circle cx="108.63" cy="539.06" r="1.6"/>
<circle cx="112.59" cy="537.90" r="1.6"/>
<circle cx="116.54" cy="536.79" r="1.6"/>
<circle cx="120.50" cy="535.73" r="1.6"/>
<circle cx="124.46" cy="534.72" r="1.6"/>
<circle cx="128.42" cy="533.75" r="1.6"/>
<circle cx="132.38" cy="532.82" r="1.6"/>
<circle cx="136.33" cy="531.93" r="1.6"/>
<circle cx="140.29" cy="531.07" r="1.6"/>
<circle cx="144.25" cy="530.23" r="1.6"/>
<circle cx="148.21" cy="529.43" r="1.6"/>
<circle cx="152.17" cy="528.65" r="1.6"/>
<circle cx="156.12" cy="527.90" r="1.6"/>
<circle cx="160.08" cy="527.16" r="1.6"/>
<circle cx="164.04" cy="526.45" r="1.6"/>
<circle cx="168.00" cy="525.76" r="1.6"/>
<circle cx="171.96" cy="525.09" r="1.6"/>
<circle cx="175.91" cy="524.43" r="1.6"/>
<circle cx="179.87" cy="523.80" r="1.6"/>
<circle cx="183.83" cy="523.17" r="1.6"/>
<circle cx="187.79" cy="522.57" r="1.6"/>
<circle cx="191.75" cy="521.97" r="1.6"/>
<circle cx="195.70" cy="521.39" r="1.6"/>
<circle cx="199.66" cy="520.83" r="1.6"/>
<circle cx="203.62" cy="520.27" r="1.6"/>
<circle cx="207.58" cy="519.73" r="1.6"/>
<circle cx="211.54" cy="519.20" r="1.6"/>
<circle cx="215.49" cy="518.68" r="1.6"/>
<circle cx="219.45" cy="518.16" r="1.6"/>
<circle cx="223.41" cy="517.66" r="1.6"/>
<circle cx="227.37" cy="517.17" r="1.6"/>
<circle cx="231.33" cy="516.69" r="1.6"/>
<circle cx="235.28" cy="516.21" r="1.6"/>
<circle cx="239.24" cy="515.75" r="1.6"/>
<circle cx="243.20" cy="515.29" r="1.6"/>
</g>
<g stroke="#403232" stroke-width="1" fill="none">
<line x1="45.3" y1="442.90" x2="45.3" y2="597.90"/>
<line x1="42.30" y1="594.9" x2="243.20" y2="594.9"/>
<line x1="42.30" y1="575.90" x2="45.3" y2="575.90"/>
<line x1="42.30" y1="556.90" x2="45.3" y2="556.90"/>
<line x1="42.30" y1="537.90" x2="45.3" y2="537.90"/>
<line x1="42.30" y1="518.90" x2="45.3" y2="518.90"/>
<line x1="42.30" y1="499.90" x2="45.3" y2="499.90"/>
<line x1="42.30" y1="480.90" x2="45.3" y2="480.90"/>
<line x1="42.30" y1="461.90" x2="45.3" y2="461.90"/>
<line x1="42.30" y1="442.90" x2="45.3" y2="442.90"/>
<line x1="84.88" y1="594.9" x2="84.88" y2="597.90"/>
<line x1="124.46" y1="594.9" x2="124.46" y2="597.90"/>
<line x1="164.04" y1="594.9" x2="164.04" y2="597.90"/>
<line x1="203.62" y1="594.9" x2="203.62" y2="597.90"/>
<line x1="243.20" y1="594.9" x2="243.20" y2="597.90"/>
</g>
<g font-family="Liberation Sans, Arial, sans-serif" font-size="10" fill="#111" stroke="#111" stroke-width="0.15">
<text x="37.40" y="598.50" text-anchor="end">0</text>
<text x="37.40" y="579.50" text-anchor="end">1</text>
<text x="37.40" y="560.50" text-anchor="end">2</text>
<text x="37.40" y="541.50" text-anchor="end">3</text>
<text x="37.40" y="522.50" text-anchor="end">4</text>
<text x="37.40" y="503.50" text-anchor="end">5</text>
<text x="37.40" y="484.50" text-anchor="end">6</text>
<text x="37.40" y="465.50" text-anchor="end">7</text>
<text x="37.40" y="446.50" text-anchor="end">8</text>
<text x="45.30" y="611.90" text-anchor="middle">0</text>
<text x="84.88" y="611.90" text-anchor="middle">10</text>
<text x="124.46" y="611.90" text-anchor="middle">20</text>
<text x="164.04" y="611.90" text-anchor="middle">30</text>
<text x="203.62" y="611.90" text-anchor="middle">40</text>
<text x="243.20" y="611.90" text-anchor="middle">50</text>
</g>
<g font-family="Liberation Sans, Arial, sans-serif" font-size="14" fill="#111" stroke="#111" stroke-width="0.25">
<text x="55.30" y="455.80" textLength="65.4" lengthAdjust="spacingAndGlyphs">Producer 7</text>
<text x="144.25" y="637.20" text-anchor="middle">Time</text>
<text transform="translate(12.00,518.90) rotate(-90)" text-anchor="middle">WWPR</text>
</g>
<g font-family="Liberation Sans, Arial, sans-serif" font-size="10" fill="#111" stroke="#111" stroke-width="0.15">
<text x="451.6" y="453.3">Initial model</text>
<text x="451.6" y="465.3">Final model</text>
<text x="451.6" y="477.3">True model</text>
</g>
<line x1="431.0" y1="449.2" x2="448.7" y2="449.2" stroke="#9f9f9f" stroke-width="1"/>
<line x1="431.0" y1="461.3" x2="448.7" y2="461.3" stroke="#66bb2e" stroke-width="1"/>
<circle cx="439.9" cy="473.6" r="1.6" fill="#1c1010"/>
<g fill="none" stroke="#9f9f9f" stroke-width="0.9">
<polyline points="317.2,570.6 321.1,565.0 325.1,560.4 329.0,557.3 333.0,555.1 336.9,553.3 340.9,551.9 344.9,550.7 352.8,548.8 360.7,547.3 368.6,546.1 380.5,544.6 392.4,543.5 408.2,542.2 424.0,541.2 443.8,540.1 463.6,539.2 487.4,538.3 511.1,537.6"/>
<polyline points="317.2,566.3 321.1,560.4 325.1,555.7 329.0,552.6 333.0,550.3 336.9,548.6 340.9,547.1 344.9,545.9 352.8,544.0 360.7,542.5 368.6,541.3 380.5,539.8 392.4,538.6 408.2,537.4 424.0,536.3 443.8,535.3 463.6,534.4 487.4,533.5 511.1,532.8"/>
<polyline points="317.2,573.6 321.1,566.9 325.1,562.0 329.0,558.8 333.0,556.4 336.9,554.6 340.9,553.0 344.9,551.8 352.8,549.7 360.7,548.1 368.6,546.7 380.5,545.1 392.4,543.8 408.2,542.4 424.0,541.3 443.8,540.1 463.6,539.1 487.4,538.1 511.1,537.2"/>
<polyline points="317.2,582.0 321.1,575.7 325.1,570.4 329.0,566.9 333.0,564.3 336.9,562.3 340.9,560.6 344.9,559.2 352.8,556.9 360.7,555.2 368.6,553.7 380.5,551.9 392.4,550.5 408.2,549.0 424.0,547.7 443.8,546.4 463.6,545.3 487.4,544.2 511.1,543.3"/>
<polyline points="317.2,572.8 321.1,566.6 325.1,561.8 329.0,558.6 333.0,556.2 336.9,554.4 340.9,552.9 344.9,551.6 352.8,549.5 360.7,547.9 368.6,546.6 380.5,544.9 392.4,543.6 408.2,542.2 424.0,541.1 443.8,539.9 463.6,538.9 487.4,537.9 511.1,537.0"/>
<polyline points="317.2,582.6 321.1,576.8 325.1,571.7 329.0,568.3 333.0,565.8 336.9,563.8 340.9,562.2 344.9,560.8 352.8,558.5 360.7,556.8 368.6,555.3 380.5,553.5 392.4,552.0 408.2,550.4 424.0,549.1 443.8,547.8 463.6,546.6 487.4,545.5 511.1,544.5"/>
<polyline points="317.2,580.0 321.1,573.5 325.1,568.4 329.0,565.0 333.0,562.4 336.9,560.4 340.9,558.8 344.9,557.4 352.8,555.1 360.7,553.4 368.6,551.9 380.5,550.1 392.4,548.7 408.2,547.1 424.0,545.8 443.8,544.5 463.6,543.4 487.4,542.2 511.1,541.3"/>
<polyline points="317.2,579.7 321.1,573.7 325.1,568.4 329.0,564.9 333.0,562.4 336.9,560.3 340.9,558.7 344.9,557.3 352.8,555.0 360.7,553.3 368.6,551.8 380.5,550.1 392.4,548.7 408.2,547.1 424.0,545.9 443.8,544.6 463.6,543.5 487.4,542.4 511.1,541.5"/>
<polyline points="317.2,581.2 321.1,575.6 325.1,570.9 329.0,567.7 333.0,565.4 336.9,563.5 340.9,562.0 344.9,560.7 352.8,558.7 360.7,557.0 368.6,555.7 380.5,554.1 392.4,552.7 408.2,551.3 424.0,550.1 443.8,548.9 463.6,547.9 487.4,546.9 511.1,546.0"/>
<polyline points="317.2,573.2 321.1,567.7 325.1,563.0 329.0,560.0 333.0,557.7 336.9,555.9 340.9,554.5 344.9,553.2 352.8,551.3 360.7,549.7 368.6,548.5 380.5,546.9 392.4,545.7 408.2,544.3 424.0,543.2 443.8,542.1 463.6,541.1 487.4,540.2 511.1,539.4"/>
<polyline points="317.2,586.9 321.1,580.9 325.1,575.5 329.0,571.8 333.0,569.1 336.9,567.0 340.9,565.3 344.9,563.8 352.8,561.4 360.7,559.6 368.6,558.0 380.5,556.1 392.4,554.6 408.2,552.9 424.0,551.6 443.8,550.2 463.6,549.0 487.4,547.8 511.1,546.8"/>
<polyline points="317.2,564.6 321.1,559.0 325.1,554.5 329.0,551.6 333.0,549.5 336.9,547.8 340.9,546.5 344.9,545.3 352.8,543.5 360.7,542.1 368.6,541.0 380.5,539.6 392.4,538.5 408.2,537.3 424.0,536.4 443.8,535.4 463.6,534.6 487.4,533.8 511.1,533.1"/>
<polyline points="317.2,577.6 321.1,571.8 325.1,567.0 329.0,563.7 333.0,561.3 336.9,559.4 340.9,557.8 344.9,556.5 352.8,554.4 360.7,552.7 368.6,551.3 380.5,549.7 392.4,548.3 408.2,546.8 424.0,545.6 443.8,544.3 463.6,543.3 487.4,542.2 511.1,541.3"/>
<polyline points="317.2,575.7 321.1,569.5 325.1,564.7 329.0,561.6 333.0,559.2 336.9,557.4 340.9,555.9 344.9,554.7 352.8,552.6 360.7,551.1 368.6,549.8 380.5,548.2 392.4,546.9 408.2,545.5 424.0,544.4 443.8,543.3 463.6,542.3 487.4,541.3 511.1,540.5"/>
<polyline points="317.2,580.2 321.1,574.2 325.1,569.5 329.0,566.3 333.0,563.9 336.9,562.1 340.9,560.5 344.9,559.3 352.8,557.2 360.7,555.5 368.6,554.2 380.5,552.5 392.4,551.2 408.2,549.7 424.0,548.5 443.8,547.3 463.6,546.2 487.4,545.2 511.1,544.3"/>
<polyline points="317.2,580.4 321.1,573.9 325.1,568.9 329.0,565.6 333.0,563.2 336.9,561.3 340.9,559.7 344.9,558.3 352.8,556.2 360.7,554.5 368.6,553.1 380.5,551.3 392.4,550.0 408.2,548.4 424.0,547.2 443.8,545.9 463.6,544.8 487.4,543.7 511.1,542.8"/>
<polyline points="317.2,573.6 321.1,567.1 325.1,562.3 329.0,559.1 333.0,556.7 336.9,554.9 340.9,553.4 344.9,552.1 352.8,550.1 360.7,548.5 368.6,547.2 380.5,545.6 392.4,544.3 408.2,542.9 424.0,541.8 443.8,540.7 463.6,539.7 487.4,538.7 511.1,537.9"/>
<polyline points="317.2,578.1 321.1,572.6 325.1,568.1 329.0,565.1 333.0,562.8 336.9,561.0 340.9,559.6 344.9,558.3 352.8,556.3 360.7,554.8 368.6,553.4 380.5,551.9 392.4,550.6 408.2,549.1 424.0,548.0 443.8,546.8 463.6,545.8 487.4,544.7 511.1,543.9"/>
<polyline points="317.2,582.3 321.1,576.3 325.1,571.2 329.0,567.8 333.0,565.2 336.9,563.2 340.9,561.5 344.9,560.1 352.8,557.9 360.7,556.1 368.6,554.6 380.5,552.8 392.4,551.4 408.2,549.8 424.0,548.5 443.8,547.1 463.6,546.0 487.4,544.8 511.1,543.9"/>
<polyline points="317.2,571.8 321.1,565.9 325.1,561.3 329.0,558.2 333.0,556.0 336.9,554.2 340.9,552.8 344.9,551.5 352.8,549.6 360.7,548.0 368.6,546.8 380.5,545.2 392.4,544.0 408.2,542.7 424.0,541.6 443.8,540.4 463.6,539.5 487.4,538.5 511.1,537.7"/>
<polyline points="317.2,573.4 321.1,567.0 325.1,562.1 329.0,558.8 333.0,556.5 336.9,554.6 340.9,553.1 344.9,551.9 352.8,549.8 360.7,548.2 368.6,547.0 380.5,545.4 392.4,544.1 408.2,542.8 424.0,541.7 443.8,540.5 463.6,539.6 487.4,538.7 511.1,537.8"/>
<polyline points="317.2,568.5 321.1,563.0 325.1,558.5 329.0,555.6 333.0,553.4 336.9,551.7 340.9,550.4 344.9,549.2 352.8,547.4 360.7,546.0 368.6,544.8 380.5,543.4 392.4,542.3 408.2,541.1 424.0,540.1 443.8,539.0 463.6,538.2 487.4,537.3 511.1,536.6"/>
<polyline points="317.2,574.7 321.1,569.0 325.1,564.5 329.0,561.5 333.0,559.3 336.9,557.6 340.9,556.2 344.9,555.0 352.8,553.0 360.7,551.5 368.6,550.2 380.5,548.7 392.4,547.5 408.2,546.1 424.0,545.0 443.8,543.9 463.6,542.9 487.4,542.0 511.1,541.2"/>
<polyline points="317.2,577.0 321.1,571.5 325.1,567.0 329.0,563.9 333.0,561.7 336.9,559.9 340.9,558.5 344.9,557.2 352.8,555.3 360.7,553.7 368.6,552.4 380.5,550.8 392.4,549.5 408.2,548.2 424.0,547.0 443.8,545.8 463.6,544.8 487.4,543.8 511.1,543.0"/>
<polyline points="317.2,575.9 321.1,569.8 325.1,564.7 329.0,561.4 333.0,558.9 336.9,556.9 340.9,555.3 344.9,554.0 352.8,551.8 360.7,550.1 368.6,548.7 380.5,547.0 392.4,545.6 408.2,544.1 424.0,542.9 443.8,541.7 463.6,540.6 487.4,539.5 511.1,538.6"/>
<polyline points="317.2,571.9 321.1,565.1 325.1,560.3 329.0,557.1 333.0,554.8 336.9,553.0 340.9,551.5 344.9,550.2 352.8,548.1 360.7,546.5 368.6,545.2 380.5,543.6 392.4,542.4 408.2,541.0 424.0,539.8 443.8,538.6 463.6,537.7 487.4,536.7 511.1,535.8"/>
<polyline points="317.2,581.1 321.1,574.6 325.1,569.3 329.0,565.8 333.0,563.2 336.9,561.2 340.9,559.5 344.9,558.1 352.8,555.8 360.7,554.1 368.6,552.6 380.5,550.8 392.4,549.4 408.2,547.9 424.0,546.6 443.8,545.3 463.6,544.2 487.4,543.1 511.1,542.2"/>
<polyline points="317.2,568.0 321.1,561.9 325.1,557.5 329.0,554.6 333.0,552.5 336.9,550.9 340.9,549.5 344.9,548.4 352.8,546.6 360.7,545.1 368.6,544.0 380.5,542.6 392.4,541.4 408.2,540.2 424.0,539.2 443.8,538.2 463.6,537.3 487.4,536.4 511.1,535.7"/>
<polyline points="317.2,576.9 321.1,571.1 325.1,566.4 329.0,563.3 333.0,561.0 336.9,559.1 340.9,557.6 344.9,556.4 352.8,554.3 360.7,552.7 368.6,551.4 380.5,549.8 392.4,548.4 408.2,547.0 424.0,545.8 443.8,544.6 463.6,543.6 487.4,542.6 511.1,541.7"/>
<polyline points="317.2,577.0 321.1,570.6 325.1,565.8 329.0,562.7 333.0,560.3 336.9,558.4 340.9,556.9 344.9,555.6 352.8,553.6 360.7,551.9 368.6,550.6 380.5,548.9 392.4,547.6 408.2,546.1 424.0,545.0 443.8,543.7 463.6,542.7 487.4,541.7 511.1,540.8"/>
<polyline points="317.2,569.8 321.1,563.5 325.1,559.0 329.0,556.0 333.0,553.8 336.9,552.1 340.9,550.7 344.9,549.6 352.8,547.7 360.7,546.2 368.6,545.0 380.5,543.6 392.4,542.4 408.2,541.1 424.0,540.1 443.8,539.0 463.6,538.2 487.4,537.3 511.1,536.5"/>
<polyline points="317.2,573.7 321.1,566.8 325.1,561.9 329.0,558.7 333.0,556.3 336.9,554.4 340.9,552.9 344.9,551.6 352.8,549.5 360.7,547.9 368.6,546.5 380.5,544.9 392.4,543.6 408.2,542.1 424.0,540.9 443.8,539.7 463.6,538.7 487.4,537.7 511.1,536.8"/>
<polyline points="317.2,575.5 321.1,569.3 325.1,564.1 329.0,560.7 333.0,558.2 336.9,556.2 340.9,554.6 344.9,553.3 352.8,551.1 360.7,549.4 368.6,548.0 380.5,546.4 392.4,545.0 408.2,543.6 424.0,542.4 443.8,541.2 463.6,540.1 487.4,539.1 511.1,538.2"/>
<polyline points="317.2,576.1 321.1,570.6 325.1,566.0 329.0,562.9 333.0,560.6 336.9,558.8 340.9,557.3 344.9,556.0 352.8,554.0 360.7,552.4 368.6,551.1 380.5,549.5 392.4,548.2 408.2,546.7 424.0,545.6 443.8,544.4 463.6,543.4 487.4,542.3 511.1,541.5"/>
<polyline points="317.2,577.9 321.1,571.7 325.1,566.8 329.0,563.6 333.0,561.2 336.9,559.3 340.9,557.8 344.9,556.5 352.8,554.4 360.7,552.8 368.6,551.5 380.5,549.9 392.4,548.6 408.2,547.2 424.0,546.0 443.8,544.8 463.6,543.9 487.4,542.9 511.1,542.0"/>
<polyline points="317.2,574.7 321.1,569.1 325.1,564.7 329.0,561.8 333.0,559.6 336.9,557.9 340.9,556.5 344.9,555.3 352.8,553.4 360.7,551.8 368.6,550.6 380.5,549.1 392.4,547.9 408.2,546.5 424.0,545.4 443.8,544.3 463.6,543.3 487.4,542.4 511.1,541.6"/>
<polyline points="317.2,574.0 321.1,567.9 325.1,563.4 329.0,560.4 333.0,558.1 336.9,556.4 340.9,554.9 344.9,553.7 352.8,551.8 360.7,550.2 368.6,548.9 380.5,547.4 392.4,546.1 408.2,544.8 424.0,543.7 443.8,542.5 463.6,541.6 487.4,540.6 511.1,539.7"/>
<polyline points="317.2,566.2 321.1,560.4 325.1,555.8 329.0,552.7 333.0,550.5 336.9,548.8 340.9,547.4 344.9,546.2 352.8,544.3 360.7,542.8 368.6,541.6 380.5,540.1 392.4,538.9 408.2,537.6 424.0,536.6 443.8,535.5 463.6,534.6 487.4,533.7 511.1,533.0"/>
<polyline points="317.2,571.8 321.1,565.3 325.1,560.1 329.0,556.8 333.0,554.3 336.9,552.4 340.9,550.8 344.9,549.5 352.8,547.4 360.7,545.8 368.6,544.4 380.5,542.8 392.4,541.5 408.2,540.1 424.0,539.0 443.8,537.8 463.6,536.8 487.4,535.8 511.1,535.0"/>
<polyline points="317.2,580.6 321.1,575.0 325.1,570.3 329.0,567.1 333.0,564.8 336.9,563.0 340.9,561.4 344.9,560.2 352.8,558.1 360.7,556.4 368.6,555.1 380.5,553.4 392.4,552.1 408.2,550.6 424.0,549.4 443.8,548.2 463.6,547.1 487.4,546.1 511.1,545.2"/>
<polyline points="317.2,572.1 321.1,565.7 325.1,560.5 329.0,557.1 333.0,554.7 336.9,552.7 340.9,551.2 344.9,549.8 352.8,547.7 360.7,546.1 368.6,544.7 380.5,543.1 392.4,541.8 408.2,540.4 424.0,539.3 443.8,538.1 463.6,537.1 487.4,536.1 511.1,535.3"/>
<polyline points="317.2,575.0 321.1,568.7 325.1,563.6 329.0,560.3 333.0,557.8 336.9,555.9 340.9,554.3 344.9,553.0 352.8,550.9 360.7,549.2 368.6,547.9 380.5,546.2 392.4,544.9 408.2,543.5 424.0,542.3 443.8,541.2 463.6,540.2 487.4,539.2 511.1,538.3"/>
<polyline points="317.2,583.8 321.1,577.5 325.1,572.3 329.0,568.8 333.0,566.3 336.9,564.2 340.9,562.5 344.9,561.1 352.8,558.8 360.7,557.0 368.6,555.5 380.5,553.7 392.4,552.2 408.2,550.6 424.0,549.2 443.8,547.8 463.6,546.7 487.4,545.5 511.1,544.5"/>
<polyline points="317.2,573.4 321.1,567.2 325.1,562.2 329.0,558.9 333.0,556.5 336.9,554.6 340.9,553.0 344.9,551.7 352.8,549.6 360.7,548.0 368.6,546.6 380.5,545.0 392.4,543.7 408.2,542.3 424.0,541.2 443.8,540.0 463.6,539.0 487.4,538.0 511.1,537.2"/>
<polyline points="317.2,566.5 321.1,559.9 325.1,555.2 329.0,552.2 333.0,550.0 336.9,548.3 340.9,546.9 344.9,545.8 352.8,543.9 360.7,542.5 368.6,541.3 380.5,539.9 392.4,538.7 408.2,537.5 424.0,536.5 443.8,535.5 463.6,534.7 487.4,533.9 511.1,533.2"/>
<polyline points="317.2,570.1 321.1,564.1 325.1,559.6 329.0,556.5 333.0,554.3 336.9,552.5 340.9,551.1 344.9,549.9 352.8,547.9 360.7,546.4 368.6,545.2 380.5,543.6 392.4,542.4 408.2,541.1 424.0,540.0 443.8,538.9 463.6,537.9 487.4,537.0 511.1,536.2"/>
<polyline points="317.2,576.6 321.1,570.2 325.1,565.1 329.0,561.8 333.0,559.3 336.9,557.4 340.9,555.8 344.9,554.5 352.8,552.3 360.7,550.6 368.6,549.3 380.5,547.6 392.4,546.2 408.2,544.8 424.0,543.6 443.8,542.3 463.6,541.3 487.4,540.3 511.1,539.4"/>
<polyline points="317.2,573.6 321.1,567.6 325.1,562.8 329.0,559.6 333.0,557.3 336.9,555.5 340.9,554.0 344.9,552.8 352.8,550.8 360.7,549.2 368.6,548.0 380.5,546.4 392.4,545.2 408.2,543.8 424.0,542.8 443.8,541.6 463.6,540.7 487.4,539.8 511.1,539.0"/>
<polyline points="317.2,576.5 321.1,569.7 325.1,564.6 329.0,561.2 333.0,558.7 336.9,556.8 340.9,555.2 344.9,553.9 352.8,551.8 360.7,550.1 368.6,548.7 380.5,547.1 392.4,545.7 408.2,544.3 424.0,543.1 443.8,541.9 463.6,540.9 487.4,539.9 511.1,539.0"/>
<polyline points="317.2,577.9 321.1,571.9 325.1,567.0 329.0,563.7 333.0,561.4 336.9,559.5 340.9,557.9 344.9,556.6 352.8,554.5 360.7,552.9 368.6,551.5 380.5,549.9 392.4,548.5 408.2,547.1 424.0,545.9 443.8,544.7 463.6,543.6 487.4,542.6 511.1,541.7"/>
<polyline points="317.2,569.0 321.1,563.8 325.1,559.3 329.0,556.4 333.0,554.2 336.9,552.5 340.9,551.2 344.9,550.0 352.8,548.2 360.7,546.7 368.6,545.6 380.5,544.2 392.4,543.0 408.2,541.8 424.0,540.8 443.8,539.8 463.6,538.9 487.4,538.1 511.1,537.4"/>
<polyline points="317.2,564.0 321.1,558.2 325.1,553.8 329.0,550.9 333.0,548.9 336.9,547.2 340.9,545.9 344.9,544.8 352.8,543.1 360.7,541.7 368.6,540.6 380.5,539.2 392.4,538.1 408.2,537.0 424.0,536.0 443.8,535.0 463.6,534.2 487.4,533.4 511.1,532.7"/>
<polyline points="317.2,576.5 321.1,570.7 325.1,565.8 329.0,562.5 333.0,560.1 336.9,558.2 340.9,556.7 344.9,555.4 352.8,553.2 360.7,551.6 368.6,550.2 380.5,548.5 392.4,547.2 408.2,545.7 424.0,544.5 443.8,543.3 463.6,542.2 487.4,541.2 511.1,540.3"/>
<polyline points="317.2,576.9 321.1,570.9 325.1,565.8 329.0,562.5 333.0,560.0 336.9,558.1 340.9,556.5 344.9,555.2 352.8,553.0 360.7,551.3 368.6,550.0 380.5,548.3 392.4,547.0 408.2,545.5 424.0,544.3 443.8,543.1 463.6,542.0 487.4,541.0 511.1,540.1"/>
<polyline points="317.2,577.1 321.1,571.9 325.1,567.3 329.0,564.2 333.0,561.9 336.9,560.1 340.9,558.6 344.9,557.4 352.8,555.4 360.7,553.8 368.6,552.5 380.5,550.9 392.4,549.6 408.2,548.2 424.0,547.0 443.8,545.8 463.6,544.8 487.4,543.8 511.1,542.9"/>
<polyline points="317.2,578.3 321.1,571.7 325.1,566.7 329.0,563.3 333.0,560.9 336.9,559.0 340.9,557.4 344.9,556.0 352.8,553.9 360.7,552.2 368.6,550.8 380.5,549.2 392.4,547.8 408.2,546.3 424.0,545.1 443.8,543.9 463.6,542.8 487.4,541.8 511.1,540.9"/>
<polyline points="317.2,584.9 321.1,578.8 325.1,573.6 329.0,570.2 333.0,567.6 336.9,565.6 340.9,564.0 344.9,562.6 352.8,560.3 360.7,558.5 368.6,557.0 380.5,555.2 392.4,553.7 408.2,552.1 424.0,550.8 443.8,549.4 463.6,548.3 487.4,547.1 511.1,546.1"/>
<polyline points="317.2,580.6 321.1,574.8 325.1,569.6 329.0,566.1 333.0,563.5 336.9,561.5 340.9,559.9 344.9,558.5 352.8,556.2 360.7,554.5 368.6,553.0 380.5,551.3 392.4,549.9 408.2,548.3 424.0,547.1 443.8,545.8 463.6,544.7 487.4,543.6 511.1,542.7"/>
<polyline points="317.2,579.9 321.1,574.1 325.1,568.9 329.0,565.5 333.0,563.0 336.9,561.0 340.9,559.4 344.9,558.0 352.8,555.8 360.7,554.1 368.6,552.6 380.5,550.9 392.4,549.5 408.2,548.0 424.0,546.7 443.8,545.4 463.6,544.3 487.4,543.2 511.1,542.3"/>
<polyline points="317.2,568.1 321.1,562.1 325.1,557.9 329.0,555.1 333.0,553.0 336.9,551.4 340.9,550.1 344.9,549.0 352.8,547.2 360.7,545.8 368.6,544.7 380.5,543.2 392.4,542.1 408.2,540.9 424.0,539.9 443.8,538.8 463.6,538.0 487.4,537.1 511.1,536.4"/>
<polyline points="317.2,575.3 321.1,569.2 325.1,564.4 329.0,561.3 333.0,558.9 336.9,557.1 340.9,555.6 344.9,554.3 352.8,552.2 360.7,550.6 368.6,549.3 380.5,547.7 392.4,546.4 408.2,545.0 424.0,543.9 443.8,542.7 463.6,541.7 487.4,540.7 511.1,539.9"/>
<polyline points="317.2,566.8 321.1,560.7 325.1,556.0 329.0,552.9 333.0,550.7 336.9,549.0 340.9,547.6 344.9,546.4 352.8,544.5 360.7,543.1 368.6,541.9 380.5,540.5 392.4,539.3 408.2,538.1 424.0,537.1 443.8,536.0 463.6,535.2 487.4,534.3 511.1,533.6"/>
<polyline points="317.2,577.8 321.1,571.2 325.1,565.8 329.0,562.3 333.0,559.8 336.9,557.8 340.9,556.2 344.9,554.8 352.8,552.6 360.7,550.9 368.6,549.5 380.5,547.8 392.4,546.4 408.2,544.9 424.0,543.7 443.8,542.5 463.6,541.5 487.4,540.4 511.1,539.5"/>
<polyline points="317.2,574.2 321.1,567.5 325.1,562.6 329.0,559.4 333.0,557.0 336.9,555.1 340.9,553.6 344.9,552.3 352.8,550.2 360.7,548.6 368.6,547.3 380.5,545.6 392.4,544.3 408.2,542.9 424.0,541.7 443.8,540.5 463.6,539.5 487.4,538.5 511.1,537.6"/>
<polyline points="317.2,571.0 321.1,564.1 325.1,559.3 329.0,556.1 333.0,553.7 336.9,551.8 340.9,550.3 344.9,549.1 352.8,547.0 360.7,545.4 368.6,544.1 380.5,542.5 392.4,541.2 408.2,539.9 424.0,538.7 443.8,537.6 463.6,536.6 487.4,535.6 511.1,534.8"/>
<polyline points="317.2,589.4 321.1,584.8 325.1,580.6 329.0,577.8 333.0,575.8 336.9,574.2 340.9,572.8 344.9,571.7 352.8,569.9 360.7,568.5 368.6,567.3 380.5,565.9 392.4,564.7 408.2,563.4 424.0,562.4 443.8,561.3 463.6,560.4 487.4,559.5 511.1,558.7"/>
<polyline points="317.2,588.2 321.1,582.4 325.1,577.7 329.0,574.6 333.0,572.3 336.9,570.5 340.9,569.1 344.9,567.8 352.8,565.8 360.7,564.2 368.6,563.0 380.5,561.4 392.4,560.1 408.2,558.8 424.0,557.6 443.8,556.5 463.6,555.5 487.4,554.5 511.1,553.7"/>
<polyline points="317.2,588.8 321.1,583.7 325.1,579.1 329.0,576.1 333.0,573.9 336.9,572.1 340.9,570.7 344.9,569.5 352.8,567.5 360.7,566.0 368.6,564.7 380.5,563.2 392.4,562.0 408.2,560.6 424.0,559.5 443.8,558.4 463.6,557.5 487.4,556.5 511.1,555.7"/>
<polyline points="317.2,586.3 321.1,579.9 325.1,574.5 329.0,570.9 333.0,568.3 336.9,566.3 340.9,564.6 344.9,563.2 352.8,561.0 360.7,559.2 368.6,557.8 380.5,556.1 392.4,554.7 408.2,553.2 424.0,551.9 443.8,550.7 463.6,549.6 487.4,548.5 511.1,547.7"/>
<polyline points="317.2,588.1 321.1,582.8 325.1,578.5 329.0,575.6 333.0,573.5 336.9,571.8 340.9,570.5 344.9,569.3 352.8,567.5 360.7,566.0 368.6,564.8 380.5,563.3 392.4,562.1 408.2,560.8 424.0,559.8 443.8,558.7 463.6,557.8 487.4,556.9 511.1,556.1"/>
<polyline points="317.2,586.3 321.1,580.0 325.1,575.1 329.0,571.8 333.0,569.4 336.9,567.5 340.9,566.0 344.9,564.7 352.8,562.5 360.7,560.9 368.6,559.5 380.5,557.9 392.4,556.5 408.2,555.1 424.0,553.9 443.8,552.6 463.6,551.6 487.4,550.6 511.1,549.7"/>
<polyline points="317.2,586.4 321.1,580.2 325.1,574.9 329.0,571.4 333.0,568.9 336.9,566.8 340.9,565.2 344.9,563.8 352.8,561.6 360.7,559.9 368.6,558.5 380.5,556.7 392.4,555.3 408.2,553.8 424.0,552.6 443.8,551.3 463.6,550.3 487.4,549.2 511.1,548.3"/>
<polyline points="317.2,585.4 321.1,578.7 325.1,573.6 329.0,570.2 333.0,567.7 336.9,565.7 340.9,564.1 344.9,562.7 352.8,560.5 360.7,558.8 368.6,557.3 380.5,555.6 392.4,554.2 408.2,552.7 424.0,551.5 443.8,550.2 463.6,549.1 487.4,548.1 511.1,547.1"/>
<polyline points="317.2,588.0 321.1,582.4 325.1,577.8 329.0,574.7 333.0,572.4 336.9,570.6 340.9,569.1 344.9,567.8 352.8,565.8 360.7,564.2 368.6,562.9 380.5,561.3 392.4,560.1 408.2,558.7 424.0,557.5 443.8,556.3 463.6,555.3 487.4,554.3 511.1,553.5"/>
<polyline points="317.2,589.1 321.1,584.3 325.1,580.3 329.0,577.5 333.0,575.5 336.9,573.9 340.9,572.6 344.9,571.5 352.8,569.8 360.7,568.4 368.6,567.2 380.5,565.8 392.4,564.6 408.2,563.4 424.0,562.4 443.8,561.3 463.6,560.4 487.4,559.5 511.1,558.8"/>
<polyline points="317.2,588.5 321.1,583.8 325.1,579.9 329.0,577.3 333.0,575.3 336.9,573.7 340.9,572.5 344.9,571.4 352.8,569.6 360.7,568.3 368.6,567.1 380.5,565.7 392.4,564.6 408.2,563.4 424.0,562.4 443.8,561.3 463.6,560.4 487.4,559.5 511.1,558.8"/>
<polyline points="317.2,586.2 321.1,579.6 325.1,574.2 329.0,570.6 333.0,568.0 336.9,566.0 340.9,564.3 344.9,562.9 352.8,560.7 360.7,558.9 368.6,557.5 380.5,555.8 392.4,554.4 408.2,552.9 424.0,551.6 443.8,550.3 463.6,549.3 487.4,548.2 511.1,547.3"/>
<polyline points="317.2,589.5 321.1,585.2 325.1,581.2 329.0,578.5 333.0,576.5 336.9,574.9 340.9,573.6 344.9,572.5 352.8,570.7 360.7,569.3 368.6,568.1 380.5,566.7 392.4,565.5 408.2,564.3 424.0,563.2 443.8,562.1 463.6,561.2 487.4,560.3 511.1,559.5"/>
<polyline points="317.2,587.8 321.1,582.7 325.1,578.5 329.0,575.7 333.0,573.6 336.9,571.9 340.9,570.5 344.9,569.4 352.8,567.5 360.7,566.0 368.6,564.8 380.5,563.3 392.4,562.1 408.2,560.8 424.0,559.7 443.8,558.5 463.6,557.6 487.4,556.6 511.1,555.8"/>
<polyline points="317.2,558.5 321.1,551.0 325.1,547.0 329.0,544.3 333.0,542.3 336.9,540.7 340.9,539.4 344.9,538.3 352.8,536.6 360.7,535.2 368.6,534.1 380.5,532.7 392.4,531.5 408.2,530.3 424.0,529.3 443.8,528.3 463.6,527.4 487.4,526.5 511.1,525.8"/>
<polyline points="317.2,558.5 321.1,551.2 325.1,547.1 329.0,544.5 333.0,542.5 336.9,540.9 340.9,539.6 344.9,538.5 352.8,536.8 360.7,535.4 368.6,534.3 380.5,532.9 392.4,531.7 408.2,530.5 424.0,529.5 443.8,528.5 463.6,527.6 487.4,526.7 511.1,526.0"/>
<polyline points="317.2,560.8 321.1,553.8 325.1,549.7 329.0,546.9 333.0,544.9 336.9,543.2 340.9,541.9 344.9,540.8 352.8,539.0 360.7,537.5 368.6,536.3 380.5,534.9 392.4,533.7 408.2,532.4 424.0,531.3 443.8,530.2 463.6,529.3 487.4,528.3 511.1,527.5"/>
<polyline points="317.2,562.6 321.1,554.8 325.1,550.7 329.0,547.9 333.0,545.8 336.9,544.2 340.9,542.8 344.9,541.7 352.8,539.8 360.7,538.3 368.6,537.1 380.5,535.6 392.4,534.4 408.2,533.1 424.0,532.0 443.8,530.8 463.6,529.9 487.4,528.9 511.1,528.1"/>
<polyline points="317.2,559.0 321.1,550.9 325.1,546.8 329.0,544.1 333.0,542.1 336.9,540.5 340.9,539.2 344.9,538.2 352.8,536.4 360.7,535.0 368.6,533.9 380.5,532.5 392.4,531.4 408.2,530.2 424.0,529.2 443.8,528.2 463.6,527.3 487.4,526.5 511.1,525.7"/>
<polyline points="317.2,559.9 321.1,551.8 325.1,547.7 329.0,545.0 333.0,543.0 336.9,541.4 340.9,540.1 344.9,539.0 352.8,537.2 360.7,535.7 368.6,534.6 380.5,533.2 392.4,532.0 408.2,530.7 424.0,529.7 443.8,528.6 463.6,527.7 487.4,526.8 511.1,526.1"/>
<polyline points="317.2,554.3 321.1,544.9 325.1,540.3 329.0,537.3 333.0,535.0 336.9,533.2 340.9,531.8 344.9,530.5 352.8,528.6 360.7,527.0 368.6,525.8 380.5,524.2 392.4,523.0 408.2,521.6 424.0,520.5 443.8,519.4 463.6,518.4 487.4,517.5 511.1,516.6"/>
<polyline points="317.2,557.1 321.1,547.8 325.1,543.0 329.0,539.9 333.0,537.5 336.9,535.6 340.9,534.1 344.9,532.8 352.8,530.7 360.7,529.0 368.6,527.7 380.5,526.0 392.4,524.7 408.2,523.2 424.0,522.0 443.8,520.8 463.6,519.7 487.4,518.7 511.1,517.8"/>
<polyline points="317.2,558.3 321.1,549.0 325.1,544.2 329.0,541.0 333.0,538.6 336.9,536.7 340.9,535.1 344.9,533.8 352.8,531.7 360.7,530.0 368.6,528.6 380.5,526.9 392.4,525.5 408.2,524.0 424.0,522.7 443.8,521.4 463.6,520.4 487.4,519.3 511.1,518.3"/>
<polyline points="317.2,560.4 321.1,550.7 325.1,545.7 329.0,542.4 333.0,539.9 336.9,537.9 340.9,536.3 344.9,534.9 352.8,532.7 360.7,531.0 368.6,529.5 380.5,527.7 392.4,526.3 408.2,524.7 424.0,523.5 443.8,522.1 463.6,521.0 487.4,519.9 511.1,518.9"/>
<polyline points="317.2,514.3 321.1,491.6 325.1,484.7 329.0,480.1 333.0,476.7 336.9,474.0 340.9,471.9 344.9,470.1 352.8,467.1 360.7,464.8 368.6,462.9 380.5,460.6 392.4,458.8 408.2,456.8 424.0,455.1 443.8,453.4 463.6,452.0 487.4,450.6 511.1,449.4"/>
<polyline points="317.2,514.3 321.1,494.8 325.1,488.3 329.0,483.9 333.0,480.8 336.9,478.3 340.9,476.2 344.9,474.5 352.8,471.7 360.7,469.6 368.6,467.8 380.5,465.6 392.4,463.9 408.2,462.0 424.0,460.5 443.8,458.9 463.6,457.5 487.4,456.2 511.1,455.1"/>
<polyline points="317.2,534.9 321.1,519.8 325.1,514.1 329.0,510.2 333.0,507.4 336.9,505.2 340.9,503.4 344.9,501.9 352.8,499.5 360.7,497.5 368.6,496.0 380.5,494.1 392.4,492.5 408.2,490.8 424.0,489.5 443.8,488.1 463.6,486.9 487.4,485.7 511.1,484.7"/>
<polyline points="317.2,537.1 321.1,522.3 325.1,516.6 329.0,512.9 333.0,510.1 336.9,508.0 340.9,506.2 344.9,504.7 352.8,502.3 360.7,500.4 368.6,498.8 380.5,497.0 392.4,495.4 408.2,493.8 424.0,492.4 443.8,491.1 463.6,489.9 487.4,488.7 511.1,487.7"/>
<polyline points="317.2,543.2 321.1,530.0 325.1,524.5 329.0,520.8 333.0,518.1 336.9,515.9 340.9,514.2 344.9,512.7 352.8,510.4 360.7,508.5 368.6,507.0 380.5,505.1 392.4,503.7 408.2,502.0 424.0,500.7 443.8,499.4 463.6,498.2 487.4,497.1 511.1,496.1"/>
<polyline points="317.2,547.8 321.1,535.8 325.1,530.5 329.0,526.9 333.0,524.3 336.9,522.3 340.9,520.6 344.9,519.2 352.8,517.0 360.7,515.2 368.6,513.7 380.5,512.0 392.4,510.5 408.2,509.0 424.0,507.7 443.8,506.4 463.6,505.3 487.4,504.3 511.1,503.3"/>
<polyline points="317.2,553.1 321.1,543.1 325.1,538.2 329.0,535.0 333.0,532.6 336.9,530.7 340.9,529.2 344.9,527.9 352.8,525.8 360.7,524.1 368.6,522.8 380.5,521.2 392.4,519.9 408.2,518.4 424.0,517.3 443.8,516.1 463.6,515.1 487.4,514.1 511.1,513.2"/>
</g>
<g fill="none" stroke="#66bb2e" stroke-width="1.0">
<polyline points="317.2,580.4 321.1,573.5 325.1,568.3 329.0,565.0 333.0,562.5 336.9,560.5 340.9,559.0 344.9,557.6 352.8,555.5 360.7,553.9 368.6,552.5 380.5,550.9 392.4,549.6 408.2,548.1 424.0,547.0 443.8,545.8 463.6,544.8 487.4,543.8 511.1,543.0"/>
<polyline points="317.2,582.4 321.1,576.6 325.1,572.2 329.0,569.1 333.0,566.9 336.9,565.1 340.9,563.6 344.9,562.3 352.8,560.3 360.7,558.6 368.6,557.3 380.5,555.6 392.4,554.3 408.2,552.8 424.0,551.6 443.8,550.3 463.6,549.2 487.4,548.1 511.1,547.2"/>
<polyline points="317.2,581.2 321.1,576.0 325.1,571.6 329.0,568.6 333.0,566.4 336.9,564.5 340.9,563.0 344.9,561.8 352.8,559.6 360.7,557.9 368.6,556.5 380.5,554.8 392.4,553.3 408.2,551.8 424.0,550.4 443.8,549.1 463.6,547.9 487.4,546.7 511.1,545.7"/>
<polyline points="317.2,584.2 321.1,578.8 325.1,574.8 329.0,572.0 333.0,569.8 336.9,568.1 340.9,566.6 344.9,565.3 352.8,563.2 360.7,561.5 368.6,560.1 380.5,558.3 392.4,556.9 408.2,555.2 424.0,553.8 443.8,552.3 463.6,551.1 487.4,549.8 511.1,548.7"/>
<polyline points="317.2,583.8 321.1,578.5 325.1,574.6 329.0,571.8 333.0,569.7 336.9,568.0 340.9,566.5 344.9,565.3 352.8,563.2 360.7,561.5 368.6,560.1 380.5,558.3 392.4,556.9 408.2,555.2 424.0,553.8 443.8,552.4 463.6,551.1 487.4,549.8 511.1,548.7"/>
<polyline points="317.2,585.7 321.1,581.1 325.1,577.0 329.0,574.2 333.0,572.0 336.9,570.2 340.9,568.7 344.9,567.4 352.8,565.2 360.7,563.4 368.6,561.9 380.5,560.0 392.4,558.4 408.2,556.6 424.0,555.1 443.8,553.5 463.6,552.1 487.4,550.7 511.1,549.4"/>
<polyline points="317.2,583.9 321.1,579.4 325.1,575.1 329.0,572.2 333.0,569.9 336.9,568.1 340.9,566.6 344.9,565.3 352.8,563.2 360.7,561.4 368.6,560.0 380.5,558.2 392.4,556.7 408.2,555.1 424.0,553.7 443.8,552.2 463.6,551.0 487.4,549.7 511.1,548.6"/>
<polyline points="317.2,580.6 321.1,574.8 325.1,570.3 329.0,567.3 333.0,565.0 336.9,563.1 340.9,561.6 344.9,560.3 352.8,558.2 360.7,556.5 368.6,555.1 380.5,553.4 392.4,552.0 408.2,550.4 424.0,549.1 443.8,547.8 463.6,546.7 487.4,545.5 511.1,544.5"/>
<polyline points="317.2,583.1 321.1,577.6 325.1,573.2 329.0,570.1 333.0,567.8 336.9,566.0 340.9,564.4 344.9,563.1 352.8,561.0 360.7,559.2 368.6,557.8 380.5,556.0 392.4,554.5 408.2,552.9 424.0,551.5 443.8,550.1 463.6,548.9 487.4,547.7 511.1,546.6"/>
<polyline points="317.2,581.5 321.1,576.6 325.1,572.2 329.0,569.2 333.0,567.0 336.9,565.2 340.9,563.7 344.9,562.4 352.8,560.3 360.7,558.6 368.6,557.2 380.5,555.4 392.4,554.0 408.2,552.4 424.0,551.1 443.8,549.7 463.6,548.5 487.4,547.3 511.1,546.2"/>
<polyline points="317.2,580.2 321.1,573.7 325.1,569.1 329.0,566.0 333.0,563.7 336.9,561.9 340.9,560.4 344.9,559.1 352.8,557.0 360.7,555.3 368.6,553.9 380.5,552.2 392.4,550.8 408.2,549.3 424.0,548.1 443.8,546.7 463.6,545.6 487.4,544.5 511.1,543.5"/>
<polyline points="317.2,580.3 321.1,573.4 325.1,568.5 329.0,565.2 333.0,562.8 336.9,560.9 340.9,559.3 344.9,558.0 352.8,555.8 360.7,554.1 368.6,552.7 380.5,551.0 392.4,549.6 408.2,548.1 424.0,546.9 443.8,545.6 463.6,544.5 487.4,543.5 511.1,542.5"/>
<polyline points="317.2,580.4 321.1,574.3 325.1,569.4 329.0,566.2 333.0,563.8 336.9,561.9 340.9,560.4 344.9,559.1 352.8,557.0 360.7,555.4 368.6,554.1 380.5,552.4 392.4,551.1 408.2,549.7 424.0,548.6 443.8,547.4 463.6,546.4 487.4,545.4 511.1,544.5"/>
<polyline points="317.2,583.4 321.1,578.2 325.1,574.1 329.0,571.3 333.0,569.1 336.9,567.3 340.9,565.9 344.9,564.6 352.8,562.5 360.7,560.8 368.6,559.4 380.5,557.6 392.4,556.1 408.2,554.5 424.0,553.1 443.8,551.7 463.6,550.5 487.4,549.2 511.1,548.1"/>
<polyline points="317.2,585.0 321.1,579.3 325.1,575.0 329.0,572.0 333.0,569.7 336.9,567.9 340.9,566.4 344.9,565.0 352.8,562.9 360.7,561.1 368.6,559.7 380.5,557.8 392.4,556.3 408.2,554.6 424.0,553.2 443.8,551.8 463.6,550.5 487.4,549.2 511.1,548.1"/>
<polyline points="317.2,584.1 321.1,578.3 325.1,573.8 329.0,570.7 333.0,568.3 336.9,566.5 340.9,564.9 344.9,563.6 352.8,561.4 360.7,559.7 368.6,558.2 380.5,556.4 392.4,555.0 408.2,553.4 424.0,552.0 443.8,550.6 463.6,549.4 487.4,548.2 511.1,547.2"/>
<polyline points="317.2,583.6 321.1,578.5 325.1,574.1 329.0,571.0 333.0,568.8 336.9,566.9 340.9,565.4 344.9,564.1 352.8,562.0 360.7,560.3 368.6,558.9 380.5,557.2 392.4,555.8 408.2,554.2 424.0,552.9 443.8,551.5 463.6,550.4 487.4,549.2 511.1,548.2"/>
<polyline points="317.2,581.2 321.1,575.4 325.1,570.3 329.0,567.0 333.0,564.6 336.9,562.6 340.9,561.1 344.9,559.7 352.8,557.6 360.7,555.9 368.6,554.5 380.5,552.8 392.4,551.5 408.2,550.0 424.0,548.8 443.8,547.6 463.6,546.5 487.4,545.5 511.1,544.6"/>
<polyline points="317.2,585.2 321.1,579.6 325.1,575.1 329.0,572.0 333.0,569.7 336.9,567.8 340.9,566.3 344.9,565.0 352.8,562.8 360.7,561.0 368.6,559.6 380.5,557.8 392.4,556.3 408.2,554.7 424.0,553.3 443.8,551.9 463.6,550.7 487.4,549.4 511.1,548.4"/>
<polyline points="317.2,579.5 321.1,572.6 325.1,567.9 329.0,564.7 333.0,562.4 336.9,560.5 340.9,559.0 344.9,557.7 352.8,555.7 360.7,554.0 368.6,552.7 380.5,551.1 392.4,549.8 408.2,548.3 424.0,547.1 443.8,545.9 463.6,544.9 487.4,543.9 511.1,543.0"/>
<polyline points="317.2,584.8 321.1,580.1 325.1,576.0 329.0,573.1 333.0,570.8 336.9,569.0 340.9,567.5 344.9,566.2 352.8,564.1 360.7,562.3 368.6,560.9 380.5,559.0 392.4,557.5 408.2,555.9 424.0,554.4 443.8,552.9 463.6,551.7 487.4,550.4 511.1,549.2"/>
<polyline points="317.2,583.5 321.1,578.1 325.1,573.5 329.0,570.4 333.0,568.0 336.9,566.2 340.9,564.6 344.9,563.3 352.8,561.1 360.7,559.4 368.6,557.9 380.5,556.2 392.4,554.7 408.2,553.1 424.0,551.8 443.8,550.4 463.6,549.2 487.4,548.0 511.1,547.0"/>
<polyline points="317.2,584.2 321.1,579.6 325.1,575.3 329.0,572.3 333.0,570.1 336.9,568.3 340.9,566.8 344.9,565.5 352.8,563.3 360.7,561.6 368.6,560.2 380.5,558.5 392.4,557.0 408.2,555.4 424.0,554.1 443.8,552.6 463.6,551.5 487.4,550.2 511.1,549.2"/>
<polyline points="317.2,584.1 321.1,578.8 325.1,574.4 329.0,571.3 333.0,569.0 336.9,567.1 340.9,565.6 344.9,564.3 352.8,562.0 360.7,560.3 368.6,558.8 380.5,556.9 392.4,555.4 408.2,553.7 424.0,552.3 443.8,550.8 463.6,549.6 487.4,548.3 511.1,547.2"/>
<polyline points="317.2,583.2 321.1,577.8 325.1,573.6 329.0,570.7 333.0,568.5 336.9,566.7 340.9,565.3 344.9,564.0 352.8,561.9 360.7,560.2 368.6,558.7 380.5,557.0 392.4,555.5 408.2,553.9 424.0,552.5 443.8,551.1 463.6,549.8 487.4,548.6 511.1,547.5"/>
<polyline points="317.2,580.8 321.1,575.2 325.1,570.4 329.0,567.2 333.0,564.8 336.9,562.9 340.9,561.4 344.9,560.0 352.8,557.9 360.7,556.2 368.6,554.8 380.5,553.1 392.4,551.7 408.2,550.2 424.0,549.0 443.8,547.7 463.6,546.6 487.4,545.5 511.1,544.6"/>
<polyline points="317.2,584.8 321.1,580.2 325.1,575.9 329.0,573.0 333.0,570.7 336.9,568.9 340.9,567.4 344.9,566.0 352.8,563.9 360.7,562.2 368.6,560.7 380.5,558.9 392.4,557.4 408.2,555.7 424.0,554.4 443.8,552.9 463.6,551.7 487.4,550.4 511.1,549.3"/>
<polyline points="317.2,579.2 321.1,572.8 325.1,567.9 329.0,564.7 333.0,562.3 336.9,560.4 340.9,558.9 344.9,557.6 352.8,555.5 360.7,553.9 368.6,552.5 380.5,550.9 392.4,549.6 408.2,548.2 424.0,547.0 443.8,545.8 463.6,544.8 487.4,543.8 511.1,542.9"/>
<polyline points="317.2,584.0 321.1,579.2 325.1,574.8 329.0,571.7 333.0,569.4 336.9,567.5 340.9,566.0 344.9,564.7 352.8,562.5 360.7,560.7 368.6,559.3 380.5,557.4 392.4,555.9 408.2,554.3 424.0,552.9 443.8,551.5 463.6,550.2 487.4,549.0 511.1,547.9"/>
<polyline points="317.2,579.4 321.1,572.8 325.1,567.6 329.0,564.2 333.0,561.8 336.9,559.9 340.9,558.3 344.9,557.0 352.8,554.9 360.7,553.3 368.6,552.0 380.5,550.4 392.4,549.1 408.2,547.7 424.0,546.6 443.8,545.4 463.6,544.5 487.4,543.5 511.1,542.7"/>
<polyline points="317.2,582.7 321.1,576.4 325.1,571.7 329.0,568.6 333.0,566.2 336.9,564.3 340.9,562.8 344.9,561.4 352.8,559.3 360.7,557.6 368.6,556.2 380.5,554.4 392.4,553.0 408.2,551.5 424.0,550.2 443.8,548.9 463.6,547.7 487.4,546.6 511.1,545.6"/>
<polyline points="317.2,583.7 321.1,577.8 325.1,573.0 329.0,569.8 333.0,567.4 336.9,565.5 340.9,563.9 344.9,562.5 352.8,560.4 360.7,558.6 368.6,557.2 380.5,555.4 392.4,554.0 408.2,552.5 424.0,551.2 443.8,549.8 463.6,548.7 487.4,547.6 511.1,546.6"/>
<polyline points="317.2,582.8 321.1,576.8 325.1,572.4 329.0,569.3 333.0,567.0 336.9,565.1 340.9,563.6 344.9,562.3 352.8,560.1 360.7,558.4 368.6,556.9 380.5,555.1 392.4,553.7 408.2,552.1 424.0,550.7 443.8,549.3 463.6,548.1 487.4,546.9 511.1,545.8"/>
<polyline points="317.2,583.9 321.1,578.4 325.1,573.8 329.0,570.6 333.0,568.3 336.9,566.4 340.9,564.8 344.9,563.5 352.8,561.3 360.7,559.6 368.6,558.1 380.5,556.4 392.4,554.9 408.2,553.3 424.0,552.0 443.8,550.6 463.6,549.4 487.4,548.2 511.1,547.2"/>
<polyline points="317.2,582.7 321.1,577.1 325.1,572.6 329.0,569.4 333.0,567.1 336.9,565.2 340.9,563.6 344.9,562.3 352.8,560.1 360.7,558.3 368.6,556.8 380.5,555.0 392.4,553.5 408.2,551.9 424.0,550.6 443.8,549.1 463.6,547.9 487.4,546.7 511.1,545.6"/>
<polyline points="317.2,581.3 321.1,575.7 325.1,571.0 329.0,567.9 333.0,565.6 336.9,563.8 340.9,562.3 344.9,561.0 352.8,558.9 360.7,557.3 368.6,555.9 380.5,554.3 392.4,552.9 408.2,551.5 424.0,550.3 443.8,549.0 463.6,548.0 487.4,546.9 511.1,546.0"/>
<polyline points="317.2,585.9 321.1,580.8 325.1,576.6 329.0,573.6 333.0,571.4 336.9,569.5 340.9,568.0 344.9,566.7 352.8,564.4 360.7,562.7 368.6,561.1 380.5,559.3 392.4,557.7 408.2,555.9 424.0,554.5 443.8,552.9 463.6,551.6 487.4,550.2 511.1,549.0"/>
<polyline points="317.2,582.9 321.1,578.1 325.1,573.4 329.0,570.2 333.0,567.9 336.9,566.0 340.9,564.4 344.9,563.1 352.8,561.0 360.7,559.3 368.6,557.9 380.5,556.1 392.4,554.7 408.2,553.1 424.0,551.9 443.8,550.5 463.6,549.4 487.4,548.3 511.1,547.3"/>
<polyline points="317.2,587.3 321.1,582.1 325.1,577.6 329.0,574.6 333.0,572.4 336.9,570.7 340.9,569.3 344.9,568.1 352.8,566.2 360.7,564.7 368.6,563.4 380.5,561.9 392.4,560.7 408.2,559.4 424.0,558.4 443.8,557.3 463.6,556.3 487.4,555.4 511.1,554.6"/>
<polyline points="317.2,586.5 321.1,581.1 325.1,576.4 329.0,573.2 333.0,570.9 336.9,569.1 340.9,567.7 344.9,566.4 352.8,564.4 360.7,562.8 368.6,561.6 380.5,560.0 392.4,558.7 408.2,557.4 424.0,556.2 443.8,555.1 463.6,554.1 487.4,553.2 511.1,552.3"/>
</g>
<g fill="#1c1010">
<circle cx="317.16" cy="585.02" r="1.6"/>
<circle cx="321.12" cy="578.95" r="1.6"/>
<circle cx="325.07" cy="573.84" r="1.6"/>
<circle cx="329.03" cy="570.45" r="1.6"/>
<circle cx="332.99" cy="567.95" r="1.6"/>
<circle cx="336.95" cy="566.00" r="1.6"/>
<circle cx="340.91" cy="564.40" r="1.6"/>
<circle cx="344.86" cy="563.05" r="1.6"/>
<circle cx="348.82" cy="561.89" r="1.6"/>
<circle cx="352.78" cy="560.88" r="1.6"/>
<circle cx="356.74" cy="559.98" r="1.6"/>
<circle cx="360.70" cy="559.17" r="1.6"/>
<circle cx="364.65" cy="558.45" r="1.6"/>
<circle cx="368.61" cy="557.78" r="1.6"/>
<circle cx="372.57" cy="557.17" r="1.6"/>
<circle cx="376.53" cy="556.61" r="1.6"/>
<circle cx="380.49" cy="556.09" r="1.6"/>
<circle cx="384.44" cy="555.60" r="1.6"/>
<circle cx="388.40" cy="555.14" r="1.6"/>
<circle cx="392.36" cy="554.72" r="1.6"/>
<circle cx="396.32" cy="554.32" r="1.6"/>
<circle cx="400.28" cy="553.94" r="1.6"/>
<circle cx="404.23" cy="553.58" r="1.6"/>
<circle cx="408.19" cy="553.23" r="1.6"/>
<circle cx="412.15" cy="552.91" r="1.6"/>
<circle cx="416.11" cy="552.60" r="1.6"/>
<circle cx="420.07" cy="552.30" r="1.6"/>
<circle cx="424.02" cy="552.02" r="1.6"/>
<circle cx="427.98" cy="551.75" r="1.6"/>
<circle cx="431.94" cy="551.49" r="1.6"/>
<circle cx="435.90" cy="551.24" r="1.6"/>
<circle cx="439.86" cy="551.00" r="1.6"/>
<circle cx="443.81" cy="550.77" r="1.6"/>
<circle cx="447.77" cy="550.55" r="1.6"/>
<circle cx="451.73" cy="550.33" r="1.6"/>
<circle cx="455.69" cy="550.12" r="1.6"/>
<circle cx="459.65" cy="549.92" r="1.6"/>
<circle cx="463.60" cy="549.73" r="1.6"/>
<circle cx="467.56" cy="549.54" r="1.6"/>
<circle cx="471.52" cy="549.35" r="1.6"/>
<circle cx="475.48" cy="549.18" r="1.6"/>
<circle cx="479.44" cy="549.00" r="1.6"/>
<circle cx="483.39" cy="548.84" r="1.6"/>
<circle cx="487.35" cy="548.67" r="1.6"/>
<circle cx="491.31" cy="548.51" r="1.6"/>
<circle cx="495.27" cy="548.36" r="1.6"/>
<circle cx="499.23" cy="548.21" r="1.6"/>
<circle cx="503.18" cy="548.06" r="1.6"/>
<circle cx="507.14" cy="547.92" r="1.6"/>
<circle cx="511.10" cy="547.78" r="1.6"/>
</g>
<g stroke="#403232" stroke-width="1" fill="none">
<line x1="313.2" y1="442.90" x2="313.2" y2="597.90"/>
<line x1="310.20" y1="594.9" x2="511.10" y2="594.9"/>
<line x1="310.20" y1="556.90" x2="313.2" y2="556.90"/>
<line x1="310.20" y1="518.90" x2="313.2" y2="518.90"/>
<line x1="310.20" y1="480.90" x2="313.2" y2="480.90"/>
<line x1="310.20" y1="442.90" x2="313.2" y2="442.90"/>
<line x1="352.78" y1="594.9" x2="352.78" y2="597.90"/>
<line x1="392.36" y1="594.9" x2="392.36" y2="597.90"/>
<line x1="431.94" y1="594.9" x2="431.94" y2="597.90"/>
<line x1="471.52" y1="594.9" x2="471.52" y2="597.90"/>
<line x1="511.10" y1="594.9" x2="511.10" y2="597.90"/>
</g>
<g font-family="Liberation Sans, Arial, sans-serif" font-size="10" fill="#111" stroke="#111" stroke-width="0.15">
<text x="305.30" y="598.50" text-anchor="end">0</text>
<text x="305.30" y="560.50" text-anchor="end">5</text>
<text x="305.30" y="522.50" text-anchor="end">10</text>
<text x="305.30" y="484.50" text-anchor="end">15</text>
<text x="305.30" y="446.50" text-anchor="end">20</text>
<text x="313.20" y="611.90" text-anchor="middle">0</text>
<text x="352.78" y="611.90" text-anchor="middle">10</text>
<text x="392.36" y="611.90" text-anchor="middle">20</text>
<text x="431.94" y="611.90" text-anchor="middle">30</text>
<text x="471.52" y="611.90" text-anchor="middle">40</text>
<text x="511.10" y="611.90" text-anchor="middle">50</text>
</g>
<g font-family="Liberation Sans, Arial, sans-serif" font-size="14" fill="#111" stroke="#111" stroke-width="0.25">
<text x="323.20" y="455.80" textLength="65.4" lengthAdjust="spacingAndGlyphs">Producer 8</text>
<text x="412.15" y="637.20" text-anchor="middle">Time</text>
<text transform="translate(279.90,518.90) rotate(-90)" text-anchor="middle">WWPR</text>
</g>
</svg>
</body></html>
